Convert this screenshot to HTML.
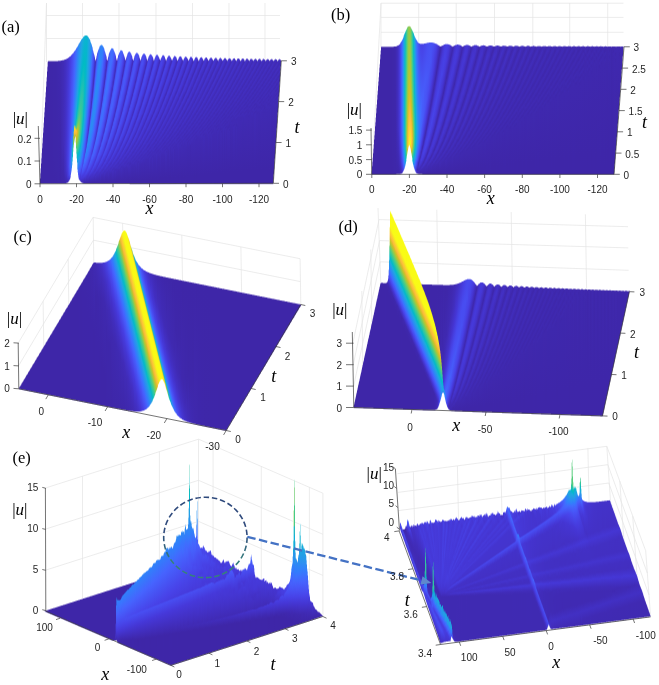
<!DOCTYPE html>
<html><head><meta charset="utf-8"><title>figure</title><style>html,body{margin:0;padding:0;background:#fff}
#f{position:relative;width:659px;height:685px;overflow:hidden;background:#fff}
#f svg{position:absolute;left:0;top:0}
.p{position:absolute;top:0;display:flex;align-items:flex-start}
.p i{flex:0 0 1px;width:1px;position:relative;display:block;background:linear-gradient(var(--g))}
text{font-family:"Liberation Sans",sans-serif;font-size:10px;fill:#262626}
.s{font-family:"Liberation Serif",serif;fill:#000}
.it{font-style:italic}
</style></head><body><div id="f">
<svg width="659" height="685" viewBox="0 0 659 685"><path d="M46.5 3.0L46.5 62.0M82.5 3.0L82.5 62.0M119.0 3.0L119.0 62.0M156.0 3.0L156.0 62.0M192.5 3.0L192.5 62.0M229.0 3.0L229.0 62.0M265.0 3.0L265.0 62.0M46.5 15.5L280.0 15.5M46.5 38.5L280.0 38.5M40.0 183.5L46.5 3.0M381.0 3.2L381.0 48.0M418.7 3.2L418.7 48.0M456.2 3.2L456.2 48.0M494.5 3.2L494.5 48.0M532.8 3.2L532.8 48.0M569.7 3.2L569.7 48.0M607.7 3.2L607.7 48.0M381.0 3.2L623.5 3.2M381.0 17.4L623.5 17.4M381.0 32.3L623.5 32.3M371.8 174.2L381.0 3.2M18.5 365.9L93.4 240.2M18.2 343.1L93.0 217.4M43.8 346.8L43.1 301.2M68.8 304.9L68.2 259.3M93.8 263.0L93.2 217.4M93.4 240.2L300.4 281.6M93.0 217.4L300.1 258.7M123.3 268.9L122.6 223.2M182.5 280.8L181.8 235.1M241.6 292.6L240.9 246.9M300.8 304.5L300.1 258.8M18.8 388.8L93.8 263.0M93.8 263.0L300.8 304.5M380.2 261.8L628.6 270.3M353.6 386.2L380.2 261.8M379.6 240.6L628.3 247.9M353.2 364.9L379.6 240.6M379.0 219.6L628.0 226.7M352.8 343.4L379.0 219.6M438.0 285.0L436.8 209.8M512.4 287.6L511.2 212.0M586.6 290.2L585.4 214.3M380.8 283.0L378.0 208.0M362.8 366.0L361.8 291.0M371.8 324.5L370.8 249.5M353.8 407.5L380.8 283.0M380.8 283.0L629.4 291.7M45.8 570.1L198.5 521.4M198.5 521.4L322.9 575.4M45.8 529.0L198.5 480.3M198.5 480.3L322.9 534.3M45.8 487.9L198.5 439.2M198.5 439.2L322.9 493.2M82.5 599.4L82.5 476.1M121.3 587.1L121.3 463.8M159.4 575.0L159.4 451.7M198.5 562.5L198.5 439.2M213.1 568.8L213.1 445.5M261.3 589.8L261.3 466.5M309.4 610.6L309.4 487.3M322.9 616.5L322.9 493.2M45.8 611.2L198.5 562.5M198.5 562.5L322.9 616.5M398.5 510.6L608.8 483.0M398.0 492.4L607.8 464.7M397.5 473.7L606.8 446.3M414.6 528.7L413.4 472.2M458.6 522.6L457.4 466.1M502.0 516.5L500.8 460.0M545.5 510.5L544.3 454.0M589.1 504.4L587.9 447.9M610.5 501.4L606.8 446.3M608.8 483.0L649.0 595.0M607.8 464.7L647.3 573.0M606.8 446.3L645.7 550.8M650.6 616.9L645.7 550.8M637.2 578.4L632.7 516.0M623.9 539.9L619.8 481.1M399.1 530.9L610.5 501.4M610.5 501.4L650.6 616.9" stroke="#e4e4e4" stroke-width="0.7" fill="none"/></svg>
<div class="p" style="left:40px"><i style="top:167px;height:17px;--g:#fff 0,#eae7f5 1px,#bfb7e2 2px,#bfb7e2 5px,#a99fd8 6px,#7e6ec5 7px,#7e6ec5 11px,#3e26a8 12px,#3e26a8 16px,#fff 17px"></i><i style="top:152px;height:32px;--g:#fff 0,#d4cfec 1px,#bfb7e2 2px,#bfb7e2 5px,#a99fd8 6px,#7e6ec5 7px,#7e6ec5 11px,#3e26a8 12px,#3e26a8 31px,#fff 32px"></i><i style="top:137px;height:47px;--g:#fff 0,#d4cfec 1px,#bfb7e2 2px,#bfb7e2 5px,#a99fd8 6px,#7e6ec5 7px,#7e6ec5 10px,#6956bb 11px,#3e26a8 12px,#3e26a8 17px,#3e26a8 46px,#fff 47px"></i><i style="top:122px;height:62px;--g:#fff 0,#d4cfec 1px,#bfb7e2 2px,#bfb7e2 5px,#9486cf 6px,#7e6ec5 7px,#7e6ec5 10px,#533eb2 11px,#3e26a8 12px,#3e26a8 13px,#3e26a8 61px,#fff 62px"></i><i style="top:107px;height:77px;--g:#fff 0,#bfb7e2 1px,#bfb7e2 4px,#a99fd8 5px,#7e6ec5 6px,#7e6ec5 9px,#6956bb 10px,#3e26a8 11px,#3e26a8 19px,#3e26a8 76px,#fff 77px"></i><i style="top:91px;height:93px;--g:#fff 0,#eae7f5 1px,#bfb7e2 2px,#bfb7e2 5px,#a99fd8 6px,#7e6ec5 7px,#7e6ec5 10px,#6956bb 11px,#3e26a8 12px,#3e26a8 28px,#3e26a8 92px,#fff 93px"></i><i style="top:76px;height:108px;--g:#fff 0,#eae7f5 1px,#bfb7e2 2px,#bfb7e2 5px,#7e6ec6 6px,#7e6ec5 10px,#533eb2 11px,#3e26a8 12px,#3e26a8 20px,#3e26a8 107px,#fff 108px"></i><i style="top:61px;height:123px;--g:#fff 0,#d4cfec 1px,#bfb7e2 2px,#bfb7e2 5px,#9486cf 6px,#7e6ec6 7px,#7e6ec6 10px,#3e26a9 11px,#3e26a9 14px,#3e26a8 122px,#fff 123px"></i><i style="top:60px;height:124px;--g:#fff 0,#bfb7e2 1px,#3e26a9 2px,#3e26a8 123px,#fff 124px"></i><i style="top:60px;height:124px;--g:#fff 0,#bfb7e2 1px,#3e26a9 2px,#3e26a8 123px,#fff 124px"></i><i style="top:60px;height:124px;--g:#fff 0,#bfb7e2 1px,#3e27a9 2px,#3e26a9 37px,#3e26a8 123px,#fff 124px"></i><i style="top:60px;height:124px;--g:#fff 0,#bfb7e2 1px,#3e27a9 2px,#3e26a9 55px,#3e26a8 123px,#fff 124px"></i><i style="top:60px;height:124px;--g:#fff 0,#bfb7e2 1px,#3e27a9 2px,#3e26a9 72px,#3e26a8 123px,#fff 124px"></i><i style="top:60px;height:124px;--g:#fff 0,#bfb7e3 1px,#3e27aa 2px,#3e27a9 86px,#3e26a8 123px,#fff 124px"></i><i style="top:60px;height:124px;--g:#fff 0,#bfb7e3 1px,#3e27aa 2px,#3e27a9 97px,#3e26a8 123px,#fff 124px"></i><i style="top:60px;height:124px;--g:#fff 0,#bfb7e3 1px,#3e27aa 2px,#3e27a9 105px,#3e26a8 123px,#fff 124px"></i><i style="top:60px;height:124px;--g:#fff 0,#bfb7e3 1px,#3e27ab 2px,#3e27a9 112px,#3e26a8 123px,#fff 124px"></i><i style="top:60px;height:124px;--g:#fff 0,#bfb7e3 1px,#3e28ac 2px,#3e27a9 118px,#3e26a8 123px,#fff 124px"></i><i style="top:60px;height:124px;--g:#fff 0,#7f70c8 1px,#3f28ad 2px,#3e27aa 121px,#3e26a8 123px,#fff 124px"></i><i style="top:60px;height:124px;--g:#fff 0,#7f70c9 1px,#3f28ae 2px,#3e26a9 123px,#fff 124px"></i><i style="top:60px;height:124px;--g:#fff 0,#6a59c1 1px,#3f29b0 2px,#3e26a9 123px,#fff 124px"></i><i style="top:60px;height:124px;--g:#fff 0,#3f2ab2 1px,#3f29b1 83px,#3e27a9 123px,#fff 124px"></i><i style="top:59px;height:125px;--g:#fff 0,#d5d0ef 1px,#402bb4 2px,#402bb4 90px,#3e27a9 124px,#fff 125px"></i><i style="top:59px;height:125px;--g:#fff 0,#bfb8e7 1px,#402bb7 2px,#412cba 80px,#3e27ab 123px,#3e27aa 124px,#fff 125px"></i><i style="top:59px;height:125px;--g:#fff 0,#6b5bca 1px,#412dbc 2px,#422ebf 91px,#402cb8 112px,#3e27aa 124px,#fff 125px"></i><i style="top:58px;height:126px;--g:#fff 0,#eae8f8 1px,#422ec0 2px,#4331c7 94px,#422ebe 116px,#3e28ac 125px,#fff 126px"></i><i style="top:58px;height:126px;--g:#fff 0,#968cdf 1px,#4331c5 2px,#4435d1 99px,#43c 113px,#3f2ab2 124px,#7f70ca 125px,#fff 126px"></i><i style="top:57px;height:127px;--g:#fff 0,#eae8f9 1px,#4433cb 2px,#463cde 106px,#4536d2 119px,#402bb5 125px,#d4d0ee 126px,#fff 127px"></i><i style="top:57px;height:126px;--g:#fff 0,#6e62dc 1px,#4435d2 2px,#4846eb 110px,#4740e3 118px,#4332c8 123px,#5746c8 124px,#c0b9e8 125px,#fff 126px"></i><i style="top:56px;height:126px;--g:#fff 0,#847ce7 1px,#4639da 2px,#4846ea 67px,#475af9 110px,#484ff2 118px,#4537d7 123px,#eae8f9 125px,#fff 126px"></i><i style="top:55px;height:125px;--g:#fff 0,#c2bff5 1px,#463ee1 2px,#4850f3 69px,#4562fc 93px,#3778fd 109px,#3e70ff 113px,#4755f6 119px,#7076f4 120px,#8585f2 121px,#8482f0 122px,#c1bff5 123px,#eaeafc 124px,#fff 125px"></i><i style="top:54px;height:120px;--g:#fff 0,#9998f3 1px,#4744e8 2px,#475ffc 73px,#357bfd 93px,#2796ec 103px,#2799ea 107px,#3081fa 113px,#488cfc 114px,#7ba3fe 115px,#7e9fff 116px,#aabdff 117px,#c1cafe 118px,#eaedff 119px,#fff 120px"></i><i style="top:53px;height:113px;--g:#fff 0,#8587f4 1px,#484bee 2px,#475cfb 47px,#3a74ff 75px,#2597ec 92px,#27a4da 94px,#31aec4 95px,#31aec4 96px,#1ab4c8 98px,#12bac2 101px,#06b6cc 102px,#08b5ce 103px,#26bcd6 104px,#5fcce2 105px,#6bc2ec 108px,#b5e0f6 109px,#b8dafa 111px,#d0e7fb 112px,#fff 113px"></i><i style="top:51px;height:102px;--g:#fff 0,#ebecfe 1px,#858cf8 2px,#4753f4 3px,#426aff 49px,#3080fb 68px,#2894ed 80px,#70a1b2 81px,#70a3b1 82px,#63a4aa 83px,#61a6a8 85px,#9eb169 86px,#9ab269 87px,#84b970 88px,#70bc7c 90px,#83c75e 91px,#82cb58 92px,#6fcb67 93px,#78d69c 94px,#8bdca9 95px,#83dcb1 96px,#ace8cb 97px,#bfedd9 98px,#b6ebe4 100px,#e7f8f6 101px,#fff 102px"></i><i style="top:50px;height:93px;--g:#fff 0,#c1c9fd 1px,#475bf9 2px,#4368fe 28px,#3678fd 46px,#3083f9 57px,#21a2e4 75px,#81be90 76px,#e0d43f 78px,#fad42e 79px,#fdc935 80px,#fbbc3a 83px,#cbc02e 86px,#b2c438 87px,#92c84e 88px,#b8db87 89px,#9edc9a 90px,#d3eec9 91px,#bdeddc 92px,#fff 93px"></i><i style="top:49px;height:95px;--g:#fff 0,#97aafe 1px,#4464fc 2px,#2e85f9 46px,#21a5e1 67px,#0cb4d0 74px,#0fb9c5 76px,#44c79a 77px,#65cc83 78px,#cfd543 80px,#fbd030 81px,#fdc337 83px,#e9c232 85px,#d5c034 86px,#bdc143 87px,#efd274 88px,#f7e8ba 89px,#f7e8ba 91px,#e0edbf 92px,#e0edbf 93px,#f5f9ea 94px,#fff 95px"></i><i style="top:47px;height:112px;--g:#fff 0,#a8c0ff 1px,#3e6efe 2px,#2c8bf4 38px,#1fa7e0 59px,#08b6cd 68px,#0bbbc0 71px,#1cc0b2 74px,#33c69d 77px,#55cc7b 80px,#96c84c 82px,#e5bf39 83px,#f9be3a 84px,#efba34 87px,#d2bf29 90px,#c1c32d 92px,#adc639 93px,#9dc944 95px,#8bca51 96px,#84cb56 98px,#61cb72 99px,#50cc80 100px,#50cc80 101px,#84dcb1 102px,#81dbb4 104px,#6ed7c7 105px,#6ad6ca 106px,#9ce3dc 107px,#b5eae5 108px,#afe5f1 111px,#fff 112px"></i><i style="top:45px;height:128px;--g:#fff 0,#e8f0ff 1px,#6198fd 2px,#347afc 3px,#22a3e4 48px,#04b9c9 63px,#25c3aa 71px,#41ca8e 76px,#63cc6f 79px,#9cc944 82px,#b5c533 83px,#c8c12b 84px,#dbbd2b 87px,#bcc32f 91px,#a5c83d 94px,#59cd77 100px,#24c2ac 107px,#14beb8 108px,#06b7ca 111px,#0eb2d4 113px,#22a1e5 117px,#6dbdf0 118px,#73b1f8 120px,#79a5fd 124px,#bcd2fe 125px,#c1cbfe 127px,#fff 128px"></i><i style="top:43px;height:137px;--g:#fff 0,#d0e5fd 1px,#74aefa 2px,#2e85f8 3px,#22a3e4 38px,#05b8cc 55px,#10bdbc 61px,#41ca90 73px,#5ccd75 77px,#95ca49 83px,#a8c73c 87px,#9cc944 92px,#79cc5e 95px,#41ca8d 102px,#24c2ae 107px,#07bbc1 110px,#07b6cd 112px,#13afd8 114px,#14aed9 116px,#2599e9 117px,#2a93ed 118px,#2a93ee 120px,#3081fb 123px,#4465fe 128px,#4758f7 131px,#5c66f5 132px,#858af7 133px,#8585f2 134px,#c2c1f7 135px,#d6d4f8 136px,#fff 137px"></i><i style="top:42px;height:139px;--g:#fff 0,#89c1f7 1px,#2b8ff0 2px,#1ea8e1 31px,#02b9c8 49px,#36c89a 67px,#71cc64 81px,#6dcc68 82px,#78cc60 85px,#71cc65 86px,#76cc61 89px,#60cc72 92px,#4dcb83 97px,#3fca8f 98px,#29c4a6 102px,#04b9ca 109px,#269de9 117px,#3775ff 124px,#485cfa 129px,#4746eb 133px,#4740e4 136px,#463bdb 137px,#9890e8 138px,#fff 139px"></i><i style="top:40px;height:143px;--g:#fff 0,#b7ddf7 1px,#3fa4ec 2px,#2699e9 3px,#1fa7e1 21px,#03b8ca 41px,#06bbc2 45px,#29c3aa 58px,#47cb86 75px,#51cb7f 83px,#4acb85 85px,#4dcb83 88px,#41c98e 90px,#3ac897 94px,#13beba 103px,#06b8c8 106px,#19acdc 110px,#2c8ef2 119px,#3a73fd 124px,#416afd 125px,#484ef2 131px,#463cdd 135px,#4434cf 140px,#6d60d5 141px,#eae8f8 142px,#fff 143px"></i><i style="top:38px;height:145px;--g:#fff 0,#ceebf9 1px,#3aabe7 2px,#22a1e5 3px,#18acdc 18px,#00b9c7 36px,#2cc4a6 58px,#39c895 77px,#30c5a1 87px,#23c2ad 93px,#12bdba 96px,#0abac3 100px,#06b7cc 102px,#15adda 105px,#23a1e4 111px,#3083f9 118px,#3e6eff 123px,#4855f7 129px,#4744e7 132px,#4745e9 136px,#4535d3 141px,#422fc0 143px,#5644c3 144px,#fff 145px"></i><i style="top:37px;height:147px;--g:#fff 0,#b4e2f5 1px,#1da8e0 2px,#00bac6 31px,#26c2ac 55px,#2cc4a6 65px,#25c2ac 79px,#10bdbc 87px,#0dbbbf 90px,#05bac9 92px,#259ee8 106px,#2e87f6 112px,#3b72fd 119px,#4269fe 120px,#4846eb 128px,#4657f6 132px,#484ff3 135px,#463adb 139px,#4538d7 141px,#402bb5 145px,#9488d4 146px,#fff 147px"></i><i style="top:36px;height:148px;--g:#fff 0,#63c9e6 1px,#16aeda 2px,#00bac5 27px,#18bfb6 47px,#1dc0b2 61px,#17bfb6 62px,#14beb8 70px,#08bbc2 77px,#08b9c5 81px,#04b8c9 82px,#1da7e0 94px,#2a92ef 103px,#347bfc 110px,#416bfd 115px,#465dfa 117px,#4749ec 124px,#4359f2 128px,#4366fd 129px,#484ef3 135px,#463bdd 139px,#463adb 141px,#3f2ab2 146px,#5440b6 147px,#fff 148px"></i><i style="top:35px;height:149px;--g:#fff 0,#79d4e8 1px,#0eb1d5 2px,#02bbc3 27px,#0bbdbd 53px,#04b8ca 68px,#12b0d8 78px,#1aabdd 81px,#2699ea 92px,#3776fe 105px,#475dfa 112px,#4745e8 120px,#4252ec 121px,#4153ec 122px,#3c71fd 125px,#406eff 127px,#4856f8 133px,#463ee1 138px,#463cdf 141px,#422dbc 145px,#3e27ab 148px,#fff 149px"></i><i style="top:35px;height:149px;--g:#fff 0,#0ab4d2 1px,#02b9c6 30px,#07b7cd 53px,#289bea 81px,#3479fd 95px,#416afe 100px,#465bf9 105px,#4843e7 113px,#463cdd 115px,#424be4 116px,#3f4fe2 117px,#3b63f0 118px,#317dfb 120px,#3e71ff 125px,#4953f6 132px,#463fe1 136px,#4740e5 139px,#3e27aa 148px,#fff 149px"></i><i style="top:35px;height:149px;--g:#fff 0,#09b4d1 1px,#06b6cd 20px,#10b1d6 43px,#259fe6 65px,#327efb 84px,#4367fe 92px,#4851f4 100px,#4539d7 109px,#4443df 110px,#3d4dda 111px,#3c53e0 112px,#3083fb 115px,#307ffa 119px,#3f6fff 123px,#4856f8 129px,#4640e3 134px,#4744e8 138px,#4535d1 141px,#3e27a9 148px,#fff 149px"></i><i style="top:35px;height:149px;--g:#fff 0,#93ddec 1px,#0eb1d5 2px,#0cb2d3 5px,#17aedb 29px,#249fe6 50px,#2d88f6 67px,#416aff 81px,#4947ec 95px,#4436d1 102px,#4436d0 103px,#4447e2 104px,#3d4ad7 105px,#356eec 108px,#3180f9 109px,#2f84f8 110px,#2e83f9 115px,#3f6eff 121px,#4953f6 127px,#463ee1 132px,#484aee 135px,#4747eb 136px,#4432cb 141px,#4331c7 143px,#3e27a9 148px,#fff 149px"></i><i style="top:36px;height:148px;--g:#fff 0,#cbedf7 1px,#31b6df 2px,#18addc 3px,#269be9 39px,#3084f8 56px,#317ffb 58px,#416aff 69px,#494bef 83px,#453bdb 90px,#4331c6 94px,#4538d3 95px,#4246dc 97px,#3578f9 101px,#2e87f6 103px,#2c87f7 109px,#416bff 118px,#4853f5 123px,#463ee1 128px,#484ff2 131px,#484df0 132px,#4741e5 135px,#4435d0 138px,#4433ca 141px,#3e26a9 147px,#fff 148px"></i><i style="top:38px;height:146px;--g:#fff 0,#82ceee 1px,#20a4e3 2px,#2b8ff2 33px,#4068ff 57px,#4562fc 59px,#484ef1 70px,#4744e7 73px,#473fe2 77px,#4435cf 80px,#4433cb 82px,#433acf 86px,#4440d9 87px,#3874fa 92px,#337efa 93px,#2d8bf3 97px,#2e84f9 105px,#426aff 112px,#4851f4 119px,#463bdd 123px,#4751f1 126px,#4851f5 128px,#4537d7 134px,#4537d4 137px,#4230c5 139px,#3e26a9 145px,#fff 146px"></i><i style="top:39px;height:145px;--g:#fff 0,#e7f4fc 1px,#86c7f3 3px,#2797ea 4px,#2f82fa 27px,#4565ff 45px,#483ee3 65px,#4230c5 73px,#4436ce 76px,#4548e3 79px,#4065fa 82px,#3180fb 86px,#2d8cf3 90px,#2d87f7 98px,#3f6cff 107px,#485bfa 111px,#4740e3 119px,#475af8 123px,#4846eb 128px,#4536d3 132px,#463bdd 134px,#4330c6 137px,#422fc1 139px,#3e26a9 144px,#fff 145px"></i><i style="top:43px;height:141px;--g:#fff 0,#a1ccf9 1px,#5ca4f6 2px,#2e87f6 3px,#3c72ff 20px,#4954f7 38px,#463ee1 50px,#4537d5 53px,#4435cf 57px,#422fc2 59px,#4332c8 62px,#4438d2 63px,#4437ce 64px,#464bea 67px,#3f6afc 71px,#317ffb 75px,#2d8bf3 80px,#2d8af5 87px,#347afd 94px,#4369fe 99px,#4759f9 104px,#473cdf 111px,#465cf9 115px,#465cfa 116px,#484bf0 121px,#4537d6 126px,#473fe2 128px,#4331c9 132px,#4230c3 134px,#3e26a8 140px,#fff 141px"></i><i style="top:46px;height:138px;--g:#fff 0,#7aa4fe 2px,#7da1fe 3px,#537ffe 4px,#3e6efe 5px,#4948ee 30px,#4333cc 43px,#422fc0 46px,#43c 51px,#455efb 58px,#2f85f9 66px,#2c8cf2 77px,#317ffc 84px,#4564fe 93px,#4846ec 102px,#4538d6 105px,#4562fc 109px,#485bfb 112px,#4637d9 121px,#4741e5 123px,#473fe2 124px,#4332ca 128px,#4331c6 130px,#3e26a8 137px,#fff 138px"></i><i style="top:50px;height:134px;--g:#fff 0,#8492fb 3px,#4758f7 4px,#463bdd 22px,#422fc1 30px,#422ec0 34px,#453fdb 40px,#4750f1 43px,#4266fc 47px,#327efc 53px,#2e88f5 57px,#2b8cf4 67px,#3b71ff 80px,#485cfa 86px,#4751f4 90px,#4638d8 97px,#4462fb 101px,#465ffc 105px,#4849ee 110px,#4537d6 115px,#4745e8 117px,#4743e6 118px,#4434cf 122px,#4433cd 124px,#3e26a8 133px,#fff 134px"></i><i style="top:54px;height:130px;--g:#fff 0,#c2c2f9 1px,#463cde 4px,#412dbc 17px,#4332c9 22px,#474ef0 29px,#4560fb 33px,#357afd 40px,#2d88f6 46px,#2d8bf3 55px,#3082fb 63px,#485dfc 77px,#4742e7 85px,#4537d4 89px,#4465fc 93px,#4561fc 98px,#4852f5 102px,#4638d8 108px,#4747eb 111px,#4745e9 112px,#4432cb 117px,#4536d2 119px,#422fc0 122px,#3e26a8 129px,#fff 130px"></i><i style="top:59px;height:125px;--g:#fff 0,#968bdc 1px,#5745c6 2px,#422ec0 3px,#4335cc 7px,#4743e5 11px,#4463fe 19px,#2f84fa 31px,#2c8cf3 40px,#3081fc 52px,#485dfc 66px,#4742e7 75px,#4434cf 79px,#4438d1 80px,#4367fd 84px,#4563fd 89px,#484cf1 96px,#453ada 100px,#4539d7 101px,#4749eb 103px,#4848ed 105px,#4432cc 111px,#4537d5 113px,#412ebe 116px,#4230c3 117px,#3e26a8 124px,#fff 125px"></i><i style="top:55px;height:129px;--g:#fff 0,#c2c1f8 1px,#9997f2 2px,#8483f0 3px,#4642e3 4px,#4268ff 15px,#2d85f9 28px,#2c8bf4 38px,#327efc 50px,#485dfc 64px,#4746ea 72px,#4435ce 78px,#4437d0 79px,#4353e8 82px,#4464fd 83px,#416bfe 85px,#4466fd 89px,#484ff3 96px,#4539d8 102px,#484df0 105px,#484cef 106px,#4536d3 112px,#4435cf 113px,#4639da 115px,#4230c4 118px,#4230c3 120px,#3e26a8 128px,#fff 129px"></i><i style="top:51px;height:133px;--g:#fff 0,#4756f6 3px,#4268fe 10px,#3180fa 20px,#2c8af5 36px,#347bfd 48px,#475efc 61px,#4745e9 70px,#4432cc 77px,#4351e6 81px,#4463fb 82px,#406efe 85px,#475dfc 93px,#4638db 103px,#484ff1 106px,#484ff2 107px,#4847eb 110px,#4433cf 115px,#463cde 117px,#4330c7 121px,#4230c5 123px,#3e26a8 132px,#fff 133px"></i><i style="top:48px;height:136px;--g:#fff 0,#d5deff 1px,#819bfe 2px,#4268fd 3px,#3579fd 11px,#2d89f6 23px,#2f82fa 39px,#3f6dff 50px,#4856f7 60px,#4743e7 67px,#4331c8 75px,#443fd6 77px,#4462fb 80px,#3f70ff 84px,#4856f8 95px,#4537d5 103px,#453cd9 104px,#4851f3 106px,#4852f4 107px,#4847ec 111px,#4434cf 116px,#473fe3 118px,#4333cb 122px,#4332ca 124px,#3e26a8 135px,#fff 136px"></i><i style="top:45px;height:139px;--g:#fff 0,#e8f0ff 1px,#8fb5fe 2px,#3778fd 4px,#357afc 5px,#2d88f6 21px,#337efd 36px,#4a57f9 56px,#4641e5 64px,#4330c7 72px,#443cd3 74px,#455df9 77px,#3f6fff 81px,#4367fe 88px,#4851f4 95px,#4745ea 99px,#4435d0 103px,#453ad6 104px,#4751f0 106px,#4854f6 108px,#4846eb 112px,#4434cf 117px,#4741e6 119px,#4432cb 124px,#4435cf 126px,#422ebf 129px,#3e26a8 138px,#fff 139px"></i><i style="top:44px;height:140px;--g:#fff 0,#e8f1fe 1px,#488efa 2px,#3080fa 3px,#2d86f9 21px,#4563ff 44px,#4841e6 58px,#422dc1 67px,#4657f4 72px,#4367fe 74px,#3f6efe 77px,#406dff 82px,#4856f8 91px,#4637d9 100px,#453cd6 102px,#4753f5 104px,#4756f6 105px,#4847ec 111px,#4436d2 115px,#4437d3 116px,#4742e6 118px,#4741e5 119px,#4332ca 124px,#4536d3 126px,#422ebf 129px,#4230c3 130px,#3e26a8 139px,#fff 140px"></i><i style="top:44px;height:140px;--g:#fff 0,#8bbbfb 1px,#2f84f9 2px,#337cfd 20px,#485efd 38px,#463cdf 53px,#4230c4 59px,#4336cd 62px,#464eec 65px,#4562fc 67px,#3d71ff 73px,#4466fd 81px,#494ff4 89px,#4433d0 97px,#4751f0 100px,#4758f9 103px,#4742e6 110px,#4434cf 113px,#4745e9 116px,#463de0 119px,#4332c9 122px,#4538d6 124px,#4230c4 127px,#4230c5 129px,#412cb9 131px,#3e26a8 139px,#fff 140px"></i><i style="top:44px;height:140px;--g:#fff 0,#e8f1fe 1px,#5e9dfb 2px,#3081fa 3px,#3876fe 15px,#426afe 22px,#4857f8 33px,#463bdd 46px,#422ec0 52px,#4438d1 56px,#465cfa 60px,#3d71ff 67px,#4269fe 75px,#4854f6 83px,#473ee1 90px,#4333c9 94px,#4654f1 97px,#475afa 99px,#4844e9 107px,#4436d1 111px,#4747ec 114px,#473ee2 117px,#4433cb 120px,#4332c9 121px,#4539d8 123px,#422fc2 126px,#4331c5 128px,#402bb6 132px,#3e26a8 139px,#fff 140px"></i><i style="top:46px;height:138px;--g:#fff 0,#4c87fd 2px,#3974fd 3px,#4950f5 26px,#4433d0 40px,#412dbb 43px,#4231c5 45px,#4438d2 47px,#4758f8 51px,#3e71ff 59px,#3f6efe 65px,#475dfa 73px,#4846ec 81px,#4432cc 87px,#4759f8 92px,#475bfa 94px,#4847ec 101px,#4437d4 106px,#4539d5 107px,#4748ec 109px,#4747eb 110px,#4431ca 117px,#463adb 119px,#422fc2 123px,#4332c9 125px,#412ebd 127px,#3e26a8 137px,#fff 138px"></i><i style="top:48px;height:136px;--g:#fff 0,#bfceff 1px,#abbcfe 2px,#6d87fd 3px,#4463fc 4px,#4849ed 19px,#463cdd 25px,#412dbe 34px,#4231c4 36px,#4645e3 40px,#4857f7 42px,#3e70ff 50px,#3f70ff 57px,#4950f5 71px,#4432cf 81px,#443bd2 83px,#475afa 86px,#475af9 90px,#4743e9 97px,#4434ce 102px,#4747e9 104px,#4749ed 106px,#463ddf 110px,#4330c5 113px,#463cde 115px,#4331c6 119px,#4333cc 121px,#412dbd 124px,#422fc1 125px,#3e26a8 135px,#fff 136px"></i><i style="top:51px;height:133px;--g:#fff 0,#ebecfe 1px,#adb4fb 2px,#858df8 3px,#4850f2 4px,#4744e8 10px,#463dde 12px,#4538d6 17px,#4331c5 19px,#422fc0 24px,#4230c2 26px,#4439d1 27px,#4439d0 28px,#4644e2 29px,#4759f9 33px,#3f6efe 40px,#3f70ff 48px,#4856f7 61px,#463ee2 69px,#4230c4 74px,#453ed8 76px,#4758f6 78px,#465efb 82px,#4848ed 90px,#4432cc 96px,#484bef 99px,#484aee 100px,#4743e8 103px,#4333cb 108px,#463ddf 111px,#4330c6 115px,#4435d0 117px,#422ebe 120px,#422fc2 121px,#402ab4 125px,#3e26a8 132px,#fff 133px"></i><i style="top:55px;height:129px;--g:#fff 0,#c2c0f7 1px,#9893ec 2px,#837be6 3px,#837ae4 4px,#4435cf 5px,#412dbb 11px,#4435cd 15px,#474aec 19px,#4754f5 21px,#4269fe 27px,#3c73ff 34px,#475bfa 50px,#4742e7 58px,#4330c6 66px,#464be6 69px,#4759f8 70px,#465ffc 74px,#4845ea 84px,#4331c9 89px,#484bee 92px,#484cf0 94px,#463de0 99px,#4331c7 102px,#4740e5 104px,#4332c9 109px,#4536d3 111px,#4230c4 114px,#4230c3 116px,#412cba 118px,#3e26a8 128px,#fff 129px"></i><i style="top:58px;height:126px;--g:#fff 0,#aca5ea 2px,#4333c8 3px,#4856f9 11px,#4269fd 17px,#3d71fe 26px,#4368fe 34px,#484df2 46px,#4535d4 55px,#4230c4 57px,#4230c3 58px,#4547e1 61px,#4756f6 62px,#4660fb 66px,#4852f5 73px,#4536d5 82px,#453bd6 84px,#484cee 86px,#484ef1 88px,#473ee2 93px,#4332ca 97px,#4741e6 99px,#4331c8 105px,#4537d6 107px,#4230c3 110px,#4331c6 112px,#412dbb 114px,#3e26a8 125px,#fff 126px"></i><i style="top:53px;height:131px;--g:#fff 0,#ebebfd 1px,#c2c2f9 2px,#adaef7 3px,#7072f0 4px,#4749eb 5px,#426aff 15px,#3d71fe 26px,#475efb 38px,#484bef 46px,#4538d7 54px,#422ec0 57px,#453dd7 60px,#4753f3 62px,#465dfa 64px,#465ffb 69px,#484aef 77px,#4431cb 85px,#484ff2 88px,#484ff2 90px,#463ee1 96px,#4434ce 99px,#4436d0 100px,#4843e9 102px,#4331c9 108px,#4538d8 110px,#422fc0 114px,#4332c9 115px,#412dbc 118px,#422ebf 119px,#3e26a8 130px,#fff 131px"></i><i style="top:51px;height:133px;--g:#fff 0,#c2c8fd 1px,#707bf8 2px,#4757f6 3px,#406bfe 11px,#3f71ff 22px,#494ff3 41px,#463ddf 48px,#422ec0 54px,#4547e3 58px,#4751f2 59px,#465ffb 62px,#465cfa 69px,#484aee 75px,#463ddf 80px,#4331c7 83px,#443bd4 85px,#484ff1 87px,#4850f4 89px,#463cde 96px,#4332ca 99px,#4744e9 102px,#4332c7 109px,#4538d7 110px,#4539d8 111px,#4230c3 114px,#4332c9 116px,#402cb8 122px,#3e26a8 132px,#fff 133px"></i><i style="top:49px;height:135px;--g:#fff 0,#5876fd 2px,#4366fd 3px,#3f70ff 18px,#4953f6 35px,#463fe3 43px,#4536d3 46px,#422fc2 51px,#453ed9 54px,#4752f4 56px,#465efa 59px,#465ffb 65px,#484bf0 73px,#4432cc 82px,#4541de 84px,#484df0 85px,#4853f4 87px,#4849ee 91px,#4432cc 99px,#4845eb 102px,#4330c8 109px,#463bdd 111px,#422ec1 115px,#43c 117px,#412dbc 120px,#422fc2 121px,#402bb4 125px,#3e26a8 134px,#fff 135px"></i><i style="top:47px;height:137px;--g:#fff 0,#eaefff 1px,#557dfe 2px,#406dfe 3px,#406eff 14px,#4950f3 32px,#463ee0 40px,#4537d5 41px,#4230c3 47px,#4333c9 49px,#4854f6 53px,#465efa 56px,#4661fd 61px,#4849ed 72px,#463fe2 75px,#4331c6 80px,#4334cb 81px,#4850f2 84px,#4852f4 87px,#4745ea 92px,#4331c8 98px,#4745e9 101px,#4744e8 102px,#4331c8 109px,#463bdd 111px,#422fc1 116px,#4434cd 118px,#412ebd 121px,#4330c4 122px,#402bb6 126px,#3e26a8 136px,#fff 137px"></i><i style="top:47px;height:137px;--g:#fff 0,#eaefff 1px,#3f6efe 2px,#4465fe 13px,#484df1 26px,#463ee1 33px,#4537d4 35px,#4230c2 42px,#4232c6 43px,#4850f3 47px,#465ffb 51px,#4661fc 57px,#484ef1 66px,#463bdd 72px,#4332c8 76px,#4438cf 78px,#474ff1 80px,#4854f5 83px,#4743e8 90px,#4330c8 95px,#4745e9 98px,#4746e9 99px,#473fe3 102px,#4331c7 107px,#463ddf 109px,#4331c6 114px,#4536d3 116px,#422fc0 119px,#4330c4 121px,#402cb8 123px,#422ebe 124px,#3e26a8 136px,#fff 137px"></i><i style="top:48px;height:136px;--g:#fff 0,#4468ff 3px,#484cf0 19px,#463cdd 26px,#422dbe 34px,#4332c7 36px,#484ef0 40px,#4660fc 45px,#4562fd 49px,#4854f5 58px,#4743e8 64px,#4331c6 71px,#4332c7 72px,#474ef0 75px,#4855f6 79px,#4742e7 86px,#4332c8 91px,#4333c9 92px,#4745e9 94px,#4747eb 95px,#473ee2 99px,#4331c6 104px,#463ee1 106px,#4331c6 111px,#4331c8 112px,#4536d4 113px,#412fc0 117px,#4331c8 118px,#412cb8 121px,#422ebe 122px,#3e26a9 134px,#3e26a8 135px,#fff 136px"></i><i style="top:50px;height:134px;--g:#fff 0,#eaedfe 1px,#98a4fc 2px,#5b6cf9 3px,#4758f7 4px,#463bde 18px,#4435d1 20px,#412dbc 26px,#4232c6 28px,#4640de 30px,#4751f3 33px,#465bf9 35px,#4564fe 42px,#484bef 55px,#4639da 61px,#4231c5 65px,#4338ce 67px,#474ef0 69px,#4756f6 73px,#484aef 78px,#4333cd 86px,#4334cc 87px,#4848ec 90px,#4748ec 91px,#473ee1 95px,#4332c8 99px,#4333ca 100px,#473fe3 102px,#4330c5 108px,#4538d7 110px,#422fc2 113px,#4332c8 115px,#412ebd 118px,#3e26a9 132px,#3e26a8 133px,#fff 134px"></i><i style="top:53px;height:131px;--g:#fff 0,#c2c4fa 1px,#999bf6 2px,#5c59eb 3px,#4741e4 4px,#463cdd 8px,#43c 11px,#422fc1 15px,#422fc1 18px,#4746e8 22px,#4852f4 24px,#4660fb 29px,#4562fc 35px,#4853f5 44px,#4742e6 50px,#463ada 54px,#4433cd 55px,#422ec0 58px,#474def 62px,#4757f8 66px,#4844e9 74px,#4432ca 80px,#4333ca 81px,#4745e7 83px,#484bef 85px,#4740e4 89px,#4330c7 94px,#4740e4 97px,#4330c6 103px,#4538d8 105px,#4230c3 109px,#4433cb 111px,#422ebe 113px,#422fc1 115px,#402bb7 117px,#412dbb 118px,#3e26a8 129px,#3e26a8 130px,#fff 131px"></i><i style="top:57px;height:127px;--g:#fff 0,#eae9fa 1px,#aca5e9 2px,#8276da 3px,#422ebf 4px,#412ebe 6px,#4331c6 8px,#4849ec 12px,#465cfa 17px,#4563fd 24px,#4855f6 34px,#4743e8 41px,#4330c6 49px,#4334c9 51px,#484ff2 54px,#4758f9 57px,#4741e6 68px,#4331c7 73px,#4333c9 74px,#484aee 77px,#484aee 78px,#4745ea 81px,#4330c7 88px,#4741e6 91px,#4330c6 97px,#4639da 100px,#412ebe 104px,#4433cb 105px,#4333cc 106px,#422ebf 108px,#4230c3 110px,#412cba 112px,#3e26a8 125px,#3e26a8 126px,#fff 127px"></i><i style="top:57px;height:127px;--g:#fff 0,#847ee9 2px,#6f68e4 3px,#4641e1 4px,#4853f5 8px,#4563fd 14px,#4759f8 27px,#4848ee 34px,#422dc1 45px,#453fda 48px,#474aec 49px,#4758f8 52px,#484df1 60px,#4331c7 70px,#4334ca 71px,#4747ea 73px,#484cef 75px,#4744e9 79px,#4331c7 85px,#4333c9 86px,#4741e5 88px,#4740e4 89px,#4330c6 95px,#463adb 98px,#422ec0 102px,#4230c2 103px,#4434cf 104px,#412ebe 107px,#4230c3 109px,#402bb6 114px,#3e26a8 125px,#3e26a8 126px,#fff 127px"></i><i style="top:53px;height:131px;--g:#fff 0,#d6d7fb 1px,#999af4 2px,#4749ec 3px,#475af9 8px,#4563fc 13px,#475cfb 24px,#473bdf 38px,#422ebf 44px,#4436cf 46px,#484ff1 49px,#4757f7 52px,#4856f7 56px,#4742e7 64px,#422ec2 71px,#4849ec 74px,#484df0 76px,#4742e7 81px,#4330c5 87px,#463fe1 89px,#4742e6 90px,#463cde 93px,#4331c6 97px,#4331c6 98px,#463bdd 100px,#422ebf 105px,#4435d0 107px,#412dbc 110px,#4230c4 112px,#412dbb 114px,#422ebf 115px,#402bb6 117px,#3e26a8 129px,#3e26a8 130px,#fff 131px"></i><i style="top:51px;height:133px;--g:#fff 0,#d6dafe 1px,#707cf8 2px,#4757f7 3px,#4564fd 13px,#4850f3 26px,#463cdf 34px,#422ec1 41px,#4335ca 43px,#484bef 46px,#4759f8 49px,#484ef2 58px,#4638d8 66px,#422dc0 69px,#4849ec 73px,#484ef1 75px,#4740e4 81px,#4230c4 86px,#4334ca 87px,#4743e6 89px,#4743e7 90px,#4331c7 97px,#4231c5 98px,#463cdf 100px,#422fc2 105px,#4230c4 106px,#4535d2 107px,#422ec0 110px,#4331c5 112px,#412dba 115px,#422fc0 116px,#402bb4 120px,#3e26a8 131px,#3e26a8 132px,#fff 133px"></i><i style="top:49px;height:135px;--g:#fff 0,#eaedff 1px,#6f83fc 2px,#4560fb 3px,#4562fd 10px,#4851f3 22px,#4742e6 28px,#4433ce 35px,#412ebd 38px,#4333c9 40px,#474df0 43px,#475af9 50px,#4846eb 59px,#4331c6 67px,#4332c7 68px,#4748eb 71px,#484ff3 74px,#473fe3 80px,#4332ca 85px,#4439d3 87px,#4743e6 88px,#4844ea 90px,#4330c5 97px,#463ddf 100px,#4230c4 105px,#4536d3 108px,#422fc1 111px,#4332c9 113px,#412dbb 116px,#422fc1 117px,#412cb9 119px,#3e26a8 133px,#3e26a8 134px,#fff 135px"></i><i style="top:49px;height:135px;--g:#fff 0,#eaeeff 1px,#4562fc 2px,#4853f5 15px,#4845ea 21px,#4434d0 29px,#412dbb 32px,#422fc2 34px,#474bee 38px,#475afa 44px,#4850f2 51px,#4742e8 56px,#422ec1 64px,#484bee 68px,#484ef1 71px,#4845eb 75px,#432fc5 83px,#4745e9 86px,#4745e8 87px,#463bdd 91px,#422fc3 95px,#473ee2 98px,#4330c4 103px,#4537d5 106px,#422fc1 110px,#4333cb 112px,#412ebd 114px,#422fc2 116px,#402bb6 118px,#412dbb 119px,#3e26a8 133px,#3e26a8 134px,#fff 135px"></i><i style="top:50px;height:134px;--g:#fff 0,#c1c9fe 1px,#5b6efa 2px,#4759f8 3px,#4846eb 14px,#4537d5 21px,#412ab9 26px,#484bee 32px,#475bfa 39px,#4845eb 50px,#422fc4 59px,#443ad2 61px,#484bef 63px,#484ff2 66px,#4743e8 72px,#422ec3 79px,#4745e8 82px,#4745e9 83px,#4740e5 86px,#422fc3 92px,#463cdc 94px,#463ee0 95px,#422fc1 101px,#4435d1 102px,#4538d7 103px,#422fc2 107px,#43c 109px,#422ebf 112px,#4230c2 114px,#412dba 116px,#3e26a8 132px,#3e26a8 133px,#fff 134px"></i><i style="top:52px;height:132px;--g:#fff 0,#ebecfe 1px,#999df8 2px,#5c60f1 3px,#484aee 4px,#4537d7 13px,#4332c7 15px,#412ebe 19px,#4438d2 22px,#4745e8 24px,#4753f4 26px,#4759f8 34px,#484ef1 40px,#463de0 47px,#422cbd 53px,#4849ec 57px,#4850f3 61px,#4740e4 68px,#4330c5 73px,#4334cc 75px,#4745e8 77px,#4746ea 79px,#463de0 83px,#4230c3 87px,#4331c7 88px,#473ee0 90px,#463ee1 91px,#422fc2 97px,#4539d9 99px,#422fc2 104px,#4434cf 106px,#412dbc 109px,#4330c5 110px,#402bb7 116px,#3e26a8 130px,#3e26a8 131px,#fff 132px"></i><i style="top:55px;height:129px;--g:#fff 0,#d6d5f9 1px,#5a51df 3px,#4538d6 4px,#4433cd 5px,#412cbc 11px,#484df2 17px,#4759f8 22px,#4759f8 26px,#4846ec 36px,#422cbf 46px,#4749ea 50px,#4851f3 54px,#4846ec 59px,#432fc5 68px,#4745e7 71px,#4747ec 73px,#4539d9 79px,#422ec0 82px,#4740e3 85px,#463adb 88px,#422fc2 92px,#463adb 94px,#4230c3 99px,#4434cf 101px,#412ebe 104px,#4330c4 106px,#412cba 109px,#422fc0 110px,#402ab4 114px,#3e26a8 127px,#3e26a8 128px,#fff 129px"></i><i style="top:58px;height:126px;--g:#fff 0,#eae8f8 1px,#8176da 2px,#4231c3 3px,#4745e9 7px,#4755f6 11px,#475af9 16px,#484cf0 26px,#4538d8 34px,#422ebe 38px,#4333c9 40px,#4749ed 43px,#4852f4 46px,#4743e8 54px,#422dc1 62px,#4746e8 65px,#4748ec 67px,#473ee3 71px,#422fc3 77px,#473fe2 79px,#4740e3 80px,#463de0 82px,#422fc1 87px,#4639d9 89px,#463ad9 90px,#412dbd 95px,#43c 96px,#4434cf 97px,#412dbd 100px,#4331c7 102px,#412cba 105px,#422fc1 106px,#402bb6 110px,#3e26a8 124px,#3e26a8 125px,#fff 126px"></i><i style="top:55px;height:129px;--g:#fff 0,#ebeafc 1px,#706ceb 3px,#4743e4 4px,#484df0 6px,#475af9 11px,#4851f3 22px,#473fe4 29px,#422ec1 37px,#4233c7 39px,#4745e8 41px,#484aed 42px,#4852f4 47px,#463de0 56px,#422dbf 61px,#4747ea 65px,#4749ec 67px,#473fe3 71px,#4230c4 77px,#4332c7 78px,#4741e4 80px,#4741e4 81px,#463adb 84px,#422ec0 88px,#463ada 90px,#463bdb 91px,#4536d4 93px,#412dbc 96px,#4535d2 98px,#412ebd 102px,#4331c8 104px,#412dbc 106px,#422ec0 108px,#402bb5 113px,#3e26a8 127px,#3e26a8 128px,#fff 129px"></i><i style="top:52px;height:132px;--g:#fff 0,#ebebfe 1px,#999df7 2px,#4850f2 4px,#475cfa 11px,#484bef 23px,#4535d3 32px,#412dbc 35px,#4230c4 37px,#4747ea 40px,#4853f5 45px,#4845ea 52px,#422fc0 61px,#4333c7 62px,#4744e7 64px,#474aed 67px,#4742e8 70px,#422ec2 78px,#463fe0 80px,#4741e5 81px,#463cdf 84px,#422ec0 89px,#463bdb 91px,#463bdb 92px,#4537d6 94px,#412ebd 97px,#422fc1 98px,#4435d0 99px,#4535d1 100px,#422ebf 103px,#4333cb 105px,#412dbd 108px,#422fc1 110px,#402bb6 112px,#422ebd 113px,#402ab3 117px,#3e26a8 129px,#3e26a8 131px,#fff 132px"></i><i style="top:51px;height:133px;--g:#fff 0,#c2c7fc 1px,#4756f6 2px,#4758f8 11px,#4849ee 19px,#4639da 26px,#412dbd 32px,#4333cb 34px,#484aed 37px,#4853f5 42px,#4741e6 51px,#422ec1 58px,#4335cc 60px,#4847eb 62px,#4749ed 65px,#4741e5 69px,#422ec1 76px,#4741e5 79px,#4742e5 80px,#4639d9 84px,#422ebf 88px,#463bdd 90px,#463cdc 91px,#4435d2 94px,#422fc0 96px,#422fc0 97px,#4537d5 99px,#422ebf 103px,#4434cd 105px,#422ebf 107px,#4230c2 110px,#402cb8 112px,#422dbe 113px,#3d26a7 130px,#3e26a8 132px,#fff 133px"></i><i style="top:51px;height:134px;--g:#fff 0,#707efa 1px,#4759f8 2px,#484ef1 12px,#473fe4 18px,#422ebe 28px,#4230c2 29px,#4747ea 32px,#4854f5 37px,#4849ed 44px,#4639db 50px,#422fbf 55px,#4231c4 56px,#4744e7 58px,#484bef 61px,#463fe2 67px,#422ec0 73px,#4740e3 76px,#4742e6 77px,#463cde 81px,#422fc1 85px,#4230c2 86px,#463ddf 88px,#4538d8 91px,#422fc1 94px,#422fc1 95px,#4537d6 97px,#422ec0 101px,#4434cd 103px,#422ebf 106px,#4230c4 108px,#402bb6 114px,#412dba 115px,#3e26a7 130px,#3e26a8 132px,#eae7f5 133px,#fff 134px"></i><i style="top:51px;height:134px;--g:#fff 0,#ebecfe 1px,#848ef9 2px,#4853f4 3px,#4742e6 12px,#4433ce 19px,#412cb9 22px,#4230c4 24px,#4743e5 27px,#484df0 29px,#4854f6 33px,#4742e7 43px,#422dc0 51px,#4335cc 53px,#463fe0 54px,#4745e9 55px,#484bef 58px,#463cdf 65px,#422ebf 70px,#4740e3 73px,#4743e7 75px,#4538d7 80px,#422fc0 83px,#463ee0 86px,#4638d8 89px,#412dbd 93px,#4538d9 95px,#422ebf 100px,#4434cf 102px,#412ebe 105px,#4330c5 107px,#402bb5 113px,#412cba 114px,#3e26a7 130px,#3e26a8 132px,#bfb7e2 133px,#fff 134px"></i><i style="top:53px;height:132px;--g:#fff 0,#d6d7fc 1px,#999bf6 2px,#4747eb 3px,#4539d9 9px,#4331c7 12px,#412dbc 15px,#4334cb 18px,#4743e5 20px,#484ff1 23px,#4854f6 27px,#4742e6 37px,#4537d6 41px,#422ebf 45px,#422fc0 46px,#4744e6 49px,#484cef 52px,#4743e8 57px,#422fc2 65px,#4332c6 66px,#4741e5 68px,#4744e8 70px,#463bdd 74px,#422ec1 79px,#453bdb 81px,#463edf 82px,#4539d9 85px,#412ebd 89px,#4639da 91px,#422ec0 96px,#4435d1 98px,#412dbc 102px,#4331c7 104px,#412dbc 106px,#422ec0 108px,#402bb5 113px,#3e26a7 128px,#3e26a8 130px,#bfb7e2 131px,#fff 132px"></i><i style="top:56px;height:129px;--g:#fff 0,#c1bff5 1px,#c1bdf2 2px,#4332c8 4px,#412cbb 8px,#4748ec 13px,#4855f6 20px,#4741e6 30px,#422cbd 39px,#4848ed 43px,#484cef 46px,#4740e5 52px,#422dbe 59px,#4640e1 62px,#4745ea 64px,#4537d6 70px,#4230c3 73px,#4230c3 74px,#453cdc 76px,#463ee0 77px,#4638d8 80px,#412dbc 84px,#4539da 86px,#422fc2 91px,#422fc1 92px,#4434ce 93px,#4435d0 94px,#412dbc 97px,#4331c7 99px,#412dbc 102px,#422fc1 104px,#412cb8 106px,#412ebd 107px,#402bb6 109px,#3e26a7 125px,#3e26a8 127px,#bfb7e2 128px,#fff 129px"></i><i style="top:58px;height:127px;--g:#fff 0,#aca6ed 2px,#4335cd 3px,#4849ed 6px,#4854f5 14px,#4849ed 20px,#463bde 26px,#412dbd 32px,#4333c9 34px,#4743e5 36px,#484df1 40px,#463de1 48px,#412dbe 54px,#463fe1 57px,#4746ea 59px,#4740e4 62px,#422ec0 69px,#473fe1 72px,#4538d8 76px,#412dbc 80px,#4639d9 82px,#4537d6 84px,#422ebf 88px,#4536d3 90px,#412dbb 94px,#4332ca 96px,#412cba 99px,#422fc2 101px,#402cb8 103px,#422ebf 104px,#402bb4 108px,#3e26a7 123px,#3e26a8 125px,#bfb7e2 126px,#fff 127px"></i><i style="top:55px;height:130px;--g:#fff 0,#adaaf3 1px,#5b58e9 3px,#4746e9 4px,#4854f5 9px,#484ff1 16px,#473fe3 23px,#422ec1 31px,#4231c4 33px,#4742e5 35px,#484df1 38px,#4743e8 45px,#422dc0 54px,#4741e4 57px,#4744e8 58px,#473fe3 63px,#422dbf 69px,#4740e3 73px,#4538d7 77px,#412ebd 81px,#463adb 83px,#4536d3 86px,#412dbd 89px,#4536d3 91px,#412ebf 95px,#4332c8 98px,#412dbc 101px,#4230c3 102px,#402cb8 105px,#422ebf 106px,#402cb8 108px,#3e26a7 126px,#3e26a8 128px,#bfb7e2 129px,#fff 130px"></i><i style="top:53px;height:132px;--g:#fff 0,#5c5ff0 2px,#484df0 3px,#4854f5 9px,#4847ec 17px,#4535d3 25px,#412bb8 29px,#4846eb 34px,#484df1 38px,#4740e4 45px,#422fc0 52px,#422fc2 53px,#4743e7 56px,#4746ea 58px,#463bdc 64px,#422fc1 68px,#422fc2 69px,#473fe2 72px,#463fe1 73px,#4435d1 78px,#412dbb 81px,#463bdc 83px,#4434cf 87px,#422ebf 89px,#4536d3 92px,#412dbd 96px,#4433cd 98px,#412dbd 101px,#4330c5 103px,#412cb9 106px,#422ebf 107px,#402bb7 109px,#412dbc 110px,#402ab2 114px,#3e26a7 128px,#3e26a8 130px,#bfb7e2 131px,#fff 132px"></i><i style="top:52px;height:133px;--g:#fff 0,#999ff9 1px,#4752f4 2px,#484ef2 10px,#463cdf 18px,#412dbc 26px,#4434cb 28px,#4848ec 31px,#484ef2 35px,#463cdf 44px,#422ebf 50px,#4231c4 51px,#4745ea 54px,#4747eb 56px,#4639d9 63px,#412cba 67px,#463bdb 69px,#4740e4 71px,#4539d8 75px,#422fc1 79px,#422fc1 80px,#463bdd 82px,#4537d4 85px,#422ebe 88px,#422fc0 89px,#4537d6 91px,#412ebd 95px,#4434ce 97px,#412dbc 101px,#4331c6 102px,#4230c5 103px,#412dba 105px,#422fc0 107px,#402bb6 109px,#412dbb 110px,#3e26a6 129px,#3e26a8 131px,#bfb7e2 132px,#fff 133px"></i><i style="top:52px;height:133px;--g:#fff 0,#c2c6fb 1px,#4852f3 2px,#4742e7 11px,#4433ce 18px,#412cb8 21px,#4435ce 24px,#4746ea 26px,#484ef1 31px,#4741e6 38px,#422dbe 47px,#4640e1 50px,#4748ec 52px,#473de0 58px,#412ebd 64px,#4230c1 65px,#473fe2 67px,#4741e4 68px,#4538d6 73px,#412ebe 77px,#463cdf 80px,#422ebf 87px,#4537d6 89px,#412ebf 94px,#4333cb 95px,#4434cd 96px,#412ebe 99px,#4331c7 101px,#412dba 104px,#422fc1 105px,#402bb6 111px,#3e26a7 129px,#3e26a8 131px,#bfb7e2 132px,#fff 133px"></i><i style="top:53px;height:132px;--g:#fff 0,#d6d7fc 1px,#7172f1 2px,#4747eb 3px,#463bdc 9px,#4332ca 12px,#422ebe 16px,#422fc1 17px,#463fe0 20px,#484aee 22px,#484df2 27px,#463bdd 36px,#412cbb 42px,#4744e7 46px,#4747eb 49px,#4740e4 53px,#422dbf 60px,#463ddc 63px,#4842e8 65px,#422fc1 73px,#422fc2 74px,#463bdb 76px,#463cdd 77px,#422fc1 83px,#422fc1 84px,#4638d8 86px,#412ebe 91px,#4435d0 93px,#412ebe 97px,#4332c8 99px,#412dbb 102px,#422fc1 103px,#412cb9 106px,#422ebe 107px,#402ab3 109px,#412db9 110px,#3e26a7 128px,#3e26a8 130px,#bfb7e2 131px,#fff 132px"></i><i style="top:55px;height:130px;--g:#fff 0,#d6d5f9 1px,#c1bef4 2px,#4436d3 4px,#402cb8 10px,#463cdb 13px,#4848ec 15px,#484ef2 21px,#4639da 31px,#412dbb 36px,#412fbf 37px,#4742e5 40px,#4748ec 43px,#463de1 49px,#412cbc 55px,#4742e6 59px,#463de0 63px,#412dbe 69px,#463cdc 72px,#463cdd 73px,#422fc0 79px,#422fc0 80px,#4639d9 82px,#422ebf 87px,#4435d1 90px,#412dbc 93px,#4332c9 96px,#412cba 98px,#412cba 99px,#4230c4 100px,#402cb8 103px,#422ebf 104px,#402bb4 109px,#3e26a8 125px,#3e26a8 128px,#bfb7e2 129px,#fff 130px"></i><i style="top:59px;height:126px;--g:#fff 0,#968cdf 1px,#5747c9 2px,#4435cc 3px,#463fe1 5px,#484aed 7px,#484ef1 13px,#463ee1 21px,#422dbe 28px,#4332c6 30px,#4744e8 33px,#4748ec 36px,#463ddf 42px,#4536d2 45px,#412dbc 48px,#422fbf 49px,#463dde 51px,#4742e7 53px,#463cde 57px,#422fc0 62px,#422fc1 63px,#463bdb 65px,#463dde 66px,#4538d8 69px,#422fc0 73px,#422fc1 74px,#4639da 76px,#412ebf 82px,#4434cd 83px,#4435d1 84px,#412cba 88px,#4332ca 90px,#412cb9 93px,#4330c4 95px,#412cb9 97px,#412ebd 99px,#3f2ab3 106px,#3e26a7 122px,#3e26a8 124px,#bfb7e2 125px,#fff 126px"></i><i style="top:56px;height:129px;--g:#fff 0,#ada8ef 1px,#5b54e3 3px,#4742e4 4px,#484ff2 8px,#4747eb 16px,#4534d1 24px,#412bb8 28px,#4743e8 32px,#4748ec 35px,#4743e8 39px,#412ebe 48px,#422fc0 49px,#4741e4 52px,#4741e5 53px,#463bdc 58px,#412cba 63px,#4539d7 65px,#463de0 67px,#4538d7 70px,#412ebd 74px,#4639da 77px,#422ebe 83px,#4536d4 85px,#412dba 90px,#4332c8 91px,#4332c9 92px,#412cba 95px,#4230c4 97px,#402cb8 99px,#422ebf 101px,#402bb7 103px,#412dbc 104px,#402ab3 108px,#3e26a7 125px,#3e26a8 127px,#bfb7e2 128px,#fff 129px"></i><i style="top:54px;height:131px;--g:#fff 0,#5c5aeb 2px,#4849ec 3px,#484ff2 9px,#473fe4 17px,#412cbc 26px,#4334ca 28px,#4742e6 30px,#4749ed 33px,#473ee1 40px,#412cbb 47px,#463dde 50px,#4744e9 52px,#4537d5 59px,#412dbc 62px,#422fc0 63px,#463cdd 65px,#463edf 66px,#4537d6 70px,#412dbd 74px,#463adb 77px,#422dbe 83px,#4536d5 85px,#412dba 90px,#43c 92px,#412dbc 95px,#4330c5 97px,#412dba 100px,#422ebf 102px,#402bb7 104px,#412dbd 105px,#402ab4 109px,#3e26a7 126px,#3e26a8 129px,#bfb7e2 130px,#fff 131px"></i><i style="top:53px;height:132px;--g:#fff 0,#8588f5 1px,#484df0 2px,#4747eb 11px,#4536d4 18px,#412dbb 22px,#422ec0 24px,#4742e5 27px,#474aee 31px,#463bdd 39px,#412cb9 45px,#463ee0 48px,#4744e9 50px,#463bdd 55px,#422ebf 61px,#463ee0 64px,#463ee0 65px,#422dbe 73px,#4538d7 75px,#463ada 76px,#422ebe 82px,#4536d3 84px,#4435cf 86px,#412cba 89px,#4434cd 91px,#412dbc 95px,#4331c8 97px,#412dbb 99px,#422fc1 101px,#402cb7 104px,#412ebd 105px,#402bb7 107px,#3e26a7 127px,#3e26a8 130px,#bfb7e2 131px,#fff 132px"></i><i style="top:53px;height:132px;--g:#fff 0,#8588f5 1px,#484cf0 2px,#463cdf 11px,#412dbc 19px,#412fc0 20px,#4742e6 23px,#474aed 27px,#4742e7 32px,#422ebf 41px,#422fc0 42px,#463fe1 45px,#4744e8 47px,#473ee1 51px,#412dbd 58px,#4230c4 59px,#463ee0 61px,#463fe1 62px,#463adc 65px,#422ebf 70px,#422ebf 71px,#463ad9 73px,#463ada 74px,#412dbd 80px,#4535d2 82px,#4536d4 83px,#412ebd 87px,#4434cf 90px,#412dbd 93px,#412dbd 94px,#4332c8 95px,#412dbc 98px,#4230c3 100px,#412cb9 102px,#412dbc 104px,#3f2ab2 111px,#3e26a8 127px,#3e26a8 130px,#bfb7e2 131px,#fff 132px"></i><i style="top:54px;height:131px;--g:#fff 0,#5b5aeb 2px,#4742e4 3px,#4434cf 10px,#412ebe 12px,#412cba 14px,#4741e4 18px,#484bef 22px,#463de0 30px,#422ebd 37px,#4230c2 38px,#4741e5 41px,#4744e8 43px,#463cdf 48px,#412cbc 54px,#4434cc 56px,#463bdc 57px,#473fe2 59px,#4539da 62px,#412dbd 67px,#463bdc 70px,#4537d5 73px,#412dbc 77px,#4435d1 79px,#4536d5 80px,#412dbd 85px,#4435d0 87px,#412ebd 91px,#4332c9 93px,#412dbc 96px,#4230c3 98px,#412cb9 100px,#412dbc 102px,#402ab3 109px,#3e26a8 126px,#3e26a8 129px,#bfb7e2 130px,#fff 131px"></i><i style="top:56px;height:129px;--g:#fff 0,#c1bef4 1px,#aca6ec 2px,#6d61d9 3px,#4332c9 4px,#412dbc 8px,#4334cb 10px,#463cdc 11px,#4747ea 13px,#484aef 17px,#4537d7 27px,#402bb7 32px,#463fe1 35px,#4745ea 38px,#4538d7 45px,#412dbc 49px,#422ebe 50px,#463cdc 52px,#4740e3 54px,#4539d8 58px,#412cba 63px,#4639d9 65px,#463bdc 66px,#422ebe 73px,#4538d8 76px,#412dbd 81px,#4435d1 83px,#412ebf 87px,#4332c8 90px,#412cba 93px,#4230c4 95px,#412cba 97px,#412ebd 99px,#402bb5 104px,#3e26a7 124px,#3e26a8 127px,#bfb7e2 128px,#fff 129px"></i><i style="top:58px;height:127px;--g:#fff 0,#eae9fa 1px,#aca5e8 2px,#5848cd 3px,#4437d1 4px,#463fe0 5px,#4847eb 7px,#4749ec 12px,#4741e6 17px,#412cbb 26px,#4641e2 30px,#4744e9 34px,#4537d6 40px,#412dbc 44px,#412fbf 45px,#473fe1 48px,#473fe2 49px,#4538d8 54px,#412cba 58px,#463bdb 61px,#463cdc 62px,#422dbe 69px,#4537d4 71px,#4538d7 72px,#412dbb 77px,#4435d0 79px,#4435d0 80px,#412dbc 84px,#4333cc 86px,#412cb8 89px,#412cb9 90px,#4331c5 91px,#402bb7 94px,#422ebf 95px,#402bb7 98px,#412dbc 99px,#402bb6 101px,#3e26a7 122px,#3e26a8 125px,#bfb7e2 126px,#fff 127px"></i><i style="top:56px;height:129px;--g:#fff 0,#ada8f0 1px,#847de9 2px,#463edf 3px,#484aed 6px,#4747eb 12px,#4538d8 19px,#412bb9 24px,#4742e6 29px,#4745e9 32px,#473de0 36px,#422ebf 43px,#422ebf 44px,#453ada 46px,#4741e5 48px,#4538d8 53px,#412dbd 58px,#463ddf 61px,#463adb 63px,#412dbc 69px,#4537d6 71px,#4538d7 72px,#412ebe 77px,#4536d3 80px,#412dbb 84px,#4332ca 87px,#402bb7 90px,#4331c5 92px,#402cb7 95px,#422ebf 96px,#402bb6 99px,#412ebd 100px,#402bb7 102px,#3e26a7 124px,#3e26a8 127px,#bfb7e2 128px,#fff 129px"></i><i style="top:54px;height:131px;--g:#fff 0,#c2c1f8 1px,#5c5aeb 2px,#4747ea 3px,#4742e8 13px,#412ab9 23px,#4741e4 27px,#4746ea 30px,#463cde 36px,#412cbc 42px,#4333ca 44px,#4740e3 46px,#4740e4 48px,#4536d4 53px,#412ebd 57px,#412ebd 58px,#463cdd 60px,#463cdd 61px,#4538d7 64px,#422ebe 68px,#412ebe 69px,#4538d7 71px,#4538d8 72px,#412ebd 78px,#4434ce 79px,#4536d2 80px,#402cb9 85px,#4333cc 87px,#402bb7 91px,#4230c4 92px,#4330c4 93px,#412cb9 95px,#422fc1 97px,#402bb7 99px,#412dbc 101px,#402bb5 103px,#412dba 104px,#3e26a7 125px,#3e26a8 129px,#bfb7e2 130px,#fff 131px"></i><i style="top:53px;height:132px;--g:#fff 0,#d6d7fb 1px,#484aed 2px,#463ee1 12px,#412dbc 20px,#412ebe 21px,#4740e3 24px,#4747eb 27px,#4639da 35px,#402bb8 40px,#473fe2 44px,#4741e5 45px,#463bde 49px,#412dbd 56px,#463ee1 59px,#4537d6 63px,#412cbb 67px,#4639da 70px,#412ebd 77px,#4536d4 79px,#4434ce 81px,#402bb7 84px,#43c 86px,#412dbc 90px,#4331c7 92px,#412cb9 95px,#422fc3 97px,#402bb7 99px,#412dbc 101px,#402bb6 103px,#412dbb 104px,#402ab3 108px,#3e26a8 126px,#3e26a8 130px,#bfb7e2 131px,#fff 132px"></i><i style="top:54px;height:131px;--g:#fff 0,#9999f5 1px,#4746ea 2px,#4537d5 10px,#412dbc 14px,#402bb8 15px,#422ebf 16px,#463fe2 19px,#4747eb 23px,#463cdf 29px,#412cba 36px,#463fe1 40px,#4741e5 42px,#463adb 46px,#412cbb 52px,#463cdd 55px,#463ddf 56px,#4539d9 59px,#412cba 64px,#463add 67px,#412ebe 73px,#422ebe 74px,#4537d7 76px,#412cb9 82px,#4332ca 83px,#43c 84px,#412ebd 87px,#412ebd 88px,#4332c8 89px,#412dbd 92px,#422fc2 95px,#402bb7 97px,#422ebe 98px,#402bb6 101px,#412dbb 102px,#402bb5 104px,#3e26a7 126px,#3e26a8 129px,#bfb7e2 130px,#fff 131px"></i><i style="top:55px;height:130px;--g:#fff 0,#d6d5f9 1px,#6f69e6 2px,#463bdb 3px,#4435d0 5px,#412dbb 10px,#4231c4 12px,#4742e7 15px,#4746ea 19px,#463de1 24px,#412cba 32px,#463dde 35px,#4742e6 38px,#4539d8 43px,#412cb9 48px,#463adb 51px,#463de0 53px,#4536d3 57px,#412cba 61px,#4539d8 63px,#463ada 64px,#412ebd 70px,#422ebf 71px,#4537d6 73px,#4434d0 75px,#402cb7 79px,#4434cf 81px,#412dbc 85px,#4332ca 87px,#412dbb 90px,#422fc2 92px,#412cb8 98px,#412cba 100px,#402ab4 102px,#412cb9 103px,#3e26a7 124px,#3e26a8 128px,#bfb7e2 129px,#fff 130px"></i><i style="top:57px;height:128px;--g:#fff 0,#eae8fa 1px,#c0bbee 2px,#968bdc 3px,#5643c0 4px,#412fbf 5px,#4435cd 7px,#463edf 8px,#4747eb 13px,#463bdc 20px,#412cbb 26px,#4231c5 28px,#463ee0 30px,#4743e7 32px,#4537d5 39px,#412cba 43px,#412ebd 44px,#463ada 46px,#463ee0 48px,#4535d1 53px,#412cb9 56px,#463ada 59px,#463ada 60px,#4537d5 62px,#412dbc 66px,#412ebe 67px,#4537d6 69px,#4435d1 71px,#402bb8 75px,#4435d0 77px,#412dbc 81px,#4332c9 84px,#412cba 87px,#4230c5 89px,#412cb9 92px,#422fc1 93px,#402cb8 95px,#412dbb 97px,#402bb6 99px,#3e26a8 122px,#3e26a8 126px,#bfb7e2 127px,#fff 128px"></i><i style="top:57px;height:128px;--g:#fff 0,#eae9fb 1px,#6e65e0 3px,#463bdb 4px,#4746eb 7px,#4744e8 12px,#4537d5 18px,#412cbb 23px,#412ebd 24px,#473fe2 27px,#4742e6 29px,#473ee3 32px,#412cbb 41px,#453ad8 43px,#463ee1 45px,#4538d7 49px,#402cb9 54px,#463adb 57px,#4537d6 60px,#412cba 64px,#4537d5 67px,#4436d3 69px,#402cb7 73px,#4435d1 75px,#412dbb 80px,#4333cb 82px,#412cba 86px,#4331c6 88px,#402bb6 90px,#422fc1 92px,#402cb8 94px,#412dba 96px,#3f2ab2 105px,#3e26a8 122px,#3e26a8 126px,#bfb7e2 127px,#fff 128px"></i><i style="top:55px;height:130px;--g:#fff 0,#4742e5 3px,#4747eb 8px,#473ee2 13px,#412dbd 21px,#4231c4 23px,#4740e5 26px,#4743e7 28px,#463bdc 33px,#412ebc 39px,#412ebe 40px,#463ddf 43px,#463ee1 44px,#4536d4 49px,#412ebe 53px,#422fc0 54px,#4639d8 56px,#463bdb 57px,#4537d4 60px,#412cba 64px,#4538d7 67px,#4434ce 70px,#412cb8 73px,#4434cd 75px,#4435cf 76px,#412dbc 80px,#4333cb 82px,#4332ca 83px,#402bb7 86px,#4330c5 88px,#402cb7 91px,#422fc1 93px,#402ab5 95px,#412dbb 97px,#402ab3 104px,#3e26a8 124px,#3e26a8 128px,#bfb7e2 129px,#fff 130px"></i><i style="top:54px;height:131px;--g:#fff 0,#9998f3 1px,#4745e9 2px,#4743e8 8px,#4534d1 15px,#402bb6 19px,#4332c7 21px,#473fe2 23px,#4743e7 26px,#4639da 32px,#412dbc 37px,#422ebe 38px,#463ddf 41px,#463fe1 42px,#4639da 46px,#412cbb 52px,#463adb 55px,#463bdc 56px,#4536d4 59px,#412bb7 63px,#4436d2 65px,#4538d7 66px,#4536d3 68px,#412cb9 72px,#4434ce 74px,#4435d1 75px,#412ebc 80px,#4332c9 81px,#43c 82px,#402cb7 86px,#4331c6 88px,#402bb7 91px,#422fc0 92px,#402bb5 95px,#422dbd 96px,#402bb5 99px,#412dbb 100px,#3e26a7 125px,#3e26a8 129px,#bfb7e2 130px,#fff 131px"></i><i style="top:54px;height:131px;--g:#fff 0,#9999f3 1px,#4745e9 2px,#463de0 7px,#4330c6 13px,#412cba 16px,#463cdc 19px,#4744e9 22px,#4537d5 30px,#412cba 34px,#412dbd 35px,#463ddf 38px,#463fe2 40px,#4538d8 44px,#412cba 49px,#463cde 53px,#4536d3 57px,#412cba 61px,#4539da 64px,#4536d2 66px,#412cb8 70px,#4434cf 72px,#4435d1 73px,#412dbb 78px,#4434cd 80px,#412cba 84px,#4331c7 86px,#402cb9 89px,#422fc2 91px,#402cb7 94px,#422ebe 95px,#402bb6 97px,#412cb9 99px,#3f29b1 108px,#3e26a8 125px,#3e26a8 129px,#bfb7e2 130px,#fff 131px"></i><i style="top:55px;height:130px;--g:#fff 0,#d6d5f9 1px,#6f68e7 2px,#463cdd 3px,#4331c6 8px,#412dbb 11px,#422ebf 12px,#463fe1 15px,#4744e8 18px,#463adb 24px,#412dbd 30px,#4231c6 32px,#463de0 34px,#473fe2 36px,#4537d6 41px,#412dbb 45px,#412ebc 46px,#463bdc 49px,#463bdc 50px,#4433cd 55px,#402bb5 58px,#4538d7 60px,#4538d8 61px,#4434cf 64px,#412cb8 67px,#4435cf 69px,#4536d2 70px,#412dba 75px,#412ebd 76px,#43c 77px,#412dbc 81px,#4331c7 84px,#412cb9 87px,#4230c5 89px,#402cb8 91px,#422ec0 93px,#402bb6 95px,#412cb9 97px,#402ab2 104px,#3e26a8 124px,#3e26a8 128px,#bfb7e2 129px,#fff 130px"></i><i style="top:57px;height:128px;--g:#fff 0,#d5d2f5 1px,#978ee3 2px,#4230c4 3px,#412cb9 5px,#412dbb 6px,#4741e6 10px,#4743e8 13px,#463ada 19px,#412dba 25px,#422dbd 26px,#473ee1 29px,#473fe3 31px,#4538d7 36px,#402bb6 41px,#463bdb 44px,#463cdd 45px,#4536d3 49px,#412dbd 53px,#412ebd 54px,#4539d9 56px,#4434cf 60px,#412cb9 63px,#4537d6 66px,#412dbb 71px,#412dbc 72px,#4332c9 73px,#4433cd 74px,#412dbb 78px,#4332cb 80px,#412cba 83px,#4330c5 85px,#402cb8 88px,#422fc0 90px,#402cb7 92px,#412dbc 94px,#402bb5 96px,#412cba 97px,#402ab3 101px,#3e26a7 122px,#3e26a8 126px,#bfb7e2 127px,#fff 128px"></i><i style="top:58px;height:127px;--g:#fff 0,#d5d1f3 1px,#978ee3 2px,#4335cd 3px,#4741e4 5px,#4743e7 10px,#4537d5 16px,#412dbb 21px,#422ebf 22px,#473ee1 25px,#4740e4 27px,#4536d3 33px,#402cb8 37px,#412ebd 38px,#463ada 40px,#463ce0 42px,#412dbc 50px,#4539d9 53px,#4434ce 57px,#402cb8 60px,#412dbb 61px,#4433cd 62px,#4536d4 63px,#412cba 69px,#4435d0 71px,#412cba 75px,#4332ca 77px,#412dbb 81px,#4331c5 83px,#402cb8 86px,#422fc1 88px,#402bb6 90px,#412ebd 91px,#402bb5 94px,#412cb9 95px,#3e26a7 121px,#3e26a8 125px,#bfb7e2 126px,#fff 127px"></i><i style="top:56px;height:129px;--g:#fff 0,#d6d5f9 1px,#6f68e6 2px,#463ee0 3px,#4744e8 6px,#4740e6 10px,#412bb9 20px,#463ada 23px,#4741e5 26px,#4539da 30px,#412dbc 36px,#412ebd 37px,#4539d8 39px,#473de1 41px,#412cbb 50px,#4537d5 52px,#4539d8 53px,#4535d3 56px,#412cb8 60px,#4537d7 63px,#402cb8 69px,#4434cf 71px,#412dbc 76px,#4333cb 78px,#412cb8 82px,#4230c4 83px,#4330c5 84px,#402cb8 87px,#422fc0 88px,#402bb6 91px,#422ebe 92px,#402ab3 100px,#3e26a7 123px,#3e26a8 127px,#bfb7e2 128px,#fff 129px"></i><i style="top:54px;height:131px;--g:#fff 0,#ebeafc 1px,#706ceb 2px,#4743e7 3px,#463cde 11px,#402bb7 19px,#463dde 22px,#4740e4 25px,#4538d7 30px,#412dbb 35px,#412dbd 36px,#463cdc 39px,#463dde 40px,#4639d9 43px,#412cba 49px,#4639d8 52px,#4639d9 53px,#4535d2 56px,#412cb7 60px,#4435d0 62px,#4537d4 63px,#412cb8 69px,#4435d0 71px,#412dbb 76px,#4433cd 78px,#402cb8 82px,#4331c7 84px,#402bb7 87px,#422fc1 89px,#402bb6 92px,#422ebf 93px,#402bb7 95px,#412cba 97px,#402ab4 101px,#3e26a7 125px,#3e26a8 129px,#bfb7e2 130px,#fff 131px"></i><i style="top:54px;height:131px;--g:#fff 0,#d6d5fa 1px,#4743e7 2px,#4537d5 10px,#412dbb 14px,#412dbc 16px,#473ee1 19px,#4741e5 21px,#4539d9 27px,#412dbb 32px,#412dbc 33px,#463bdb 36px,#463cde 37px,#4538d8 41px,#412dbb 46px,#412dbc 47px,#4538d5 49px,#463ada 50px,#4536d5 53px,#412cb8 58px,#4536d3 60px,#4537d5 61px,#412dba 67px,#4434cf 69px,#4434cf 70px,#412dbb 74px,#43c 77px,#402bb7 81px,#4330c5 82px,#4331c6 83px,#402bb6 86px,#422fc3 88px,#402bb5 90px,#422ebe 92px,#402bb6 94px,#412cba 96px,#402ab4 101px,#3e26a8 124px,#3e26a8 129px,#bfb7e2 130px,#fff 131px"></i><i style="top:55px;height:130px;--g:#fff 0,#d6d5f9 1px,#6f68e7 2px,#463adb 3px,#412dbd 10px,#412ebc 12px,#463bdb 14px,#4742e6 17px,#4538d7 23px,#412cb8 29px,#4537d3 31px,#463ee0 33px,#4537d6 38px,#412bb8 43px,#4639d9 46px,#463ada 47px,#412dbb 55px,#4536d4 57px,#4537d5 58px,#412cba 64px,#4434cf 66px,#4434cf 67px,#412cbb 72px,#4434cf 74px,#402bb6 78px,#4331c7 80px,#402cb9 83px,#422fc2 85px,#402bb7 88px,#422ebf 90px,#402bb4 92px,#412dbc 94px,#402ab4 96px,#412cb9 97px,#402ab3 101px,#3e26a8 123px,#3e26a8 128px,#bfb7e2 129px,#fff 130px"></i><i style="top:58px;height:127px;--g:#fff 0,#aca4e7 1px,#6c5dd0 2px,#412ebe 3px,#412dbc 5px,#463ddd 8px,#4741e5 11px,#463bdd 15px,#412cb9 23px,#463cdd 26px,#463ee0 28px,#4434d0 34px,#402bb7 37px,#4539d8 40px,#463bdb 41px,#4535d2 45px,#412cb9 49px,#4537d6 52px,#4535d0 55px,#402bb7 59px,#4434cf 61px,#4435d0 62px,#412cba 67px,#4434cf 69px,#402cb9 73px,#4331c7 76px,#412cb8 79px,#4230c4 81px,#402cb8 84px,#422ec0 86px,#402bb5 88px,#412dbb 90px,#402bb5 92px,#412dba 93px,#3e26a7 120px,#3e26a8 125px,#bfb7e2 126px,#fff 127px"></i><i style="top:58px;height:127px;--g:#fff 0,#eae8f9 1px,#978ee3 2px,#594bd4 3px,#463bda 4px,#4741e6 7px,#463ee1 10px,#463ada 13px,#412dbb 19px,#412dbb 20px,#463cdd 23px,#463ee1 25px,#4434cf 31px,#412bb7 35px,#463adb 38px,#463bdb 39px,#412cbb 47px,#4638d9 50px,#412dbc 57px,#4434cf 59px,#4435d1 60px,#412dba 65px,#4434ce 67px,#402cb9 72px,#4332c8 74px,#412cba 78px,#4330c5 79px,#402cb9 82px,#422fc0 84px,#402cb8 86px,#412dbb 88px,#402ab4 91px,#412dbb 92px,#402ab3 94px,#402cb8 95px,#3e26a7 120px,#3e26a8 125px,#bfb7e2 126px,#fff 127px"></i><i style="top:56px;height:129px;--g:#fff 0,#d6d3f7 1px,#6f66e2 2px,#463cdd 3px,#4741e5 5px,#4740e3 8px,#4535d2 14px,#402cb8 18px,#412dba 19px,#463bdc 22px,#463ee0 24px,#463adc 27px,#412cb9 34px,#463ada 37px,#463bdb 38px,#4538d7 41px,#412dbb 46px,#412dbb 47px,#4537d5 49px,#4538d7 50px,#412cba 57px,#4535d1 59px,#4536d1 60px,#412cba 65px,#43c 67px,#4434cd 68px,#402bb7 72px,#4332c9 74px,#412cba 78px,#4331c6 80px,#402cb8 83px,#422fc2 85px,#402cb7 87px,#412dbd 89px,#402cb7 91px,#402bb6 96px,#3f2ab2 100px,#3e26a8 122px,#3e26a8 127px,#bfb7e2 128px,#fff 129px"></i><i style="top:55px;height:130px;--g:#fff 0,#9995f0 1px,#4740e3 2px,#463de0 8px,#412cb9 16px,#453ada 20px,#463fe1 22px,#4639d9 26px,#412dbc 32px,#412ebe 33px,#4538d6 35px,#463bdd 37px,#4536d4 40px,#412cb8 45px,#4538d7 48px,#4538d7 49px,#412dbc 55px,#412dbc 56px,#4535d1 58px,#4435d2 59px,#412dbb 64px,#4434cf 67px,#412cbb 71px,#4332ca 74px,#412cba 78px,#4331c7 80px,#402bb7 83px,#4230c3 85px,#402bb7 87px,#422ebe 89px,#402bb7 91px,#412dbb 93px,#402bb5 95px,#3e26a8 122px,#3e26a8 128px,#bfb7e2 129px,#fff 130px"></i><i style="top:55px;height:130px;--g:#fff 0,#8480ed 1px,#4740e3 2px,#463adb 6px,#422fc2 11px,#402bb8 13px,#463cdd 17px,#463fe2 19px,#4536d2 25px,#412cb9 29px,#412dbb 30px,#4537d5 32px,#463cdd 34px,#4538d7 37px,#412dbb 42px,#412dbb 43px,#4537d4 45px,#4539d8 46px,#412dbb 54px,#4537d6 56px,#412dbc 62px,#4434cf 65px,#412cba 70px,#4333cc 72px,#412cb9 76px,#4331c7 78px,#402cb8 81px,#402cb8 82px,#422fc2 83px,#402bb6 86px,#422ebf 88px,#402ab4 90px,#412dbb 91px,#3e26a7 123px,#3e26a8 128px,#bfb7e2 129px,#fff 130px"></i><i style="top:56px;height:129px;--g:#fff 0,#c1bef3 1px,#5a4fdd 2px,#4538d6 3px,#422ebe 7px,#402bb7 9px,#463ddf 13px,#463fe2 15px,#4535d2 21px,#402bb6 26px,#463ada 29px,#463bdc 30px,#4535d2 35px,#402bb7 39px,#4538d7 42px,#4539d8 43px,#412dba 50px,#4537d5 53px,#412dbb 59px,#412dbb 60px,#4332ca 61px,#4434cf 62px,#412cba 67px,#43c 69px,#412cba 74px,#4331c8 76px,#402bb5 79px,#4230c3 81px,#402bb6 84px,#422ebf 86px,#402bb5 88px,#412dbb 90px,#402bb5 91px,#3e26a7 122px,#3e26a8 127px,#bfb7e2 128px,#fff 129px"></i><i style="top:58px;height:127px;--g:#fff 0,#c0bbed 1px,#6c5ecf 2px,#402cb8 3px,#422fc0 5px,#463adb 7px,#4740e2 9px,#463bdd 13px,#412bb9 21px,#463ada 24px,#463cdd 25px,#4537d7 29px,#412cb8 35px,#453adb 38px,#4436d3 41px,#412cb9 46px,#4537d6 49px,#412cba 56px,#4436d2 58px,#412cba 63px,#4433cb 65px,#4433cb 66px,#402cb7 70px,#4331c7 72px,#402bb7 76px,#422fc1 77px,#422fc1 78px,#402bb6 80px,#422ebe 82px,#402bb5 85px,#412dbc 86px,#402bb5 88px,#412cb8 90px,#3f29b1 99px,#3e26a8 120px,#3e26a8 125px,#bfb7e2 126px,#fff 127px"></i><i style="top:58px;height:127px;--g:#fff 0,#d5d1f3 1px,#8379e1 2px,#4437d3 3px,#463ee1 5px,#473ee3 8px,#412bb9 18px,#463bdc 21px,#463cdd 22px,#4538d7 26px,#412cba 32px,#412ebd 33px,#4639d8 35px,#4639d9 36px,#412cba 44px,#4536d2 46px,#4537d5 47px,#412dbb 53px,#412dbc 54px,#4536d3 56px,#412dba 61px,#4434ce 64px,#402cb8 68px,#4331c7 71px,#402bb5 74px,#4230c3 76px,#402cb7 79px,#422fc1 81px,#402bb5 83px,#412dbc 85px,#402bb5 87px,#412cb9 89px,#3f2ab2 96px,#3e26a8 119px,#3e26a8 125px,#bfb7e2 126px,#fff 127px"></i><i style="top:56px;height:129px;--g:#fff 0,#d6d4f7 1px,#6f67e4 2px,#463de0 3px,#463adb 10px,#402ab6 17px,#4539d8 20px,#463ddf 22px,#4536d4 26px,#412dbb 31px,#412dbc 32px,#4538d5 34px,#463ada 35px,#4435d1 39px,#412bb8 43px,#4536d4 46px,#4537d5 47px,#412dba 53px,#4435d1 56px,#412cba 62px,#4434cf 64px,#402bb6 69px,#4332c9 71px,#412cb9 74px,#4230c3 77px,#412cb9 80px,#422fc1 82px,#402bb6 84px,#412ebe 86px,#402bb5 88px,#412cb9 90px,#402ab3 92px,#412cb8 93px,#3e26a7 122px,#3e26a8 127px,#bfb7e2 128px,#fff 129px"></i><i style="top:55px;height:130px;--g:#fff 0,#adaaf2 1px,#473fe2 2px,#4536d3 10px,#402ab3 15px,#4539d9 18px,#463ddf 20px,#4537d6 24px,#412bb7 30px,#4435d1 32px,#463adb 34px,#4536d4 37px,#412cb8 42px,#4537d5 45px,#4537d5 46px,#412cba 52px,#4535d3 55px,#412cb9 61px,#4434cd 63px,#4433cb 64px,#402bb6 68px,#4332c9 70px,#412cb8 74px,#4331c6 76px,#402cb8 79px,#422fc2 81px,#402bb5 84px,#422ebe 85px,#402bb5 88px,#412dbb 89px,#402ab3 92px,#412cb9 93px,#402ab3 94px,#3e26a8 122px,#3e26a8 128px,#bfb7e2 129px,#fff 130px"></i><i style="top:55px;height:130px;--g:#fff 0,#ebeafc 1px,#5b53e3 2px,#463cde 3px,#4332cb 8px,#402bb7 12px,#463adb 15px,#463ddf 17px,#4536d4 22px,#402bb7 27px,#463bdc 31px,#4436d3 35px,#402cb9 39px,#412dbb 40px,#4536d3 42px,#4538d6 43px,#412cba 50px,#4536d3 53px,#412cb9 59px,#4434cd 61px,#4434cd 62px,#402cb8 66px,#4332ca 69px,#412cb9 72px,#4331c6 75px,#402cb8 78px,#4230c2 80px,#402cb7 83px,#422ebf 84px,#402bb6 90px,#3e26a8 122px,#3e26a8 128px,#bfb7e2 129px,#fff 130px"></i><i style="top:56px;height:129px;--g:#fff 0,#eae9fb 1px,#9890e8 2px,#4332c9 4px,#402cb8 7px,#422fc2 9px,#453ad9 11px,#463de0 13px,#4435d1 19px,#402bb6 23px,#4537d5 26px,#463adc 28px,#43c 33px,#402cb8 36px,#412dbb 37px,#4537d6 39px,#4538d6 40px,#412cb9 47px,#4435cf 49px,#4536d2 50px,#402cb8 56px,#4434cd 58px,#4434cd 59px,#402bb7 64px,#4231c6 65px,#4332ca 66px,#412cb9 70px,#4331c7 72px,#402cb8 76px,#4230c4 78px,#402bb5 80px,#422ebf 82px,#402bb5 85px,#412ebd 86px,#402bb7 88px,#3e26a8 121px,#3e26a8 127px,#bfb7e2 128px,#fff 129px"></i><i style="top:59px;height:126px;--g:#fff 0,#d5d0ef 1px,#5645c5 2px,#4230c2 3px,#463bdb 5px,#463ee1 7px,#4435d1 13px,#412cb9 17px,#402cb8 18px,#4537d3 20px,#463bdc 22px,#4435d2 26px,#402bb7 31px,#4538d8 34px,#4535d2 37px,#412dba 41px,#412dbb 42px,#4535d1 44px,#4536d3 45px,#402cb9 51px,#4434ce 53px,#4434ce 54px,#402bb6 59px,#4333cb 61px,#412cba 65px,#4331c7 68px,#402bb6 71px,#4230c4 73px,#402ab5 76px,#422fc0 78px,#402bb4 80px,#412dbd 82px,#402bb6 84px,#412cb9 86px,#402ab4 90px,#3e26a8 118px,#3e26a8 124px,#bfb7e2 125px,#fff 126px"></i><i style="top:57px;height:128px;--g:#fff 0,#d5d2f5 1px,#9890e8 2px,#4538d6 3px,#463de0 5px,#463adb 9px,#402bb8 17px,#463ada 20px,#463bdb 21px,#4537d7 24px,#412cba 30px,#412dbb 31px,#4537d4 33px,#4538d7 34px,#412cb8 42px,#4535d2 44px,#4536d4 45px,#412cb9 51px,#4434ce 53px,#4434cf 54px,#402bb7 59px,#43c 61px,#402cb8 66px,#4331c8 68px,#402bb6 72px,#4230c4 74px,#402bb5 77px,#422fc0 79px,#402ab4 81px,#412ebe 83px,#402ab3 85px,#412cba 86px,#3e26a7 120px,#3e26a8 126px,#bfb7e2 127px,#fff 128px"></i><i style="top:56px;height:129px;--g:#fff 0,#847ce8 1px,#463cdd 2px,#4639d9 8px,#402bb6 15px,#4539d8 18px,#463bdc 20px,#4435d0 24px,#412dba 28px,#412dba 29px,#4538d7 32px,#4538d8 33px,#4435d0 36px,#402bb6 40px,#4433cd 42px,#4536d5 44px,#402bb7 50px,#4434ce 52px,#4434cf 53px,#402bb7 58px,#4434ce 60px,#412cb9 65px,#4332c9 67px,#402bb5 71px,#4330c4 73px,#402bb6 76px,#422ebf 78px,#402bb6 81px,#412dbd 83px,#3f2ab2 85px,#412cbb 86px,#402bb4 88px,#402cb7 90px,#402ab3 94px,#3e26a8 121px,#3e26a8 127px,#bfb7e2 128px,#fff 129px"></i><i style="top:55px;height:130px;--g:#fff 0,#eaeafc 1px,#463ddf 2px,#4537d5 7px,#402ab5 13px,#4539d8 16px,#463bdc 18px,#4537d6 21px,#412bb7 27px,#4539da 31px,#4535d2 34px,#402bb7 39px,#4537d7 42px,#412cb8 49px,#4434cf 51px,#4435d0 52px,#412cb8 57px,#4434ce 60px,#412cb9 64px,#4332c8 67px,#402ab4 71px,#422fc1 72px,#4230c3 73px,#402bb7 76px,#422fc2 78px,#402bb6 80px,#422ebe 82px,#402ab4 85px,#412dbb 86px,#402ab4 88px,#402cb8 90px,#402ab3 94px,#3e26a8 122px,#3e26a8 128px,#bfb7e2 129px,#fff 130px"></i><i style="top:56px;height:129px;--g:#fff 0,#c1bef3 1px,#6f64e0 2px,#4436d3 3px,#412cba 8px,#402bb5 9px,#4538d8 12px,#463bdd 14px,#4435d1 19px,#402bb6 23px,#4539d8 27px,#4536d5 30px,#402bb5 36px,#4536d3 38px,#4537d5 39px,#412cba 45px,#4435d2 49px,#412cb9 54px,#4434ce 57px,#402bb6 62px,#4332ca 64px,#402bb7 68px,#4331c5 70px,#402bb8 73px,#422fc2 75px,#402bb7 78px,#412ebd 80px,#402bb5 86px,#412cb9 88px,#3f2ab3 89px,#402bb4 91px,#3e26a7 121px,#3e26a8 127px,#bfb7e2 128px,#fff 129px"></i><i style="top:58px;height:127px;--g:#fff 0,#d5d1f3 1px,#6c5dce 2px,#412dbb 3px,#4332c6 6px,#4639d9 7px,#463cde 9px,#4433cd 15px,#402ab4 19px,#4435d0 21px,#4539d9 23px,#4536d3 26px,#402bb7 31px,#412cba 32px,#4536d5 34px,#4537d5 35px,#412cb9 41px,#402cb9 42px,#4435d0 44px,#4435d0 45px,#402cb8 50px,#412cba 51px,#4434cd 53px,#4333cb 54px,#402bb5 58px,#4332ca 60px,#402cb8 64px,#4331c6 66px,#412cb8 70px,#4230c2 72px,#402bb7 75px,#422fc0 77px,#402bb5 79px,#412dbc 81px,#402bb6 83px,#402bb4 88px,#3e26a7 119px,#3e26a8 125px,#bfb7e2 126px,#fff 127px"></i><i style="top:58px;height:127px;--g:#fff 0,#eae8f8 1px,#968de0 2px,#584bd3 3px,#4538d6 4px,#463cdd 6px,#4639da 9px,#402bb7 16px,#4537d5 19px,#453adb 21px,#412bb9 29px,#4537d5 32px,#4537d5 33px,#402bb7 39px,#402cba 40px,#4435d3 42px,#4434cf 44px,#402bb7 48px,#4434cf 51px,#402cb8 56px,#4332c9 59px,#402cb8 63px,#4331c8 65px,#402cb8 68px,#422fc2 71px,#402bb7 74px,#422fc0 76px,#402bb6 78px,#412dbd 80px,#402ab4 82px,#412cba 83px,#402ab4 88px,#3e26a8 119px,#3e26a8 125px,#bfb7e2 126px,#fff 127px"></i><i style="top:56px;height:129px;--g:#fff 0,#eae9fb 1px,#453ad9 3px,#463bdd 7px,#402ab6 16px,#4537d3 18px,#463add 20px,#412cb9 28px,#4537d6 32px,#4434d0 35px,#402bb6 39px,#412cb8 40px,#4433cd 41px,#4435d2 42px,#4434cf 44px,#412cb9 48px,#412dba 49px,#4434ce 51px,#4432ca 53px,#402bb6 56px,#402cb7 57px,#4333cb 59px,#402bb8 63px,#4331c8 65px,#402bb7 69px,#4230c5 71px,#402bb6 74px,#422fc1 76px,#402ab2 79px,#412dbc 80px,#402bb5 83px,#412dbb 84px,#402bb5 86px,#402bb5 88px,#3e26a7 121px,#3e26a8 127px,#bfb7e2 128px,#fff 129px"></i><i style="top:56px;height:129px;--g:#fff 0,#6f67e4 1px,#463cdd 2px,#4538d7 6px,#402cb8 12px,#412dba 13px,#4539d9 16px,#463ada 17px,#4536d4 20px,#402bb7 26px,#4538d7 29px,#4432ca 34px,#402bb5 37px,#4537d6 40px,#412cb8 46px,#412cb9 47px,#4435d1 49px,#402bb7 55px,#43c 57px,#412cb9 61px,#4331c7 64px,#402bb6 68px,#4230c4 70px,#402bb5 73px,#422fc0 75px,#402bb5 78px,#422ebe 79px,#402bb4 81px,#412cb9 83px,#402ab3 91px,#3e26a8 120px,#3e26a8 127px,#bfb7e2 128px,#fff 129px"></i><i style="top:56px;height:129px;--g:#fff 0,#c1bef3 1px,#4639d9 2px,#4434d0 5px,#402cb7 9px,#402cb9 10px,#4538d7 13px,#463ada 15px,#4436d2 18px,#402ab6 23px,#4536d3 26px,#4537d6 27px,#4535d1 30px,#402bb6 35px,#4536d4 38px,#4332ca 41px,#402bb7 44px,#412cb9 45px,#4535d2 47px,#402bb6 53px,#4333cb 55px,#402cb8 60px,#4332c9 62px,#402bb5 66px,#4230c3 68px,#402bb6 72px,#422ebf 73px,#402bb5 76px,#422ebe 78px,#402ab3 80px,#412dbb 82px,#402ab4 84px,#412cb8 86px,#3f2ab2 93px,#3e26a8 121px,#3e26a8 127px,#bfb7e2 128px,#fff 129px"></i><i style="top:57px;height:128px;--g:#fff 0,#eae9fa 1px,#6d60d6 2px,#4331c6 3px,#412cb9 5px,#402bb7 6px,#4538d7 9px,#463adb 11px,#4435d0 15px,#402ab4 20px,#4435d1 22px,#4638d9 24px,#402bb7 32px,#4536d2 34px,#4536d3 35px,#4333cb 38px,#402bb5 41px,#4435d1 44px,#402bb7 50px,#4332ca 52px,#4333ca 53px,#402bb7 57px,#4331c7 59px,#4331c7 60px,#402bb7 63px,#4230c3 66px,#402bb6 69px,#422fc1 71px,#402bb6 74px,#422ebf 76px,#402ab4 78px,#412dbb 80px,#402ab3 82px,#412cb9 84px,#402ab3 85px,#3e26a7 120px,#3e26a8 126px,#bfb7e2 127px,#fff 128px"></i><i style="top:59px;height:126px;--g:#fff 0,#d5d0ef 1px,#5746c7 2px,#4333ca 3px,#4538d7 4px,#463ada 7px,#4332c9 12px,#402ab3 15px,#4537d5 18px,#4538d7 19px,#412cb9 27px,#4536d2 30px,#4536d3 31px,#4332ca 34px,#402bb6 37px,#412cb8 38px,#4435d1 40px,#4332c8 43px,#402ab4 46px,#4332c9 48px,#4333cb 49px,#402cb9 53px,#4332c9 56px,#402ab4 60px,#4331c5 62px,#402bb7 65px,#422fc1 67px,#402cb8 70px,#422ebf 72px,#402bb7 75px,#412dbc 77px,#402ab2 79px,#412cb9 80px,#402ab3 82px,#402bb7 84px,#3f2ab2 88px,#3e26a8 117px,#3e26a8 124px,#bfb7e2 125px,#fff 126px"></i><i style="top:57px;height:128px;--g:#fff 0,#eae9fb 1px,#4538d6 3px,#463adc 6px,#402bb7 15px,#4436d1 17px,#4539da 19px,#402cb8 27px,#4537d5 30px,#4332c9 34px,#402ab4 37px,#4435d0 40px,#4332c8 43px,#402bb4 46px,#4433cd 49px,#402cb7 54px,#4333ca 56px,#402bb6 60px,#4330c4 63px,#402bb6 66px,#4230c3 68px,#402bb7 71px,#422fc0 73px,#402bb6 76px,#412ebd 77px,#402ab4 80px,#412dbb 81px,#402ab3 83px,#412cb8 85px,#402ab3 86px,#3e26a8 119px,#3e26a8 126px,#bfb7e2 127px,#fff 128px"></i><i style="top:56px;height:129px;--g:#fff 0,#ada8ef 1px,#463ada 2px,#4639db 5px,#402bb6 13px,#4538d6 16px,#4538d7 17px,#4535d2 20px,#402bb7 25px,#4537d7 29px,#402cb8 36px,#4436d3 39px,#402cb7 45px,#4434cd 48px,#402bb8 53px,#4332ca 55px,#402cb8 60px,#4331c6 62px,#402cb7 66px,#4230c3 68px,#402bb6 71px,#422fc1 73px,#402bb6 75px,#412ebe 77px,#402bb5 79px,#412dbb 81px,#402bb5 83px,#402bb7 88px,#3f29b1 89px,#3e26a8 120px,#3e26a8 127px,#bfb7e2 128px,#fff 129px"></i><i style="top:56px;height:129px;--g:#fff 0,#ada7ef 1px,#4639d9 2px,#4330c6 7px,#402bb6 10px,#4436d2 13px,#4639da 15px,#412bb8 23px,#4536d3 26px,#4536d4 27px,#402bb7 34px,#4333cd 36px,#4435d0 37px,#4330c3 41px,#402ab3 43px,#4434cf 46px,#402cb8 51px,#4331c8 53px,#4332c8 54px,#402bb6 58px,#4331c8 60px,#402cb7 64px,#4230c5 66px,#402bb6 69px,#422fc0 71px,#402bb6 74px,#412ebe 76px,#402bb5 78px,#412dbc 80px,#402ab3 82px,#412cb9 83px,#402ab3 88px,#3e26a8 120px,#3e26a8 127px,#bfb7e2 128px,#fff 129px"></i><i style="top:57px;height:128px;--g:#fff 0,#c1bcf0 1px,#594ad2 2px,#4331c7 3px,#412dbb 5px,#402bb7 6px,#4435d1 9px,#4539d9 11px,#4434ce 15px,#402ab5 19px,#4638d8 23px,#412cb8 31px,#4434ce 33px,#4435d1 34px,#402bb7 40px,#4434cf 43px,#402cb8 48px,#4333cb 51px,#402bb6 55px,#4331c7 57px,#412cb9 61px,#4230c3 64px,#402bb4 67px,#422fc1 69px,#402ab4 72px,#422ebe 74px,#402ab3 76px,#412dbc 78px,#402ab2 80px,#412cb9 81px,#402ab4 86px,#3e26a8 119px,#3e26a8 126px,#bfb7e2 127px,#fff 128px"></i><i style="top:59px;height:126px;--g:#fff 0,#eae7f7 1px,#6b5ac7 2px,#4230c2 3px,#4538d8 5px,#4539d8 7px,#43c 11px,#402ab4 15px,#4434ce 17px,#4538d8 19px,#402bb8 26px,#4435d0 29px,#4433cd 32px,#402bb5 36px,#4434d0 39px,#412cb9 44px,#4333cb 47px,#412cb8 51px,#4331c8 54px,#402bb6 58px,#4330c4 60px,#402bb5 64px,#422fc2 66px,#402ab3 68px,#422ebe 70px,#3f2ab2 73px,#412dbb 74px,#402ab3 77px,#412dba 78px,#402bb5 80px,#3e26a8 117px,#3e26a8 124px,#bfb7e2 125px,#fff 126px"></i><i style="top:58px;height:127px;--g:#fff 0,#c1bcf0 1px,#6e63de 2px,#4538d7 3px,#4536d3 8px,#402bb5 13px,#402cb7 14px,#4536d3 16px,#4537d6 17px,#402cb8 25px,#4536d4 28px,#402cb8 35px,#4434cf 38px,#402bb7 44px,#4333cc 46px,#402cb8 51px,#4332ca 53px,#402cb7 57px,#4330c4 60px,#402bb4 63px,#422fc2 65px,#402bb4 68px,#412ebe 70px,#402ab4 73px,#412dbb 74px,#402ab4 77px,#412dbb 78px,#402ab4 80px,#402bb5 82px,#3e26a7 118px,#3e26a8 125px,#bfb7e2 126px,#fff 127px"></i><i style="top:56px;height:129px;--g:#fff 0,#eae9fb 1px,#5a4edb 2px,#4539d9 3px,#4536d2 7px,#402bb7 13px,#4536d4 16px,#4537d6 17px,#402cb9 24px,#412cb9 25px,#4536d5 28px,#402cb8 35px,#4433cd 37px,#4434ce 38px,#412cb9 43px,#402cb8 44px,#43c 46px,#402cb8 51px,#4331c7 53px,#4331c8 54px,#402bb5 58px,#4331c5 60px,#402bb4 64px,#4230c2 66px,#402cb7 68px,#422ebf 71px,#402ab4 73px,#412dbd 75px,#402ab4 77px,#412cb9 79px,#402ab3 81px,#412cb8 82px,#402ab4 84px,#3e26a8 120px,#3e26a8 127px,#bfb7e2 128px,#fff 129px"></i><i style="top:56px;height:129px;--g:#fff 0,#c1bdf2 1px,#4539d8 2px,#412bb8 10px,#412cba 11px,#4436d3 13px,#4638d8 15px,#402bb8 22px,#4535d1 25px,#4535d2 26px,#402bb7 33px,#4434cd 35px,#4434ce 36px,#402cb8 42px,#4434cd 44px,#402cb8 49px,#4333ca 52px,#402ab4 56px,#4331c5 58px,#402bb6 62px,#4230c3 64px,#402bb6 67px,#422fc0 69px,#402bb5 72px,#412ebe 74px,#402ab4 76px,#412dbb 78px,#402ab2 80px,#402bb7 82px,#3f2ab2 83px,#402ab4 85px,#3e26a7 120px,#3e26a8 127px,#bfb7e2 128px,#fff 129px"></i><i style="top:57px;height:128px;--g:#fff 0,#aca5eb 1px,#6d60d7 2px,#4331c6 3px,#402bb5 6px,#4537d5 10px,#4537d6 11px,#402bb6 19px,#4537d6 22px,#412cb8 29px,#412cba 30px,#4434ce 32px,#4434ce 33px,#402cb8 39px,#4433cd 41px,#412cb9 46px,#4332c9 49px,#402bb5 54px,#4331c7 56px,#402bb6 59px,#4230c3 62px,#402bb6 65px,#422fc0 67px,#402bb6 70px,#412ebd 72px,#402ab4 74px,#412dbb 75px,#402ab4 81px,#402ab4 83px,#3e26a8 118px,#3e26a8 126px,#bfb7e2 127px,#fff 128px"></i><i style="top:59px;height:126px;--g:#fff 0,#d5d0ef 1px,#6b5ac7 2px,#412ebf 3px,#4537d4 5px,#4538d8 7px,#402bb6 14px,#402cb8 15px,#4535d1 17px,#4536d4 18px,#412cb8 25px,#4434ce 28px,#4434cf 29px,#402cb7 35px,#4434ce 37px,#412cb9 42px,#4332ca 46px,#402ab4 50px,#4331c6 52px,#402bb6 56px,#4231c5 58px,#402bb6 61px,#422fc1 63px,#402bb6 66px,#422ebe 68px,#402bb5 71px,#412dbc 72px,#402bb5 78px,#3e26a8 117px,#3e26a8 124px,#bfb7e2 125px,#fff 126px"></i><i style="top:58px;height:127px;--g:#fff 0,#c1bbef 1px,#6e62da 2px,#4536d3 3px,#4435d1 8px,#402ab3 13px,#43c 15px,#4537d6 17px,#402cb8 24px,#4435d2 27px,#412cb9 33px,#43c 37px,#402bb7 42px,#4332c9 44px,#4332c9 45px,#402bb4 49px,#4330c5 51px,#4331c5 52px,#402cb7 55px,#4230c4 58px,#402bb5 61px,#422fc1 63px,#402ab4 66px,#422ebf 68px,#402ab4 70px,#412dbc 72px,#402ab5 74px,#412cb8 76px,#402ab4 81px,#3e26a8 118px,#3e26a8 125px,#bfb7e2 126px,#fff 127px"></i><i style="top:57px;height:128px;--g:#fff 0,#6e63de 1px,#4537d6 2px,#4535d1 6px,#402ab4 12px,#4535d2 14px,#4536d4 15px,#412cb9 22px,#412cb9 23px,#4536d3 26px,#402cb8 32px,#412cba 33px,#4434ce 35px,#402cb8 41px,#4332c9 43px,#4332c9 44px,#402bb6 48px,#402bb7 49px,#4330c5 50px,#4331c6 51px,#402bb7 55px,#4331c6 57px,#402bb5 60px,#422fc0 63px,#402bb5 66px,#422ebf 68px,#3f2ab3 70px,#412ebd 72px,#402ab3 74px,#412dbb 76px,#3f2ab2 78px,#412cb8 79px,#402ab4 81px,#3e26a8 118px,#3e26a8 126px,#bfb7e2 127px,#fff 128px"></i><i style="top:56px;height:129px;--g:#fff 0,#d6d3f6 1px,#4538d7 2px,#402bb6 10px,#4536d3 13px,#4536d4 14px,#402bb7 21px,#4536d3 25px,#402bb7 31px,#4434ce 34px,#412cb9 40px,#4333cc 43px,#402bb6 47px,#402bb6 48px,#4332c8 50px,#412bb7 54px,#4330c5 57px,#402ab3 60px,#422fc3 62px,#402ab4 65px,#422ebe 67px,#402ab4 70px,#412dbd 72px,#402ab2 74px,#412dba 76px,#402ab2 78px,#412cb9 79px,#402ab3 84px,#3e26a8 119px,#3e26a8 127px,#bfb7e2 128px,#fff 129px"></i><i style="top:57px;height:128px;--g:#fff 0,#d6d2f5 1px,#6d60d5 2px,#4331c5 3px,#402bb7 7px,#4435cf 9px,#4537d7 11px,#402bb6 18px,#4332c9 20px,#4536d3 22px,#402bb7 28px,#4434cf 31px,#402cb7 37px,#4333cc 40px,#402bb5 45px,#4332c9 47px,#402bb6 52px,#4330c5 54px,#402bb5 58px,#422fc2 60px,#402ab4 63px,#422fc0 65px,#402bb5 67px,#412dbc 69px,#3f2ab3 72px,#412cb9 73px,#402ab4 76px,#412cba 77px,#402bb5 79px,#3e26a8 118px,#3e26a8 126px,#bfb7e2 127px,#fff 128px"></i><i style="top:59px;height:126px;--g:#fff 0,#d5d0ef 1px,#5643bf 2px,#412ebe 3px,#43c 4px,#4537d6 6px,#4333ca 10px,#402cb8 13px,#412cb8 14px,#4536d4 17px,#402bb7 24px,#4434d0 27px,#412cb8 33px,#4433cd 36px,#402ab5 41px,#4332c9 43px,#402bb6 48px,#4331c6 50px,#402ab4 54px,#4230c3 56px,#402bb6 59px,#422ebf 62px,#402ab4 64px,#422ebf 66px,#402bb5 68px,#412cba 70px,#402ab3 73px,#412cb9 74px,#3f29b1 76px,#402bb7 77px,#3e26a8 116px,#3e26a8 124px,#bfb7e2 125px,#fff 126px"></i><i style="top:58px;height:127px;--g:#fff 0,#aba4e7 1px,#6d61d8 2px,#4435d1 3px,#4435d1 7px,#402bb6 12px,#402cb7 13px,#4535d0 15px,#4535d1 16px,#402cb7 23px,#4435d1 26px,#402bb7 32px,#4433cd 35px,#402bb6 40px,#4332ca 43px,#402bb6 47px,#4331c6 50px,#402bb6 53px,#4230c3 56px,#402bb5 59px,#422fc1 61px,#402bb5 64px,#422ebf 66px,#402bb4 68px,#412dbd 70px,#402ab4 72px,#412cba 74px,#3f2ab2 76px,#402bb7 77px,#3e26a8 116px,#3e26a8 125px,#bfb7e2 126px,#fff 127px"></i><i style="top:57px;height:128px;--g:#fff 0,#8379e2 1px,#4536d4 2px,#4535d2 5px,#402bb6 11px,#4435d2 14px,#4535d2 15px,#412cb9 21px,#412cb8 22px,#43c 24px,#4434cf 25px,#402bb6 31px,#4332c9 33px,#43c 34px,#402bb7 39px,#4332ca 42px,#402bb5 47px,#4331c7 49px,#402bb5 53px,#4230c4 55px,#402bb6 58px,#422fc0 60px,#402bb6 64px,#422ebf 65px,#402bb5 68px,#412dbc 70px,#402ab4 72px,#412cb8 74px,#402ab2 79px,#402ab3 81px,#3e26a8 118px,#3e26a8 126px,#bfb7e2 127px,#fff 128px"></i><i style="top:57px;height:128px;--g:#fff 0,#4536d5 1px,#402bb6 9px,#4537d5 12px,#43c 15px,#402cb7 19px,#412cb8 20px,#4434ce 22px,#4434cf 23px,#402bb7 29px,#4434cf 32px,#402bb6 37px,#4433cb 40px,#402ab4 45px,#4331c7 47px,#402bb6 51px,#4230c5 53px,#402bb7 57px,#422fc2 59px,#402ab4 62px,#422ebf 64px,#402bb4 67px,#412ebd 69px,#402ab3 71px,#412dba 72px,#402ab4 78px,#3e26a8 118px,#3e26a8 126px,#bfb7e2 127px,#fff 128px"></i><i style="top:58px;height:127px;--g:#fff 0,#978de1 1px,#4330c4 2px,#402bb6 5px,#4536d5 9px,#4433cb 12px,#402ab4 16px,#4332c8 18px,#4435d1 20px,#402bb7 26px,#4434cf 29px,#402bb6 34px,#402bb7 35px,#43c 37px,#402ab5 42px,#4330c4 44px,#4330c5 45px,#402bb6 49px,#4331c6 51px,#402bb5 54px,#422fc1 57px,#402ab4 60px,#422fc0 62px,#402bb5 64px,#402ab4 65px,#412ebd 66px,#3f29b2 69px,#412cba 70px,#402ab4 73px,#412cb9 74px,#402ab3 79px,#3e26a8 117px,#3e26a8 125px,#bfb7e2 126px,#fff 127px"></i><i style="top:59px;height:126px;--g:#fff 0,#eae7f7 1px,#5644c2 2px,#4230c2 3px,#4434cd 4px,#4537d6 6px,#402bb5 13px,#4536d3 16px,#402bb7 23px,#4333ca 25px,#4434cd 26px,#402bb7 32px,#4433cd 34px,#402bb6 39px,#4331c7 42px,#402bb5 46px,#4331c6 48px,#402bb5 52px,#4230c3 54px,#402ab4 57px,#422ebf 59px,#402ab3 62px,#412ebd 64px,#402ab3 66px,#412dbb 68px,#3f2ab2 70px,#412cb9 72px,#3f29b1 74px,#402bb7 75px,#3e26a8 115px,#3e26a8 124px,#bfb7e2 125px,#fff 126px"></i><i style="top:58px;height:127px;--g:#fff 0,#5849d1 2px,#4435d1 3px,#4535d1 6px,#402ab4 12px,#43c 14px,#4435d0 15px,#4332ca 18px,#402bb5 21px,#4434cf 25px,#402bb7 30px,#402bb7 31px,#4333cc 33px,#402bb5 39px,#4332c8 41px,#402bb7 45px,#4331c6 48px,#402ab5 51px,#422fc1 54px,#402ab2 57px,#422fbf 59px,#402ab3 62px,#412ebd 64px,#3f2ab2 66px,#412dbb 68px,#402ab3 70px,#412cba 72px,#3f29b1 74px,#402cb8 75px,#402ab4 77px,#3e26a8 117px,#3e26a8 125px,#bfb7e2 126px,#fff 127px"></i><i style="top:57px;height:128px;--g:#fff 0,#978fe6 1px,#4536d3 2px,#4333cc 6px,#402ab4 10px,#402bb7 11px,#4435d0 13px,#4435d0 14px,#402bb7 20px,#402cb7 21px,#43c 23px,#4434cd 24px,#402bb7 29px,#402bb7 30px,#4434cd 32px,#402ab4 38px,#4332c8 40px,#402bb6 45px,#4331c7 47px,#402ab4 51px,#4230c3 53px,#402bb4 56px,#422ebf 58px,#402bb5 61px,#412dbc 63px,#402ab4 66px,#412dbc 68px,#3f2ab2 70px,#412cb9 72px,#3f29b2 74px,#412cb7 75px,#3f2ab2 83px,#3e26a8 118px,#3e26a8 126px,#bfb7e2 127px,#fff 128px"></i><i style="top:57px;height:128px;--g:#fff 0,#8379e1 1px,#4434cf 2px,#402bb6 8px,#4435d0 11px,#4435d0 12px,#402bb5 18px,#402cb7 19px,#4433cd 21px,#4434cd 22px,#402bb7 27px,#43c 31px,#402ab3 36px,#4332c9 38px,#402bb7 43px,#4331c7 45px,#402ab5 49px,#422fc2 52px,#402bb5 55px,#422fc1 57px,#402bb5 60px,#422ebe 62px,#402bb5 65px,#412dbc 66px,#402ab3 69px,#412cb9 70px,#4029b2 73px,#412cb8 74px,#3f29b1 76px,#402bb6 77px,#3e26a8 117px,#3e26a8 126px,#bfb7e2 127px,#fff 128px"></i><i style="top:58px;height:127px;--g:#fff 0,#c0baec 1px,#5746c8 2px,#412dbd 3px,#402cb8 5px,#4436d3 8px,#4331c6 12px,#402ab3 15px,#4434ce 18px,#43c 20px,#402bb7 24px,#402bb7 25px,#4333ca 27px,#4332ca 28px,#402ab4 33px,#4331c6 35px,#4331c7 36px,#402bb6 40px,#4331c6 43px,#402ab2 47px,#4230c4 49px,#402bb5 52px,#422fc1 54px,#402bb6 58px,#422ebf 60px,#402ab4 62px,#412dbd 64px,#402bb7 66px,#402bb7 72px,#3f29b0 74px,#402cb7 75px,#402ab3 77px,#3e26a8 116px,#3e26a8 125px,#bfb7e2 126px,#fff 127px"></i><i style="top:59px;height:126px;--g:#fff 0,#eae8f7 1px,#5645c4 2px,#4331c6 3px,#4434cf 4px,#4435d1 6px,#402bb4 12px,#4535d1 15px,#402ab4 22px,#43c 24px,#4231c6 27px,#402ab3 30px,#4332ca 33px,#402bb7 37px,#4331c6 40px,#402bb5 44px,#4230c4 46px,#402bb6 50px,#422fc2 52px,#402bb5 55px,#422ec0 57px,#402ab4 60px,#412ebd 62px,#402ab4 64px,#412cb9 66px,#402ab1 72px,#402bb7 73px,#402ab3 75px,#3e26a8 115px,#3e26a8 124px,#bfb7e2 125px,#fff 126px"></i><i style="top:58px;height:127px;--g:#fff 0,#978de1 1px,#4433cd 2px,#4435d0 5px,#402bb5 11px,#4435d1 14px,#402bb5 21px,#4230c4 22px,#4434ce 24px,#402ab4 29px,#4332c9 32px,#402bb6 37px,#4332c8 39px,#402bb5 43px,#4230c4 46px,#402bb7 49px,#422fc2 52px,#402ab3 55px,#422fc0 57px,#402ab3 60px,#412ebd 62px,#3f2ab2 64px,#412dbb 66px,#402ab3 68px,#412cb8 70px,#402ab4 75px,#3e26a8 116px,#3e26a8 125px,#bfb7e2 126px,#fff 127px"></i><i style="top:57px;height:128px;--g:#fff 0,#978fe6 1px,#4435d1 2px,#402bb5 10px,#4433cd 12px,#4434cf 13px,#402ab4 19px,#402bb5 20px,#4433cb 22px,#4433cb 23px,#402ab4 28px,#4333cb 31px,#402bb5 36px,#4331c7 38px,#402bb5 43px,#4330c6 45px,#402bb5 49px,#4230c3 51px,#402bb5 54px,#422ebf 56px,#402bb5 59px,#412dbc 62px,#402ab3 64px,#412dbc 66px,#402bb5 68px,#402bb6 73px,#402ab3 78px,#3e26a8 116px,#3e26a8 126px,#bfb7e2 127px,#fff 128px"></i><i style="top:57px;height:128px;--g:#fff 0,#c1bbef 1px,#594ad2 2px,#4332c8 3px,#402bb5 7px,#4434ce 10px,#4434cf 11px,#402bb5 17px,#43c 20px,#43c 21px,#402ab4 26px,#4333cb 29px,#402bb6 34px,#4331c7 37px,#402bb4 41px,#4331c5 43px,#402bb6 47px,#422fc2 50px,#402ab2 53px,#422ebf 55px,#402ab3 58px,#412ebe 60px,#3f2ab2 63px,#412dbb 64px,#3f2ab1 67px,#412cb9 68px,#3f2ab2 70px,#402cb7 72px,#402ab4 74px,#3e26a8 117px,#3e26a8 126px,#bfb7e2 127px,#fff 128px"></i><i style="top:58px;height:127px;--g:#fff 0,#eae8f8 1px,#402cb8 3px,#402bb7 4px,#4332c8 6px,#4435d2 8px,#402ab4 14px,#4433cd 17px,#4331c7 20px,#3f2ab2 23px,#4333cc 26px,#402bb6 31px,#4331c8 34px,#402bb6 38px,#4330c5 41px,#402ab4 45px,#4230c3 47px,#3f2ab3 51px,#422ebe 52px,#422ebf 53px,#402ab3 56px,#422ebe 58px,#3f2ab3 60px,#412dbb 62px,#402ab3 65px,#412cba 66px,#4029b2 68px,#412cb8 70px,#3f29b0 72px,#402bb6 73px,#3e26a8 116px,#3e26a8 125px,#bfb7e2 126px,#fff 127px"></i><i style="top:59px;height:126px;--g:#fff 0,#aba2e3 1px,#6d5fd4 2px,#43c 3px,#4433cd 6px,#402ab4 11px,#4435d0 14px,#402bb5 20px,#4333cc 23px,#402bb6 28px,#4331c7 31px,#402bb6 36px,#4331c8 38px,#402ab4 42px,#422fc2 44px,#402bb5 48px,#422fc1 50px,#402bb5 53px,#422ebe 55px,#402bb4 58px,#412dbd 60px,#402ab2 62px,#412cba 64px,#402ab3 66px,#402bb7 68px,#3f29b1 70px,#402cb7 71px,#3f2ab2 76px,#3e26a8 115px,#3e26a8 124px,#bfb7e2 125px,#fff 126px"></i><i style="top:57px;height:128px;--g:#fff 0,#eae8f9 1px,#6d60d7 2px,#4434ce 3px,#43c 6px,#402bb5 11px,#4434cf 14px,#4331c6 17px,#402ab2 20px,#4333cc 23px,#402bb6 28px,#402bb6 29px,#4332c9 31px,#402bb6 36px,#4331c7 38px,#402ab4 43px,#4230c4 45px,#402ab4 48px,#422fc0 51px,#402bb5 54px,#422ec0 56px,#402bb4 58px,#412dbb 60px,#402bb5 63px,#412dba 65px,#402bb5 67px,#402bb6 72px,#402ab3 74px,#3e26a8 115px,#3e26a8 126px,#bfb7e2 127px,#fff 128px"></i><i style="top:57px;height:128px;--g:#fff 0,#978fe5 1px,#4435cf 2px,#402cb7 8px,#402bb7 9px,#4435d1 12px,#402ab4 18px,#43c 21px,#402bb5 27px,#4332c9 29px,#402bb6 34px,#4331c7 37px,#402ab3 41px,#4230c4 43px,#402ab5 47px,#4230c3 49px,#402bb4 52px,#422ebf 54px,#402bb5 57px,#412dbb 59px,#402ab3 66px,#412cb8 67px,#3f29b1 73px,#402bb6 74px,#3e26a8 117px,#3e26a8 126px,#bfb7e2 127px,#fff 128px"></i><i style="top:58px;height:127px;--g:#fff 0,#978de1 1px,#4230c4 2px,#402bb6 5px,#4435d0 9px,#402ab5 15px,#43c 18px,#402bb5 24px,#4331c7 26px,#4331c7 27px,#402bb6 31px,#4332c8 34px,#402ab4 38px,#4230c4 41px,#402ab4 44px,#422fc2 46px,#402bb5 50px,#422fc0 52px,#402ab3 55px,#412ebe 57px,#402ab4 60px,#412dbb 61px,#402ab3 64px,#412dba 65px,#402ab4 67px,#402cb8 69px,#3f29b1 71px,#402bb6 72px,#3f29b0 74px,#402bb5 75px,#3e26a8 116px,#3e26a8 125px,#bfb7e2 126px,#fff 127px"></i><i style="top:59px;height:126px;--g:#fff 0,#d5d0ef 1px,#5643bf 2px,#412dbc 3px,#4332c8 4px,#4434cf 6px,#402bb5 12px,#4434cd 15px,#402ab5 21px,#4331c7 23px,#4332c8 24px,#402bb6 28px,#4331c7 31px,#402ab4 36px,#4230c5 38px,#402bb5 42px,#4230c3 44px,#402bb4 47px,#422ebf 50px,#402ab4 53px,#422ebf 55px,#3f2ab2 57px,#412dbc 59px,#3f2ab2 61px,#412dba 63px,#402ab3 65px,#402bb6 67px,#3f2ab2 75px,#3e26a8 113px,#3e26a8 124px,#bfb7e2 125px,#fff 126px"></i><i style="top:58px;height:127px;--g:#fff 0,#eae8f8 1px,#6c5ed2 2px,#4333cb 3px,#4434ce 5px,#402bb6 11px,#4434cd 14px,#402bb5 20px,#4331c8 22px,#4332c8 23px,#402bb5 28px,#4332c9 30px,#402ab4 35px,#4330c6 37px,#402bb5 41px,#4230c3 43px,#402ab4 47px,#422fc0 49px,#3f2ab3 52px,#412ebe 54px,#3f2ab3 57px,#412dbc 59px,#3f2ab2 61px,#412dba 63px,#3f2ab2 65px,#412cb8 67px,#3f2ab2 69px,#402cb7 70px,#3e26a8 115px,#3e26a8 125px,#bfb7e2 126px,#fff 127px"></i><i style="top:57px;height:128px;--g:#fff 0,#d5d2f4 1px,#4433cd 2px,#4433cd 4px,#402bb5 10px,#4332c9 12px,#4433cb 13px,#402bb5 19px,#4331c8 21px,#4332c8 22px,#402bb6 27px,#4331c6 29px,#4331c6 30px,#402ab3 34px,#4331c6 36px,#402bb6 40px,#4230c3 43px,#402ab4 46px,#422ebf 49px,#402ab2 52px,#422ebe 54px,#3f2ab2 57px,#412dbb 59px,#402ab2 61px,#412dba 63px,#3f29b0 65px,#412bb8 66px,#3f2ab2 69px,#402cb8 70px,#3f2ab2 75px,#3e26a8 116px,#3e26a8 126px,#bfb7e2 127px,#fff 128px"></i><i style="top:57px;height:128px;--g:#fff 0,#d5d2f4 1px,#43c 2px,#402bb6 7px,#4434cd 11px,#402bb5 17px,#4331c8 19px,#4332c9 20px,#402bb5 25px,#4331c6 27px,#4331c6 28px,#402bb4 32px,#4331c6 35px,#402ab5 39px,#4230c3 41px,#422fc1 42px,#402ab2 45px,#422fc1 47px,#402ab4 50px,#412ebd 52px,#402bb4 55px,#412dbb 57px,#402ab4 60px,#412cba 62px,#3f29b0 64px,#412cb8 65px,#3f29b1 67px,#402bb7 69px,#3f29b1 71px,#402bb6 72px,#3e26a8 116px,#3e26a8 126px,#bfb7e2 127px,#fff 128px"></i><i style="top:58px;height:127px;--g:#fff 0,#eae8f8 1px,#6b5ccd 2px,#412cb9 3px,#402bb6 4px,#4434ce 8px,#402bb5 14px,#4332c8 16px,#4332c9 17px,#402bb6 22px,#4332c9 25px,#402bb4 29px,#4331c5 32px,#402bb5 36px,#4230c3 39px,#402ab3 42px,#422fc0 45px,#402ab4 48px,#422ebf 50px,#402ab4 53px,#412ebd 55px,#402ab4 57px,#412cb9 59px,#402ab3 65px,#402bb7 67px,#3f29b1 69px,#402bb7 70px,#402ab3 72px,#3e26a8 114px,#3e26a8 125px,#bfb7e2 126px,#fff 127px"></i><i style="top:59px;height:126px;--g:#fff 0,#d5d0f1 1px,#6c5dcd 2px,#4332c8 3px,#4433cd 5px,#402bb6 10px,#4333cb 14px,#402bb6 19px,#4332c9 22px,#402ab4 27px,#4331c7 29px,#402bb5 34px,#4230c4 36px,#402ab3 40px,#422fc2 42px,#402bb4 45px,#422ebf 47px,#402bb5 50px,#412dbd 52px,#402bb5 55px,#412dbb 57px,#402ab3 59px,#412cba 61px,#4029b2 63px,#402bb6 65px,#3f29b0 70px,#402bb5 71px,#3e26a8 114px,#3e26a8 124px,#bfb7e2 125px,#fff 126px"></i><i style="top:58px;height:127px;--g:#fff 0,#978de1 1px,#4332ca 2px,#4433cd 4px,#402bb6 9px,#4333cb 13px,#402bb6 18px,#4332c9 21px,#402ab5 26px,#4330c5 28px,#4331c5 29px,#402ab3 33px,#4230c4 35px,#402ab4 39px,#422fc1 41px,#402bb5 45px,#422fc0 47px,#402ab4 50px,#412ebd 52px,#402ab3 55px,#412dbc 57px,#402ab3 59px,#412cba 61px,#402ab2 63px,#412cb8 64px,#3f29b0 70px,#402bb6 71px,#3e26a8 115px,#3e26a8 125px,#bfb7e2 126px,#fff 127px"></i><i style="top:57px;height:128px;--g:#fff 0,#d5d2f4 1px,#4433cd 2px,#402bb6 8px,#4333cc 12px,#402bb5 17px,#4332ca 20px,#402ab4 25px,#4330c5 27px,#4331c6 28px,#402ab4 32px,#4230c3 35px,#402ab4 39px,#422fc3 41px,#402bb5 44px,#422ec0 47px,#402ab4 50px,#412ebf 52px,#402ab3 54px,#412dbb 56px,#402ab4 59px,#412cb8 61px,#3f29b0 70px,#402bb6 71px,#3f29af 73px,#402bb5 74px,#3e26a8 115px,#3e26a8 126px,#bfb7e2 127px,#fff 128px"></i><i style="top:58px;height:127px;--g:#fff 0,#978de0 1px,#4230c3 2px,#412ebe 3px,#402bb5 5px,#4332ca 8px,#4333ca 9px,#402bb5 14px,#4332ca 17px,#402bb5 22px,#4230c3 24px,#4330c5 26px,#3f2ab2 30px,#4230c5 32px,#402bb4 36px,#422fc3 38px,#402ab4 42px,#422fc1 44px,#402ab3 47px,#412ebe 49px,#402ab2 52px,#412dbd 54px,#3f2ab2 56px,#412dba 58px,#402ab3 60px,#402bb7 62px,#3f2ab2 71px,#3f29b1 75px,#3e26a8 115px,#3e26a8 125px,#bfb7e2 126px,#fff 127px"></i><i style="top:59px;height:126px;--g:#fff 0,#d5d0ef 1px,#6a5ac6 2px,#412dbb 3px,#4434cd 5px,#402bb5 11px,#4333cb 14px,#402bb5 19px,#422fc2 21px,#4331c6 23px,#3f2ab1 27px,#4230c5 29px,#402bb6 33px,#4230c4 36px,#402ab4 39px,#422fc0 42px,#3f2ab2 45px,#422ebe 47px,#3f2ab2 50px,#412dbd 52px,#3f29b1 54px,#412dbb 56px,#3f2ab2 58px,#412cb8 60px,#3f2ab2 62px,#402bb7 64px,#402ab3 66px,#3e26a8 113px,#3e26a8 124px,#bfb7e2 125px,#fff 126px"></i><i style="top:58px;height:127px;--g:#fff 0,#eae8f8 1px,#4332c8 3px,#4433cb 5px,#402bb5 10px,#4333cb 13px,#402bb6 18px,#4331c7 21px,#4331c5 22px,#3f2ab2 26px,#4230c3 28px,#4230c3 29px,#402bb5 33px,#4230c4 35px,#402ab3 39px,#422fc1 41px,#402ab3 44px,#412ebe 47px,#402ab4 49px,#412dbc 52px,#402ab2 54px,#412dbb 56px,#3f2ab2 58px,#412cb8 60px,#402ab3 62px,#402ab5 67px,#3f2ab2 72px,#3e26a8 115px,#3e26a8 125px,#bfb7e2 126px,#fff 127px"></i><i style="top:58px;height:127px;--g:#fff 0,#5849d0 1px,#43c 2px,#402bb6 8px,#4333cb 11px,#402bb6 16px,#402bb6 17px,#4332ca 19px,#402bb4 24px,#4331c6 27px,#402ab4 31px,#4230c4 33px,#402ab4 37px,#422fc0 40px,#402ab2 43px,#422ebf 45px,#3f2ab3 48px,#412dbd 50px,#402ab3 53px,#412dbb 54px,#402ab3 61px,#402bb5 66px,#3f29b1 68px,#402bb6 69px,#3e26a8 114px,#3e26a8 125px,#bfb7e2 126px,#fff 127px"></i><i style="top:57px;height:128px;--g:#fff 0,#eae8f9 1px,#4333ca 2px,#422fc1 4px,#402bb5 7px,#4333cb 10px,#402bb6 15px,#402bb6 16px,#4332c9 18px,#402ab3 24px,#4331c6 26px,#402bb5 30px,#4230c4 33px,#3f2ab2 37px,#422fc2 39px,#402ab4 42px,#422ebf 44px,#402ab4 48px,#412ebd 49px,#402ab4 52px,#412dbc 54px,#402ab4 57px,#412dba 58px,#402ab4 61px,#402bb5 66px,#3f29b1 68px,#402bb6 69px,#3e26a8 115px,#3e26a8 126px,#bfb7e2 127px,#fff 128px"></i><i style="top:59px;height:126px;--g:#fff 0,#968ada 1px,#402cb7 2px,#402bb5 3px,#43c 6px,#402bb6 11px,#4332c8 15px,#3f2ab3 20px,#4331c7 22px,#402bb4 27px,#4230c5 29px,#402ab2 33px,#422fc1 35px,#402bb5 39px,#422fc0 41px,#402ab4 44px,#422ebe 46px,#402ab4 49px,#412dbc 51px,#3f2ab3 53px,#412dba 55px,#402ab3 57px,#412cb9 59px,#402ab4 61px,#402bb4 66px,#3f2ab2 68px,#3e26a8 113px,#3e26a8 124px,#bfb7e2 125px,#fff 126px"></i><i style="top:59px;height:126px;--g:#fff 0,#eae8f8 1px,#6c5ed0 2px,#4332c8 3px,#4332ca 5px,#402ab4 9px,#4332c9 13px,#3f29b1 18px,#4331c7 20px,#402ab4 25px,#4230c4 27px,#402ab4 32px,#422fc2 34px,#402bb4 37px,#422ec0 40px,#402ab3 43px,#422ebe 45px,#3f2ab3 48px,#412dbd 50px,#3f2ab2 52px,#412dbb 54px,#402ab3 56px,#412cb9 58px,#3f2ab3 60px,#402bb6 62px,#3f29b0 67px,#402bb5 68px,#3e26a8 112px,#3e26a8 124px,#bfb7e2 125px,#fff 126px"></i><i style="top:58px;height:127px;--g:#fff 0,#8276da 1px,#4332c9 2px,#4332ca 4px,#402bb5 8px,#4332c9 12px,#402ab4 17px,#4331c7 20px,#402ab4 24px,#4230c4 27px,#402ab3 31px,#422fc3 33px,#402ab4 37px,#422fc2 39px,#3f2ab3 42px,#422ebf 44px,#402ab3 47px,#412dbc 49px,#402ab3 52px,#412cba 54px,#402ab2 56px,#412cb9 58px,#402ab3 60px,#402bb5 65px,#3f2ab2 67px,#3f2ab2 71px,#3e26a8 114px,#3e26a8 125px,#bfb7e2 126px,#fff 127px"></i><i style="top:58px;height:127px;--g:#fff 0,#4333cb 1px,#402ab3 7px,#4333cb 9px,#402bb5 15px,#4332c8 18px,#402ab5 22px,#4230c4 25px,#402ab4 29px,#4230c3 31px,#402bb5 35px,#422fc0 38px,#402ab3 41px,#422ebf 43px,#3f2ab2 46px,#412dbc 48px,#3f2ab2 51px,#412cba 52px,#402ab2 55px,#412cb9 57px,#402ab4 59px,#402ab4 64px,#3e26a8 114px,#3e26a8 125px,#bfb7e2 126px,#fff 127px"></i><i style="top:58px;height:127px;--g:#fff 0,#c0baec 1px,#5646c6 2px,#412dba 3px,#402ab3 5px,#4331c7 7px,#4332c8 8px,#402ab3 13px,#4331c7 16px,#402ab3 21px,#4330c5 23px,#402ab5 27px,#4230c3 30px,#402ab4 34px,#422fc2 36px,#3f2ab3 39px,#422dbd 42px,#3f2ab2 45px,#412dbc 46px,#402ab3 49px,#412cba 51px,#3f2ab2 54px,#412cb9 55px,#402ab3 61px,#402ab4 63px,#3e26a8 114px,#3e26a8 125px,#bfb7e2 126px,#fff 127px"></i><i style="top:60px;height:125px;--g:#fff 0,#7f71cd 1px,#422ebf 2px,#4333cb 4px,#402ab3 9px,#4332c8 12px,#402ab4 17px,#4230c4 19px,#402bb5 24px,#4230c2 26px,#422fc1 27px,#3f2ab2 30px,#422fc2 32px,#3f2ab2 36px,#422ebf 38px,#402ab2 41px,#412ebc 43px,#402ab3 46px,#412dbb 48px,#3f2ab2 50px,#412cb9 52px,#3f29b2 54px,#412bb7 56px,#3f2ab2 58px,#402ab4 60px,#3e26a8 112px,#3e26a8 123px,#bfb7e2 124px,#fff 125px"></i><i style="top:58px;height:127px;--g:#fff 0,#d5d1f2 1px,#8276da 2px,#4331c8 3px,#4331c7 5px,#3f2ab3 9px,#4332c8 12px,#402ab4 17px,#4331c5 20px,#402ab4 24px,#4230c4 26px,#402ab4 31px,#422fc2 33px,#402ab3 36px,#412ebe 39px,#402ab3 42px,#412ebf 44px,#402ab3 46px,#412dbb 48px,#402ab4 51px,#412cba 53px,#3f2ab2 55px,#402bb8 57px,#402ab2 59px,#402ab3 64px,#3e26a8 114px,#3e26a8 125px,#bfb7e2 126px,#fff 127px"></i><i style="top:58px;height:127px;--g:#fff 0,#5849cf 1px,#4332c9 2px,#402ab3 7px,#4332c9 10px,#402ab5 15px,#4331c5 18px,#402ab5 22px,#4230c5 25px,#3f29b1 29px,#422fc1 31px,#3f2ab3 35px,#422ec0 37px,#402ab4 40px,#412ebe 42px,#402ab3 45px,#412dbc 47px,#402ab4 50px,#412cbb 52px,#402ab2 54px,#412cb9 56px,#402ab3 58px,#402ab4 63px,#3f2ab2 65px,#3e26a8 114px,#3e26a8 125px,#bfb7e2 126px,#fff 127px"></i><i style="top:58px;height:127px;--g:#fff 0,#8276d9 1px,#4230c3 2px,#402bb7 4px,#402bb5 6px,#4432ca 8px,#402ab5 13px,#4331c5 16px,#402ab5 21px,#4331c6 23px,#402ab3 27px,#422fc1 30px,#402ab3 33px,#422fc0 35px,#402bb4 39px,#422ebe 41px,#402ab3 44px,#412ebd 46px,#402ab3 48px,#412cb9 50px,#402bb5 53px,#402bb7 58px,#3f2ab3 60px,#3f2ab2 65px,#3e26a8 113px,#3e26a8 125px,#bfb7e2 126px,#fff 127px"></i><i style="top:59px;height:126px;--g:#fff 0,#402bb5 3px,#4332ca 5px,#402ab4 10px,#4331c5 13px,#402bb5 18px,#4230c4 20px,#402ab3 25px,#422fc1 27px,#402bb5 31px,#422fc1 33px,#402ab3 36px,#412ebe 38px,#402bb4 42px,#412dbd 44px,#3f29b1 46px,#412dbb 48px,#3f2ab1 50px,#412cb9 52px,#402ab2 54px,#402bb7 56px,#402ab3 62px,#3e26a8 112px,#3e26a8 124px,#bfb7e2 125px,#fff 126px"></i><i style="top:59px;height:126px;--g:#fff 0,#c0baea 1px,#5747ca 2px,#4332c8 3px,#402ab4 9px,#4331c7 11px,#402bb5 16px,#4230c5 19px,#3f2ab1 23px,#422fc2 25px,#402bb5 29px,#422fc1 31px,#402ab3 35px,#422ebf 37px,#3f29b1 40px,#412dbc 42px,#3f2ab2 45px,#412dbc 47px,#3f29b1 49px,#412dba 51px,#4029b1 53px,#402cb7 55px,#402ab4 57px,#402ab4 62px,#3f2ab2 64px,#3e26a8 112px,#3e26a8 124px,#bfb7e2 125px,#fff 126px"></i><i style="top:58px;height:127px;--g:#fff 0,#8276da 1px,#4332c8 2px,#402ab3 8px,#4331c7 10px,#402bb5 15px,#4230c5 18px,#402ab3 22px,#422fc2 25px,#402ab4 29px,#422fc2 31px,#402ab3 34px,#412ebe 37px,#3f29b2 40px,#412ebd 42px,#3f2ab2 45px,#412cb9 46px,#3f2ab2 49px,#412cb9 51px,#3f29b1 53px,#412cb8 55px,#402ab3 57px,#402ab3 62px,#3e26a8 112px,#3e26a8 125px,#bfb7e2 126px,#fff 127px"></i><i style="top:58px;height:127px;--g:#fff 0,#8276d9 1px,#4330c4 2px,#402ab2 6px,#4330c5 8px,#4331c5 9px,#402ab5 13px,#4230c4 16px,#402ab4 21px,#4230c3 23px,#402bb5 27px,#422fc1 30px,#3f2ab1 33px,#422ec0 35px,#3f2ab2 38px,#412ebd 40px,#402ab2 43px,#412dbb 45px,#3f29b1 48px,#412cb9 50px,#402ab4 52px,#402ab3 61px,#3e26a8 113px,#3e26a8 125px,#bfb7e2 126px,#fff 127px"></i><i style="top:59px;height:126px;--g:#fff 0,#968ada 1px,#402bb6 2px,#3f2ab2 3px,#4330c5 5px,#4331c6 6px,#402ab4 11px,#4230c5 13px,#4230c3 14px,#402ab2 18px,#4230c4 20px,#402ab4 24px,#422fc2 27px,#402ab3 30px,#422ebe 33px,#402ab3 36px,#412dbd 38px,#3f2ab3 41px,#412dbc 43px,#402ab3 45px,#412cb9 47px,#3f29b1 54px,#412bb7 55px,#3f29b1 57px,#402ab3 59px,#3e26a8 112px,#3e26a8 124px,#bfb7e2 125px,#fff 126px"></i><i style="top:59px;height:126px;--g:#fff 0,#eae8f7 1px,#6c5ccd 2px,#4330c5 3px,#402bb7 9px,#4331c6 12px,#3f29b2 16px,#4230c3 18px,#402ab4 23px,#422fc2 25px,#3f2ab2 29px,#422ec0 31px,#3f2ab2 34px,#412ebd 36px,#402ab4 39px,#412dbc 41px,#402ab3 44px,#412dbb 46px,#3f2ab2 48px,#412cba 50px,#402ab2 52px,#402cb7 54px,#3f2ab2 56px,#402ab3 61px,#3e26a8 112px,#3e26a8 124px,#bfb7e2 125px,#fff 126px"></i><i style="top:58px;height:127px;--g:#fff 0,#c0baec 1px,#4330c4 2px,#4330c4 4px,#402ab4 8px,#4331c6 11px,#402ab3 15px,#4230c5 18px,#402ab2 22px,#422fc2 24px,#402ab2 28px,#422ebf 30px,#402ab4 34px,#422ebf 36px,#402ab3 39px,#412dbd 41px,#402ab4 44px,#412dbb 46px,#3f2ab3 48px,#412bb7 50px,#402ab4 56px,#402ab3 61px,#3e26a8 113px,#3e26a8 125px,#bfb7e2 126px,#fff 127px"></i><i style="top:58px;height:127px;--g:#fff 0,#968cdf 1px,#4330c4 2px,#402ab3 6px,#4331c6 8px,#402bb5 13px,#4230c4 16px,#402ab4 21px,#422fc2 23px,#402ab3 27px,#422fc1 29px,#402ab3 32px,#422ebe 34px,#402ab4 38px,#412ebe 40px,#3f29b2 42px,#412dbb 44px,#3f2ab2 47px,#412cb9 49px,#402ab3 51px,#402bb6 56px,#402ab3 58px,#3e26a8 113px,#3e26a8 125px,#bfb7e2 126px,#fff 127px"></i><i style="top:58px;height:127px;--g:#fff 0,#eae8f8 1px,#8173d2 2px,#412cb8 3px,#402ab4 4px,#4331c7 7px,#402ab3 12px,#4231c5 14px,#402ab3 19px,#422fc2 21px,#402ab3 25px,#422fc1 27px,#3f2bb4 31px,#422ec0 33px,#3f29b2 36px,#412ebe 38px,#3f29b1 41px,#412dbc 43px,#3f29b2 45px,#412cb9 47px,#402ab2 50px,#412cb8 52px,#3f29b1 54px,#402bb7 55px,#3f2ab2 61px,#3e26a8 112px,#3e26a8 125px,#bfb7e2 126px,#fff 127px"></i><i style="top:59px;height:126px;--g:#fff 0,#eae7f7 1px,#6b5bc8 2px,#422fc2 3px,#4330c4 5px,#402ab4 9px,#4230c6 12px,#402ab2 16px,#4230c2 18px,#402bb5 22px,#422fc1 25px,#402ab4 28px,#412ebe 31px,#3f2ab2 34px,#412ebd 36px,#3f29b1 39px,#412dbc 41px,#3f29b1 43px,#412cba 45px,#3f2ab1 48px,#412cb8 49px,#402ab3 55px,#402ab2 60px,#3e26a8 111px,#3e26a8 124px,#bfb7e2 125px,#fff 126px"></i><i style="top:58px;height:127px;--g:#fff 0,#eae8f8 1px,#5747ca 2px,#4331c5 3px,#402ab4 8px,#422fc2 10px,#4230c3 12px,#402ab2 15px,#422fc2 18px,#402ab4 22px,#422fc2 24px,#3f2ab3 28px,#422ec0 30px,#3f2ab1 33px,#412dbd 35px,#402ab3 38px,#412dbb 41px,#3f29b0 43px,#412cba 45px,#3f29b0 47px,#412cb9 49px,#3f29b1 51px,#402cb8 53px,#3f29b0 55px,#402bb6 56px,#3e26a8 113px,#3e26a8 125px,#bfb7e2 126px,#fff 127px"></i><i style="top:58px;height:127px;--g:#fff 0,#8276d9 1px,#4330c5 2px,#402bb4 6px,#4331c6 9px,#3f2ab2 14px,#4230c4 16px,#402ab3 20px,#422fc2 22px,#402ab4 26px,#422ebf 29px,#3f29b2 32px,#412ebd 34px,#3f2ab2 37px,#412dbb 39px,#402ab3 42px,#412cbb 44px,#3f29b1 46px,#412cb9 48px,#3f29b1 50px,#402cb8 52px,#3f29af 54px,#402bb6 55px,#3e26a8 112px,#3e26a8 125px,#bfb7e2 126px,#fff 127px"></i><i style="top:58px;height:127px;--g:#fff 0,#eae8f8 1px,#6b5ccb 2px,#412cb9 3px,#3f2ab3 4px,#4331c6 7px,#3f29b2 12px,#4230c4 14px,#402ab4 18px,#422fc1 21px,#3f2ab2 25px,#422fc0 27px,#3f29b1 30px,#412dbd 32px,#402ab4 35px,#412dbb 38px,#402ab3 40px,#412cb9 42px,#3f29b1 49px,#402bb7 50px,#3f2ab3 53px,#402ab3 58px,#3e26a8 111px,#3e26a8 125px,#bfb7e2 126px,#fff 127px"></i><i style="top:60px;height:125px;--g:#fff 0,#8072cf 1px,#422fc0 2px,#4230c5 4px,#3f2ab1 8px,#422fc2 10px,#422fc2 11px,#402ab4 15px,#422fc1 17px,#422ebf 18px,#3f29b1 21px,#422ebf 23px,#3f2ab3 27px,#422ebe 29px,#402ab3 32px,#412dbd 34px,#402ab3 37px,#412dbc 39px,#3f2ab3 41px,#412cb9 43px,#402ab4 45px,#402bb5 51px,#3f29b1 53px,#402ab3 55px,#3e26a8 110px,#3e26a8 123px,#bfb7e2 124px,#fff 125px"></i><i style="top:58px;height:127px;--g:#fff 0,#eae8f8 1px,#5746c8 2px,#4330c4 3px,#402ab3 8px,#4230c3 11px,#402ab4 15px,#422fc2 18px,#3f2ab2 21px,#422fc0 24px,#402ab3 27px,#422ebf 29px,#402bb4 32px,#412dbc 35px,#402ab3 38px,#412dbc 40px,#3f2ab1 42px,#412cb9 44px,#402ab3 50px,#402bb7 52px,#402ab3 54px,#3f2ab2 59px,#3e26a8 112px,#3e26a8 125px,#bfb7e2 126px,#fff 127px"></i><i style="top:58px;height:127px;--g:#fff 0,#8275d9 1px,#4330c4 2px,#3f29b2 6px,#4230c4 9px,#402bb4 13px,#422fc2 16px,#3f2ab2 20px,#422ec0 22px,#402bb4 26px,#422ec0 28px,#3f2ab2 31px,#412ebe 33px,#3f29b2 36px,#412dbb 38px,#3f2ab2 41px,#412dbb 43px,#3f29b1 45px,#412cb9 47px,#3f29b2 49px,#402bb6 51px,#3f29b2 56px,#3f2ab2 58px,#3e26a8 111px,#3e26a8 125px,#bfb7e2 126px,#fff 127px"></i><i style="top:58px;height:127px;--g:#fff 0,#d5d1f1 1px,#6c5ccd 2px,#412cb9 3px,#3f2ab2 5px,#4230c5 7px,#402ab4 12px,#4230c3 14px,#402ab3 18px,#422fc1 21px,#3f2ab2 24px,#422ebe 26px,#402ab3 30px,#412ebd 32px,#3f2ab2 35px,#412dbb 37px,#3f29b1 40px,#412cba 42px,#3f29b1 44px,#412cb8 46px,#3f2ab3 48px,#402bb4 53px,#3f29b0 67px,#3e26a8 112px,#3e26a8 125px,#bfb7e2 126px,#fff 127px"></i><i style="top:60px;height:125px;--g:#fff 0,#7f71cc 1px,#412dbc 2px,#4230c3 3px,#402ab3 8px,#422fc2 10px,#402ab4 14px,#422fc0 17px,#402ab4 21px,#422fc0 23px,#3f2ab2 26px,#412ebe 28px,#402ab3 31px,#412dbb 34px,#3f29b0 36px,#412cba 38px,#3f29b1 41px,#412bb8 42px,#3f29b0 45px,#402bb7 46px,#3f29b1 49px,#402cb7 50px,#402ab3 52px,#3e26a8 110px,#3e26a8 123px,#bfb7e2 124px,#fff 125px"></i><i style="top:58px;height:127px;--g:#fff 0,#eae8f8 1px,#4230c5 3px,#402ab5 8px,#422fc2 11px,#3f2ab2 15px,#422fc2 17px,#402bb4 21px,#422ebf 24px,#3f29b0 27px,#412ebe 29px,#3f29b1 32px,#412dbc 34px,#3f2ab2 37px,#412dbb 39px,#3f29b1 41px,#402bb7 43px,#402ab2 49px,#402bb6 51px,#402ab3 53px,#3e26a8 112px,#3e26a8 125px,#bfb7e2 126px,#fff 127px"></i><i style="top:58px;height:127px;--g:#fff 0,#968cde 1px,#4230c4 2px,#402ab3 6px,#422fc3 9px,#402ab3 13px,#422fc2 16px,#402ab3 19px,#422ebf 22px,#3f29b1 25px,#412dbd 27px,#402ab3 30px,#412dbb 33px,#3f2ab2 35px,#412cba 37px,#402ab3 40px,#412cb9 42px,#3f29b1 44px,#402bb7 46px,#3f29b1 48px,#402bb6 50px,#3f2ab2 52px,#3f2ab2 57px,#3e26a8 111px,#3e26a8 125px,#bfb7e2 126px,#fff 127px"></i><i style="top:58px;height:127px;--g:#fff 0,#eae8f8 1px,#5745c6 2px,#412cb9 3px,#402ab3 5px,#4230c4 7px,#402ab4 11px,#422fc1 14px,#402ab3 18px,#422fc0 20px,#3f2ab2 24px,#412ebf 26px,#3f2ab2 29px,#412ebd 31px,#402ab3 34px,#412dbb 36px,#3f2ab2 39px,#412cb9 40px,#402ab3 43px,#402bb7 45px,#3f29af 51px,#402bb6 52px,#3f29b1 54px,#402ab2 56px,#3e26a8 112px,#3e26a8 125px,#bfb7e2 126px,#fff 127px"></i><i style="top:59px;height:126px;--g:#fff 0,#eae7f7 1px,#7f71cc 2px,#412dba 3px,#422fc2 5px,#402ab4 9px,#4230c3 11px,#402ab3 15px,#422ebf 18px,#3f29b1 21px,#412ebe 23px,#402ab3 27px,#412ebe 29px,#402ab3 31px,#412dbb 34px,#402ab2 36px,#412cb9 38px,#402ab3 41px,#402bb6 43px,#3f2ab2 52px,#3f2ab2 57px,#3e26a8 110px,#3e26a8 124px,#bfb7e2 125px,#fff 126px"></i><i style="top:59px;height:126px;--g:#fff 0,#968bdb 1px,#422fc0 2px,#402bb5 7px,#422fc2 10px,#3f29b1 14px,#422fc0 16px,#402ab3 20px,#422ebf 22px,#3f2ab2 25px,#412ebe 27px,#402ab4 30px,#412dbb 33px,#3f29b1 35px,#412dba 37px,#4029b2 40px,#412cb9 41px,#3f2ab2 44px,#402cb8 45px,#402ab3 51px,#3e26a8 110px,#3e26a8 124px,#bfb7e2 125px,#fff 126px"></i><i style="top:58px;height:127px;--g:#fff 0,#c0baeb 1px,#4230c3 2px,#402ab4 6px,#422fc3 9px,#3f29b1 13px,#422ec0 15px,#402ab3 19px,#422ebf 21px,#402ab3 25px,#412ebe 27px,#3f2ab2 30px,#412dbc 32px,#402ab1 35px,#412dbb 37px,#3f2ab2 39px,#402cb7 41px,#402ab3 47px,#402bb5 49px,#3f2ab2 54px,#3e26a8 112px,#3e26a8 125px,#bfb7e2 126px,#fff 127px"></i><i style="top:58px;height:127px;--g:#fff 0,#eae8f8 1px,#5645c4 2px,#412cba 3px,#402ab4 5px,#4230c4 7px,#3f2ab2 11px,#422fc1 14px,#402ab3 17px,#422ebf 20px,#3f2ab2 23px,#412ebd 25px,#402ab2 29px,#412dbd 31px,#3f29b1 33px,#412cba 35px,#3f29b1 38px,#412cb9 40px,#3f29b0 42px,#412cb8 44px,#3f29b1 46px,#402bb5 48px,#3f2ab2 56px,#3e26a8 111px,#3e26a8 125px,#bfb7e2 126px,#fff 127px"></i><i style="top:60px;height:125px;--g:#fff 0,#6a59c4 1px,#412cbb 2px,#422fc2 4px,#3f29b1 8px,#422fc1 10px,#402ab3 14px,#422ec0 16px,#402ab3 20px,#422ebf 22px,#3f29b0 25px,#412dbc 27px,#3f2ab1 30px,#412cb8 32px,#402ab3 39px,#402cb7 41px,#3f2ab2 43px,#402bb5 48px,#3f2ab2 50px,#3e26a8 109px,#3e26a8 123px,#bfb7e2 124px,#fff 125px"></i><i style="top:59px;height:126px;--g:#fff 0,#8173d3 1px,#422fc1 2px,#402ab2 7px,#422fc1 9px,#402ab4 13px,#422fc0 16px,#3f29b1 19px,#412ebd 21px,#3f2ab2 25px,#412dbc 27px,#3f2ab2 30px,#412dbc 32px,#3f29b1 34px,#412cb9 36px,#3f29b0 39px,#402bb7 40px,#3f29b0 43px,#402bb6 44px,#3f29b1 47px,#402bb7 48px,#3f29b0 50px,#402bb5 51px,#3e26a8 110px,#3e26a8 124px,#bfb7e2 125px,#fff 126px"></i><i style="top:58px;height:127px;--g:#fff 0,#c0baeb 1px,#422fc2 2px,#402ab2 6px,#422fc1 9px,#402ab3 13px,#422ec0 15px,#3f29b1 19px,#412ebe 21px,#3f29b1 24px,#412dbd 26px,#3f2ab2 29px,#412dbb 31px,#3f2ab3 34px,#412dbb 36px,#4029b1 38px,#412cb9 40px,#402ab2 42px,#402ab5 44px,#3f2ab2 53px,#3e26a8 111px,#3e26a8 125px,#bfb7e2 126px,#fff 127px"></i><i style="top:58px;height:127px;--g:#fff 0,#eae8f8 1px,#8173d3 2px,#412cb9 3px,#3f2ab3 4px,#422fc2 7px,#3f2ab3 11px,#422fc0 13px,#3f29b1 17px,#422dbd 19px,#3f2ab3 23px,#412ebd 25px,#402ab3 28px,#412dbc 30px,#402ab3 33px,#412cba 34px,#402ab3 45px,#402ab5 47px,#402ab2 49px,#3e26a8 111px,#3e26a8 125px,#bfb7e2 126px,#fff 127px"></i><i style="top:60px;height:125px;--g:#fff 0,#7f71cc 1px,#412cba 2px,#422fc1 3px,#402ab3 7px,#422ec0 10px,#3f2ab2 13px,#412ebe 16px,#3f2ab2 19px,#412ebd 21px,#402ab4 24px,#412dbb 27px,#3f29b2 29px,#412cb8 31px,#402ab3 38px,#402cb8 40px,#3f29b1 42px,#402bb6 43px,#402ab3 46px,#3e26a8 109px,#3e26a8 113px,#533eb2 114px,#7e6ec5 115px,#7e6ec5 118px,#9486cf 119px,#bfb7e2 120px,#bfb7e2 123px,#eae7f5 124px,#fff 125px"></i><i style="top:59px;height:111px;--g:#fff 0,#968bdc 1px,#422fc1 2px,#402ab2 7px,#422fc0 9px,#3f29b2 13px,#412ebe 15px,#402ab3 19px,#412ebe 21px,#3f2ab2 24px,#412dbc 26px,#3f29b2 29px,#412cb9 31px,#402ab3 38px,#402cb7 40px,#402ab3 42px,#402ab5 47px,#402ab2 49px,#3e27ab 88px,#3e27a9 99px,#6957bd 100px,#7e6fc6 101px,#7e6fc6 104px,#a99fd9 105px,#bfb7e2 106px,#bfb7e2 109px,#d4cfec 110px,#fff 111px"></i><i style="top:58px;height:97px;--g:#fff 0,#c0baeb 1px,#422fc1 2px,#402ab3 6px,#422fc0 9px,#402ab3 12px,#422ebf 15px,#402ab3 18px,#412ebe 20px,#402ab2 24px,#412dbc 26px,#3f29b1 29px,#412dbb 31px,#3f29b0 33px,#412cb9 35px,#3f29b1 38px,#412cb8 39px,#4029b1 41px,#402bb7 43px,#3f29b1 45px,#402bb6 47px,#402ab3 49px,#3e28ac 84px,#533fb5 85px,#7e6fc7 86px,#7e6fc7 90px,#bfb7e3 91px,#bfb7e3 95px,#eae7f6 96px,#fff 97px"></i><i style="top:59px;height:80px;--g:#fff 0,#5644c4 1px,#402cb8 2px,#402ab4 4px,#422fc1 6px,#402ab3 10px,#422ec0 12px,#3f2ab2 16px,#412ebf 18px,#3f29b1 21px,#412dbc 23px,#3f29b0 26px,#412dba 28px,#3f29b1 31px,#412cb9 33px,#3f29b0 35px,#412cb8 37px,#3f29b0 39px,#402bb7 41px,#3f29b1 43px,#402ab4 45px,#3f29af 66px,#3f29af 68px,#5440b7 69px,#7f70ca 70px,#7f70c8 73px,#aaa0db 74px,#bfb7e4 75px,#bfb7e4 78px,#eae7f6 79px,#fff 80px"></i><i style="top:60px;height:64px;--g:#fff 0,#9588d4 1px,#412cba 2px,#422ebf 4px,#402ab3 7px,#422ec0 10px,#3f29b1 13px,#412ebd 15px,#3f2ab2 19px,#412dbc 21px,#3f29b1 24px,#412dba 26px,#3f29b1 29px,#412cba 31px,#3f29b0 33px,#402cb8 35px,#3f29b0 37px,#402cb7 39px,#3f2ab1 41px,#402ab4 43px,#3f2ab1 52px,#7f71cd 53px,#7f70ca 57px,#bfb8e5 58px,#bfb8e4 62px,#d4cfed 63px,#fff 64px"></i><i style="top:59px;height:50px;--g:#fff 0,#968bdb 1px,#422ebf 2px,#402ab4 6px,#422ebf 9px,#3f2ab2 13px,#422ebf 15px,#3f29b0 18px,#412dbc 20px,#3f2ab2 23px,#412dba 25px,#402ab2 28px,#412cb9 30px,#3f2ab2 33px,#412cb9 35px,#3f29b0 37px,#6a59c4 38px,#8072cf 39px,#7f71cd 42px,#bfb8e7 43px,#bfb8e5 48px,#eae7f6 49px,#fff 50px"></i><i style="top:58px;height:35px;--g:#fff 0,#c0baea 1px,#422fc0 2px,#3f2ab3 6px,#422fc1 8px,#3f2ab2 12px,#422ebe 14px,#3f2ab1 18px,#412ebd 20px,#3f29b1 23px,#6a5ac5 24px,#8073d2 25px,#7f70ca 28px,#9589d5 29px,#c0b9e8 30px,#bfb8e5 33px,#d4cfed 34px,#fff 35px"></i><i style="top:59px;height:18px;--g:#fff 0,#8072d1 1px,#412bb8 2px,#402ab3 3px,#422ebf 5px,#412dbc 7px,#8072d0 8px,#7f70ca 10px,#8073d1 11px,#c0b9e9 12px,#bfb8e5 16px,#d5d0ef 17px,#fff 18px"></i><i style="top:60px;height:2px;--g:#fff 0,#bfb8e4 1px,#fff 2px"></i></div>
<div class="p" style="left:371px"><i style="top:170px;height:5px;--g:#fff 0,#d4cfec 1px,#bfb7e2 2px,#bfb7e2 4px,#fff 5px"></i><i style="top:157px;height:18px;--g:#fff 0,#bfb7e2 1px,#bfb7e2 4px,#9486cf 5px,#7e6ec5 6px,#7e6ec5 8px,#6956bb 9px,#3e26a8 10px,#3e26a8 17px,#fff 18px"></i><i style="top:143px;height:32px;--g:#fff 0,#eae7f5 1px,#bfb7e2 2px,#bfb7e2 5px,#9486cf 6px,#7e6ec5 7px,#7e6ec5 9px,#6956bb 10px,#3e26a8 11px,#3e26a8 31px,#fff 32px"></i><i style="top:130px;height:45px;--g:#fff 0,#d4cfec 1px,#bfb7e2 2px,#bfb7e2 4px,#a99fd8 5px,#7e6ec5 6px,#7e6ec5 9px,#3e26a8 10px,#3e26a8 12px,#3e26a8 44px,#fff 45px"></i><i style="top:117px;height:58px;--g:#fff 0,#bfb7e2 1px,#bfb7e2 4px,#a99fd8 5px,#7e6ec5 6px,#7e6ec5 8px,#6956bb 9px,#3e26a8 10px,#3e26a8 18px,#3e26a8 57px,#fff 58px"></i><i style="top:104px;height:71px;--g:#fff 0,#bfb7e2 1px,#bfb7e2 3px,#a99fd8 4px,#7e6ec5 5px,#7e6ec5 8px,#6956bb 9px,#3e26a8 10px,#3e26a8 70px,#fff 71px"></i><i style="top:90px;height:85px;--g:#fff 0,#d4cfec 1px,#bfb7e2 2px,#bfb7e2 4px,#9486cf 5px,#7e6ec5 6px,#7e6ec5 9px,#533eb2 10px,#3e26a8 11px,#3e26a8 12px,#3e26a8 84px,#fff 85px"></i><i style="top:76px;height:99px;--g:#fff 0,#eae7f5 1px,#bfb7e2 2px,#bfb7e2 5px,#7e6ec5 6px,#7e6ec5 9px,#533eb2 10px,#3e26a8 11px,#3e26a8 13px,#3e26a8 98px,#fff 99px"></i><i style="top:63px;height:112px;--g:#fff 0,#eae7f5 1px,#bfb7e2 2px,#bfb7e2 4px,#9486cf 5px,#7e6ec5 6px,#7e6ec5 9px,#3e26a8 10px,#3e26a8 15px,#3e26a8 111px,#fff 112px"></i><i style="top:50px;height:125px;--g:#fff 0,#bfb7e2 1px,#bfb7e2 4px,#7e6ec5 5px,#7e6ec5 8px,#6956bb 9px,#3e26a8 10px,#3e26a8 124px,#fff 125px"></i><i style="top:46px;height:129px;--g:#fff 0,#7e6ec5 1px,#3e26a8 2px,#3e26a8 12px,#3e26a8 128px,#fff 129px"></i><i style="top:46px;height:129px;--g:#fff 0,#7e6ec5 1px,#3e26a8 2px,#3e26a8 12px,#3e26a8 128px,#fff 129px"></i><i style="top:46px;height:129px;--g:#fff 0,#7e6ec5 1px,#3e26a8 2px,#3e26a8 12px,#3e26a8 128px,#fff 129px"></i><i style="top:46px;height:129px;--g:#fff 0,#7e6ec5 1px,#3e26a8 2px,#3e26a8 12px,#3e26a8 128px,#fff 129px"></i><i style="top:46px;height:129px;--g:#fff 0,#7e6ec5 1px,#3e26a8 2px,#3e26a8 12px,#3e26a8 128px,#fff 129px"></i><i style="top:46px;height:129px;--g:#fff 0,#7e6ec5 1px,#3e26a8 2px,#3e26a8 12px,#3e26a8 128px,#fff 129px"></i><i style="top:46px;height:129px;--g:#fff 0,#7e6ec5 1px,#3e26a8 2px,#3e26a8 12px,#3e26a8 128px,#fff 129px"></i><i style="top:46px;height:129px;--g:#fff 0,#7e6ec5 1px,#3e26a8 2px,#3e26a8 12px,#3e26a8 128px,#fff 129px"></i><i style="top:46px;height:129px;--g:#fff 0,#7e6ec5 1px,#3e26a8 2px,#3e26a8 12px,#3e26a8 128px,#fff 129px"></i><i style="top:46px;height:129px;--g:#fff 0,#7e6ec6 1px,#3e26a9 2px,#3e26a9 12px,#3e26a8 128px,#fff 129px"></i><i style="top:46px;height:129px;--g:#fff 0,#7e6fc6 1px,#3e26a9 2px,#3e26a9 84px,#3e26a8 128px,#fff 129px"></i><i style="top:46px;height:129px;--g:#fff 0,#7e6fc6 1px,#3e27a9 2px,#3e27a9 107px,#3e26a8 128px,#fff 129px"></i><i style="top:46px;height:129px;--g:#fff 0,#6957bd 1px,#3e27aa 2px,#3e27a9 117px,#3e26a9 128px,#fff 129px"></i><i style="top:46px;height:129px;--g:#fff 0,#3e27ac 1px,#3e27aa 124px,#3e26a9 128px,#fff 129px"></i><i style="top:46px;height:129px;--g:#fff 0,#3f28ae 1px,#3e27a9 128px,#fff 129px"></i><i style="top:45px;height:130px;--g:#fff 0,#d5d0ee 1px,#402ab4 2px,#402ab4 68px,#3e28ac 118px,#3e27a9 128px,#6957bc 129px,#fff 130px"></i><i style="top:45px;height:130px;--g:#fff 0,#6b5ccc 1px,#412dbc 2px,#412dbc 82px,#3e27ab 124px,#3e27aa 128px,#7e6fc6 129px,#fff 130px"></i><i style="top:44px;height:131px;--g:#fff 0,#d5d2f4 1px,#4332c9 2px,#4332c9 82px,#3e27ab 129px,#7e6fc7 130px,#fff 131px"></i><i style="top:43px;height:132px;--g:#fff 0,#eae9fb 1px,#5a51df 2px,#463ada 3px,#4539d9 89px,#4433cd 106px,#3f28ad 130px,#7f70c8 131px,#fff 132px"></i><i style="top:42px;height:133px;--g:#fff 0,#999cf7 1px,#5c5ced 2px,#4749ec 3px,#4746ea 96px,#4538d8 113px,#3f2ab2 131px,#aaa0dc 132px,#fff 133px"></i><i style="top:40px;height:135px;--g:#fff 0,#d6dcff 1px,#5a6ffa 2px,#465bf9 3px,#465df9 78px,#4855f6 102px,#473fe3 121px,#412dbb 133px,#eae7f7 134px,#fff 135px"></i><i style="top:38px;height:136px;--g:#fff 0,#d1e3fe 1px,#6495fd 2px,#3975fd 3px,#3679fc 81px,#3876fc 95px,#4267fd 108px,#3e6cfc 109px,#465cf9 118px,#4848ed 126px,#4537d4 133px,#594ad3 134px,#c0baec 135px,#fff 136px"></i><i style="top:35px;height:137px;--g:#fff 0,#b5e0f6 1px,#9fd1f6 2px,#40a1ee 3px,#2a92ee 4px,#2798ea 78px,#2698ea 94px,#2b8ef2 112px,#3a72fe 125px,#4364fc 129px,#474ff1 134px,#5c5dee 135px,#fff 137px"></i><i style="top:32px;height:138px;--g:#fff 0,#e4f7fa 1px,#77d5e7 2px,#2fb6de 3px,#14aed8 4px,#17acdb 20px,#11afd6 21px,#10b1d3 55px,#13b1d4 57px,#0db2d2 58px,#0fb3d1 68px,#0db5cd 79px,#10b4ce 81px,#0db5cd 83px,#0fb5cc 100px,#12b1d5 111px,#2897ec 127px,#337cfb 134px,#5182fe 135px,#8299fe 136px,#fff 138px"></i><i style="top:30px;height:137px;--g:#fff 0,#cef1ed 1px,#67d5cc 2px,#15beb8 3px,#1cc0b2 35px,#26c3aa 61px,#25c3aa 63px,#36c69b 87px,#30c59e 88px,#37c699 95px,#32c69d 96px,#39c797 98px,#33c69c 100px,#38c798 105px,#31c59f 106px,#2dc5a1 112px,#22c1ad 117px,#25c2aa 119px,#1abfb4 121px,#1ebfb5 122px,#14bdb9 124px,#0cb5ce 129px,#1ca7df 132px,#3babe8 133px,#70b8f3 134px,#fff 137px"></i><i style="top:28px;height:134px;--g:#fff 0,#d5f3e5 1px,#6bd5a8 2px,#3ec991 3px,#3cc893 5px,#49ca87 44px,#50cb80 51px,#4cca84 52px,#55cc7c 55px,#4fcb80 56px,#53cb7e 62px,#5acc77 63px,#55cc7c 64px,#5bcc77 68px,#62cc71 70px,#5ecc74 72px,#65cc6e 75px,#65cc6f 78px,#6ecc68 79px,#63cc71 80px,#72cc64 84px,#6bcb6a 85px,#75cb62 87px,#71cb66 89px,#7fcb5a 94px,#7ccb5d 96px,#82cb58 98px,#85ca56 104px,#8cc951 107px,#86c956 108px,#82ca59 116px,#75ca63 119px,#7ecb5c 120px,#65cb6f 124px,#65cb6f 125px,#4eca83 127px,#59cf99 128px,#78d9be 129px,#6fd7c5 130px,#aee9e9 131px,#afe5f1 133px,#fff 134px"></i><i style="top:26px;height:129px;--g:#fff 0,#d1eeca 1px,#7cd27a 2px,#68cc6c 3px,#6fcc66 19px,#6bcc6a 21px,#73cc63 22px,#75cc62 32px,#8eca4e 60px,#abc63a 81px,#c6c12d 98px,#d2bf2e 104px,#e2bd31 112px,#debe32 114px,#eabc32 116px,#e0c031 117px,#e7be33 118px,#debf35 119px,#e6bf32 122px,#d9be2e 124px,#ddd573 125px,#d8de8c 126px,#dcedc3 127px,#e4f3d9 128px,#fff 129px"></i><i style="top:25px;height:125px;--g:#fff 0,#f3f9eb 1px,#89cb52 2px,#a3c83e 43px,#cebf27 76px,#fabb3a 102px,#fcc935 113px,#f8dc2a 120px,#f9df42 121px,#fde58c 122px,#fff8e9 124px,#fff 125px"></i><i style="top:25px;height:122px;--g:#fff 0,#e7f3d7 1px,#91ca4d 2px,#b4c533 46px,#d6be26 70px,#fcb93d 91px,#fad82c 109px,#f7f41b 119px,#f9f84c 120px,#fdfbce 121px,#fff 122px"></i><i style="top:26px;height:125px;--g:#fff 0,#bde29f 1px,#8cd16d 2px,#7fcc5a 3px,#82cb57 4px,#7fcc5a 6px,#83cb57 8px,#8dcb4f 22px,#9ac945 32px,#96c949 33px,#9ec842 36px,#a2c840 41px,#afc637 48px,#abc63a 49px,#c3c22c 63px,#dabd28 75px,#f9ba3c 90px,#fec438 98px,#f7ef1f 117px,#f6ef1f 118px,#f7de29 120px,#fadb44 121px,#fddc77 122px,#feebbd 123px,#fbf0d1 124px,#fff 125px"></i><i style="top:27px;height:130px;--g:#fff 0,#eef9ef 1px,#59cc78 3px,#5ccc76 4px,#53cb7e 5px,#5fcc73 8px,#57cc7a 9px,#61cc72 12px,#58cc79 13px,#62cc71 15px,#5dcc75 17px,#68cc6c 20px,#60cc73 21px,#6bcc6a 24px,#64cc70 25px,#6ecc67 27px,#68cc6c 29px,#74cc63 31px,#6dcc68 33px,#77cc60 35px,#72cc64 37px,#7dcc5c 39px,#74cc63 40px,#83cb57 43px,#7acc5e 44px,#89cb52 47px,#7fcb5a 48px,#8ccb50 50px,#88cb54 52px,#92ca4b 54px,#8eca4f 56px,#9ac946 58px,#98c947 60px,#abc63a 66px,#a7c73d 67px,#b3c535 70px,#adc638 71px,#bac431 73px,#b8c432 75px,#c4c22d 77px,#c0c32f 78px,#d6be2a 85px,#d3bf2b 86px,#e0bc2d 88px,#ddbd2c 89px,#e9bb31 92px,#e4bc30 93px,#efbb35 95px,#f7bc39 99px,#fdc935 111px,#fbce32 114px,#fdc338 119px,#d5bf2d 124px,#c3ca46 125px,#c4da7e 126px,#cde8b1 127px,#d3eec9 128px,#ecf9f0 129px,#fff 130px"></i><i style="top:29px;height:135px;--g:#fff 0,#e9f9f3 1px,#33c69d 3px,#2dc5a3 4px,#34c69c 10px,#31c59f 12px,#38c897 15px,#31c69f 16px,#39c896 18px,#34c69c 20px,#3cc993 22px,#37c799 24px,#3fc990 26px,#39c896 28px,#43ca8c 30px,#3cc993 31px,#47ca88 38px,#41c98e 39px,#51cb7f 46px,#4acb85 47px,#56cb7b 49px,#4fcb81 51px,#5dcc75 53px,#56cc7a 54px,#60cc72 57px,#5ccc76 59px,#6ccc69 61px,#64cc6f 62px,#73cc64 65px,#69cc6b 66px,#7acb5e 68px,#74cc63 70px,#83cb57 72px,#7ecb5b 74px,#91ca4c 76px,#86cb55 77px,#96c949 79px,#93ca4b 81px,#a1c841 83px,#9dc844 85px,#aec639 87px,#abc63b 89px,#bbc432 91px,#b1c537 92px,#c4c22f 94px,#bec331 96px,#cec02d 98px,#c5c22e 99px,#d4bf2b 102px,#cdc02f 103px,#debd2f 105px,#d5bf2e 107px,#e3bd31 109px,#d8be2f 111px,#debe30 113px,#c8c130 116px,#c8c131 118px,#aac939 120px,#3bc796 128px,#5bd1b8 129px,#67d5cc 130px,#5ecedf 132px,#aee6f0 133px,#ceebf9 134px,#fff 135px"></i><i style="top:31px;height:137px;--g:#fff 0,#e6f8f7 1px,#78dada 2px,#24c0cd 3px,#0cb9c6 4px,#0abac4 6px,#0fbcbd 14px,#0abac3 15px,#10bdbc 18px,#0cbbc2 19px,#13bdba 25px,#10bdbd 27px,#18bfb5 29px,#13bdbb 31px,#19bfb5 33px,#1bc0b3 39px,#21c1ae 41px,#1dc1b1 43px,#26c2aa 45px,#1fc1af 46px,#2ac4a6 49px,#23c2ad 50px,#2dc4a3 52px,#28c3a8 54px,#30c5a0 56px,#33c69d 62px,#3cc894 64px,#36c799 65px,#3ec991 67px,#3bc895 69px,#46ca8a 71px,#41c98f 73px,#4eca82 75px,#49ca87 77px,#51cb80 78px,#50cb80 80px,#5dcb75 82px,#58cb79 84px,#68cc6c 86px,#62cc71 88px,#72cc64 90px,#70cb66 92px,#7bcb5e 93px,#75cb62 95px,#88ca53 97px,#7ecb5b 99px,#90c94d 101px,#85ca56 103px,#92c94c 105px,#83ca57 107px,#8eca4f 109px,#7ccb5c 111px,#7dcb5c 114px,#62cc71 116px,#4dca84 120px,#26c4a7 123px,#08b8cc 128px,#2896ec 133px,#72b3f7 134px,#fff 137px"></i><i style="top:34px;height:137px;--g:#fff 0,#e6f6fb 1px,#81cfee 2px,#36b0e4 3px,#1ca7df 4px,#13aed8 33px,#0fb1d4 35px,#10b0d5 37px,#09b8c8 55px,#0dbac3 58px,#0ab9c5 60px,#13bdbc 62px,#09bbc1 63px,#15beb8 66px,#0fbdbc 67px,#1cc0b2 70px,#14beb9 71px,#20c1af 74px,#23c2ac 79px,#2dc5a3 81px,#26c3aa 82px,#31c69f 85px,#2bc4a5 86px,#37c799 88px,#33c69d 90px,#3ec892 92px,#37c798 93px,#41c98e 96px,#39c896 97px,#43c98c 100px,#3cc894 102px,#42c98e 104px,#36c799 106px,#3ec893 108px,#2cc4a4 111px,#2ec5a2 113px,#16beb8 116px,#0eb8c6 120px,#0bb4d0 121px,#21a3e3 124px,#2d8af4 129px,#3875fd 131px,#4068fc 133px,#5874fc 134px,#d6d9fd 136px,#fff 137px"></i><i style="top:37px;height:136px;--g:#fff 0,#429cf2 2px,#2c8df2 3px,#20a4e2 54px,#0ab5cf 76px,#0ab6ca 81px,#0cbac2 83px,#09b7c9 84px,#0ebcbf 87px,#0bb9c6 88px,#10bcbd 90px,#0bbbc1 92px,#13bdbb 94px,#0cbbc0 96px,#13beba 98px,#0cbbc2 100px,#0fbbbf 102px,#09b9cb 108px,#2a96ee 120px,#3677fd 124px,#4661fc 128px,#4846ea 131px,#4747ea 133px,#7070ef 134px,#c1bef4 135px,#fff 136px"></i><i style="top:39px;height:135px;--g:#fff 0,#8eb6fd 1px,#3a73fd 2px,#2e88f6 41px,#20a5e2 78px,#16addb 94px,#23a0e5 107px,#2c8ef1 113px,#3082f9 115px,#3e6efe 120px,#475bf9 122px,#4848ed 126px,#422fc2 131px,#4437d4 132px,#4535d1 133px,#8276db 134px,#fff 135px"></i><i style="top:40px;height:135px;--g:#fff 0,#d5deff 1px,#8395fd 2px,#4660fb 3px,#347bfd 49px,#269be8 89px,#2a8ff2 103px,#3f6aff 114px,#4a4ef2 120px,#473ee2 122px,#3f28ad 130px,#412ebf 131px,#412dbb 133px,#d5d0ef 134px,#fff 135px"></i><i style="top:42px;height:133px;--g:#fff 0,#858cf8 1px,#4753f4 2px,#406cff 48px,#2e83fa 72px,#2d88f6 88px,#3778fe 101px,#4a52f7 112px,#4435d3 119px,#412cb8 121px,#402cb9 123px,#4230c3 125px,#3f2ab2 128px,#412ebd 129px,#3f2ab1 131px,#9488d4 132px,#fff 133px"></i><i style="top:42px;height:133px;--g:#fff 0,#ebebfd 1px,#4849ed 2px,#4661fd 46px,#3976fe 71px,#3579fd 84px,#416bfe 97px,#4950f4 107px,#463bdc 113px,#412cba 117px,#4434cf 123px,#402ab4 127px,#412dbb 128px,#3f28ad 131px,#7f6fc8 132px,#fff 133px"></i><i style="top:43px;height:132px;--g:#fff 0,#8482ef 1px,#4744e8 2px,#416eff 70px,#4366fc 90px,#494df1 101px,#463cdd 107px,#43c 109px,#402bb5 114px,#4537d4 117px,#4537d6 120px,#412cb9 124px,#402bb5 125px,#412dbd 126px,#3e27ab 129px,#3e27ab 130px,#7e6fc7 131px,#fff 132px"></i><i style="top:43px;height:132px;--g:#fff 0,#8481ee 1px,#4742e6 2px,#4565fe 61px,#4463fc 82px,#484aef 96px,#463cde 101px,#402ab3 109px,#4539d8 114px,#463cdf 117px,#402bb7 123px,#422fc0 125px,#3f28ae 128px,#3e27aa 130px,#7e6fc6 131px,#fff 132px"></i><i style="top:43px;height:132px;--g:#fff 0,#8481ee 1px,#4742e6 2px,#465ffc 53px,#465dfa 77px,#4847ec 91px,#463bdc 96px,#422fc2 102px,#402bb6 103px,#4029b2 105px,#463ada 110px,#463ee0 114px,#4537d7 117px,#402ab4 121px,#4230c3 124px,#402ab4 126px,#3e27a9 130px,#533fb3 131px,#fff 132px"></i><i style="top:43px;height:132px;--g:#fff 0,#8481ef 1px,#4744e8 2px,#475efb 51px,#4759f8 72px,#484cf0 81px,#463cdf 90px,#402ab4 99px,#412cba 102px,#4639d9 106px,#4740e4 110px,#4435d1 116px,#402bb5 119px,#402ab3 120px,#4332c8 122px,#402bb5 125px,#3e27a9 130px,#3e27a9 131px,#fff 132px"></i><i style="top:43px;height:132px;--g:#fff 0,#4746e9 1px,#475af9 41px,#4756f7 67px,#4742e6 81px,#4538d8 86px,#3f29b1 95px,#412ebe 98px,#463cdf 103px,#4741e5 107px,#4537d5 113px,#402ab2 117px,#4332c9 121px,#402bb5 124px,#3e26a9 131px,#fff 132px"></i><i style="top:42px;height:133px;--g:#fff 0,#ebebfd 1px,#4748ec 2px,#4759f9 38px,#4853f5 63px,#4740e5 77px,#4029b2 91px,#412cb9 94px,#463bdc 99px,#4742e6 105px,#4639da 110px,#402ab4 116px,#43c 120px,#402ab4 124px,#402bb4 126px,#3e26a9 132px,#fff 133px"></i><i style="top:42px;height:133px;--g:#fff 0,#c2c3f9 1px,#484bef 2px,#4758f8 35px,#4851f3 58px,#473fe4 71px,#4330c6 81px,#402bb5 84px,#3f28b1 87px,#473fe4 97px,#4741e5 103px,#4535d2 109px,#402bb5 113px,#402ab4 114px,#4434cf 118px,#402ab3 123px,#402bb7 125px,#3e26a9 131px,#3e26a8 132px,#fff 133px"></i><i style="top:42px;height:133px;--g:#fff 0,#8589f5 1px,#484ef1 2px,#4757f7 36px,#484aef 57px,#4536d6 71px,#412dbc 77px,#3f28ae 82px,#4538d7 89px,#4744e8 98px,#463cde 103px,#3f29b1 111px,#402ab3 112px,#4333cb 114px,#4435d1 116px,#402ab4 121px,#412dba 123px,#3e26a8 131px,#3e26a8 132px,#fff 133px"></i><i style="top:42px;height:133px;--g:#fff 0,#7177f5 1px,#4850f2 2px,#4755f6 31px,#484cf0 48px,#463cde 61px,#4435d1 66px,#402cb7 73px,#3f28af 77px,#463de0 87px,#4743e8 95px,#4537d5 102px,#402ab3 108px,#412dbb 110px,#4434cf 112px,#4536d4 114px,#402bb5 119px,#422ebe 122px,#402ab4 124px,#3e26a8 131px,#3e26a8 132px,#fff 133px"></i><i style="top:42px;height:133px;--g:#fff 0,#4851f3 1px,#4754f5 26px,#4846ea 47px,#463adc 56px,#412cba 67px,#3f28af 72px,#463cdf 82px,#4743e7 91px,#463add 97px,#3f29b1 105px,#4537d4 111px,#4435d0 113px,#3f29b0 118px,#422fc1 120px,#402bb5 123px,#3e26a8 131px,#3e26a8 132px,#fff 133px"></i><i style="top:42px;height:133px;--g:#fff 0,#4852f4 1px,#4853f5 20px,#4744e8 42px,#4638d9 51px,#3f29b1 64px,#402ab4 68px,#463cde 77px,#4744e8 87px,#4535d2 96px,#3f29b1 102px,#402cb8 104px,#4434cd 106px,#4537d6 109px,#4331c6 113px,#3f29af 116px,#4230c4 119px,#3f2ab2 122px,#3f2ab3 124px,#3e26a8 131px,#3e26a8 132px,#fff 133px"></i><i style="top:42px;height:133px;--g:#fff 0,#4852f4 1px,#484ff2 20px,#4742e6 37px,#4537d6 46px,#3f29af 59px,#402bb7 63px,#463bdd 72px,#4744e8 81px,#463adb 90px,#3f28af 99px,#4435d1 104px,#4537d7 106px,#43c 110px,#3f28ae 114px,#4230c5 117px,#402ab2 121px,#402bb5 123px,#3e26a8 131px,#3e26a8 132px,#fff 133px"></i><i style="top:42px;height:133px;--g:#fff 0,#5c64f4 1px,#4851f3 2px,#4741e5 32px,#4535d2 41px,#3f29af 53px,#402ab5 57px,#463bdd 67px,#4744e8 76px,#463cde 85px,#3f28af 96px,#4434cd 100px,#4638d9 104px,#402ab3 112px,#4331c6 116px,#3f29b1 120px,#412cb9 122px,#3f29b0 124px,#3e26a8 131px,#3e26a8 132px,#fff 133px"></i><i style="top:42px;height:133px;--g:#fff 0,#858af6 1px,#484ef1 2px,#473fe3 26px,#4434cf 36px,#3f28ad 48px,#402bb6 52px,#4639da 61px,#4744e9 72px,#4537d6 84px,#3f28ad 92px,#4536d3 98px,#4538d8 101px,#4434ce 105px,#3f29b1 109px,#4331c8 114px,#3f29b2 118px,#412dbb 120px,#3f29b1 123px,#3e26a8 131px,#3e26a8 132px,#fff 133px"></i><i style="top:42px;height:133px;--g:#fff 0,#c2c3f9 1px,#484bee 2px,#4638d9 26px,#3f28ad 42px,#412cb9 47px,#4639da 56px,#4744e9 67px,#4639d9 79px,#3f29b0 88px,#412dba 91px,#43c 93px,#4539d9 97px,#4435d0 102px,#3f29b1 107px,#3f29b0 108px,#4230c5 110px,#4332c8 112px,#3f29b1 117px,#412dbd 119px,#3f2ab1 122px,#3e26a8 131px,#3e26a8 132px,#fff 133px"></i><i style="top:43px;height:132px;--g:#fff 0,#5b5bed 1px,#4746ea 2px,#4536d5 20px,#3f28ae 35px,#3f28ae 37px,#4639db 50px,#4743e8 61px,#463bdd 72px,#3f28ae 84px,#4536d2 90px,#4539d9 94px,#4536d5 97px,#3f29af 104px,#4230c5 107px,#4333cb 109px,#3f29b0 114px,#412ebf 117px,#3f29b1 119px,#3f2ab2 121px,#3e26a8 130px,#3e26a8 131px,#fff 132px"></i><i style="top:43px;height:132px;--g:#fff 0,#9996f1 1px,#4740e4 2px,#4536d3 14px,#3e27ab 30px,#4639d9 44px,#4744e9 58px,#4536d4 71px,#3f29af 79px,#3f2ab2 81px,#4435d0 86px,#453ada 90px,#4434ce 96px,#3f29b0 101px,#4333cb 106px,#4330c5 109px,#3f28ae 112px,#422ec0 115px,#3f29b0 118px,#402bb6 120px,#3f29af 122px,#3e26a8 129px,#3e26a8 131px,#fff 132px"></i><i style="top:43px;height:132px;--g:#fff 0,#eaeafc 1px,#6f66e3 2px,#4539d9 3px,#3e27ac 24px,#463adc 40px,#4743e8 52px,#4538d8 65px,#3f29b0 75px,#402bb6 78px,#4538d7 84px,#4539da 88px,#4332c9 94px,#3f28ae 99px,#4434ce 104px,#4330c5 107px,#3f28ae 110px,#422fc1 113px,#3f2ab1 117px,#402bb7 119px,#3f29b0 121px,#3e26a8 129px,#3e26a8 131px,#fff 132px"></i><i style="top:44px;height:131px;--g:#fff 0,#d6d2f5 1px,#4434cd 2px,#3e28ad 16px,#4029b3 20px,#463adb 33px,#4743e7 48px,#4538d8 59px,#3f28ad 71px,#4535d2 78px,#453ada 83px,#4535d2 88px,#3f28af 95px,#422fc3 98px,#4434ce 101px,#422fc0 105px,#3f28ae 107px,#422fc2 111px,#3f2ab2 114px,#402bb7 117px,#3f29b0 119px,#3e26a8 128px,#3e26a8 130px,#fff 131px"></i><i style="top:45px;height:130px;--g:#fff 0,#968bdc 1px,#412ebd 2px,#412cb8 3px,#3e27ac 10px,#463adb 27px,#4743e7 40px,#4639da 53px,#3f28af 65px,#402ab2 67px,#4538d9 75px,#4539d9 78px,#4538d8 82px,#3f29b0 91px,#4333cb 96px,#4434d0 98px,#3f29b2 104px,#422fc2 108px,#3f29b1 112px,#412cba 114px,#3f29af 117px,#402ab3 118px,#3e26a8 127px,#3e26a8 129px,#fff 130px"></i><i style="top:45px;height:130px;--g:#fff 0,#eae7f7 1px,#3f29af 2px,#3f29b1 6px,#463adb 21px,#4742e7 35px,#4639da 48px,#3f28ad 61px,#4536d3 70px,#463adb 74px,#4535d1 81px,#3f28ad 88px,#4331c6 92px,#4434cf 95px,#43c 97px,#3f29b0 102px,#4230c4 106px,#3f2ab2 110px,#412dba 113px,#3f29af 116px,#402bb4 117px,#3e26a7 127px,#3e26a8 129px,#fff 130px"></i><i style="top:45px;height:130px;--g:#fff 0,#aaa1df 1px,#402bb6 2px,#463adb 16px,#4743e7 30px,#4435d1 47px,#3f28ae 56px,#402ab4 59px,#4535d2 65px,#463adb 71px,#4537d6 76px,#3f29b0 85px,#4435d1 92px,#4331c6 96px,#3f28ae 100px,#4331c6 104px,#3f29b1 109px,#412dbc 112px,#3f29b1 114px,#402ab2 116px,#3e26a7 127px,#3e26a8 129px,#fff 130px"></i><i style="top:45px;height:130px;--g:#fff 0,#5747cb 1px,#4331c7 2px,#463de0 14px,#4741e5 29px,#4434d0 42px,#3e27ac 53px,#4434ce 60px,#463bdc 67px,#4435d2 74px,#3f28ae 82px,#4434cf 88px,#4435d0 90px,#422fc1 95px,#3e28ad 98px,#422fc2 101px,#4330c6 103px,#3f29af 107px,#412dbd 110px,#3f29b0 113px,#402bb5 115px,#3f29b0 117px,#3e26a8 127px,#3e26a8 129px,#fff 130px"></i><i style="top:44px;height:131px;--g:#fff 0,#aca5eb 1px,#4536d4 2px,#4741e5 18px,#463ee1 28px,#4434d0 38px,#3e27ac 49px,#4537d5 59px,#463bdc 66px,#4332c9 74px,#3f29b0 79px,#402ab2 81px,#4331c6 84px,#4536d3 88px,#3f29b0 97px,#4332c8 101px,#3f28ae 107px,#412ebe 109px,#3f29b0 113px,#402bb7 115px,#3f29b0 117px,#3e26a8 128px,#3e26a8 130px,#fff 131px"></i><i style="top:44px;height:131px;--g:#fff 0,#463bdb 1px,#4741e5 13px,#463ddf 24px,#4535d3 32px,#3e27ac 44px,#4535d2 54px,#463bdc 60px,#4434ce 69px,#3f28ae 76px,#402ab4 78px,#4434d0 83px,#4435d0 85px,#4332c9 89px,#3f28ae 94px,#4332c9 99px,#3f28af 105px,#422ec0 108px,#3f29b1 111px,#402bb7 114px,#3f29b0 116px,#3e26a8 128px,#3e26a8 130px,#fff 131px"></i><i style="top:43px;height:132px;--g:#fff 0,#c1bff5 1px,#463ee0 2px,#4740e3 14px,#4639db 24px,#3f28ad 40px,#4434d0 50px,#463bdc 57px,#4536d5 64px,#3f28ae 74px,#4331c7 79px,#4436d2 83px,#4332ca 87px,#3f28ad 93px,#422fc2 96px,#4332c9 98px,#3f29b0 104px,#422ebf 107px,#3f29b0 111px,#412cb9 113px,#3f28ae 116px,#402ab3 117px,#3e26a7 129px,#3e26a8 131px,#fff 132px"></i><i style="top:43px;height:132px;--g:#fff 0,#c2bff6 1px,#4740e3 2px,#463add 18px,#3f28ad 35px,#4537d6 48px,#463ada 54px,#4537d7 59px,#3f28ae 71px,#4434cd 77px,#4435d2 80px,#4433cb 84px,#3f29af 90px,#4432ca 96px,#3f29b0 102px,#422fc1 106px,#3f29b0 109px,#412cb9 112px,#3f28af 115px,#402ab4 116px,#3e26a8 128px,#3e26a8 131px,#fff 132px"></i><i style="top:43px;height:132px;--g:#fff 0,#c2bff5 1px,#473fe2 2px,#4536d4 17px,#3f28ae 30px,#402bb5 34px,#4537d6 43px,#463bdb 49px,#4435d0 58px,#3e28ac 67px,#4332cb 73px,#4436d3 77px,#4330c5 83px,#3f28ae 87px,#4433cb 93px,#3f29b1 100px,#422fc1 104px,#3f29af 108px,#412dbb 111px,#3f28ae 113px,#3f2ab2 115px,#3e26a8 128px,#3e26a8 131px,#fff 132px"></i><i style="top:43px;height:132px;--g:#fff 0,#eaeafc 1px,#463ddf 2px,#4535d2 12px,#3f28ae 25px,#402ab4 29px,#4537d5 38px,#463bdb 45px,#4536d5 52px,#3f27ad 64px,#4433cd 70px,#4435d2 74px,#4434cf 77px,#3f28ad 85px,#422fc1 88px,#4332ca 91px,#422fc2 94px,#3f28ae 98px,#4330c4 102px,#3f29af 106px,#412dbc 109px,#3f28ae 112px,#402bb5 114px,#3f29b0 116px,#3e26a8 128px,#3e26a8 131px,#fff 132px"></i><i style="top:44px;height:131px;--g:#fff 0,#6f65e2 1px,#4538d7 2px,#3f28af 19px,#402ab3 23px,#4536d4 32px,#463bdc 40px,#4433cd 50px,#3f28ae 58px,#3f29b1 60px,#4332cb 65px,#4536d3 69px,#4332c9 75px,#3f28ad 81px,#4230c3 85px,#43c 88px,#3f28ae 95px,#4330c4 99px,#3f28ad 104px,#412dbc 106px,#3f29af 110px,#402bb6 112px,#3f29b0 114px,#3e26a8 127px,#3e26a8 130px,#fff 131px"></i><i style="top:44px;height:131px;--g:#fff 0,#c1bcf0 1px,#43c 2px,#3e27ab 15px,#4536d3 27px,#463bdc 36px,#4434d0 45px,#3f29af 54px,#402bb5 57px,#4435d0 63px,#4435d2 67px,#4434cf 70px,#3f28ae 78px,#4433cd 85px,#3f29af 93px,#4330c5 97px,#3f28ad 102px,#412dbd 105px,#3f29b0 108px,#402bb6 111px,#3f28ae 113px,#3f29b0 115px,#3e26a8 127px,#3e26a8 130px,#fff 131px"></i><i style="top:45px;height:130px;--g:#fff 0,#968bdc 1px,#412ebe 2px,#3e28ad 10px,#4535d2 21px,#463bdc 30px,#4435d1 39px,#3f28ac 50px,#4332cb 57px,#4536d4 61px,#4332c8 68px,#3f28ad 74px,#43c 81px,#4331c6 84px,#3f29af 89px,#4331c5 94px,#3f28ae 99px,#412dbd 102px,#3f29b0 106px,#402bb7 108px,#3f29ae 111px,#3f29b0 113px,#3e26a8 126px,#3e26a8 129px,#fff 130px"></i><i style="top:45px;height:130px;--g:#fff 0,#eae7f7 1px,#5441b9 2px,#3f28af 3px,#3f29b1 6px,#4435d2 16px,#463adb 25px,#4537d6 33px,#3f28ad 46px,#4332ca 53px,#4536d3 58px,#4435d0 62px,#3f28ad 71px,#4331c6 76px,#4333cb 79px,#422fc1 83px,#3f28ad 87px,#4331c7 92px,#3f29af 97px,#412ebd 101px,#3f29b0 104px,#402cb8 107px,#3f28ae 110px,#402ab3 111px,#3e26a8 126px,#3e26a8 129px,#fff 130px"></i><i style="top:45px;height:130px;--g:#fff 0,#bfb8e7 1px,#402bb4 2px,#4537d5 13px,#463ada 22px,#4537d7 28px,#3f28ad 42px,#43c 50px,#4536d4 55px,#4332ca 61px,#3f28ad 68px,#422fc1 72px,#4334cd 76px,#422ec0 81px,#3f28ad 84px,#4331c6 90px,#3f29af 96px,#412ebf 99px,#3f29af 103px,#412cba 106px,#3f28ae 108px,#402ab4 110px,#3f29af 112px,#3e26a9 125px,#3e26a8 129px,#fff 130px"></i><i style="top:45px;height:130px;--g:#fff 0,#5747ca 1px,#4330c5 2px,#4537d6 9px,#463adb 18px,#4434ce 27px,#3e27ac 39px,#4434ce 46px,#4536d3 52px,#4434ce 56px,#3f28ad 65px,#4331c6 70px,#4333cb 73px,#4332c8 76px,#3f28ae 82px,#422fc2 86px,#4231c6 88px,#3f29af 93px,#422ebf 97px,#3f29b0 101px,#412cba 104px,#3f28ae 107px,#402bb5 109px,#3f29af 111px,#3e26a8 126px,#3e26a8 129px,#fff 130px"></i><i style="top:44px;height:131px;--g:#fff 0,#aca5ea 1px,#4434cf 2px,#463adb 12px,#4538d8 19px,#3f28ad 35px,#4435d1 45px,#4536d4 49px,#4331c7 56px,#3e28ac 63px,#4332cb 69px,#43c 71px,#4230c3 76px,#3e28ac 80px,#4331c8 86px,#3f29b0 92px,#422ebf 97px,#3e28ad 101px,#412cbb 104px,#3e28ad 107px,#402bb6 109px,#3f28ad 111px,#3f29b0 113px,#3e26a8 126px,#3e26a8 130px,#fff 131px"></i><i style="top:44px;height:131px;--g:#fff 0,#837ae3 1px,#4538d7 2px,#463ada 9px,#4535d2 18px,#3e28ac 30px,#4434ce 40px,#4536d4 45px,#4434cf 50px,#3f28ae 59px,#4434ce 68px,#4332ca 71px,#3f28ad 78px,#412ebd 81px,#4332c8 84px,#3f28ae 90px,#422ec0 94px,#3f28af 99px,#412dbb 102px,#3f29af 105px,#402bb6 108px,#3f28ad 110px,#3f29b0 112px,#3e26a8 126px,#3e26a8 130px,#fff 131px"></i><i style="top:44px;height:131px;--g:#fff 0,#4639d9 1px,#4537d5 12px,#3f28ad 26px,#4333cb 35px,#4537d5 41px,#4331c8 49px,#3e27ac 56px,#4331c7 62px,#43c 65px,#4331c8 69px,#3f28ad 75px,#4332c9 81px,#3f29b0 88px,#422fc1 93px,#3e28ad 97px,#412dbb 100px,#3f29af 104px,#402bb6 106px,#3f29ae 109px,#3f29b0 111px,#3e26a8 126px,#3e26a8 130px,#fff 131px"></i><i style="top:44px;height:131px;--g:#fff 0,#6e65e1 1px,#4539d8 2px,#43c 11px,#3e27ab 22px,#4332c9 30px,#4537d5 38px,#4433cb 44px,#3f28ae 52px,#4434cf 62px,#4230c4 67px,#3f28ad 73px,#4432ca 79px,#3f28af 86px,#422fc2 91px,#3f28ad 96px,#412dbd 99px,#3f28af 102px,#402bb7 105px,#3f28ae 107px,#3f29b1 109px,#3e26a8 126px,#3e26a8 130px,#fff 131px"></i><i style="top:44px;height:131px;--g:#fff 0,#9890e8 1px,#4536d3 2px,#3e27ac 18px,#4433cd 27px,#4536d4 34px,#4434cf 39px,#3f28ad 49px,#4332c9 56px,#4433cd 59px,#4332c8 63px,#3e28ac 70px,#422fc1 74px,#4332c8 77px,#3f28af 84px,#4230c3 89px,#3e28ad 94px,#412dbd 97px,#3f29af 101px,#402cb8 104px,#3e28ad 106px,#402ab4 108px,#3f29af 110px,#3e26a8 126px,#3e26a8 130px,#fff 131px"></i><i style="top:44px;height:131px;--g:#fff 0,#d5d2f4 1px,#4332c9 2px,#3e27ab 13px,#43c 23px,#4537d5 29px,#4332ca 37px,#3e27ab 46px,#4230c4 51px,#4434cf 56px,#422fc2 62px,#3f28ad 67px,#4432ca 74px,#3f28ad 82px,#422ebf 85px,#422fc1 87px,#3f29af 92px,#412ebd 96px,#3f28ae 99px,#402cb9 102px,#3f28ad 105px,#402bb5 107px,#3e28ad 109px,#3f29af 111px,#3e26a8 126px,#3e26a8 130px,#fff 131px"></i><i style="top:45px;height:130px;--g:#fff 0,#968bda 1px,#412dbb 2px,#3f28af 6px,#3f28ae 9px,#4433cb 17px,#4537d5 25px,#4433cd 31px,#3f28ad 41px,#4433cb 49px,#4433cd 52px,#4332c8 56px,#3e28ac 63px,#4432cb 70px,#3f29af 78px,#4230c3 83px,#3f29af 89px,#412ebe 93px,#3f28ae 97px,#412cb9 100px,#3e28ad 103px,#402bb5 105px,#3f28ad 107px,#3f29b0 109px,#3e26a8 125px,#3e26a8 129px,#fff 130px"></i><i style="top:46px;height:129px;--g:#fff 0,#5440b8 1px,#3f28ae 2px,#4435d0 14px,#4537d5 20px,#4331c6 29px,#3e27ab 36px,#4331c6 43px,#4434ce 47px,#4330c5 53px,#3e28ac 59px,#4230c3 64px,#4332c9 67px,#3f28ae 75px,#4330c5 80px,#3f28ae 86px,#412ebf 90px,#3e28ad 94px,#412cba 97px,#3f29af 100px,#402bb5 103px,#3e28ad 105px,#3f29b0 107px,#3e26a8 124px,#3e26a8 128px,#fff 129px"></i><i style="top:45px;height:130px;--g:#fff 0,#bfb8e7 1px,#402bb5 2px,#4434cf 10px,#4537d4 17px,#4332cb 24px,#3e27ab 34px,#422fc2 39px,#4434cf 45px,#4332ca 49px,#3f28ad 57px,#4432cb 65px,#422ec0 69px,#3e28ad 73px,#4330c5 79px,#3f28ad 85px,#412fbf 89px,#3f28ad 93px,#412cb9 96px,#3f29af 100px,#402bb6 102px,#3f28ae 105px,#3f29b0 107px,#3e26a8 124px,#3e26a8 129px,#fff 130px"></i><i style="top:45px;height:130px;--g:#fff 0,#5747ca 1px,#4330c4 2px,#4536d3 9px,#4537d5 15px,#3f28ad 30px,#4331c7 37px,#4434cf 42px,#4230c4 48px,#3e28ad 54px,#43c 62px,#3f28ae 71px,#412dbc 74px,#4230c5 77px,#3f28ad 83px,#422ec0 87px,#3f28ad 92px,#412dbb 95px,#3f29ae 98px,#402bb6 101px,#3f28ae 103px,#3f29b0 105px,#3e26a8 124px,#3e26a8 129px,#fff 130px"></i><i style="top:44px;height:131px;--g:#fff 0,#d5d2f4 1px,#4433cd 2px,#4536d4 8px,#4434d0 15px,#3e27ac 27px,#4331c6 34px,#4434cf 39px,#4332c8 44px,#3e28ad 52px,#4433cb 60px,#422fc2 64px,#3f28ad 69px,#4331c5 75px,#3f28ae 82px,#422fc0 86px,#3f28ae 91px,#412cba 94px,#3f29af 98px,#402bb7 101px,#3e28ad 103px,#402ab3 105px,#3f29af 107px,#3e26a9 125px,#3e26a8 130px,#fff 131px"></i><i style="top:44px;height:131px;--g:#fff 0,#988fe6 1px,#4536d3 2px,#4535d1 10px,#3f28ad 23px,#4331c8 31px,#4435cf 36px,#422fc2 43px,#3f28ad 49px,#4433cb 57px,#4230c3 61px,#3f28ad 67px,#4331c6 73px,#3f28ad 80px,#422fc1 84px,#3f28af 89px,#412dbb 93px,#3f28ae 96px,#402bb7 99px,#3e28ac 102px,#402ab4 104px,#3e28ad 106px,#3f29af 108px,#3e26a8 125px,#3e26a8 130px,#fff 131px"></i><i style="top:44px;height:131px;--g:#fff 0,#988fe7 1px,#4536d3 2px,#4433cd 8px,#3e27ac 19px,#4331c7 27px,#4434cf 32px,#4332c9 37px,#3e28ac 46px,#4330c4 51px,#4332c9 54px,#4330c4 58px,#3e28ad 64px,#4331c6 70px,#3f28ae 78px,#422fc2 82px,#3f29af 87px,#412dbb 91px,#3f28ae 95px,#402cb8 98px,#3f28ad 101px,#402bb5 103px,#3e28ac 105px,#3f29af 107px,#3e26a8 125px,#3e26a8 130px,#fff 131px"></i><i style="top:44px;height:131px;--g:#fff 0,#c1bbef 1px,#4434ce 2px,#3e28ac 15px,#43c 25px,#4434cf 29px,#4230c3 36px,#3e28ad 42px,#4433cb 51px,#422fc2 56px,#3f28ad 61px,#4331c7 68px,#3f28ae 75px,#422fc1 80px,#3f28ae 85px,#412dbc 89px,#3f28ae 93px,#402cb9 96px,#3f28ae 99px,#402bb4 102px,#3e28ac 104px,#3f29b0 106px,#3e26a8 125px,#3e26a8 130px,#fff 131px"></i><i style="top:45px;height:130px;--g:#fff 0,#5848cd 1px,#4330c4 2px,#3e27ac 11px,#4332ca 19px,#4434cf 24px,#4331c7 30px,#3e27ab 38px,#4230c4 44px,#4332c9 47px,#4330c5 51px,#3e28ac 58px,#4331c8 64px,#3f28ae 72px,#422fc1 77px,#3f28ae 83px,#412dbd 87px,#3e28ad 91px,#412cb9 94px,#3e28ad 97px,#402bb5 99px,#3e28ad 102px,#3f29b0 104px,#3e26a8 124px,#3e26a8 129px,#fff 130px"></i><i style="top:45px;height:130px;--g:#fff 0,#c0b9e9 1px,#402bb7 2px,#3e28ac 7px,#4331c7 14px,#4434cf 20px,#4332c9 25px,#3f28ad 35px,#43c 44px,#422fc2 49px,#3e28ac 55px,#422ebf 59px,#4331c6 62px,#3f28ae 70px,#422fc3 75px,#3e28ac 81px,#422ebe 84px,#3e28ad 89px,#412cba 92px,#3f28ae 95px,#402bb6 98px,#3f28ad 100px,#3f29b0 102px,#3e26a8 124px,#3e26a8 129px,#fff 130px"></i><i style="top:46px;height:129px;--g:#fff 0,#5440b6 1px,#3e28ad 2px,#4230c4 8px,#4435d0 15px,#4331c7 22px,#3e27ab 30px,#422fc2 36px,#4333ca 40px,#422ec0 46px,#3e28ac 51px,#4331c8 58px,#3f28ae 66px,#422fc3 72px,#3f28ae 77px,#412ebe 82px,#3e28ad 86px,#412cb9 89px,#3f28af 93px,#402bb6 96px,#3e27ac 98px,#402ab3 100px,#3f29af 102px,#3e26a8 123px,#3e26a8 128px,#fff 129px"></i><i style="top:45px;height:130px;--g:#fff 0,#aaa1df 1px,#402bb7 2px,#4332c9 7px,#4434cf 13px,#4332c9 18px,#3f28ae 28px,#4433cd 38px,#4330c5 42px,#3e28ac 49px,#412ebd 53px,#4331c7 57px,#3f28ae 65px,#422fc2 70px,#3f28ae 77px,#422ebf 81px,#3f28ae 85px,#412cba 89px,#3f28ae 92px,#402bb6 95px,#3e28ac 98px,#402ab4 100px,#3e28ad 102px,#3f29af 104px,#3e26a8 123px,#3e26a8 129px,#fff 130px"></i><i style="top:45px;height:130px;--g:#fff 0,#6c5ed0 1px,#4331c5 2px,#4434cf 12px,#3f28ac 24px,#4230c4 31px,#4433cd 35px,#3f28ae 46px,#422fc0 51px,#4330c6 54px,#412ebe 58px,#3e28ad 62px,#4330c4 68px,#3f28ae 74px,#412ebe 79px,#3f28ae 84px,#412dba 87px,#3f28ae 91px,#402bb8 94px,#3e28ac 96px,#402ab3 99px,#3e27ac 101px,#3f29b1 103px,#3f28ae 105px,#3e26a9 123px,#3e26a8 129px,#fff 130px"></i><i style="top:44px;height:131px;--g:#fff 0,#c1bbee 1px,#43c 2px,#4332ca 12px,#3f28ad 21px,#43c 32px,#4330c5 37px,#3e28ac 44px,#4332c9 52px,#3f28ae 61px,#4330c4 67px,#3e28ad 73px,#422ebf 78px,#3f28ad 83px,#412dbb 86px,#3f28ae 90px,#402bb7 93px,#3e28ad 96px,#402ab4 98px,#3e28ad 101px,#3f29af 103px,#3e26a8 124px,#3e26a8 130px,#fff 131px"></i><i style="top:44px;height:131px;--g:#fff 0,#c1bbef 1px,#4434ce 2px,#4433cb 7px,#3e27ac 18px,#4330c4 25px,#4333cb 29px,#422ebf 36px,#3e28ad 41px,#4331c8 49px,#4230c3 52px,#3f28ad 58px,#4330c4 64px,#3f28ae 71px,#412fbf 76px,#3f28ad 81px,#412dbb 85px,#3e28ab 89px,#402cb8 91px,#3f28ad 95px,#402bb4 97px,#3f28ad 100px,#3f29af 102px,#3e26a8 124px,#3e26a8 130px,#fff 131px"></i><i style="top:44px;height:131px;--g:#fff 0,#c1bbee 1px,#4433cb 2px,#3f28ad 14px,#43c 25px,#4331c6 30px,#3e28ac 38px,#4332c8 46px,#412ebe 51px,#3e28ad 55px,#4330c4 62px,#3f28ad 69px,#412fc0 73px,#3f28ae 79px,#412dbc 83px,#3e28ac 87px,#402cb9 90px,#3f28ae 93px,#402bb5 96px,#3e28ad 98px,#3f29b0 100px,#3e26a8 124px,#3e26a8 130px,#fff 131px"></i><i style="top:45px;height:130px;--g:#fff 0,#6c5ed1 1px,#422fc1 2px,#3e27ab 10px,#4330c5 17px,#4433cd 22px,#3f28ae 34px,#4331c8 42px,#4230c4 45px,#3e28ad 52px,#4330c5 58px,#3f28ae 66px,#422fc1 71px,#3e28ac 76px,#412ebd 80px,#3e28ac 84px,#402cb8 87px,#3f28ae 91px,#402bb6 93px,#3e28ac 96px,#402ab2 98px,#3f29af 100px,#3e26a9 123px,#3e26a8 129px,#fff 130px"></i><i style="top:45px;height:130px;--g:#fff 0,#aaa1e0 1px,#402bb7 2px,#3e27ab 6px,#4230c4 13px,#4433cd 19px,#3f28ad 31px,#4230c3 37px,#4332c8 40px,#3f28ae 49px,#4330c5 56px,#3e28ad 63px,#422fc0 68px,#3f28ad 74px,#412ebd 78px,#3f28ae 82px,#402cb8 86px,#3f28ae 89px,#402bb6 92px,#3e28ac 95px,#402ab4 97px,#3e28ac 99px,#3f29b1 101px,#3f28ae 103px,#3e26a8 123px,#3e26a8 129px,#fff 130px"></i><i style="top:46px;height:129px;--g:#fff 0,#5440b6 1px,#3f28ad 2px,#4331c8 10px,#4433cd 14px,#3f28ad 27px,#412ebe 31px,#4432c9 36px,#3f28ae 45px,#4330c5 52px,#3f28ae 60px,#422fc1 65px,#3f28ae 71px,#412dbd 75px,#3f28ad 80px,#402cb9 83px,#3f28ae 87px,#402bb7 90px,#3e28ac 92px,#402ab3 95px,#3e27ac 97px,#3f29b1 99px,#3f28ae 101px,#3e26a9 122px,#3e26a8 128px,#fff 129px"></i><i style="top:45px;height:130px;--g:#fff 0,#c0b9e7 1px,#402cb7 2px,#4330c5 6px,#4332cb 12px,#4230c3 17px,#3e27ac 24px,#422fc1 30px,#4332c9 34px,#3f28ad 44px,#412ebe 48px,#4230c4 51px,#3f28ae 59px,#422fc1 64px,#3f28ad 70px,#412dbd 74px,#3f28ae 79px,#412cb9 83px,#3e28ad 86px,#402bb7 89px,#3f28ac 92px,#402ab4 94px,#3e28ad 97px,#3f29af 99px,#3e26a8 122px,#3e26a8 129px,#fff 130px"></i><i style="top:45px;height:130px;--g:#fff 0,#6c5dd0 1px,#4230c3 2px,#4332cb 10px,#3f28ae 21px,#4432ca 31px,#3f28ad 41px,#4331c6 48px,#3f28ae 56px,#422fc1 62px,#3e28ac 68px,#412ebe 72px,#3f28ae 77px,#412cb9 81px,#3e28ad 85px,#402bb7 88px,#3e28ac 91px,#402ab4 93px,#3e28ac 96px,#3f29af 98px,#3e26a8 123px,#3e26a8 129px,#fff 130px"></i><i style="top:45px;height:130px;--g:#fff 0,#4332c8 1px,#4331c6 9px,#3e27ab 18px,#4230c3 24px,#4332c9 28px,#3e28ad 38px,#422ec0 43px,#4230c5 46px,#3e28ac 54px,#422fc2 59px,#3f28ae 66px,#412ebe 71px,#3e28ac 75px,#412cba 79px,#3e28ac 83px,#402cb8 86px,#3f28ad 89px,#402bb4 92px,#3e27ac 94px,#3f29af 96px,#3e26a8 123px,#3e26a8 129px,#fff 130px"></i><i style="top:44px;height:131px;--g:#fff 0,#d5d2f3 1px,#4332ca 2px,#3f28ae 15px,#4332c9 25px,#422fc0 30px,#3f28ad 36px,#4331c6 44px,#3f28ae 52px,#422fc2 58px,#3f28ad 65px,#422ebf 69px,#3e28ad 74px,#412cbb 78px,#3e28ad 82px,#402bb7 85px,#3f28ad 89px,#402bb5 91px,#3e28ac 94px,#3f2ab2 96px,#3f28af 98px,#3e26a9 123px,#3e26a8 130px,#fff 131px"></i><i style="top:45px;height:130px;--g:#fff 0,#4331c6 1px,#3e28ac 10px,#4432ca 21px,#3f28ae 32px,#4331c6 40px,#3f28ae 49px,#422fc3 55px,#3f28ad 61px,#412ebe 66px,#3e28ad 72px,#412dbb 75px,#3e28ad 80px,#402cb8 83px,#3f28ae 86px,#402bb5 89px,#3e28ac 92px,#402ab3 94px,#3e28ac 96px,#3f29af 98px,#3e26a8 122px,#3e26a8 129px,#fff 130px"></i><i style="top:45px;height:130px;--g:#fff 0,#968bdb 1px,#412dbc 2px,#3e28ad 7px,#4332ca 18px,#422fc2 22px,#3e28ac 29px,#4331c7 37px,#3f28ad 46px,#422fc3 52px,#3f28ad 59px,#412ebe 64px,#3e28ad 70px,#412dbc 74px,#3e28ac 78px,#402cb8 81px,#3f28ad 85px,#402bb6 87px,#3f28ad 90px,#402ab3 93px,#3e28ac 95px,#3f29af 97px,#3e26a8 122px,#3e26a8 129px,#fff 130px"></i><i style="top:45px;height:130px;--g:#fff 0,#eae7f7 1px,#3f2ab1 2px,#3f28ae 5px,#4230c4 11px,#4432ca 15px,#3f28ae 26px,#4331c6 34px,#3f28ae 43px,#422fc2 50px,#3e28ad 57px,#412ebf 62px,#3f28ad 68px,#412dbc 72px,#3f28ad 76px,#402cb8 80px,#3f28ad 83px,#402bb6 86px,#3e28ac 89px,#402ab3 91px,#3e28ad 94px,#3f29b1 96px,#3f28ae 98px,#3e26a9 122px,#3e26a8 129px,#fff 130px"></i><i style="top:45px;height:130px;--g:#fff 0,#eae7f7 1px,#3f29b1 2px,#422fc2 7px,#4332c9 12px,#3f28ae 23px,#4331c7 32px,#3e28ac 41px,#422fc0 46px,#422fc1 48px,#3f28ae 55px,#412fbf 60px,#3e28ad 66px,#412dbc 70px,#3f28ad 75px,#402cb9 78px,#3f28ad 82px,#402bb6 85px,#3e27ac 88px,#402ab4 90px,#3e28ac 93px,#3f29b1 95px,#3f28ae 97px,#3e26a9 122px,#3e26a8 129px,#fff 130px"></i><i style="top:45px;height:130px;--g:#fff 0,#968ada 1px,#412ebd 2px,#4332c8 10px,#3f28ad 20px,#4331c7 29px,#3e28ad 38px,#4330c3 45px,#3f28ae 52px,#412ebf 58px,#3e27ac 64px,#412ebd 68px,#3e28ad 73px,#412cb9 76px,#3e28ad 80px,#402bb7 83px,#3e28ad 86px,#402ab4 89px,#3e28ac 91px,#3f29af 93px,#3e26a8 122px,#3e26a8 129px,#fff 130px"></i><i style="top:45px;height:130px;--g:#fff 0,#5747ca 1px,#4330c5 2px,#422fc2 10px,#3e27ab 17px,#422fc2 23px,#4331c6 26px,#3f28ad 35px,#4230c3 42px,#3f28ad 50px,#422fc0 55px,#3f28ad 61px,#412dbc 66px,#3e28ac 71px,#412dba 74px,#3e28ad 78px,#402bb6 81px,#3f28ad 85px,#402ab4 87px,#3e28ac 90px,#3f2ab2 92px,#3f28ae 94px,#3e26a9 122px,#3e26a8 129px,#fff 130px"></i><i style="top:45px;height:130px;--g:#fff 0,#4331c7 1px,#3e28ad 14px,#422ebe 19px,#4331c6 23px,#3f28ad 33px,#4230c4 40px,#3e28ac 48px,#422fc1 53px,#3f28ad 59px,#412dbc 64px,#3e28ad 69px,#412dba 73px,#3e27ac 77px,#402bb8 80px,#3f28ad 83px,#402bb4 86px,#3e27ac 89px,#402ab2 91px,#3f28af 93px,#3e27a9 121px,#3e26a8 129px,#fff 130px"></i><i style="top:45px;height:130px;--g:#fff 0,#5747cb 1px,#4230c3 2px,#3e27ac 10px,#4331c6 19px,#422fc1 23px,#3f28ad 30px,#4330c4 37px,#3f28ad 45px,#422fc0 51px,#3e28ad 57px,#412ebd 62px,#3e28ac 67px,#412dba 71px,#3e28ac 75px,#402bb7 78px,#3f28ae 82px,#402bb5 85px,#3e28ac 87px,#3f2ab2 90px,#3e28ac 92px,#3f28af 94px,#3e26a8 121px,#3e26a8 129px,#fff 130px"></i><i style="top:45px;height:130px;--g:#fff 0,#968bdb 1px,#412dbc 2px,#3f28ac 7px,#4331c8 17px,#3f28ad 27px,#4330c4 34px,#3f28ad 43px,#422fc1 48px,#3f28ad 55px,#412ebe 60px,#3e28ad 65px,#412dba 69px,#3e28ad 73px,#402bb7 77px,#3f28ad 80px,#402bb5 83px,#3e27ac 86px,#402ab3 88px,#3e28ac 91px,#3f28af 93px,#3e26a8 121px,#3e26a8 129px,#fff 130px"></i><i style="top:45px;height:130px;--g:#fff 0,#eae7f7 1px,#3f29b1 2px,#3f28ad 5px,#4230c3 11px,#4331c7 14px,#3f28ad 24px,#4330c4 31px,#3f28ae 40px,#422fc0 46px,#3e28ad 53px,#412ebe 58px,#3f28ad 63px,#412cba 67px,#3f28ad 72px,#402cb8 75px,#3f28ad 79px,#402bb6 82px,#3e27ac 84px,#402ab3 87px,#3e28ad 90px,#3f29af 92px,#3e26a8 121px,#3e26a8 129px,#fff 130px"></i><i style="top:45px;height:130px;--g:#fff 0,#eae7f7 1px,#3f29af 2px,#412ebe 6px,#4331c7 11px,#3f28ad 21px,#4330c4 29px,#3f28ad 37px,#422fc0 43px,#3f28ae 51px,#412ebe 56px,#3e28ac 61px,#412dbb 65px,#3f28ad 70px,#402cb8 73px,#3e28ad 77px,#402bb6 80px,#3e28ac 83px,#402ab3 86px,#3e27ac 88px,#3f29af 90px,#3e26a8 121px,#3e26a8 129px,#fff 130px"></i><i style="top:45px;height:130px;--g:#fff 0,#aaa1e1 1px,#412dbb 2px,#4230c5 10px,#3e27ab 18px,#422ec0 24px,#422fc3 27px,#3e28ad 35px,#422fc1 41px,#3e28ad 48px,#412ebe 53px,#3e28ad 59px,#412cbb 63px,#3e28ad 68px,#402cb8 72px,#3e27ac 76px,#402bb7 78px,#3e28ac 82px,#402ab4 84px,#3e28ac 87px,#3f29af 89px,#3e26a8 121px,#3e26a8 129px,#fff 130px"></i><i style="top:45px;height:130px;--g:#fff 0,#6c5dcf 1px,#4230c3 2px,#422fc2 8px,#3e28ac 15px,#4330c5 23px,#3f28ad 32px,#422fc1 39px,#3e28ac 46px,#422ebe 51px,#3e28ad 57px,#412dbc 62px,#3e27ac 66px,#402cb9 70px,#3e28ac 74px,#402bb7 77px,#3f28ad 80px,#402ab4 83px,#3e27ac 86px,#3f2ab2 88px,#3f28ae 90px,#3e26a9 121px,#3e26a8 129px,#fff 130px"></i><i style="top:45px;height:130px;--g:#fff 0,#4230c4 1px,#3e28ad 12px,#4330c5 20px,#3f28ad 30px,#422fc2 36px,#3f28ad 43px,#412ebe 49px,#3e28ad 55px,#412dbb 59px,#3e28ac 65px,#402dba 68px,#3e27ac 72px,#402bb6 75px,#3e28ad 79px,#402bb5 81px,#3e28ad 84px,#3f2ab2 87px,#3e27ac 89px,#3f28ae 91px,#3e26a8 121px,#3e26a8 129px,#fff 130px"></i><i style="top:45px;height:130px;--g:#fff 0,#6c5dcf 1px,#422fc0 2px,#3e28ac 9px,#4330c5 18px,#3e28ad 27px,#422fc2 34px,#3e28ad 41px,#422ebf 47px,#3e28ac 53px,#412dbc 57px,#3e28ad 62px,#402cb8 66px,#3e28ad 71px,#402bb7 74px,#3f28ad 77px,#402bb5 80px,#3e27ac 83px,#3f2ab3 85px,#3e28ac 88px,#3f29af 90px,#3e26a8 121px,#3e26a8 129px,#fff 130px"></i><i style="top:45px;height:130px;--g:#fff 0,#aaa1e1 1px,#412cb9 2px,#3e27ac 6px,#4330c6 15px,#3e28ad 24px,#422fc2 31px,#3e28ad 39px,#422ebf 44px,#3f28ae 51px,#412dbc 56px,#3e28ac 61px,#412cba 65px,#3e27ac 69px,#402bb7 72px,#3e28ad 76px,#402bb6 79px,#3e27ac 81px,#3f2ab2 84px,#3f28ae 87px,#3e26a9 121px,#3e26a8 129px,#fff 130px"></i><i style="top:45px;height:130px;--g:#fff 0,#eae7f7 1px,#3f28ae 2px,#4330c5 12px,#3f28ad 21px,#422fc2 29px,#3e28ac 36px,#422ebf 42px,#3e28ad 48px,#412dbb 53px,#3f28ae 59px,#412cba 63px,#3e28ad 67px,#402bb7 70px,#3e28ad 74px,#402bb6 77px,#3e27ac 80px,#402ab3 82px,#3e28ac 85px,#3f29af 87px,#3e26a8 120px,#3e26a8 129px,#fff 130px"></i><i style="top:45px;height:130px;--g:#fff 0,#eae7f7 1px,#3f2ab2 2px,#4330c6 9px,#3f28ad 18px,#422fc2 26px,#3e28ad 34px,#422ec0 40px,#3e28ac 46px,#412dbc 51px,#3e28ad 57px,#412cba 61px,#3f28ad 65px,#402bb7 69px,#3e28ac 73px,#402bb6 76px,#3e28ac 79px,#402ab4 81px,#3e28ac 84px,#3f29af 86px,#3e26a8 120px,#3e26a8 129px,#fff 130px"></i><i style="top:45px;height:130px;--g:#fff 0,#958ada 1px,#412dbd 2px,#4230c3 7px,#3e28ad 16px,#422fc3 23px,#3e28ad 31px,#412ebf 37px,#3f28ad 44px,#412dbc 49px,#3e28ad 55px,#412dbb 59px,#3e28ad 63px,#402bb8 67px,#3e28ac 71px,#402bb6 74px,#3e28ac 77px,#402ab3 80px,#3e27ac 83px,#3f2ab2 85px,#3e28ac 87px,#3f28ae 89px,#3e26a8 120px,#3e26a8 129px,#fff 130px"></i><i style="top:45px;height:130px;--g:#fff 0,#6c5dcf 1px,#422fc2 2px,#422fc2 5px,#3e28ad 13px,#4230c3 21px,#3e28ac 29px,#422fc0 35px,#3e28ad 42px,#412ebd 47px,#3e28ac 53px,#412dbb 57px,#3e28ab 62px,#402cb9 65px,#3e27ac 69px,#402bb5 72px,#3f28ae 76px,#402ab4 79px,#3e28ac 81px,#3f2ab2 84px,#3e27ab 86px,#3f29b1 88px,#3f28ae 90px,#3e26a9 120px,#3e26a8 129px,#fff 130px"></i><i style="top:45px;height:130px;--g:#fff 0,#8174d6 1px,#422fc1 2px,#3e28ac 10px,#4330c3 18px,#3e28ad 26px,#422fc0 33px,#3e28ac 39px,#412dbc 44px,#3f28ae 51px,#412dbb 55px,#3e27ac 60px,#402cb8 63px,#3e28ac 68px,#402bb7 71px,#3e28ad 74px,#402ab4 77px,#3e27ac 80px,#3f2ab2 82px,#3f28ae 85px,#3e26a9 120px,#3e26a8 129px,#fff 130px"></i><i style="top:45px;height:130px;--g:#fff 0,#968ada 1px,#412dbb 2px,#3e27ac 7px,#4330c3 15px,#3e28ad 23px,#422ec0 30px,#3f28ad 37px,#412ebd 43px,#3e27ac 49px,#412dbb 53px,#3e28ac 58px,#402cb9 62px,#3e27ac 66px,#402bb6 69px,#3f28ad 73px,#402bb5 76px,#3e27ac 78px,#3f2ab2 81px,#3f28af 83px,#3e26a9 120px,#3e26a8 129px,#fff 130px"></i><i style="top:45px;height:130px;--g:#fff 0,#d5d0ee 1px,#402ab2 2px,#3e28ad 5px,#4330c3 12px,#3e27ac 21px,#422fc0 27px,#3f28ad 35px,#412ebe 40px,#3e28ad 46px,#412dba 51px,#3e28ad 56px,#402cb9 60px,#3e28ad 64px,#402bb6 68px,#3e28ac 71px,#402bb5 74px,#3e27ac 77px,#3f2ab3 80px,#3e27ac 82px,#3f29af 84px,#3e26a8 120px,#3e26a8 129px,#fff 130px"></i><i style="top:46px;height:129px;--g:#fff 0,#3f28ae 1px,#4330c4 8px,#3f28ad 17px,#422ec0 24px,#3f28ad 32px,#422ebe 37px,#3e28ac 43px,#412dbb 48px,#3f28ad 53px,#402cb9 57px,#3f28ad 61px,#402bb6 65px,#3e28ac 69px,#402bb6 71px,#3e27ac 75px,#402ab3 77px,#3e27ac 80px,#3f29af 82px,#3e26a8 119px,#3e26a8 128px,#fff 129px"></i><i style="top:45px;height:130px;--g:#fff 0,#bfb8e7 1px,#402bb8 2px,#4230c3 7px,#3e28ad 15px,#422fc0 23px,#3e28ad 30px,#422ebe 36px,#3e28ac 42px,#412dbc 47px,#3e28ac 52px,#402cb9 56px,#3e28ad 61px,#402bb7 64px,#3e27ac 68px,#402bb6 71px,#3e28ac 74px,#3f2ab2 77px,#3f29af 80px,#3e26a9 119px,#3e26a8 129px,#fff 130px"></i><i style="top:45px;height:130px;--g:#fff 0,#8173d4 1px,#422ebf 2px,#422fc0 6px,#3e28ac 13px,#422fc0 20px,#3f28ad 28px,#422ebe 34px,#3e28ad 40px,#412dbc 45px,#3e28ad 50px,#402cb9 55px,#3e27ac 59px,#402cb8 62px,#3e28ac 66px,#402bb5 69px,#3e28ad 73px,#402ab4 75px,#3e28ac 78px,#3f2ab1 81px,#3e27ac 83px,#3f28ae 85px,#3e26a8 119px,#3e26a8 129px,#fff 130px"></i><i style="top:45px;height:130px;--g:#fff 0,#8174d5 1px,#422ec0 2px,#3e28ac 10px,#422fc1 17px,#3f28ad 25px,#412ebe 31px,#3f28ad 38px,#412dbc 43px,#3e27ab 48px,#412cb9 52px,#3e28ad 57px,#402bb7 61px,#3e28ab 65px,#402bb6 68px,#3e28ac 71px,#402ab4 74px,#3e27ab 77px,#3f2ab2 79px,#3e27ac 82px,#3f28ae 84px,#3e26a8 119px,#3e26a8 129px,#fff 130px"></i><i style="top:45px;height:130px;--g:#fff 0,#968ada 1px,#412dbb 2px,#3e27ac 7px,#422fc1 15px,#3e27ac 23px,#422ebf 29px,#3e27ac 35px,#412dbc 40px,#3e28ad 46px,#412cba 50px,#3e28ac 55px,#402bb8 59px,#3e27ac 63px,#402bb5 66px,#3e28ac 70px,#402ab5 72px,#3e28ac 75px,#3f2ab2 78px,#3f28ae 80px,#3e26a9 119px,#3e26a8 129px,#fff 130px"></i><i style="top:45px;height:130px;--g:#fff 0,#d5d0ef 1px,#402ab4 2px,#3e28ad 5px,#422fc2 12px,#3f28ad 20px,#412ebf 27px,#3e27ac 33px,#412dbc 38px,#3e28ad 44px,#412cba 48px,#3e28ad 53px,#402bb8 57px,#3e28ad 61px,#402bb6 65px,#3e28ac 68px,#402ab4 71px,#3e27ab 74px,#3f2ab2 76px,#3e27ac 79px,#3f29af 81px,#3e26a8 119px,#3e26a8 129px,#fff 130px"></i><i style="top:46px;height:129px;--g:#fff 0,#5440b6 1px,#3f28af 2px,#422fc2 8px,#3f28ad 16px,#412ebe 23px,#3e28ad 30px,#412dbd 35px,#3f28ad 41px,#412dba 46px,#3e28ac 50px,#402cb7 54px,#3f28ad 59px,#402bb7 62px,#3e28ac 65px,#402ab4 68px,#3e28ac 72px,#3f2ab3 74px,#3e27ac 77px,#3f2ab1 79px,#3f28ae 81px,#3e26a9 118px,#3e26a8 128px,#fff 129px"></i><i style="top:45px;height:130px;--g:#fff 0,#bfb8e6 1px,#402bb6 2px,#422fc1 6px,#3e28ad 15px,#422ebf 22px,#3e28ac 28px,#412dbc 34px,#3e28ac 40px,#412cba 45px,#3e28ad 50px,#402cb8 54px,#3e28ac 58px,#402bb6 61px,#3e27ac 65px,#402bb5 68px,#3e28ac 71px,#402ab3 74px,#3e28ac 76px,#3f29b1 79px,#3e27ac 81px,#3f28ae 83px,#3e26a8 119px,#3e26a8 129px,#fff 130px"></i><i style="top:45px;height:130px;--g:#fff 0,#8073d3 1px,#412ebd 2px,#422ebe 6px,#3e28ac 12px,#422ebf 19px,#3e28ac 26px,#412dbd 32px,#3e28ab 38px,#412dba 42px,#3e28ac 48px,#402cb8 51px,#3e28ad 56px,#402bb7 60px,#3e27ac 63px,#402bb5 66px,#3e28ac 70px,#402ab3 72px,#3e27ac 75px,#3f2ab1 77px,#3e28ac 80px,#3f28ae 82px,#3e26a8 119px,#3e26a8 129px,#fff 130px"></i><i style="top:45px;height:130px;--g:#fff 0,#8174d4 1px,#422ebe 2px,#3e28ac 10px,#422ec0 16px,#3f28ad 24px,#412ebd 29px,#3e28ad 36px,#412dba 40px,#3e28ad 46px,#402cb9 50px,#3e27ac 54px,#402bb6 58px,#3e28ac 62px,#402bb6 65px,#3e28ac 68px,#402ab3 71px,#3e27ab 74px,#3f2ab2 76px,#3e27ac 79px,#3f28ae 81px,#3e26a8 118px,#3e26a8 129px,#fff 130px"></i><i style="top:45px;height:130px;--g:#fff 0,#958ada 1px,#412cba 2px,#3e28ac 7px,#422ec0 14px,#3f28ad 21px,#412ebd 27px,#3e28ad 33px,#412cba 38px,#3e28ac 44px,#402cba 48px,#3e28ac 52px,#402bb7 56px,#3e27ac 60px,#402ab3 63px,#3f28ae 72px,#3f29b0 75px,#3f28ae 82px,#3e26a9 118px,#3e26a8 129px,#fff 130px"></i><i style="top:45px;height:130px;--g:#fff 0,#d5d0ee 1px,#402ab2 2px,#3e28ac 5px,#422ec0 11px,#3f27ad 19px,#412ebd 25px,#3e28ac 31px,#412dbb 36px,#3e27ac 42px,#402cb9 46px,#3e27ab 51px,#402cb8 54px,#3e28ad 58px,#402bb5 62px,#3e28ac 65px,#402ab4 68px,#3e27ac 71px,#3f29af 73px,#3e26a8 118px,#3e26a8 129px,#fff 130px"></i><i style="top:46px;height:129px;--g:#fff 0,#5440b6 1px,#3f29ae 2px,#422fc0 8px,#3f28ad 15px,#412ebd 22px,#3e28ac 28px,#412dbb 33px,#3e28ac 39px,#412cb9 43px,#3e28ac 48px,#402cb8 52px,#3e28ac 56px,#402bb6 59px,#3e28ac 62px,#402ab4 65px,#3e28ac 68px,#3f29b2 71px,#3e28ac 74px,#3f29af 76px,#3e26a8 117px,#3e26a8 128px,#fff 129px"></i><i style="top:45px;height:130px;--g:#fff 0,#d5d0ef 1px,#402bb6 2px,#412ec0 6px,#3e28ad 14px,#412ebd 20px,#3e28ad 27px,#412dbb 32px,#3e28ac 38px,#402cba 42px,#3f28ac 47px,#402bb8 51px,#3e28ac 55px,#402bb5 58px,#3e28ac 62px,#402ab5 65px,#3e28ac 68px,#402ab3 71px,#3e28ac 73px,#3f29af 76px,#3e26a8 118px,#3e26a8 129px,#fff 130px"></i><i style="top:45px;height:130px;--g:#fff 0,#958bda 1px,#412ebd 2px,#3f28ad 12px,#422ebe 18px,#3e28ac 24px,#412dbc 30px,#3e27ac 35px,#402cb9 40px,#3f28ad 45px,#402bb7 49px,#3f28ad 53px,#402bb6 57px,#3e27ac 60px,#402ab4 63px,#3e28ac 67px,#402ab3 69px,#3e27ab 72px,#3f29b1 74px,#3e28ac 77px,#3f28ae 79px,#3e26a8 118px,#3e26a8 129px,#fff 130px"></i><i style="top:45px;height:130px;--g:#fff 0,#8074d3 1px,#412ebd 2px,#3e28ac 9px,#412ebe 16px,#3e28ac 22px,#412dbc 28px,#3e28ac 33px,#412cba 38px,#3e28ac 43px,#402cb8 47px,#3e28ad 51px,#402bb6 55px,#3e27ac 59px,#402bb5 62px,#3e28ac 65px,#402ab3 68px,#3e27ab 71px,#3f29b1 73px,#3f28ae 76px,#3e26a9 118px,#3e26a8 129px,#fff 130px"></i><i style="top:45px;height:130px;--g:#fff 0,#aaa2e1 1px,#402cb8 2px,#3e28ac 6px,#422ebe 13px,#3e28ac 20px,#412dbc 25px,#3e27ac 31px,#412cba 36px,#3e28ac 41px,#402cb8 45px,#3e27ac 50px,#402bb7 53px,#3e27ab 57px,#402ab4 60px,#3e28ac 64px,#402ab3 66px,#3e28ac 69px,#3f29af 72px,#3e26a8 117px,#3e26a8 129px,#fff 130px"></i><i style="top:45px;height:130px;--g:#fff 0,#eae7f7 1px,#3f29b0 2px,#3e28ac 4px,#412ebe 10px,#3f28ad 18px,#412dbc 23px,#3e28ad 29px,#412dba 34px,#3e28ac 39px,#402bb8 43px,#3e28ac 48px,#402bb7 52px,#3e28ac 55px,#402ab3 59px,#3f28ad 68px,#3f2ab2 70px,#3e28ac 73px,#3f28ae 75px,#3e26a8 118px,#3e26a8 129px,#fff 130px"></i><i style="top:46px;height:129px;--g:#fff 0,#5440b6 1px,#3f2ab1 2px,#422ebe 7px,#3e27ac 14px,#412dbc 20px,#3e28ac 26px,#412dba 31px,#3e28ac 36px,#402cb8 41px,#3e27ac 45px,#402bb7 49px,#3e27ac 53px,#402bb5 56px,#3e28ac 59px,#402ab3 62px,#3e28ac 65px,#3f29b1 68px,#3f28ae 71px,#3e26a9 116px,#3e26a8 128px,#fff 129px"></i><i style="top:45px;height:130px;--g:#fff 0,#d5d0ef 1px,#402bb6 2px,#412ebd 6px,#3e27ac 13px,#412dbd 18px,#3e27ac 25px,#412dbb 30px,#3e28ac 35px,#402cb8 40px,#3e27ac 44px,#402bb7 48px,#3e28ac 52px,#402bb5 55px,#3e28ad 59px,#402ab4 62px,#3e27ab 65px,#3f2ab2 67px,#3f28af 70px,#3e26a9 117px,#3e26a8 129px,#fff 130px"></i><i style="top:45px;height:130px;--g:#fff 0,#8073d2 1px,#412dbc 2px,#3e28ad 10px,#412dbc 16px,#3e28ad 23px,#412dbb 28px,#3e28ac 33px,#402cb9 38px,#3e28ac 42px,#402bb7 46px,#3e28ad 50px,#402bb5 54px,#3e27ac 57px,#402ab4 60px,#3e28ac 64px,#3f2ab3 66px,#3e27ac 69px,#3f29af 71px,#3e26a8 117px,#3e26a8 129px,#fff 130px"></i><i style="top:45px;height:130px;--g:#fff 0,#8073d2 1px,#412dbb 2px,#3e28ac 8px,#412ebd 14px,#3e28ad 20px,#412dba 26px,#3e27ac 31px,#402cb9 36px,#3e28ac 40px,#402bb6 44px,#3e28ad 49px,#402bb5 52px,#3e28ac 56px,#402bb5 59px,#3e28ac 62px,#3f2ab2 65px,#3e27ab 68px,#3f29af 70px,#3e26a8 117px,#3e26a8 129px,#fff 130px"></i><i style="top:45px;height:130px;--g:#fff 0,#bfb8e7 1px,#402bb6 2px,#3e27ab 5px,#412dbd 11px,#3e27ac 18px,#412dbb 23px,#3e28ac 29px,#402cb8 33px,#3f28ad 39px,#402bb7 43px,#3e27ac 47px,#402bb6 50px,#3e27ac 54px,#402ab4 57px,#3e28ac 61px,#402ab3 63px,#3e27ac 66px,#3f29af 68px,#3e26a8 117px,#3e26a8 129px,#fff 130px"></i><i style="top:46px;height:129px;--g:#fff 0,#5440b7 1px,#3e27ac 2px,#412ebd 8px,#3e28ac 15px,#412dbb 20px,#3e28ac 26px,#402cb9 31px,#3e27ac 36px,#402cb8 40px,#3e28ac 44px,#402bb7 48px,#3e27ab 51px,#402ab4 54px,#3e28ad 58px,#402ab3 61px,#3e27ab 64px,#3f2ab2 66px,#3e28ac 69px,#3f28ae 71px,#3e26a8 116px,#3e26a8 128px,#fff 129px"></i><i style="top:45px;height:130px;--g:#fff 0,#eae7f7 1px,#3f29b1 2px,#412dbc 7px,#3e27ac 14px,#412dbb 19px,#3e28ac 25px,#402cb9 30px,#3e27ab 35px,#402cb9 39px,#3e27ab 43px,#402bb6 47px,#3e27ab 51px,#402ab4 54px,#3e28ac 58px,#402ab4 60px,#3e27ac 63px,#3f29b1 66px,#3e27ac 69px,#3f28ae 71px,#3e26a8 117px,#3e26a8 129px,#fff 130px"></i><i style="top:45px;height:130px;--g:#fff 0,#bfb9e7 1px,#402cb8 2px,#412dba 6px,#3e27ac 11px,#412dbb 17px,#3e27ac 23px,#412cb9 28px,#3e28ac 33px,#402cb9 37px,#3e27ac 41px,#402bb6 45px,#3e27ac 49px,#402ab4 52px,#3e28ad 56px,#402ab3 59px,#3e27ab 62px,#3f29af 64px,#3e26a8 117px,#3e26a8 129px,#fff 130px"></i><i style="top:45px;height:130px;--g:#fff 0,#8073d1 1px,#412dbb 2px,#3e28ac 9px,#412dbb 14px,#3e28ac 21px,#412cba 25px,#3e28ac 31px,#402cb8 35px,#3e28ac 40px,#402bb6 43px,#3e28ac 48px,#402bb5 51px,#3e28ac 54px,#402ab3 57px,#3e27ac 61px,#3f2ab2 63px,#3e28ac 66px,#3f29af 68px,#3e26a8 116px,#3e26a8 129px,#fff 130px"></i><i style="top:45px;height:130px;--g:#fff 0,#c0b9e7 1px,#402bb7 2px,#3e27ab 6px,#412dbc 12px,#3e27ac 18px,#412cb9 23px,#3e28ad 29px,#402cb8 33px,#3e28ad 38px,#402bb6 42px,#3e28ac 46px,#402bb5 49px,#3e28ac 53px,#402ab4 56px,#3e27ac 59px,#3f2ab2 62px,#3e27ac 65px,#3f29af 67px,#3e26a8 117px,#3e26a8 129px,#fff 130px"></i><i style="top:45px;height:130px;--g:#fff 0,#eae7f7 1px,#3f29b1 2px,#3e28ac 4px,#412dbc 10px,#3e28ac 16px,#412cba 21px,#3e28ac 27px,#402cb8 31px,#3e28ac 36px,#402bb7 40px,#3e28ac 44px,#402bb5 47px,#3e27ac 51px,#402ab4 54px,#3e27ac 58px,#3f2ab3 60px,#3e27ac 63px,#3f29b1 66px,#3f28ae 68px,#3e26a9 116px,#3e26a8 129px,#fff 130px"></i><i style="top:46px;height:129px;--g:#fff 0,#543fb5 1px,#3f29af 2px,#412dbb 7px,#3e27ac 13px,#412dba 18px,#3e27ac 24px,#402cb9 28px,#3e28ac 33px,#402bb7 37px,#3e27ac 41px,#402bb5 45px,#3e27ac 49px,#402ab5 52px,#3e28ac 55px,#402ab3 58px,#3e27ab 61px,#3f2ab2 63px,#3e28ac 66px,#3f28ae 68px,#3e26a8 115px,#3e26a8 128px,#fff 129px"></i><i style="top:45px;height:130px;--g:#fff 0,#d5d0ef 1px,#402bb5 2px,#412cbb 6px,#3e28ac 12px,#412dba 17px,#3e28ac 23px,#402cb9 27px,#3e27ab 32px,#402bb7 36px,#3e27ac 41px,#402bb6 44px,#3e27ac 48px,#402ab2 51px,#3f28ad 60px,#3f29b0 63px,#3f28ae 66px,#3e26a9 116px,#3e26a8 129px,#fff 130px"></i><i style="top:45px;height:130px;--g:#fff 0,#c0b9e8 1px,#412cba 2px,#3e28ad 9px,#412cba 15px,#3e27ac 20px,#402cb8 25px,#3e27ac 30px,#402bb7 34px,#3e27ab 39px,#402bb6 42px,#3e27ab 46px,#402ab4 49px,#3e28ac 53px,#402ab3 56px,#3e27ab 59px,#3f2ab1 61px,#3f28ae 64px,#3e26a9 116px,#3e26a8 129px,#fff 130px"></i><i style="top:45px;height:130px;--g:#fff 0,#c0b9e8 1px,#412cb9 2px,#3e27ac 7px,#412dbb 13px,#3e28ab 18px,#402cb9 23px,#3e28ac 28px,#402bb7 32px,#3e28ac 37px,#402bb6 41px,#3e27ac 44px,#402ab4 48px,#3e28ac 51px,#402ab3 54px,#3e27ac 58px,#3f2ab2 60px,#3e27ac 63px,#3f28af 65px,#3e26a8 115px,#3e26a8 129px,#fff 130px"></i><i style="top:45px;height:130px;--g:#fff 0,#d5d0ef 1px,#402ab3 2px,#3e28ad 5px,#412dbb 11px,#3e27ab 16px,#402cb9 21px,#3e27ac 26px,#402bb7 30px,#3e28ad 35px,#402bb6 39px,#3e28ac 43px,#402ab4 46px,#3e28ac 50px,#402ab3 53px,#3e27ac 56px,#3f2ab2 59px,#3e28ac 62px,#3f28af 64px,#3e26a8 116px,#3e26a8 129px,#fff 130px"></i><i style="top:46px;height:129px;--g:#fff 0,#543fb5 1px,#3e27ac 2px,#412dbb 7px,#3e28ac 13px,#402cb9 18px,#3e28ac 23px,#402bb7 28px,#3e28ac 32px,#402bb6 36px,#3e28ad 40px,#402ab4 44px,#3e27ab 47px,#402ab4 50px,#3e27ac 53px,#3f2ab1 56px,#3f28ad 59px,#3f28ae 66px,#3e26a8 115px,#3e26a8 128px,#fff 129px"></i><i style="top:45px;height:130px;--g:#fff 0,#eae7f7 1px,#3f29b1 2px,#412dba 6px,#3e27ac 12px,#402cb9 17px,#3e28ac 22px,#402cb8 27px,#3e27ac 31px,#402bb6 35px,#3e28ac 39px,#402ab5 43px,#3e27ac 46px,#402ab3 50px,#3e27ac 53px,#3f2ab2 56px,#3e27ab 59px,#3f29b2 61px,#3e27ac 64px,#3f28ae 66px,#3e26a8 115px,#3e26a8 129px,#fff 130px"></i><i style="top:45px;height:130px;--g:#fff 0,#bfb8e7 1px,#402cb7 2px,#3e28ad 10px,#402cb9 15px,#3e27ac 20px,#402cb8 25px,#3e27ab 30px,#402bb7 33px,#3e27ac 38px,#402bb5 41px,#3e27ab 45px,#402ab4 48px,#3e28ac 51px,#3f2ab2 54px,#3e28ac 57px,#3f29af 60px,#3e26a8 115px,#3e26a8 129px,#fff 130px"></i><i style="top:45px;height:130px;--g:#fff 0,#c0b9e8 1px,#412cb8 2px,#3e27ac 7px,#402cb9 13px,#3e28ac 18px,#402cb8 23px,#3e27ac 27px,#402bb7 32px,#3e27ab 36px,#402bb6 39px,#3e27ac 43px,#402ab3 46px,#3e28ad 50px,#3f2ab3 53px,#3e27ab 56px,#3f2ab2 58px,#3e27ac 61px,#3f28ae 63px,#3e26a8 115px,#3e26a8 129px,#fff 130px"></i><i style="top:45px;height:130px;--g:#fff 0,#bfb8e6 1px,#402bb5 2px,#3e28ac 5px,#402cba 11px,#3e28ac 16px,#402cb8 21px,#3e27ab 26px,#402cb7 30px,#3e27ab 34px,#402bb5 38px,#3e27ab 42px,#402ab4 45px,#3e27ac 48px,#402ab3 51px,#3e27ac 54px,#3f29b1 57px,#3e28ac 60px,#3f28af 62px,#3e26a8 115px,#3e26a8 129px,#fff 130px"></i><i style="top:46px;height:129px;--g:#fff 0,#3f28ae 1px,#402cb9 7px,#3e27ac 13px,#402bb8 17px,#3e28ac 23px,#402bb7 27px,#3e27ac 31px,#402bb5 35px,#3e28ac 39px,#402ab4 42px,#3e28ac 46px,#402ab3 49px,#3e27ab 52px,#3f29af 54px,#3e26a8 114px,#3e26a8 128px,#fff 129px"></i><i style="top:46px;height:129px;--g:#fff 0,#3f29af 1px,#412cb9 5px,#3e28ac 11px,#402cb8 16px,#3e28ac 21px,#402bb7 25px,#3e27ac 30px,#402bb6 33px,#3e28ac 37px,#402ab4 41px,#3e27ab 44px,#402ab4 47px,#3e28ac 50px,#3f29b1 53px,#3e27ac 56px,#3f29af 58px,#3e26a8 114px,#3e26a8 128px,#fff 129px"></i><i style="top:45px;height:130px;--g:#fff 0,#bfb8e7 1px,#402bb6 2px,#402cb8 5px,#3e27ac 10px,#402cb8 15px,#3e27ac 20px,#402bb7 24px,#3e27ac 29px,#402bb5 32px,#3e28ac 37px,#402ab5 40px,#3e27ab 44px,#402ab4 46px,#3e28ac 50px,#3f2ab2 53px,#3e27ab 56px,#3f29af 58px,#3e26a8 115px,#3e26a8 129px,#fff 130px"></i><i style="top:45px;height:130px;--g:#fff 0,#c0b9e7 1px,#412cb8 2px,#3e28ac 8px,#402cb8 13px,#3e27ab 18px,#402bb7 22px,#3e28ac 27px,#402bb5 31px,#3e27ab 35px,#402bb5 38px,#3e28ac 42px,#3f2ab2 45px,#3e28ad 54px,#3f28af 57px,#3e26a8 114px,#3e26a8 129px,#fff 130px"></i><i style="top:45px;height:130px;--g:#fff 0,#bfb8e7 1px,#402bb5 2px,#3e27ab 5px,#402cb8 10px,#3e28ac 16px,#402cb7 20px,#3e27ab 25px,#402bb6 29px,#3e27ab 33px,#402bb5 36px,#3e27ac 40px,#402ab3 43px,#3e28ac 47px,#3f2ab2 50px,#3e27ab 53px,#3f29b1 55px,#3e28ac 58px,#3f28ae 60px,#3e26a8 115px,#3e26a8 129px,#fff 130px"></i><i style="top:46px;height:129px;--g:#fff 0,#3f28ad 1px,#402cb8 7px,#3e27ac 13px,#402cb7 17px,#3e27ab 22px,#402bb6 26px,#3e27ab 30px,#402ab5 34px,#3e27ab 38px,#402ab4 41px,#3e28ac 44px,#3f2ab2 47px,#3e27ac 50px,#3f29b1 53px,#3f28ae 56px,#3e26a9 113px,#3e26a8 128px,#fff 129px"></i><i style="top:46px;height:129px;--g:#fff 0,#5440b6 1px,#3f29b1 2px,#402cb8 5px,#3e28ac 11px,#402cb8 15px,#3e27ab 20px,#402bb7 24px,#3e27ab 28px,#402ab5 32px,#3e27ac 36px,#402ab3 39px,#3e28ac 43px,#3f2ab2 46px,#3f28ae 49px,#3f28ae 57px,#3e26a8 113px,#3e26a8 128px,#fff 129px"></i><i style="top:45px;height:130px;--g:#fff 0,#d5d0ee 1px,#402ab5 2px,#402cb7 5px,#3e28ab 10px,#412cb8 14px,#3e28ac 19px,#402bb6 23px,#3e27ac 28px,#402bb5 31px,#3e28ad 35px,#402ab3 39px,#3e27ac 42px,#402ab3 45px,#3e27ab 48px,#3f29b1 51px,#3e27ac 54px,#3f28af 56px,#3e26a8 114px,#3e26a8 129px,#fff 130px"></i><i style="top:45px;height:130px;--g:#fff 0,#bfb9e7 1px,#402cb7 2px,#3e27ab 7px,#402bb7 12px,#3e28ad 17px,#402bb6 22px,#3e28ac 26px,#402bb5 30px,#3e28ac 34px,#402ab4 37px,#3e27ac 41px,#402ab3 44px,#3e27ab 47px,#3f29b1 50px,#3f28ae 53px,#3e26a9 114px,#3e26a8 129px,#fff 130px"></i><i style="top:45px;height:130px;--g:#fff 0,#bfb8e6 1px,#402bb5 2px,#3e27ab 5px,#402cb8 10px,#3e27ac 15px,#402bb6 19px,#3e28ac 24px,#402bb5 28px,#3e27ab 32px,#402ab4 35px,#3e27ab 39px,#402ab3 42px,#3e27ac 45px,#3f2ab2 48px,#3e27ac 51px,#3f28af 54px,#3e26a8 114px,#3e26a8 129px,#fff 130px"></i><i style="top:46px;height:129px;--g:#fff 0,#3f29af 1px,#402bb7 7px,#3e27ac 12px,#402bb7 17px,#3e27ac 21px,#402bb6 25px,#3e27ac 29px,#402ab5 33px,#3e27ab 36px,#402ab3 40px,#3e27ac 43px,#3f2ab2 46px,#3e27ab 49px,#3f28af 51px,#3e26a8 113px,#3e26a8 128px,#fff 129px"></i><i style="top:46px;height:129px;--g:#fff 0,#5440b7 1px,#3f29b1 2px,#402cb8 5px,#3e28ac 10px,#402bb7 15px,#3e27ab 19px,#402bb6 23px,#3e27ab 27px,#402ab4 31px,#3e27ab 35px,#402ab4 38px,#3e27ac 41px,#3f2ab2 44px,#3e28ac 47px,#3f29af 50px,#3e26a8 113px,#3e26a8 128px,#fff 129px"></i><i style="top:45px;height:130px;--g:#fff 0,#d5d0ee 1px,#402bb4 2px,#402bb5 6px,#3e27ab 9px,#402cb7 14px,#3e27ac 18px,#402bb5 23px,#3e27ab 27px,#402bb5 30px,#3e28ac 34px,#3f2ab2 37px,#3e28ad 47px,#3f29af 49px,#3e26a8 113px,#3e26a8 129px,#fff 130px"></i><i style="top:45px;height:130px;--g:#fff 0,#bfb8e7 1px,#402bb7 2px,#3e28ac 7px,#402bb7 12px,#3e27ac 16px,#402bb5 21px,#3e27ab 25px,#402bb5 29px,#3e27ab 32px,#402ab3 35px,#3e28ac 39px,#3f2ab2 42px,#3e27ac 45px,#3f29b1 48px,#3e28ac 51px,#3f28ae 53px,#3e26a8 114px,#3e26a8 129px,#fff 130px"></i><i style="top:45px;height:130px;--g:#fff 0,#d5d0ef 1px,#402ab4 2px,#3e27ac 5px,#402bb7 10px,#3e28ac 15px,#402bb6 19px,#3e27ac 23px,#402ab4 27px,#3e28ac 31px,#402ab3 34px,#3e28ac 38px,#3f2ab2 41px,#3f28ad 44px,#3f28ae 52px,#3e26a8 114px,#3e26a8 129px,#fff 130px"></i><i style="top:46px;height:129px;--g:#fff 0,#3f28ad 1px,#402bb6 7px,#3e28ac 12px,#402bb6 16px,#3e28ac 20px,#402ab5 24px,#3e28ac 28px,#402ab4 31px,#3e27ac 35px,#3f2ab3 38px,#3e27ac 41px,#3f29b1 44px,#3e28ac 47px,#3f28ae 50px,#3e26a8 112px,#3e26a8 128px,#fff 129px"></i><i style="top:46px;height:129px;--g:#fff 0,#5440b6 1px,#3f29b1 2px,#402bb7 5px,#3e28ac 10px,#402bb6 14px,#3e27ac 19px,#402bb5 22px,#3e28ac 26px,#402ab3 30px,#3e27ab 34px,#3f2ab3 36px,#3e28ac 40px,#3f2ab1 43px,#3e27ab 46px,#3f28af 48px,#3e26a8 111px,#3e26a8 128px,#fff 129px"></i><i style="top:45px;height:130px;--g:#fff 0,#d5d0ee 1px,#402ab4 2px,#402bb5 5px,#3e27ab 9px,#402bb6 13px,#3e28ac 18px,#402ab5 22px,#3e27ab 26px,#402ab4 29px,#3e27ac 33px,#3f29b1 36px,#3e28ad 45px,#3f28ae 48px,#3e26a8 113px,#3e26a8 129px,#fff 130px"></i><i style="top:45px;height:130px;--g:#fff 0,#bfb8e7 1px,#402bb6 2px,#3e27ab 7px,#402bb6 11px,#3e27ac 16px,#402bb5 20px,#3e27ab 24px,#402ab5 27px,#3e27ac 31px,#3f2ab1 34px,#3e28ad 44px,#3f29b1 46px,#3f28ae 49px,#3e26a9 113px,#3e26a8 129px,#fff 130px"></i><i style="top:45px;height:130px;--g:#fff 0,#d5d0ee 1px,#402ab3 2px,#3e28ac 5px,#402bb6 10px,#3e27ab 14px,#402bb6 18px,#3e27ab 22px,#402bb5 26px,#3e27ab 29px,#402ab3 33px,#3e27ac 36px,#3f2ab2 39px,#3e27ac 42px,#3f28af 45px,#3e26a8 112px,#3e26a8 129px,#fff 130px"></i><i style="top:46px;height:129px;--g:#fff 0,#3e28ad 1px,#402bb6 6px,#3e27ac 11px,#402bb6 15px,#3e27ac 19px,#402ab4 23px,#3e28ab 27px,#402ab3 30px,#3e27ac 34px,#3f2ab2 37px,#3e28ad 40px,#3f28ae 48px,#3e26a8 112px,#3e26a8 128px,#fff 129px"></i><i style="top:46px;height:129px;--g:#fff 0,#3f29af 1px,#402bb7 4px,#3e27ac 9px,#402bb5 13px,#3e27ac 18px,#402ab4 21px,#3e28ac 25px,#402ab3 29px,#3e27ab 32px,#3f2ab3 35px,#3e27ab 38px,#3f29b1 41px,#3e27ab 44px,#3f28ae 46px,#3e26a8 111px,#3e26a8 128px,#fff 129px"></i><i style="top:45px;height:130px;--g:#fff 0,#bfb8e6 1px,#402bb5 2px,#3f28ad 8px,#402bb5 12px,#3e28ac 17px,#402ab4 20px,#3e28ac 24px,#402ab3 28px,#3e27ab 32px,#3f2ab3 34px,#3e27ac 38px,#3f2ab1 41px,#3e27ab 44px,#3f29b1 46px,#3f28ae 49px,#3e26a9 112px,#3e26a8 129px,#fff 130px"></i><i style="top:45px;height:130px;--g:#fff 0,#bfb8e7 1px,#402bb5 2px,#3e27ab 6px,#402bb5 10px,#3e28ac 15px,#402ab4 19px,#3e27ac 23px,#402ab4 26px,#3e27ab 30px,#3f2ab3 33px,#3e27ab 36px,#3f29b1 39px,#3e27ac 42px,#3f28ae 45px,#3e26a8 112px,#3e26a8 129px,#fff 130px"></i><i style="top:45px;height:130px;--g:#fff 0,#d5d0ee 1px,#3f29b1 2px,#3e27aa 4px,#402bb6 8px,#3e27ac 13px,#402ab5 17px,#3e27ab 21px,#402ab4 24px,#3e27ab 28px,#3f2ab2 31px,#3e28ac 35px,#3f2ab2 38px,#3e27ab 41px,#3f28ae 43px,#3e26a8 112px,#3e26a8 129px,#fff 130px"></i><i style="top:46px;height:129px;--g:#fff 0,#6957be 1px,#3e27ac 2px,#402bb6 5px,#3e27ab 10px,#402ab5 14px,#3e27ab 18px,#402ab4 22px,#3e27ac 26px,#3f29b1 29px,#3e28ad 38px,#3f28ae 41px,#3e26a8 111px,#3e26a8 128px,#fff 129px"></i><i style="top:46px;height:129px;--g:#fff 0,#3f29af 1px,#402bb6 4px,#3e27ab 8px,#402bb5 12px,#3e27ab 16px,#402ab3 20px,#3e28ac 24px,#3f29b1 27px,#3f28ae 37px,#3f28ae 45px,#3e26a9 110px,#3e26a8 128px,#fff 129px"></i><i style="top:45px;height:130px;--g:#fff 0,#bfb8e6 1px,#402bb4 2px,#3e27ac 8px,#402bb5 11px,#3e27ab 16px,#402ab4 19px,#3e28ac 23px,#402ab3 27px,#3e27ab 30px,#3f2ab3 33px,#3e27ab 36px,#3f29b0 39px,#3f28ae 42px,#3e26a9 112px,#3e26a8 129px,#fff 130px"></i><i style="top:45px;height:130px;--g:#fff 0,#bfb8e6 1px,#402ab4 2px,#3e28ac 6px,#402bb5 10px,#3e27ac 14px,#402ab4 18px,#3e28ac 22px,#402ab4 25px,#3e27ab 28px,#3f2ab2 31px,#3f28ae 35px,#3f28ae 43px,#3e26a9 111px,#3e26a8 129px,#fff 130px"></i><i style="top:46px;height:129px;--g:#fff 0,#3f29af 1px,#402ab4 7px,#3e28ac 11px,#402ab4 15px,#3e27ac 19px,#402ab3 22px,#3e27ab 26px,#3f2ab3 29px,#3e27ab 32px,#3f29b1 35px,#3e27ab 38px,#3f28ae 40px,#3e26a8 111px,#3e26a8 128px,#fff 129px"></i><i style="top:46px;height:129px;--g:#fff 0,#543fb5 1px,#3f28ae 2px,#402bb5 5px,#3e27ac 9px,#402ab4 13px,#3e27ac 17px,#402ab4 21px,#3e27aa 24px,#3f2ab2 27px,#3e28ac 31px,#3f29b1 34px,#3e27ab 37px,#3f28ae 39px,#3e26a8 110px,#3e26a8 128px,#fff 129px"></i><i style="top:45px;height:130px;--g:#fff 0,#eae7f7 1px,#3f2ab2 2px,#3e28ac 8px,#402ab4 12px,#3e27ac 16px,#402ab3 20px,#3e27ac 24px,#3f29b1 27px,#3f28ad 36px,#3f28ae 39px,#3e26a8 112px,#3e26a8 129px,#fff 130px"></i><i style="top:45px;height:130px;--g:#fff 0,#bfb8e6 1px,#402bb5 2px,#3e27ab 6px,#402ab4 10px,#3e27ab 15px,#402ab4 18px,#3e27ab 22px,#3f29b1 25px,#3e28ad 35px,#3f28ae 37px,#3e26a8 111px,#3e26a8 129px,#fff 130px"></i><i style="top:45px;height:130px;--g:#fff 0,#d5d0ee 1px,#402ab3 2px,#3e27ab 4px,#402ab5 9px,#3e27ab 13px,#402ab4 17px,#3e28ac 20px,#3f2ab3 24px,#3e27ac 27px,#3f2ab2 30px,#3e27ab 33px,#3f29b1 36px,#3e27ab 39px,#3f28ae 41px,#3e26a8 111px,#3e26a8 129px,#fff 130px"></i><i style="top:46px;height:129px;--g:#fff 0,#5440b6 1px,#3e27ac 2px,#402bb5 6px,#3e27ab 10px,#402ab3 14px,#3e28ac 18px,#3f2ab3 21px,#3e27ab 25px,#3f2ab2 27px,#3e27ab 31px,#3f29b1 34px,#3e27ac 36px,#3f28ae 39px,#3e26a9 109px,#3e26a8 128px,#fff 129px"></i><i style="top:46px;height:129px;--g:#fff 0,#3f28ad 1px,#402bb5 4px,#3e27ac 8px,#402ab3 12px,#3e28ac 16px,#3f2ab3 19px,#3e27ab 23px,#3f2ab3 26px,#3e27ab 29px,#3f29b1 32px,#3f28ad 35px,#3f28ae 43px,#3e26a9 108px,#3e26a8 128px,#fff 129px"></i><i style="top:45px;height:130px;--g:#fff 0,#d5d0ee 1px,#402ab3 2px,#3f28ad 7px,#402ab3 12px,#3e27ab 15px,#402ab3 19px,#3e27ab 22px,#3f2ab2 25px,#3f28ad 29px,#3f28ae 37px,#3e26a9 110px,#3e26a8 129px,#fff 130px"></i><i style="top:45px;height:130px;--g:#fff 0,#bfb8e6 1px,#402ab4 2px,#3e27ab 6px,#402bb5 9px,#3e27ac 13px,#3f2ab3 17px,#3e27ab 21px,#3f2ab3 24px,#3e27ab 27px,#3f29b1 30px,#3e27ac 33px,#3f28ae 36px,#3e26a9 110px,#3e26a8 129px,#fff 130px"></i><i style="top:46px;height:129px;--g:#fff 0,#3f29af 1px,#3e26a9 109px,#3e26a8 128px,#fff 129px"></i><i style="top:46px;height:129px;--g:#fff 0,#6957bd 1px,#3e28ad 2px,#402bb5 5px,#3e27ab 9px,#402ab3 12px,#3f28ad 16px,#3f29b0 26px,#3e28ac 29px,#3f29b0 32px,#3f28ae 35px,#3e26a9 109px,#3e26a8 128px,#fff 129px"></i><i style="top:46px;height:129px;--g:#fff 0,#3f29b0 1px,#3e26a9 108px,#3e26a8 128px,#fff 129px"></i><i style="top:45px;height:130px;--g:#fff 0,#bfb8e6 1px,#402ab3 2px,#3e27ab 7px,#402ab4 10px,#3e27ac 14px,#3f2ab2 17px,#3e27ac 21px,#3f2ab2 24px,#3e28ad 27px,#3f28ae 35px,#3e26a8 110px,#3e26a8 129px,#fff 130px"></i><i style="top:45px;height:130px;--g:#fff 0,#d4d0ee 1px,#3f2ab2 2px,#3e27ab 5px,#402ab3 8px,#3f28ae 12px,#3f29b0 22px,#3e28ac 26px,#3f28ae 28px,#3e26a9 109px,#3e26a8 129px,#fff 130px"></i><i style="top:46px;height:129px;--g:#fff 0,#3f28ad 1px,#402ab3 6px,#3e27ac 10px,#3f2ab3 13px,#3e27ab 17px,#3f2ab2 20px,#3e27ac 23px,#3f29b1 26px,#3f28ae 29px,#3e26a9 109px,#3e26a8 128px,#fff 129px"></i><i style="top:46px;height:129px;--g:#fff 0,#5440b6 1px,#3f29b0 2px,#3e26a9 108px,#3e26a8 128px,#fff 129px"></i><i style="top:45px;height:130px;--g:#fff 0,#eae7f7 1px,#402ab2 2px,#3e27ac 7px,#402ab3 11px,#3e27ab 14px,#3f2ab2 18px,#3e27ac 21px,#3f29b1 24px,#3e27ac 27px,#3f28ae 30px,#3e26a8 109px,#3e26a8 129px,#fff 130px"></i><i style="top:45px;height:130px;--g:#fff 0,#bfb8e6 1px,#402ab3 2px,#3e27ab 5px,#402ab3 9px,#3e27ac 13px,#3f29b1 16px,#3e28ad 26px,#3f28ae 28px,#3e26a9 109px,#3e26a8 129px,#fff 130px"></i><i style="top:46px;height:129px;--g:#fff 0,#3f29af 1px,#3e26a9 108px,#3e26a8 128px,#fff 129px"></i><i style="top:46px;height:129px;--g:#fff 0,#533fb5 1px,#3f28ad 2px,#402ab3 5px,#3e27ab 8px,#3f2ab2 12px,#3e27ab 15px,#3f29b1 18px,#3f28ae 22px,#3e26a9 108px,#3e26a8 128px,#fff 129px"></i><i style="top:46px;height:129px;--g:#fff 0,#3f29b0 1px,#3e26a8 108px,#3e26a8 128px,#fff 129px"></i><i style="top:45px;height:130px;--g:#fff 0,#d5d0ee 1px,#402ab3 2px,#3e27ac 6px,#3f2ab3 10px,#3e27ab 13px,#3f29b0 16px,#3e28ac 26px,#3f28ae 28px,#3e26a8 109px,#3e26a8 129px,#fff 130px"></i><i style="top:45px;height:130px;--g:#fff 0,#eae7f7 1px,#3f29b0 2px,#3e26a9 108px,#3e26a8 129px,#fff 130px"></i><i style="top:46px;height:129px;--g:#fff 0,#533fb5 1px,#3e27ab 2px,#3f2ab3 5px,#3e27ab 9px,#3f2ab2 12px,#3f28ae 15px,#3e26a9 108px,#3e26a8 128px,#fff 129px"></i><i style="top:46px;height:129px;--g:#fff 0,#3f28ad 1px,#3f2ab3 3px,#3e28ac 7px,#3f2ab2 11px,#3e27ab 14px,#3f29b2 17px,#3e27ab 20px,#3f28ae 23px,#3e26a9 107px,#3e26a8 128px,#fff 129px"></i><i style="top:45px;height:130px;--g:#fff 0,#d4d0ee 1px,#3f2ab2 2px,#3e27ac 6px,#3f2ab2 10px,#3e27ab 13px,#3f29b0 16px,#3f28ae 20px,#3e27a9 108px,#3e26a8 129px,#fff 130px"></i><i style="top:45px;height:130px;--g:#fff 0,#eae7f6 1px,#3f2ab2 2px,#3e27ab 5px,#3f2ab2 8px,#3e27ab 12px,#3f29b2 15px,#3e27ac 18px,#3f28ae 21px,#3e26a9 108px,#3e26a8 129px,#fff 130px"></i><i style="top:46px;height:129px;--g:#fff 0,#3f28ad 1px,#3f2ab2 6px,#3e27ab 9px,#3f29b1 12px,#3f28ae 15px,#3e26a9 107px,#3e26a8 128px,#fff 129px"></i><i style="top:46px;height:129px;--g:#fff 0,#6957be 1px,#3f29af 2px,#3e26a9 106px,#3e26a8 128px,#fff 129px"></i><i style="top:46px;height:129px;--g:#fff 0,#3f29b1 1px,#3e27ab 6px,#3f2ab2 9px,#3e27ac 12px,#3f29b0 15px,#3f28ae 19px,#3e27a9 105px,#3e26a8 128px,#fff 129px"></i><i style="top:45px;height:130px;--g:#fff 0,#d4d0ee 1px,#3f2ab2 2px,#3e27ab 5px,#3f2ab2 8px,#3e27ac 12px,#3f29b1 15px,#3f28ad 18px,#3f28ae 26px,#3e26a8 108px,#3e26a8 129px,#fff 130px"></i><i style="top:46px;height:129px;--g:#fff 0,#3f29ae 1px,#3e26a9 106px,#3e26a8 128px,#fff 129px"></i><i style="top:46px;height:129px;--g:#fff 0,#533fb5 1px,#3f28ae 2px,#3e26a8 107px,#3e26a8 128px,#fff 129px"></i><i style="top:46px;height:129px;--g:#fff 0,#3f29b0 1px,#3e26a8 106px,#3e26a8 128px,#fff 129px"></i><i style="top:46px;height:129px;--g:#fff 0,#3f2ab2 1px,#3e27ab 4px,#3f29b1 8px,#3e27ab 11px,#3f29b0 14px,#3f28ac 17px,#3f28af 25px,#3e28ad 28px,#3e26a9 105px,#3e26a8 128px,#fff 129px"></i><i style="top:46px;height:129px;--g:#fff 0,#3f29af 1px,#3e26a9 106px,#3e26a8 128px,#fff 129px"></i><i style="top:46px;height:129px;--g:#fff 0,#6957bd 1px,#3e28ac 2px,#3e26a9 105px,#3e26a8 128px,#fff 129px"></i><i style="top:46px;height:129px;--g:#fff 0,#3f28ae 1px,#3e26a9 106px,#3e26a8 128px,#fff 129px"></i><i style="top:46px;height:129px;--g:#fff 0,#3f29b1 1px,#3e27ab 5px,#3f29b1 8px,#3f28ae 11px,#3e26a9 106px,#3e26a8 128px,#fff 129px"></i><i style="top:46px;height:128px;--g:#fff 0,#3f29b0 1px,#3e27a9 105px,#3e26a8 117px,#6956bb 118px,#7e6ec5 119px,#7e6ec5 122px,#bfb7e2 123px,#bfb7e2 126px,#eae7f5 127px,#fff 128px"></i><i style="top:46px;height:114px;--g:#fff 0,#533fb4 1px,#3e27ab 2px,#3f29b2 5px,#3e27ab 8px,#3f29b1 11px,#3e27ac 14px,#3f28ae 17px,#3e27a9 102px,#3e26a9 104px,#7e6ec6 105px,#7e6ec6 108px,#a99fd9 109px,#bfb7e2 110px,#bfb7e2 112px,#d4cfec 113px,#fff 114px"></i><i style="top:46px;height:100px;--g:#fff 0,#5440b6 1px,#3f29b0 2px,#3f28ad 28px,#3e27a9 90px,#533fb3 91px,#7e6fc6 92px,#7e6fc6 95px,#bfb7e2 96px,#bfb7e2 99px,#fff 100px"></i><i style="top:46px;height:87px;--g:#fff 0,#3f29b1 1px,#3f28ad 27px,#3e27aa 77px,#6957bd 78px,#7e6fc6 79px,#7e6fc6 81px,#9487d0 82px,#bfb7e3 83px,#bfb7e3 86px,#fff 87px"></i><i style="top:46px;height:74px;--g:#fff 0,#3f29b0 1px,#3e27ac 50px,#3e27ab 63px,#6957bd 64px,#7e6fc7 65px,#7e6fc7 67px,#9487d0 68px,#bfb7e3 69px,#bfb7e3 72px,#d4cfec 73px,#fff 74px"></i><i style="top:46px;height:60px;--g:#fff 0,#3e27ab 1px,#3f29b1 5px,#3e27ab 8px,#3f28ae 11px,#3f28ac 50px,#543fb5 51px,#7e6fc7 52px,#7e70c8 54px,#a99fd9 55px,#bfb7e3 56px,#bfb7e3 59px,#fff 60px"></i><i style="top:46px;height:47px;--g:#fff 0,#5440b6 1px,#3f29b0 2px,#3e28ac 28px,#3e27ab 36px,#6957bd 37px,#7f70c8 38px,#7e6fc7 41px,#aa9fdb 42px,#bfb7e4 43px,#bfb7e3 45px,#d4cfed 46px,#fff 47px"></i><i style="top:46px;height:33px;--g:#fff 0,#3f29b1 1px,#3f28ad 11px,#3f28ad 23px,#7f70c9 24px,#7e6fc7 27px,#a99fdb 28px,#bfb7e4 29px,#bfb7e3 32px,#fff 33px"></i><i style="top:46px;height:21px;--g:#fff 0,#3f29b0 1px,#3e28ad 3px,#3e27ab 9px,#533fb4 10px,#7f70c9 11px,#7f70c9 14px,#9487d1 15px,#bfb7e3 16px,#bfb8e4 19px,#eae7f6 20px,#fff 21px"></i><i style="top:46px;height:7px;--g:#fff 0,#9488d2 1px,#bfb7e3 2px,#bfb8e5 5px,#d4cfed 6px,#fff 7px"></i></div>
<div class="p" style="left:18px"><i style="top:388px;height:2px;--g:#fff 0,#eae7f5 1px,#fff 2px"></i><i style="top:386px;height:4px;--g:#fff 0,#a99fd8 1px,#3e26a8 2px,#9486cf 3px,#fff 4px"></i><i style="top:384px;height:6px;--g:#fff 0,#eae7f5 1px,#7e6ec5 2px,#3e26a8 3px,#3e26a8 4px,#6956bb 5px,#fff 6px"></i><i style="top:382px;height:8px;--g:#fff 0,#eae7f5 1px,#9486cf 2px,#533eb2 3px,#3e26a8 4px,#3e26a8 7px,#fff 8px"></i><i style="top:381px;height:10px;--g:#fff 0,#bfb7e2 1px,#533eb2 2px,#3e26a8 3px,#3e26a8 8px,#d4cfec 9px,#fff 10px"></i><i style="top:379px;height:12px;--g:#fff 0,#d4cfec 1px,#7e6ec5 2px,#3e26a8 3px,#3e26a8 4px,#3e26a8 10px,#bfb7e2 11px,#fff 12px"></i><i style="top:378px;height:13px;--g:#fff 0,#9486cf 1px,#3e26a8 2px,#3e26a8 11px,#9486cf 12px,#fff 13px"></i><i style="top:376px;height:15px;--g:#fff 0,#bfb7e2 1px,#533eb2 2px,#3e26a8 3px,#3e26a8 4px,#3e26a8 13px,#6956bb 14px,#fff 15px"></i><i style="top:374px;height:17px;--g:#fff 0,#d4cfec 1px,#533eb2 2px,#3e26a8 3px,#3e26a8 16px,#fff 17px"></i><i style="top:373px;height:19px;--g:#fff 0,#a99fd8 1px,#3e26a8 2px,#3e26a8 5px,#3e26a8 17px,#d4cfec 18px,#fff 19px"></i><i style="top:371px;height:21px;--g:#fff 0,#a99fd8 1px,#3e26a8 2px,#3e26a8 7px,#3e26a8 19px,#bfb7e2 20px,#fff 21px"></i><i style="top:369px;height:23px;--g:#fff 0,#eae7f5 1px,#6956bb 2px,#3e26a8 3px,#3e26a8 21px,#7e6ec5 22px,#fff 23px"></i><i style="top:367px;height:25px;--g:#fff 0,#eae7f5 1px,#7e6ec5 2px,#3e26a8 3px,#3e26a8 23px,#6956bb 24px,#fff 25px"></i><i style="top:366px;height:26px;--g:#fff 0,#bfb7e2 1px,#533eb2 2px,#3e26a8 3px,#3e26a8 25px,#fff 26px"></i><i style="top:364px;height:29px;--g:#fff 0,#bfb7e2 1px,#6956bb 2px,#3e26a8 3px,#3e26a8 9px,#3e26a8 27px,#eae7f5 28px,#fff 29px"></i><i style="top:363px;height:30px;--g:#fff 0,#7e6ec5 1px,#3e26a8 2px,#3e26a8 8px,#3e26a8 28px,#bfb7e2 29px,#fff 30px"></i><i style="top:361px;height:32px;--g:#fff 0,#bfb7e2 1px,#533eb2 2px,#3e26a8 3px,#3e26a8 30px,#7e6ec5 31px,#fff 32px"></i><i style="top:359px;height:34px;--g:#fff 0,#d4cfec 1px,#533eb2 2px,#3e26a8 3px,#3e26a8 7px,#3e26a8 32px,#6956bb 33px,#fff 34px"></i><i style="top:357px;height:36px;--g:#fff 0,#d4cfec 1px,#9486cf 2px,#3e26a8 3px,#3e26a8 7px,#3e26a8 35px,#fff 36px"></i><i style="top:356px;height:38px;--g:#fff 0,#a99fd8 1px,#3e26a8 2px,#3e26a8 36px,#d4cfec 37px,#fff 38px"></i><i style="top:354px;height:40px;--g:#fff 0,#eae7f5 1px,#6956bb 2px,#3e26a8 3px,#3e26a8 38px,#bfb7e2 39px,#fff 40px"></i><i style="top:352px;height:42px;--g:#fff 0,#eae7f5 1px,#6956bb 2px,#3e26a8 3px,#3e26a8 40px,#7e6ec5 41px,#fff 42px"></i><i style="top:351px;height:43px;--g:#fff 0,#bfb7e2 1px,#3e26a8 2px,#3e26a8 4px,#3e26a8 41px,#6956bb 42px,#fff 43px"></i><i style="top:349px;height:45px;--g:#fff 0,#bfb7e2 1px,#6956bb 2px,#3e26a8 3px,#3e26a8 12px,#3e26a8 44px,#fff 45px"></i><i style="top:347px;height:48px;--g:#fff 0,#eae7f5 1px,#7e6ec5 2px,#3e26a8 3px,#3e26a8 13px,#3e26a8 46px,#d4cfec 47px,#fff 48px"></i><i style="top:346px;height:49px;--g:#fff 0,#9486cf 1px,#533eb2 2px,#3e26a8 3px,#3e26a8 16px,#3e26a8 47px,#bfb7e2 48px,#fff 49px"></i><i style="top:344px;height:51px;--g:#fff 0,#d4cfec 1px,#533eb2 2px,#3e26a8 3px,#3e26a8 4px,#3e26a8 49px,#7e6ec5 50px,#fff 51px"></i><i style="top:342px;height:53px;--g:#fff 0,#d4cfec 1px,#9486cf 2px,#3e26a8 3px,#3e26a8 6px,#3e26a8 51px,#6956bb 52px,#fff 53px"></i><i style="top:341px;height:54px;--g:#fff 0,#9486cf 1px,#3e26a8 2px,#3e26a8 53px,#fff 54px"></i><i style="top:339px;height:57px;--g:#fff 0,#bfb7e2 1px,#6956bb 2px,#3e26a8 3px,#3e26a8 55px,#d4cfec 56px,#fff 57px"></i><i style="top:337px;height:59px;--g:#fff 0,#eae7f5 1px,#6956bb 2px,#3e26a8 3px,#3e26a8 57px,#bfb7e2 58px,#fff 59px"></i><i style="top:336px;height:60px;--g:#fff 0,#a99fd8 1px,#3e26a8 2px,#3e26a8 16px,#3e26a8 58px,#7e6ec5 59px,#fff 60px"></i><i style="top:334px;height:62px;--g:#fff 0,#bfb7e2 1px,#3e26a8 2px,#3e26a8 3px,#3e26a8 60px,#6956bb 61px,#fff 62px"></i><i style="top:332px;height:64px;--g:#fff 0,#eae7f5 1px,#7e6ec5 2px,#3e26a8 3px,#3e26a8 63px,#fff 64px"></i><i style="top:330px;height:67px;--g:#fff 0,#eae7f5 1px,#9486cf 2px,#533eb2 3px,#3e26a8 4px,#3e26a8 9px,#3e26a8 65px,#d4cfec 66px,#fff 67px"></i><i style="top:329px;height:68px;--g:#fff 0,#bfb7e2 1px,#533eb2 2px,#3e26a8 3px,#3e26a8 14px,#3e26a8 66px,#bfb7e2 67px,#fff 68px"></i><i style="top:327px;height:70px;--g:#fff 0,#d4cfec 1px,#7e6ec5 2px,#3e26a8 3px,#3e26a8 5px,#3e26a8 68px,#7e6ec5 69px,#fff 70px"></i><i style="top:326px;height:71px;--g:#fff 0,#9486cf 1px,#3e26a8 2px,#3e26a8 69px,#6956bb 70px,#fff 71px"></i><i style="top:324px;height:73px;--g:#fff 0,#bfb7e2 1px,#533eb2 2px,#3e26a8 3px,#3e26a8 72px,#fff 73px"></i><i style="top:322px;height:76px;--g:#fff 0,#eae7f5 1px,#6956bb 2px,#3e26a8 3px,#3e26a8 4px,#3e26a8 74px,#d4cfec 75px,#fff 76px"></i><i style="top:321px;height:77px;--g:#fff 0,#a99fd8 1px,#3e26a8 2px,#3e26a8 19px,#3e26a8 75px,#bfb7e2 76px,#fff 77px"></i><i style="top:319px;height:79px;--g:#fff 0,#a99fd8 1px,#3e26a8 2px,#3e26a8 39px,#3e26a8 77px,#7e6ec5 78px,#fff 79px"></i><i style="top:317px;height:81px;--g:#fff 0,#eae7f5 1px,#7e6ec5 2px,#3e26a8 3px,#3e26a8 79px,#533eb2 80px,#fff 81px"></i><i style="top:315px;height:83px;--g:#fff 0,#eae7f5 1px,#7e6ec5 2px,#3e26a8 3px,#3e26a8 7px,#3e26a8 82px,#fff 83px"></i><i style="top:314px;height:85px;--g:#fff 0,#bfb7e2 1px,#533eb2 2px,#3e26a8 3px,#3e26a8 12px,#3e26a8 83px,#d4cfec 84px,#fff 85px"></i><i style="top:312px;height:87px;--g:#fff 0,#bfb7e2 1px,#6956bb 2px,#3e26a8 3px,#3e26a8 85px,#bfb7e2 86px,#fff 87px"></i><i style="top:311px;height:88px;--g:#fff 0,#9486cf 1px,#3e26a8 2px,#3e26a8 5px,#3e26a8 86px,#7e6ec5 87px,#fff 88px"></i><i style="top:309px;height:90px;--g:#fff 0,#9486cf 1px,#533eb2 2px,#3e26a8 3px,#3e26a8 4px,#3e26a8 88px,#533eb2 89px,#fff 90px"></i><i style="top:307px;height:92px;--g:#fff 0,#d4cfec 1px,#533eb2 2px,#3e26a8 3px,#3e26a8 17px,#3e26a8 91px,#fff 92px"></i><i style="top:305px;height:95px;--g:#fff 0,#eae7f5 1px,#a99fd8 2px,#3e26a8 3px,#3e26a8 5px,#3e26a8 93px,#d4cfec 94px,#fff 95px"></i><i style="top:304px;height:96px;--g:#fff 0,#a99fd8 1px,#3e26a8 2px,#3e26a8 26px,#3e26a8 94px,#a99fd8 95px,#fff 96px"></i><i style="top:302px;height:98px;--g:#fff 0,#eae7f5 1px,#6956bb 2px,#3e26a8 3px,#3e26a8 7px,#3e26a8 96px,#7e6ec5 97px,#fff 98px"></i><i style="top:300px;height:100px;--g:#fff 0,#eae7f5 1px,#7e6ec5 2px,#3e26a8 3px,#3e26a8 8px,#3e26a8 98px,#6956bb 99px,#fff 100px"></i><i style="top:299px;height:101px;--g:#fff 0,#bfb7e2 1px,#533eb2 2px,#3e26a8 3px,#3e26a8 9px,#3e26a8 100px,#fff 101px"></i><i style="top:297px;height:104px;--g:#fff 0,#bfb7e2 1px,#533eb2 2px,#3e26a8 3px,#3e26a8 4px,#3e26a8 102px,#bfb7e2 103px,#fff 104px"></i><i style="top:295px;height:106px;--g:#fff 0,#eae7f5 1px,#7e6ec5 2px,#3e26a8 3px,#3e26a8 12px,#3e26a8 104px,#a99fd8 105px,#fff 106px"></i><i style="top:294px;height:107px;--g:#fff 0,#9486cf 1px,#533eb2 2px,#3e26a8 3px,#3e26a8 29px,#3e26a8 105px,#7e6ec5 106px,#fff 107px"></i><i style="top:292px;height:109px;--g:#fff 0,#d4cfec 1px,#533eb2 2px,#3e26a8 3px,#3e26a8 17px,#3e26a8 107px,#6956bb 108px,#fff 109px"></i><i style="top:290px;height:111px;--g:#fff 0,#d4cfec 1px,#7e6ec5 2px,#3e26a8 3px,#3e26a8 110px,#fff 111px"></i><i style="top:289px;height:113px;--g:#fff 0,#a99fd9 1px,#3e26a9 2px,#3e26a8 5px,#3e26a8 111px,#bfb7e2 112px,#fff 113px"></i><i style="top:287px;height:115px;--g:#fff 0,#bfb7e2 1px,#6956bc 2px,#3e26a9 3px,#3e26a8 32px,#3e26a8 113px,#bfb7e2 114px,#fff 115px"></i><i style="top:285px;height:117px;--g:#fff 0,#eae7f5 1px,#6956bc 2px,#3e26a9 3px,#3e26a9 4px,#3e26a8 115px,#7e6ec5 116px,#fff 117px"></i><i style="top:284px;height:118px;--g:#fff 0,#a99fd9 1px,#3e26a9 2px,#3e26a8 6px,#3e26a8 116px,#533eb2 117px,#fff 118px"></i><i style="top:282px;height:120px;--g:#fff 0,#bfb7e2 1px,#533eb3 2px,#3e26a9 3px,#3e26a8 17px,#3e26a8 119px,#fff 120px"></i><i style="top:280px;height:123px;--g:#fff 0,#eae7f5 1px,#7e6fc6 2px,#3e27a9 3px,#3e26a9 14px,#3e26a8 121px,#bfb7e2 122px,#fff 123px"></i><i style="top:278px;height:125px;--g:#fff 0,#eae7f5 1px,#7e6fc6 2px,#3e27a9 3px,#3e26a9 13px,#3e26a8 123px,#bfb7e2 124px,#fff 125px"></i><i style="top:277px;height:126px;--g:#fff 0,#bfb7e2 1px,#533fb3 2px,#3e27a9 3px,#3e26a9 25px,#3e26a8 124px,#7e6ec5 125px,#fff 126px"></i><i style="top:275px;height:128px;--g:#fff 0,#d4cfec 1px,#7e6fc6 2px,#3e27a9 3px,#3e26a9 25px,#3e26a8 126px,#533eb2 127px,#fff 128px"></i><i style="top:274px;height:129px;--g:#fff 0,#9487d0 1px,#3e27aa 2px,#3e26a9 29px,#3e26a8 128px,#fff 129px"></i><i style="top:272px;height:132px;--g:#fff 0,#bfb7e3 1px,#533fb3 2px,#3e27aa 3px,#3e26a9 40px,#3e26a8 130px,#bfb7e2 131px,#fff 132px"></i><i style="top:270px;height:134px;--g:#fff 0,#d4cfec 1px,#533fb4 2px,#3e27ab 3px,#3e26a9 43px,#3e26a8 132px,#a99fd8 133px,#fff 134px"></i><i style="top:268px;height:136px;--g:#fff 0,#d4cfed 1px,#9487d1 2px,#3e27ab 3px,#3e26a9 54px,#3e26a8 134px,#7e6ec5 135px,#fff 136px"></i><i style="top:267px;height:137px;--g:#fff 0,#9488d1 1px,#3e28ac 2px,#3e26a9 52px,#3e26a8 135px,#533eb2 136px,#fff 137px"></i><i style="top:265px;height:139px;--g:#fff 0,#d4cfed 1px,#5440b6 2px,#3f28ad 3px,#3e26a9 58px,#3e26a8 138px,#fff 139px"></i><i style="top:263px;height:142px;--g:#fff 0,#d4cfed 1px,#5440b8 2px,#3f28ae 3px,#3e26a9 64px,#3e26a8 140px,#bfb7e2 141px,#fff 142px"></i><i style="top:262px;height:143px;--g:#fff 0,#9488d3 1px,#3f29b0 2px,#3e26a8 69px,#3e26a8 141px,#a99fd8 142px,#fff 143px"></i><i style="top:262px;height:143px;--g:#fff 0,#3f2ab2 1px,#3e26a8 73px,#3e26a8 141px,#7e6ec5 142px,#fff 143px"></i><i style="top:262px;height:143px;--g:#fff 0,#402ab4 1px,#3e27aa 33px,#3e26a9 77px,#3e26a8 141px,#533eb2 142px,#fff 143px"></i><i style="top:262px;height:143px;--g:#fff 0,#8072ce 1px,#402bb5 2px,#3e27aa 36px,#3e26a9 81px,#3e26a8 142px,#fff 143px"></i><i style="top:262px;height:144px;--g:#fff 0,#8072d0 1px,#402cb8 2px,#3e27ab 33px,#3e26a9 85px,#3e26a8 142px,#bfb7e2 143px,#fff 144px"></i><i style="top:262px;height:144px;--g:#fff 0,#8073d2 1px,#412dba 2px,#3e27ab 38px,#3e26a9 89px,#3e26a8 142px,#a99fd8 143px,#fff 144px"></i><i style="top:262px;height:144px;--g:#fff 0,#8174d4 1px,#412ebe 2px,#3e28ad 31px,#3e26a8 93px,#3e26a8 142px,#7e6ec5 143px,#fff 144px"></i><i style="top:262px;height:144px;--g:#fff 0,#8175d7 1px,#422fc2 2px,#3e28ac 36px,#3e26a9 97px,#3e26a8 142px,#533eb2 143px,#fff 144px"></i><i style="top:262px;height:144px;--g:#fff 0,#8276da 1px,#4331c6 2px,#402bb6 20px,#3f28ad 37px,#3e26a8 101px,#3e26a8 143px,#fff 144px"></i><i style="top:262px;height:145px;--g:#fff 0,#6d61d8 1px,#4333cb 2px,#412dbb 17px,#3f28ae 39px,#3e26a8 105px,#3e26a8 143px,#bfb7e2 144px,#fff 145px"></i><i style="top:262px;height:145px;--g:#fff 0,#4536d3 1px,#422ebe 17px,#3f29af 37px,#3e26a8 108px,#3e26a8 143px,#a99fd8 144px,#fff 145px"></i><i style="top:261px;height:146px;--g:#fff 0,#eae9fb 1px,#4539d8 2px,#422ebf 21px,#3f29b0 41px,#3e26a8 114px,#3e26a8 144px,#7e6ec5 145px,#fff 146px"></i><i style="top:261px;height:146px;--g:#fff 0,#adaaf2 1px,#463ddf 2px,#4230c4 20px,#3f29af 46px,#3e26a8 118px,#3e26a8 144px,#533eb2 145px,#fff 146px"></i><i style="top:261px;height:146px;--g:#fff 0,#706dec 1px,#4742e5 2px,#422fc4 24px,#402bb4 43px,#3e27ab 70px,#3e26a9 122px,#3e26a9 145px,#fff 146px"></i><i style="top:260px;height:148px;--g:#fff 0,#c2c3fa 1px,#4749ec 2px,#4433ce 21px,#402ab2 50px,#3e27ab 82px,#3e27a9 126px,#3e26a9 146px,#bfb7e2 147px,#fff 148px"></i><i style="top:260px;height:148px;--g:#fff 0,#5c66f5 1px,#4851f3 2px,#4537d7 20px,#422fc1 36px,#402bb5 50px,#3e27aa 85px,#3e27a9 130px,#3e26a9 146px,#a99fd9 147px,#fff 148px"></i><i style="top:259px;height:149px;--g:#fff 0,#99a4fc 1px,#4759f8 2px,#4638d9 23px,#402bb7 50px,#3e27ab 85px,#3e27a9 136px,#3e26a9 147px,#7e6ec6 148px,#fff 149px"></i><i style="top:258px;height:150px;--g:#fff 0,#abbcfe 1px,#4464fc 2px,#484cf1 14px,#4537d7 29px,#402bb5 58px,#3e27ab 89px,#3e27a8 141px,#3e26a9 148px,#533eb3 149px,#fff 150px"></i><i style="top:257px;height:151px;--g:#fff 0,#7ba3fe 1px,#3c72fe 2px,#494cf3 17px,#4330c9 44px,#402bb5 65px,#3f28ae 82px,#3e26a8 145px,#3e26a9 150px,#fff 151px"></i><i style="top:255px;height:154px;--g:#fff 0,#e8f1fe 1px,#74acfb 2px,#3080fa 3px,#426afe 11px,#475af9 18px,#4845eb 28px,#4432cc 48px,#412dbb 64px,#3f29af 82px,#3e26a9 151px,#3e26a9 152px,#bfb7e2 153px,#fff 154px"></i><i style="top:254px;height:155px;--g:#fff 0,#87c5f4 1px,#419fef 2px,#2b8ff0 3px,#3579fd 10px,#4663fe 18px,#4840e6 37px,#4536d3 48px,#412ebe 65px,#3f29af 87px,#3e27a9 153px,#a99fd9 154px,#fff 155px"></i><i style="top:252px;height:157px;--g:#fff 0,#39aee6 2px,#22a1e5 3px,#3081fb 14px,#4368ff 22px,#494ff3 34px,#4536d6 52px,#412dbd 72px,#3f29b0 90px,#3e27a9 155px,#7e6fc6 156px,#fff 157px"></i><i style="top:250px;height:159px;--g:#fff 0,#abe8ed 1px,#28bbd8 2px,#10b1d5 3px,#22a3e3 8px,#2f84f9 19px,#416bff 27px,#494ef3 40px,#4536d4 59px,#412dbb 80px,#3f29b1 94px,#3e27a9 157px,#533fb3 158px,#fff 159px"></i><i style="top:247px;height:162px;--g:#fff 0,#baece0 1px,#53cfbf 2px,#1ec1b1 3px,#15bfb7 4px,#08b9c5 7px,#0bb5d1 9px,#259fe6 16px,#2e86f7 25px,#3d6fff 33px,#4662fc 38px,#484aef 49px,#4537d6 65px,#4230c3 79px,#3f2ab2 98px,#3e27a9 161px,#fff 162px"></i><i style="top:244px;height:166px;--g:#fff 0,#ebf9f1 1px,#9ce2bb 2px,#56cf9a 3px,#3cc893 4px,#05bac6 14px,#08b6ce 16px,#21a3e4 22px,#3876ff 37px,#485cfa 48px,#4747ec 58px,#4639da 70px,#4230c4 85px,#3f2ab2 106px,#3e27a9 164px,#bfb7e2 165px,#fff 166px"></i><i style="top:241px;height:169px;--g:#fff 0,#e2ecbe 1px,#cfe7af 2px,#99d780 3px,#74cc63 4px,#46cb8b 9px,#04bac8 21px,#1ea8e1 28px,#3679fe 43px,#4760fe 52px,#473ade 74px,#422fc0 95px,#3f2ab2 112px,#3e27a9 167px,#bfb7e2 168px,#fff 169px"></i><i style="top:238px;height:172px;--g:#fff 0,#f9f0d0 1px,#ebdb8a 2px,#c8c12d 3px,#8fca4c 9px,#7bcb5d 11px,#5fcc73 13px,#45ca8c 16px,#0cbcbf 26px,#07b6ce 29px,#22a4e4 36px,#347afd 50px,#3e70fe 53px,#485bfc 61px,#463add 82px,#422fc0 102px,#402ab3 117px,#3e27aa 170px,#7e6fc6 171px,#fff 172px"></i><i style="top:235px;height:175px;--g:#fff 0,#fff8e9 1px,#fde3a7 2px,#f7c54e 3px,#f3bd37 4px,#e0bc2e 7px,#c3c22e 10px,#aac83a 13px,#5ccd75 21px,#3dc993 25px,#12bebb 32px,#04b8c9 35px,#19acdd 40px,#24a0e5 44px,#2e86f7 53px,#3c72ff 60px,#4858fb 69px,#4537d7 92px,#402ab4 121px,#3e27aa 173px,#6957bd 174px,#fff 175px"></i><i style="top:233px;height:177px;--g:#fff 0,#fbf39f 1px,#faea70 2px,#f9d82d 3px,#fcc239 7px,#f2bb37 10px,#d6be29 14px,#b3c634 18px,#6bcd69 25px,#41ca8d 30px,#29c3a8 35px,#0ebcbd 39px,#05b9c8 41px,#1ea8e1 47px,#3777ff 64px,#485bfb 74px,#463bdf 94px,#4330c5 111px,#402bb5 128px,#3e27aa 176px,#fff 177px"></i><i style="top:231px;height:180px;--g:#fff 0,#fdfdb1 1px,#f9f733 2px,#f7f31c 3px,#fcc637 13px,#f9bd39 15px,#d6bd2b 20px,#b9c531 23px,#71cc64 30px,#46cb8a 35px,#0abbc3 46px,#06b8cc 48px,#25a0e6 56px,#3081fa 66px,#3b74fe 71px,#485cfb 80px,#473de1 98px,#4330c5 117px,#402bb6 132px,#3e27aa 178px,#d4cfec 179px,#fff 180px"></i><i style="top:230px;height:181px;--g:#fff 0,#fcfd7d 1px,#f9fb15 2px,#f6f31d 8px,#fcbc3c 20px,#e3bc2f 24px,#d2bf2b 26px,#b2c537 29px,#aec639 30px,#65cd6d 36px,#45ca8c 40px,#0ebdbf 50px,#05b9c9 52px,#21a4e3 60px,#347bfd 73px,#4761fe 83px,#473ee3 101px,#412bb9 132px,#3f29b0 153px,#3e27ab 179px,#bfb7e3 180px,#fff 181px"></i><i style="top:230px;height:181px;--g:#fff 0,#fafb2f 1px,#f9fb15 2px,#f6f71a 11px,#fbc736 21px,#f9bd39 24px,#d7bd2c 29px,#bec42e 32px,#83cc56 38px,#5fcc73 41px,#4ecb81 43px,#2ec5a4 48px,#0cbcbf 54px,#05b8c9 56px,#18acdd 61px,#24a0e5 65px,#2e86f7 74px,#3d6fff 81px,#485afa 90px,#473ce0 107px,#412cb9 136px,#3e27ab 179px,#9487d0 180px,#fff 181px"></i><i style="top:230px;height:181px;--g:#fff 0,#fdfeb1 1px,#fafb2f 2px,#f9fb15 3px,#f9fa16 14px,#f5e824 18px,#fdc636 25px,#f8bc3a 28px,#dfbc2d 32px,#c6c22a 35px,#81cc57 42px,#48cb86 48px,#25c3ab 54px,#0ebdbc 57px,#05b8ca 60px,#1ea8e0 66px,#2b8ef3 75px,#3e6cff 87px,#475dfb 92px,#4848ed 104px,#4536d3 119px,#412cb8 142px,#3e28ac 179px,#7e70c8 180px,#fff 181px"></i><i style="top:231px;height:180px;--g:#fff 0,#feffe5 1px,#fafb14 3px,#f7f917 18px,#fcbc3c 30px,#debc2c 35px,#bac430 39px,#7ccc5b 45px,#46cb89 51px,#1dc0b2 59px,#12beb9 60px,#06b9ca 63px,#21a4e2 70px,#2d88f7 80px,#4368ff 91px,#4944ea 109px,#4434d0 124px,#402bb5 149px,#3e28ac 179px,#fff 180px"></i><i style="top:234px;height:177px;--g:#fff 0,#f8f21c 3px,#fafb14 5px,#f7fb16 18px,#fbc538 30px,#f7bd38 32px,#ecbb33 34px,#d3bf2b 37px,#adc737 41px,#67cd6c 48px,#45ca8b 52px,#08bbc2 63px,#07b8c7 64px,#22a3e4 72px,#2c89f6 80px,#416bff 91px,#494aef 106px,#4537d5 122px,#412cb9 144px,#3f28ad 176px,#fff 177px"></i><i style="top:237px;height:175px;--g:#fff 0,#fceda2 1px,#fae35a 2px,#f8e524 3px,#f7f31c 4px,#f9fb15 6px,#f9fb15 17px,#f6f61b 20px,#fcc438 31px,#f8be39 33px,#e8bb30 36px,#c4c22c 40px,#a6c83e 43px,#6ecc66 48px,#43cb8d 53px,#03b9c9 65px,#19acdc 70px,#2d8df2 80px,#317efc 85px,#436aff 92px,#494af0 107px,#4537d7 122px,#412dbb 143px,#3f28ae 173px,#bfb7e4 174px,#fff 175px"></i><i style="top:239px;height:173px;--g:#fff 0,#fef7e9 1px,#f6db5c 3px,#f7d92b 4px,#f8ea21 5px,#f8f31c 6px,#fafc14 8px,#f7fa17 21px,#fbc737 32px,#f9bb3a 35px,#d9bd2b 40px,#bdc430 43px,#8dcb4e 48px,#4bcc85 54px,#0fbdbe 64px,#04b8c9 67px,#1da8e0 73px,#2c8ef1 82px,#3479fd 89px,#4468ff 94px,#4846ec 112px,#4536d5 125px,#412dbc 145px,#3f29af 171px,#bfb8e4 172px,#fff 173px"></i><i style="top:243px;height:169px;--g:#fff 0,#fdf0d3 1px,#f2eba5 2px,#eddf60 3px,#eee029 4px,#f9f619 6px,#fafb15 8px,#f7fc16 20px,#fcbe3c 34px,#e6bb31 38px,#d4bf2b 40px,#bbc430 43px,#86cc53 48px,#48cb88 55px,#0bbbc2 65px,#05b8cc 67px,#21a5e2 74px,#2b8bf5 83px,#416aff 94px,#494cf1 108px,#4536d5 125px,#412cb9 148px,#3f29b1 167px,#9488d3 168px,#fff 169px"></i><i style="top:246px;height:166px;--g:#fff 0,#eff9ee 1px,#d0e7af 2px,#c5db6e 3px,#c8d438 4px,#ebde24 5px,#f9e921 6px,#f8f718 7px,#f9fb15 8px,#f7fb16 22px,#fbbd3b 35px,#dabd2b 40px,#c1c32c 43px,#7dcc5a 50px,#4ccb83 55px,#21c2b0 63px,#11beba 65px,#06b8c8 68px,#12b0d8 71px,#24a1e4 76px,#2e84f8 86px,#416bff 95px,#494bf0 109px,#4538d7 125px,#422ebf 142px,#3f2ab2 164px,#7f71cc 165px,#fff 166px"></i><i style="top:249px;height:163px;--g:#fff 0,#e9f9f3 1px,#b7e8c2 2px,#b3d98e 3px,#bbcc5e 4px,#d6ce36 5px,#f3d828 6px,#f9f41b 8px,#fafc14 10px,#f7f818 24px,#fbc836 34px,#f4bc37 38px,#d4be2a 42px,#b5c534 45px,#8ecb4d 49px,#49cc86 56px,#04b9c9 69px,#09b4d0 71px,#1aabdd 74px,#2b92ef 82px,#317efb 89px,#436aff 96px,#4948ee 112px,#463adc 123px,#4330c5 138px,#402ab3 161px,#8071cd 162px,#fff 163px"></i><i style="top:253px;height:159px;--g:#fff 0,#d1f2ea 1px,#84d6b3 2px,#69bf7a 3px,#a1c45b 4px,#e0cc33 5px,#f5d82b 6px,#f8f31c 8px,#fafc14 10px,#f7fa17 23px,#fbc836 34px,#f9bc3b 37px,#e2bc2d 41px,#b9c431 45px,#76cc60 51px,#49cb86 56px,#24c2ad 63px,#0fbdbb 66px,#04b8c9 69px,#1da9df 75px,#2d89f5 85px,#3f6cff 95px,#485afa 103px,#473ce0 120px,#422fc2 141px,#402bb6 157px,#5543be 158px,#fff 159px"></i><i style="top:255px;height:157px;--g:#fff 0,#e6f6fb 1px,#7ad4e7 2px,#31bdd0 3px,#2abcae 4px,#62bf85 5px,#abc656 6px,#f7dd29 8px,#f8f619 10px,#f9fb15 12px,#f9fa16 24px,#f5e724 29px,#fdc636 36px,#f7bc3a 39px,#edbb34 41px,#d5be2b 44px,#bcc42f 47px,#6fcd65 54px,#48cb88 58px,#05bac8 70px,#08b6cf 72px,#21a5e2 78px,#2b8bf5 87px,#4368ff 98px,#4948ed 115px,#4539da 125px,#402cb8 156px,#fff 157px"></i><i style="top:258px;height:154px;--g:#fff 0,#69c1ec 2px,#1aa6dc 3px,#1bb2ca 4px,#29bfae 5px,#9ccc5e 7px,#cdd73c 8px,#f0e127 9px,#f7ef1e 10px,#fafc14 12px,#f7f918 26px,#fcbc3c 39px,#d4be29 45px,#bac430 48px,#88cb53 53px,#4dcc82 59px,#3ac897 62px,#04b9c9 71px,#23a1e5 80px,#2e85f8 90px,#3e6dff 98px,#475cfb 104px,#4741e7 120px,#4536d3 131px,#412cbb 153px,#fff 154px"></i><i style="top:260px;height:152px;--g:#fff 0,#d0e5fd 1px,#4595f6 2px,#2b8ff1 3px,#1ea4dc 5px,#20b2c7 6px,#36bda9 7px,#61c578 8px,#9fcf53 9px,#cfd435 10px,#efde24 11px,#f9ec20 12px,#f8f718 13px,#f9fb15 14px,#f7f818 29px,#fbc339 39px,#f9bd3a 41px,#e4bb2d 45px,#bfc32e 49px,#9aca45 53px,#4bcc85 61px,#13bebb 71px,#06b8cb 74px,#22a3e4 81px,#2d87f7 91px,#416bff 101px,#4852f5 111px,#473fe3 124px,#4433cd 137px,#412ebe 151px,#fff 152px"></i><i style="top:262px;height:150px;--g:#fff 0,#8eb5fe 1px,#347cfc 2px,#2698ea 6px,#20a5dd 7px,#25b1c8 8px,#3cbda3 9px,#69c178 10px,#adc64e 11px,#dcd032 12px,#f5da27 13px,#f9f51a 15px,#f9fc14 17px,#f9fa16 30px,#f5e526 35px,#fdcc33 40px,#f5bc38 44px,#e2bd30 47px,#d7be2d 48px,#bec330 51px,#9dc943 54px,#49cc85 63px,#24c2ad 70px,#10bdbb 73px,#05b8c8 76px,#0eb1d5 79px,#1fa7e0 82px,#3180fb 95px,#3d6fff 101px,#475ffc 108px,#4848ed 119px,#4538d9 132px,#422fc2 149px,#fff 150px"></i><i style="top:263px;height:149px;--g:#fff 0,#eaeeff 1px,#809cfe 2px,#3e6dfd 3px,#2e8af5 7px,#1ba6df 10px,#1db1cb 11px,#3cbca1 12px,#71c076 13px,#aec64f 14px,#e5cf30 15px,#f5da2a 16px,#f8eb21 17px,#f8f31b 18px,#f9fb15 20px,#f9fa15 32px,#f5ec21 36px,#fdc736 44px,#f8bc3a 47px,#eebb35 49px,#debd2c 51px,#bac530 55px,#6ccd68 62px,#50cb80 65px,#32c69f 70px,#05bac6 78px,#08b6cf 80px,#21a6e2 86px,#3180fa 98px,#3e6ffe 104px,#475cfb 112px,#4740e5 127px,#4331c6 148px,#fff 149px"></i><i style="top:265px;height:147px;--g:#fff 0,#8494fc 1px,#465ffb 2px,#3c71fe 6px,#3181f9 8px,#249ce7 11px,#18a9db 12px,#18b4cb 13px,#3cbca0 14px,#68c182 15px,#aec854 16px,#dfd135 17px,#f9de28 18px,#f8f619 20px,#fafc14 22px,#f7f918 35px,#fcbd3c 48px,#d6bd29 54px,#bac430 57px,#95ca49 61px,#6fcc65 64px,#3cc994 70px,#0ebcbe 78px,#06b7cc 81px,#23a2e5 89px,#2f84f8 99px,#3e6eff 106px,#475dfb 113px,#473fe4 130px,#43c 146px,#fff 147px"></i><i style="top:266px;height:146px;--g:#fff 0,#99a0fa 1px,#4755f6 2px,#4268fe 7px,#327ffb 11px,#229de7 14px,#1aa9d9 15px,#1ab5c6 16px,#29c1a7 17px,#74c47c 18px,#d0d938 20px,#f8e326 21px,#f8f818 23px,#f9fa15 24px,#f7fb17 37px,#fbbd3c 51px,#e4bb2e 55px,#c1c32d 59px,#9bc944 63px,#4ccc84 71px,#0ebdbf 81px,#05b7cc 84px,#1da9de 89px,#2b8df3 99px,#406cff 110px,#494bf0 125px,#4435d2 144px,#594cd7 145px,#fff 146px"></i><i style="top:267px;height:145px;--g:#fff 0,#c2c3fa 1px,#484cef 2px,#4660fc 8px,#3974fe 12px,#2a8ff1 16px,#1ea7d9 18px,#20b5c1 19px,#39bfa1 20px,#6ec772 21px,#a6cf4d 22px,#d4d830 23px,#f0e023 24px,#f8f01d 25px,#fafb14 27px,#f7fb16 41px,#fbc836 51px,#f5bb38 55px,#d9bd2b 59px,#b3c734 63px,#4acd84 74px,#25c2ad 81px,#0fbdbb 84px,#07b8cb 87px,#20a6e2 93px,#3080fa 106px,#3e70ff 112px,#4951f5 124px,#4539d9 143px,#837be5 144px,#fff 145px"></i><i style="top:268px;height:144px;--g:#fff 0,#8483f0 1px,#4746ea 2px,#4857f7 9px,#4169fe 13px,#3776fe 15px,#2a92ef 19px,#269ae9 20px,#21a8d8 21px,#25b3c5 22px,#46bf99 23px,#76c270 24px,#b3c749 25px,#e2d42f 26px,#f5dd26 27px,#f9ee1d 28px,#f9fc15 31px,#f9fa15 43px,#f5ed21 47px,#fccb33 54px,#fabd3a 57px,#d9bd2c 62px,#bbc42f 65px,#8ccb50 70px,#6bcc69 73px,#4acb85 77px,#33c69e 81px,#06bac5 89px,#06b6cc 91px,#1caadf 95px,#367afe 111px,#485dfc 122px,#463dde 142px,#c1bff5 143px,#fff 144px"></i><i style="top:269px;height:143px;--g:#fff 0,#847fec 1px,#4740e4 2px,#475dfb 14px,#3d6efe 17px,#3083f8 20px,#249de7 23px,#19a8dc 24px,#23b5c2 25px,#3ebd9c 26px,#7fc16d 27px,#e7cf2e 29px,#f8dd2a 30px,#f7f719 32px,#fafc14 34px,#f7f918 47px,#fbc637 58px,#f7bc39 61px,#eebb34 63px,#dbbd2b 65px,#bdc330 68px,#abc63a 70px,#87cb53 73px,#4dcc83 79px,#0fbdbe 90px,#05b7cb 93px,#20a5e2 100px,#3679fe 114px,#485dfc 125px,#4741e5 141px,#ebeafc 142px,#fff 143px"></i><i style="top:269px;height:142px;--g:#fff 0,#eae9fb 1px,#463adb 2px,#4949ee 11px,#426bff 21px,#3082f8 24px,#2894ee 26px,#17abd9 28px,#1ab5c8 29px,#4cbd93 30px,#7bc177 31px,#e2d534 33px,#f8e127 34px,#f7ef1e 35px,#fafb14 37px,#f7fb16 50px,#fcc538 62px,#f3ba37 66px,#d3bf2a 70px,#b1c636 74px,#6fcd65 80px,#3ec992 85px,#0ebdbe 94px,#04b9c9 96px,#21a4e3 104px,#347afd 118px,#4663fd 126px,#4849ed 140px,#8585f3 141px,#fff 142px"></i><i style="top:270px;height:141px;--g:#fff 0,#9890e8 1px,#4537d6 2px,#4848ed 14px,#475dfa 20px,#3e6eff 24px,#2d88f6 28px,#18aad7 31px,#1ab9c0 32px,#3ec09d 33px,#b0ce53 35px,#d5d835 36px,#f8e624 37px,#f7f21c 38px,#fafb14 40px,#f7fb17 53px,#fcc438 65px,#f0ba36 69px,#d9be2c 72px,#bdc330 75px,#97ca47 79px,#54cc7c 86px,#2bc4a6 92px,#0dbcbe 97px,#04b9c9 99px,#20a6e1 106px,#3081fa 119px,#4269ff 127px,#4850f2 139px,#ebebfd 140px,#fff 141px"></i><i style="top:271px;height:139px;--g:#fff 0,#594bd4 1px,#4434cf 2px,#494cf2 19px,#3f6fff 27px,#2891f1 32px,#1baad5 34px,#23b6bf 35px,#41c09a 36px,#7cca6d 37px,#aad148 38px,#dcd82e 39px,#f3e124 40px,#f8f31b 41px,#fafc14 43px,#f7f818 58px,#fbc737 67px,#f8bc39 70px,#d8bd2a 75px,#bdc42f 78px,#97ca48 82px,#5acc77 88px,#3dc992 92px,#25c2ac 97px,#0ebcbd 100px,#08b9c6 102px,#0ab4d0 104px,#1ea8e0 108px,#3083f9 121px,#3f6dff 129px,#4759f8 137px,#99a2fb 138px,#fff 139px"></i><i style="top:271px;height:138px;--g:#fff 0,#aba4e7 1px,#4332c9 2px,#463add 13px,#4856f8 26px,#416bfe 30px,#327dfb 33px,#2993ee 36px,#239de7 37px,#21a9d7 38px,#27b4c1 39px,#4bc093 40px,#7ec26c 41px,#bbc945 42px,#e4d42d 43px,#f9e026 44px,#f9f01c 45px,#fafc14 47px,#f7fa17 61px,#fbcb34 71px,#f8bc3a 75px,#dfbc2c 78px,#bac430 82px,#a7c83c 84px,#4dcd82 93px,#0bbcc2 105px,#05b8cb 107px,#22a3e3 114px,#2c8af4 122px,#3974ff 130px,#4365fd 136px,#97a9fe 137px,#fff 138px"></i><i style="top:271px;height:137px;--g:#fff 0,#eae8f9 1px,#4230c4 2px,#463bde 18px,#4857f9 30px,#4463fd 33px,#347dfc 37px,#229ee6 41px,#18a9db 42px,#25b7bd 43px,#46bd97 44px,#89c169 45px,#c3c945 46px,#ebd12d 47px,#f9df28 48px,#f7ee1f 49px,#f9fc14 52px,#f9fa16 64px,#f5eb22 68px,#fdc537 76px,#f8bb3a 79px,#dcbd2b 83px,#b6c534 87px,#7ccc5b 92px,#4ccc84 97px,#0ebdbe 108px,#05b7cb 111px,#1caade 116px,#2f85f8 128px,#3c71fe 135px,#7e9ffe 136px,#fff 137px"></i><i style="top:272px;height:135px;--g:#fff 0,#968bdc 1px,#422fc0 2px,#473ce0 22px,#4858f9 33px,#3f6dff 38px,#2794ef 43px,#17add5 45px,#19b7c3 46px,#4dbe8f 47px,#81c373 48px,#f1d62c 50px,#f8e425 51px,#f8f818 53px,#f9fb15 54px,#f9fb15 66px,#f6e525 72px,#fdc437 79px,#f5bc38 82px,#e8bc31 84px,#d2bf2c 87px,#bdc330 89px,#a2c940 92px,#54cc7c 99px,#33c79d 104px,#04b9c9 113px,#1fa7e1 120px,#2f83f8 132px,#488efa 133px,#8db7fd 134px,#fff 135px"></i><i style="top:272px;height:134px;--g:#fff 0,#d5d0f0 1px,#412dbc 2px,#4331c8 13px,#4740e5 28px,#4853f5 35px,#426afe 41px,#347afc 44px,#2794ee 47px,#1aadd4 49px,#1cbabd 50px,#42c199 51px,#bfcf4c 53px,#e0da31 54px,#f8e922 55px,#f7f41b 56px,#f9fb15 58px,#f9fb15 70px,#f5ea22 75px,#fec637 82px,#efba36 87px,#d8be2a 90px,#bec32f 93px,#acc739 95px,#65cd6e 102px,#41ca8d 106px,#2cc4a5 110px,#0abbc0 115px,#04b8c9 117px,#1aabdd 122px,#2a91ef 131px,#5aa8f3 132px,#e8f2fe 133px,#fff 134px"></i><i style="top:273px;height:131px;--g:#fff 0,#5644c1 1px,#412cba 2px,#4536d4 23px,#484bf0 36px,#4661fc 42px,#347cfc 47px,#2993ee 50px,#1da0e1 51px,#1fabd2 52px,#27b8ba 53px,#45c293 54px,#82ca67 55px,#b3d144 56px,#dedc2a 57px,#f8e324 58px,#f8f51a 59px,#f9fa16 60px,#f9fb15 73px,#f6f51b 76px,#fdc239 86px,#f4ba38 89px,#d6be2a 93px,#bcc52e 96px,#4ecd80 107px,#06b9c9 120px,#22a2e4 128px,#3baae8 129px,#fff 131px"></i><i style="top:273px;height:130px;--g:#fff 0,#9589d7 1px,#402bb7 2px,#4434d0 25px,#484bf1 40px,#4660fb 46px,#3678fe 50px,#249de7 55px,#23acd1 56px,#2cb8b8 57px,#4fc18c 58px,#c6cc3f 60px,#e9d52b 61px,#fae126 62px,#f8f11c 63px,#f9fb15 65px,#f9fc14 76px,#f5ed20 82px,#fdc835 89px,#f3bb37 93px,#dcbd2c 96px,#c1c22e 99px,#9aca45 103px,#4dcc83 111px,#0abcc3 123px,#06b7ca 125px,#09b5cf 126px,#7ed1eb 128px,#e6f6fb 129px,#fff 130px"></i><i style="top:273px;height:127px;--g:#fff 0,#d5d0ee 1px,#402bb5 2px,#422fc2 19px,#4536d5 31px,#4846eb 41px,#465ffc 50px,#3c70ff 53px,#2796ed 58px,#17abd8 60px,#2eb8b5 61px,#50bf8b 62px,#ccc942 64px,#efd42d 65px,#f8e226 66px,#f8f817 68px,#f9fc14 70px,#f8fa16 82px,#f6e525 87px,#fdc437 94px,#f5bc38 97px,#e3bc2f 100px,#cfbf2c 102px,#b5c533 105px,#7bcc5c 110px,#54cc7c 114px,#38c897 118px,#1ac0b4 124px,#4acdc7 125px,#c9f0f0 126px,#fff 127px"></i><i style="top:274px;height:124px;--g:#fff 0,#5542bb 1px,#402ab3 2px,#422ec2 23px,#4742e7 43px,#485af9 51px,#3e6eff 56px,#2b8ef3 60px,#16aed4 63px,#25b9b8 64px,#54be8c 65px,#94c367 66px,#bcce4e 67px,#f6d52d 68px,#f8f41b 70px,#f9fb15 72px,#f9fb15 84px,#f5ea23 89px,#fdc736 96px,#f5bb39 100px,#d9bd2b 104px,#c1c32d 107px,#80cb5a 113px,#7bcb5e 114px,#58cc79 117px,#3bc894 121px,#8ee0c8 122px,#d0f2eb 123px,#fff 124px"></i><i style="top:274px;height:121px;--g:#fff 0,#7f70cb 1px,#3f29b1 2px,#422ec2 27px,#4843e9 48px,#475efb 56px,#3a74ff 61px,#2596ed 65px,#17aed1 67px,#1ebcb9 68px,#84ca6c 70px,#c2d248 71px,#ecdc2d 72px,#f8eb20 73px,#fafd13 76px,#f7f719 90px,#fdbd3c 102px,#d9bd2b 108px,#b2c634 112px,#81cb59 117px,#89d170 118px,#c2e8b9 119px,#c8eed2 120px,#fff 121px"></i><i style="top:274px;height:118px;--g:#fff 0,#bfb8e5 1px,#3f29b0 2px,#422fc1 30px,#4537d6 42px,#4847ec 53px,#475dfb 60px,#3877fe 65px,#2c8cf3 68px,#1ea2e0 70px,#1caecf 71px,#2abab6 72px,#4bc588 73px,#8fcd61 74px,#bfd33f 75px,#e4de28 76px,#f7e723 77px,#f8f51a 78px,#f9fc15 80px,#f9fa16 93px,#f6ef1f 96px,#fdc537 104px,#f3bb37 108px,#d4bf2a 112px,#c0c32e 114px,#bcc331 115px,#cad97a 116px,#eef2d2 117px,#fff 118px"></i><i style="top:274px;height:115px;--g:#fff 0,#eae7f6 1px,#3f28ae 2px,#412cb8 26px,#463adc 50px,#4952f5 61px,#406cfe 67px,#2e86f8 71px,#22a1e1 74px,#25adcf 75px,#2ebab3 76px,#54c188 77px,#95c45f 78px,#cacf3b 79px,#f0d629 80px,#f9e623 81px,#f8f11c 82px,#f9fc14 84px,#f9fa16 97px,#f5e725 102px,#fccc33 107px,#f8bf39 111px,#f2bc36 112px,#f2ca62 113px,#f5e9b9 114px,#fff 115px"></i><i style="top:275px;height:111px;--g:#fff 0,#5440b7 1px,#3f28ae 2px,#412dbb 31px,#4535d1 47px,#4740e4 56px,#4858f9 66px,#3c70fe 71px,#2a90f2 75px,#18add5 78px,#2fbaae 79px,#56bf88 80px,#d9cc37 82px,#f4d42c 83px,#f8f41c 85px,#f9fb14 88px,#f8fb16 99px,#f7d82d 108px,#fffae8 110px,#fff 111px"></i><i style="top:275px;height:108px;--g:#fff 0,#7f70c8 1px,#3f28ad 2px,#412cbb 36px,#473ce1 59px,#485afa 70px,#3e6fff 75px,#2a8ff2 79px,#19afd2 82px,#28bbb3 83px,#5abf8a 84px,#96c565 85px,#cdce44 86px,#f7d82c 87px,#f8eb20 88px,#f9fb15 91px,#f9fb15 101px,#f7f51a 105px,#f8f236 106px,#fff 108px"></i><i style="top:275px;height:107px;--g:#fff 0,#bfb7e3 1px,#3e28ac 2px,#412cba 38px,#4332c9 50px,#473fe4 64px,#475dfb 75px,#3876ff 80px,#249ae9 84px,#1aa5df 85px,#19b2cd 86px,#22beb3 87px,#95c965 89px,#c6d443 90px,#eede2a 91px,#f7ee1f 92px,#f8f51a 93px,#f9fb15 95px,#f9fb15 104px,#feffe5 106px,#fff 107px"></i><i style="top:275px;height:105px;--g:#fff 0,#d4cfec 1px,#3e27ac 2px,#402bb6 37px,#4332ca 55px,#4740e5 68px,#4856f7 77px,#3c72ff 83px,#2b8cf3 87px,#1da3de 89px,#1cb2c9 90px,#30bbb0 91px,#53c682 92px,#95ce5c 93px,#c3d53b 94px,#ebdd25 95px,#f9e922 96px,#f8f619 97px,#f9fb15 99px,#f9fb15 103px,#fafc49 104px,#fff 105px"></i><i style="top:276px;height:105px;--g:#fff 0,#3e27ab 1px,#402bb6 41px,#4537d6 65px,#494af0 76px,#4366fe 84px,#3081fa 88px,#2797eb 91px,#21a2e0 92px,#23b0cb 93px,#36bbac 94px,#5cc181 95px,#9fc657 96px,#d4ce38 97px,#f3d828 98px,#f9f41b 100px,#f9fb15 102px,#fafb2f 103px,#feffe5 104px,#fff 105px"></i><i style="top:276px;height:107px;--g:#fff 0,#7e6fc7 1px,#3e27ab 2px,#402bb7 46px,#422fc3 56px,#463bdd 72px,#4953f6 83px,#406bfe 89px,#3181f9 92px,#2699e9 95px,#1da4e1 96px,#1bb0cf 97px,#34bba9 98px,#65c07e 99px,#9ec45e 100px,#dcce35 101px,#f6d62c 102px,#f8f41b 104px,#fefde6 106px,#fff 107px"></i><i style="top:276px;height:109px;--g:#fff 0,#9487d0 1px,#3e27aa 2px,#402bb6 49px,#422fc2 60px,#463add 76px,#4859fa 89px,#3d70ff 94px,#2991f0 98px,#16b1cf 101px,#35bba7 102px,#63bf85 103px,#a8c659 104px,#f8d92c 106px,#fbec88 107px,#fef5d1 108px,#fff 109px"></i><i style="top:276px;height:113px;--g:#fff 0,#bfb7e3 1px,#3e27aa 2px,#402bb4 50px,#4330c5 66px,#463de0 81px,#484bef 88px,#475ffc 94px,#3777fe 99px,#259ae9 103px,#19a8db 104px,#18b4ca 105px,#25beb0 106px,#6cc181 107px,#9bcb60 108px,#cdd05c 109px,#fbd47b 110px,#fbe8bd 111px,#fdf7e8 112px,#fff 113px"></i><i style="top:277px;height:115px;--g:#fff 0,#3e27aa 1px,#3e28ad 30px,#402bb7 55px,#4332c9 72px,#463cdf 83px,#484df1 92px,#4660fb 97px,#3a73ff 101px,#2a8ef2 105px,#1ea5db 107px,#1cb3c6 108px,#32bea9 109px,#5dc57b 110px,#93c458 111px,#c4d168 112px,#e1e4a3 113px,#f7f9e8 114px,#fff 115px"></i><i style="top:277px;height:118px;--g:#fff 0,#533fb3 1px,#3e27aa 2px,#402ab3 55px,#4230c4 72px,#4538d8 84px,#494df2 96px,#406dff 104px,#2c89f6 108px,#2699e9 110px,#21a6db 111px,#25b1c8 112px,#3ebea2 113px,#5ac37f 114px,#98d582 115px,#bfe29e 116px,#e0f4dc 117px,#fff 118px"></i><i style="top:277px;height:122px;--g:#fff 0,#7e6fc6 1px,#3e27a9 2px,#402ab3 59px,#422fc2 74px,#4638da 89px,#4953f6 102px,#406cfe 108px,#3083f9 111px,#259be8 114px,#1ba6df 115px,#21b3c6 116px,#3fc592 118px,#7bdab9 119px,#a9e7ce 120px,#e8f9f4 121px,#fff 122px"></i><i style="top:277px;height:124px;--g:#fff 0,#a99fd9 1px,#3e27a9 2px,#3f2ab2 61px,#422fc1 78px,#463adc 94px,#494ef2 104px,#416bff 112px,#3380fa 115px,#1aa8de 119px,#1dbdb9 121px,#4ecec4 122px,#9ae3dd 123px,#fff 124px"></i><i style="top:277px;height:127px;--g:#fff 0,#bfb7e2 1px,#3e27a9 2px,#3f29b1 63px,#4230c3 84px,#4538d9 96px,#484bef 107px,#4660fc 113px,#3b72ff 117px,#2991f1 121px,#10b3ce 124px,#75d7e3 125px,#caeef6 126px,#fff 127px"></i><i style="top:278px;height:129px;--g:#fff 0,#3e27a9 1px,#3f29b0 65px,#422fc2 86px,#4537d5 97px,#4741e5 105px,#4853f5 113px,#4465fd 117px,#3875fe 120px,#2e87f6 123px,#219ce6 125px,#22a0e4 126px,#e7f4fc 128px,#fff 129px"></i><i style="top:278px;height:131px;--g:#fff 0,#533fb3 1px,#3e27a9 2px,#3e26a8 5px,#3f29b0 66px,#412dba 82px,#4434d0 99px,#4743e8 110px,#4956f8 118px,#3975ff 124px,#2991f0 128px,#e8f2fd 130px,#fff 131px"></i><i style="top:278px;height:133px;--g:#fff 0,#7e6ec6 1px,#3e26a9 2px,#3f29af 69px,#412dbb 87px,#4435d0 103px,#473fe3 112px,#4854f6 121px,#4562fd 125px,#3083f9 130px,#e8f1fe 132px,#fff 133px"></i><i style="top:278px;height:135px;--g:#fff 0,#bfb7e2 1px,#3e26a9 2px,#3e26a8 5px,#3f28ae 70px,#412dba 89px,#4330c7 101px,#4742e7 118px,#475cfb 127px,#3b73fd 132px,#7ca1fe 133px,#eaefff 134px,#fff 135px"></i><i style="top:278px;height:136px;--g:#fff 0,#bfb7e2 1px,#3e26a9 2px,#3e27aa 53px,#402bb5 87px,#422fc3 102px,#463cde 118px,#4849ee 125px,#4465fd 133px,#5778fe 134px,#c1ccfe 135px,#fff 136px"></i><i style="top:279px;height:137px;--g:#fff 0,#3e26a9 1px,#3e27aa 56px,#402ab4 89px,#4330c5 107px,#4537d5 116px,#4845ea 126px,#465cf9 134px,#adb6fc 135px,#ebecfe 136px,#fff 137px"></i><i style="top:279px;height:138px;--g:#fff 0,#533eb3 1px,#3e26a9 2px,#3e27ab 66px,#402bb5 95px,#4331c6 111px,#4537d7 121px,#4852f4 135px,#5c66f5 136px,#ebebfe 137px,#fff 138px"></i><i style="top:279px;height:138px;--g:#fff 0,#7e6ec6 1px,#3e26a9 2px,#3e27a9 55px,#3f2ab2 93px,#412ebe 109px,#4535d3 123px,#484bee 136px,#5c60f1 137px,#fff 138px"></i><i style="top:279px;height:140px;--g:#fff 0,#bfb7e2 1px,#3e26a9 2px,#3e26a9 10px,#3e27aa 59px,#3f29b0 94px,#422fc2 117px,#473de1 134px,#4743e7 137px,#706ded 138px,#ebeafc 139px,#fff 140px"></i><i style="top:279px;height:140px;--g:#fff 0,#bfb7e2 1px,#3e26a9 2px,#3e26a9 10px,#3e27aa 62px,#3f29b1 98px,#422fc1 120px,#473fe1 138px,#847eeb 139px,#fff 140px"></i><i style="top:280px;height:140px;--g:#fff 0,#3e26a8 1px,#3f28ae 98px,#422fc1 123px,#463bdb 138px,#d6d3f7 139px,#fff 140px"></i><i style="top:280px;height:141px;--g:#fff 0,#6956bb 1px,#3e26a8 2px,#3e26a7 7px,#3f28ad 99px,#412cba 119px,#4537d4 139px,#eae9fa 140px,#fff 141px"></i><i style="top:280px;height:141px;--g:#fff 0,#7e6ec5 1px,#3e26a8 2px,#3e26a7 7px,#3f28ad 104px,#412dbb 124px,#4434ce 139px,#978ee4 140px,#fff 141px"></i><i style="top:280px;height:142px;--g:#fff 0,#bfb7e2 1px,#3e26a8 2px,#3e26a8 3px,#3e28ac 98px,#402bb7 123px,#4332c9 140px,#eae8f9 141px,#fff 142px"></i><i style="top:280px;height:142px;--g:#fff 0,#d4cfec 1px,#3e26a8 2px,#3e26a8 3px,#3e27ab 97px,#402ab4 122px,#4230c4 140px,#968cde 141px,#fff 142px"></i><i style="top:281px;height:141px;--g:#fff 0,#3e26a8 1px,#3e26a8 7px,#3e28ab 105px,#422ec0 139px,#5746c7 140px,#fff 141px"></i><i style="top:281px;height:142px;--g:#fff 0,#6956bb 1px,#3e26a8 2px,#3e26a8 3px,#3e27aa 97px,#3f29af 118px,#412dbc 140px,#aba2e1 141px,#fff 142px"></i><i style="top:281px;height:142px;--g:#fff 0,#7e6ec5 1px,#3e26a8 2px,#3e26a8 3px,#3e27a9 93px,#412cb9 140px,#8072d0 141px,#fff 142px"></i><i style="top:281px;height:142px;--g:#fff 0,#bfb7e2 1px,#3e26a8 2px,#3e26a8 3px,#3e27aa 106px,#402bb7 141px,#fff 142px"></i><i style="top:281px;height:143px;--g:#fff 0,#d4cfec 1px,#3e26a8 2px,#3e27aa 100px,#402ab4 141px,#bfb8e6 142px,#fff 143px"></i><i style="top:282px;height:142px;--g:#fff 0,#3e26a8 1px,#3e26a8 3px,#3e27aa 103px,#3f2ab2 140px,#7f71cc 141px,#fff 142px"></i><i style="top:282px;height:142px;--g:#fff 0,#6956bb 1px,#3e26a8 2px,#3e26a8 3px,#3e27a9 93px,#3f29b1 140px,#5441ba 141px,#fff 142px"></i><i style="top:282px;height:143px;--g:#fff 0,#7e6ec5 1px,#3e26a8 2px,#3e27a9 98px,#3f29b0 141px,#d4cfed 142px,#fff 143px"></i><i style="top:282px;height:143px;--g:#fff 0,#bfb7e2 1px,#3e26a8 2px,#3f28ae 141px,#aaa0db 142px,#fff 143px"></i><i style="top:282px;height:143px;--g:#fff 0,#d4cfec 1px,#3e26a8 2px,#3f28ad 141px,#7f70c9 142px,#fff 143px"></i><i style="top:283px;height:142px;--g:#fff 0,#3e26a8 1px,#3e26a7 3px,#3f28ad 141px,#fff 142px"></i><i style="top:283px;height:143px;--g:#fff 0,#6956bb 1px,#3e26a8 2px,#3e28ac 141px,#d4cfed 142px,#fff 143px"></i><i style="top:283px;height:143px;--g:#fff 0,#7e6ec5 1px,#3e26a8 2px,#3e27ab 141px,#a99fda 142px,#fff 143px"></i><i style="top:283px;height:143px;--g:#fff 0,#bfb7e2 1px,#3e26a8 2px,#3e27ab 141px,#7e6fc7 142px,#fff 143px"></i><i style="top:283px;height:143px;--g:#fff 0,#eae7f5 1px,#3e26a8 2px,#3e27ab 141px,#533fb4 142px,#fff 143px"></i><i style="top:284px;height:143px;--g:#fff 0,#3e26a8 1px,#3e26a8 2px,#3e27aa 141px,#eae7f6 142px,#fff 143px"></i><i style="top:284px;height:143px;--g:#fff 0,#6956bb 1px,#3e26a8 2px,#3e27aa 141px,#bfb7e3 142px,#fff 143px"></i><i style="top:284px;height:143px;--g:#fff 0,#7e6ec5 1px,#3e26a8 2px,#3e27aa 141px,#a99fd9 142px,#fff 143px"></i><i style="top:284px;height:143px;--g:#fff 0,#bfb7e2 1px,#3e26a8 2px,#3e27a9 141px,#7e6fc6 142px,#fff 143px"></i><i style="top:284px;height:143px;--g:#fff 0,#d4cfec 1px,#3e26a8 2px,#3e27a9 142px,#fff 143px"></i><i style="top:285px;height:143px;--g:#fff 0,#3e26a8 1px,#3e26a8 2px,#3e27a9 141px,#d4cfec 142px,#fff 143px"></i><i style="top:285px;height:143px;--g:#fff 0,#6956bb 1px,#3e26a8 2px,#3e27a9 141px,#bfb7e2 142px,#fff 143px"></i><i style="top:285px;height:143px;--g:#fff 0,#9486cf 1px,#3e26a8 2px,#3e27a9 141px,#9487cf 142px,#fff 143px"></i><i style="top:285px;height:143px;--g:#fff 0,#bfb7e2 1px,#3e26a8 2px,#3e27a9 141px,#6957bc 142px,#fff 143px"></i><i style="top:285px;height:143px;--g:#fff 0,#d4cfec 1px,#3e26a8 2px,#3e26a9 142px,#fff 143px"></i><i style="top:286px;height:143px;--g:#fff 0,#3e26a8 1px,#3e26a8 2px,#3e26a9 141px,#eae7f5 142px,#fff 143px"></i><i style="top:286px;height:143px;--g:#fff 0,#6956bb 1px,#3e26a8 2px,#3e26a9 141px,#bfb7e2 142px,#fff 143px"></i><i style="top:286px;height:143px;--g:#fff 0,#7e6ec5 1px,#3e26a8 2px,#3e26a9 141px,#7e6ec6 142px,#fff 143px"></i><i style="top:286px;height:143px;--g:#fff 0,#bfb7e2 1px,#3e26a8 2px,#3e26a9 141px,#6956bc 142px,#fff 143px"></i><i style="top:286px;height:143px;--g:#fff 0,#d4cfec 1px,#3e26a8 2px,#3e26a9 142px,#fff 143px"></i><i style="top:287px;height:143px;--g:#fff 0,#3e26a8 1px,#3e26a8 2px,#3e26a9 141px,#d4cfec 142px,#fff 143px"></i><i style="top:287px;height:143px;--g:#fff 0,#7e6ec5 1px,#3e26a8 2px,#3e26a9 141px,#bfb7e2 142px,#fff 143px"></i><i style="top:287px;height:143px;--g:#fff 0,#7e6ec5 1px,#3e26a8 2px,#3e26a8 141px,#7e6ec5 142px,#fff 143px"></i><i style="top:287px;height:143px;--g:#fff 0,#bfb7e2 1px,#3e26a8 2px,#3e26a8 141px,#6956bb 142px,#fff 143px"></i><i style="top:287px;height:143px;--g:#fff 0,#eae7f5 1px,#3e26a8 2px,#3e26a8 142px,#fff 143px"></i><i style="top:288px;height:143px;--g:#fff 0,#3e26a8 1px,#3e26a8 2px,#3e26a8 141px,#d4cfec 142px,#fff 143px"></i><i style="top:288px;height:143px;--g:#fff 0,#7e6ec5 1px,#3e26a8 2px,#3e26a8 141px,#a99fd8 142px,#fff 143px"></i><i style="top:288px;height:143px;--g:#fff 0,#7e6ec5 1px,#3e26a8 2px,#3e26a8 141px,#7e6ec5 142px,#fff 143px"></i><i style="top:288px;height:143px;--g:#fff 0,#bfb7e2 1px,#3e26a8 2px,#3e26a8 141px,#6956bb 142px,#fff 143px"></i><i style="top:288px;height:143px;--g:#fff 0,#eae7f5 1px,#3e26a8 2px,#3e26a8 142px,#fff 143px"></i><i style="top:289px;height:142px;--g:#fff 0,#3e26a8 1px,#3e26a8 3px,#3e26a8 140px,#7e6ec5 141px,#fff 142px"></i><i style="top:289px;height:141px;--g:#fff 0,#6956bb 1px,#3e26a8 2px,#3e26a8 7px,#3e26a8 138px,#533eb2 139px,#bfb7e2 140px,#fff 141px"></i><i style="top:289px;height:139px;--g:#fff 0,#9486cf 1px,#3e26a8 2px,#3e26a8 11px,#3e26a8 136px,#533eb2 137px,#bfb7e2 138px,#fff 139px"></i><i style="top:289px;height:138px;--g:#fff 0,#bfb7e2 1px,#3e26a8 2px,#3e26a8 39px,#3e26a8 135px,#7e6ec5 136px,#eae7f5 137px,#fff 138px"></i><i style="top:289px;height:136px;--g:#fff 0,#eae7f5 1px,#3e26a8 2px,#3e26a8 28px,#3e26a8 133px,#6956bb 134px,#bfb7e2 135px,#fff 136px"></i><i style="top:290px;height:133px;--g:#fff 0,#3e26a8 1px,#3e26a8 3px,#3e26a8 131px,#a99fd8 132px,#fff 133px"></i><i style="top:290px;height:132px;--g:#fff 0,#6956bb 1px,#3e26a8 2px,#3e26a8 7px,#3e26a8 129px,#a99fd8 130px,#eae7f5 131px,#fff 132px"></i><i style="top:290px;height:130px;--g:#fff 0,#9486cf 1px,#3e26a8 2px,#3e26a8 127px,#533eb2 128px,#d4cfec 129px,#fff 130px"></i><i style="top:290px;height:128px;--g:#fff 0,#bfb7e2 1px,#3e26a8 2px,#3e26a8 125px,#533eb2 126px,#9486cf 127px,#fff 128px"></i><i style="top:290px;height:126px;--g:#fff 0,#d4cfec 1px,#3e26a8 2px,#3e26a8 9px,#3e26a8 124px,#9486cf 125px,#fff 126px"></i><i style="top:291px;height:124px;--g:#fff 0,#3e26a8 1px,#3e26a8 2px,#3e26a8 121px,#533eb2 122px,#bfb7e2 123px,#fff 124px"></i><i style="top:291px;height:122px;--g:#fff 0,#7e6ec5 1px,#3e26a8 2px,#3e26a8 7px,#3e26a8 119px,#533eb2 120px,#bfb7e2 121px,#fff 122px"></i><i style="top:291px;height:121px;--g:#fff 0,#9486cf 1px,#3e26a8 2px,#3e26a8 118px,#7e6ec5 119px,#eae7f5 120px,#fff 121px"></i><i style="top:291px;height:119px;--g:#fff 0,#bfb7e2 1px,#3e26a8 2px,#3e26a8 4px,#3e26a8 116px,#7e6ec5 117px,#eae7f5 118px,#fff 119px"></i><i style="top:291px;height:117px;--g:#fff 0,#eae7f5 1px,#3e26a8 2px,#3e26a8 4px,#3e26a8 115px,#a99fd8 116px,#fff 117px"></i><i style="top:292px;height:115px;--g:#fff 0,#3e26a8 1px,#3e26a8 32px,#3e26a8 112px,#a99fd8 113px,#eae7f5 114px,#fff 115px"></i><i style="top:292px;height:113px;--g:#fff 0,#7e6ec5 1px,#3e26a8 2px,#3e26a8 5px,#3e26a8 110px,#6956bb 111px,#eae7f5 112px,#fff 113px"></i><i style="top:292px;height:111px;--g:#fff 0,#9486cf 1px,#3e26a8 2px,#3e26a8 3px,#3e26a8 108px,#533eb2 109px,#9486cf 110px,#fff 111px"></i><i style="top:292px;height:109px;--g:#fff 0,#bfb7e2 1px,#3e26a8 2px,#3e26a8 17px,#3e26a8 107px,#9486cf 108px,#fff 109px"></i><i style="top:292px;height:108px;--g:#fff 0,#eae7f5 1px,#3e26a8 2px,#3e26a8 4px,#3e26a8 105px,#7e6ec5 106px,#d4cfec 107px,#fff 108px"></i><i style="top:293px;height:105px;--g:#fff 0,#3e26a8 1px,#3e26a8 4px,#3e26a8 102px,#533eb2 103px,#bfb7e2 104px,#fff 105px"></i><i style="top:293px;height:104px;--g:#fff 0,#7e6ec5 1px,#3e26a8 2px,#3e26a8 4px,#3e26a8 101px,#7e6ec5 102px,#eae7f5 103px,#fff 104px"></i><i style="top:293px;height:102px;--g:#fff 0,#9486cf 1px,#3e26a8 2px,#3e26a8 8px,#3e26a8 99px,#7e6ec5 100px,#eae7f5 101px,#fff 102px"></i><i style="top:293px;height:100px;--g:#fff 0,#bfb7e2 1px,#3e26a8 2px,#3e26a8 8px,#3e26a8 98px,#bfb7e2 99px,#fff 100px"></i><i style="top:293px;height:98px;--g:#fff 0,#eae7f5 1px,#3e26a8 2px,#3e26a8 7px,#3e26a8 96px,#a99fd8 97px,#fff 98px"></i><i style="top:294px;height:96px;--g:#fff 0,#3e26a8 1px,#3e26a8 26px,#3e26a8 93px,#6956bb 94px,#eae7f5 95px,#fff 96px"></i><i style="top:294px;height:94px;--g:#fff 0,#7e6ec5 1px,#3e26a8 2px,#3e26a8 6px,#3e26a8 91px,#6956bb 92px,#bfb7e2 93px,#fff 94px"></i><i style="top:294px;height:92px;--g:#fff 0,#9486cf 1px,#3e26a8 2px,#3e26a8 17px,#3e26a8 90px,#9486cf 91px,#fff 92px"></i><i style="top:294px;height:91px;--g:#fff 0,#bfb7e2 1px,#3e26a8 2px,#3e26a8 4px,#3e26a8 88px,#7e6ec5 89px,#d4cfec 90px,#fff 91px"></i><i style="top:294px;height:89px;--g:#fff 0,#eae7f5 1px,#3e26a8 2px,#3e26a8 23px,#3e26a8 86px,#533eb2 87px,#d4cfec 88px,#fff 89px"></i><i style="top:295px;height:86px;--g:#fff 0,#3e26a8 1px,#3e26a8 8px,#3e26a8 83px,#533eb2 84px,#9486cf 85px,#fff 86px"></i><i style="top:295px;height:85px;--g:#fff 0,#7e6ec5 1px,#3e26a8 2px,#3e26a8 12px,#3e26a8 82px,#7e6ec5 83px,#eae7f5 84px,#fff 85px"></i><i style="top:295px;height:83px;--g:#fff 0,#9486cf 1px,#3e26a8 2px,#3e26a8 80px,#533eb2 81px,#bfb7e2 82px,#fff 83px"></i><i style="top:295px;height:81px;--g:#fff 0,#bfb7e2 1px,#3e26a8 2px,#3e26a8 3px,#3e26a8 79px,#bfb7e2 80px,#fff 81px"></i><i style="top:296px;height:79px;--g:#fff 0,#3e26a8 1px,#3e26a8 76px,#6956bb 77px,#eae7f5 78px,#fff 79px"></i><i style="top:296px;height:77px;--g:#fff 0,#3e26a8 1px,#3e26a8 19px,#3e26a8 74px,#6956bb 75px,#eae7f5 76px,#fff 77px"></i><i style="top:296px;height:75px;--g:#fff 0,#7e6ec5 1px,#3e26a8 2px,#3e26a8 73px,#a99fd8 74px,#fff 75px"></i><i style="top:296px;height:74px;--g:#fff 0,#9486cf 1px,#3e26a8 2px,#3e26a8 71px,#9486cf 72px,#d4cfec 73px,#fff 74px"></i><i style="top:296px;height:72px;--g:#fff 0,#bfb7e2 1px,#3e26a8 2px,#3e26a8 5px,#3e26a8 69px,#533eb2 70px,#d4cfec 71px,#fff 72px"></i><i style="top:296px;height:70px;--g:#fff 0,#eae7f5 1px,#3e26a8 2px,#3e26a8 5px,#3e26a8 67px,#533eb2 68px,#9486cf 69px,#fff 70px"></i><i style="top:297px;height:67px;--g:#fff 0,#3e26a8 1px,#3e26a8 9px,#3e26a8 65px,#7e6ec5 66px,#fff 67px"></i><i style="top:297px;height:66px;--g:#fff 0,#7e6ec5 1px,#3e26a8 2px,#3e26a8 4px,#3e26a8 63px,#6956bb 64px,#bfb7e2 65px,#fff 66px"></i><i style="top:297px;height:64px;--g:#fff 0,#a99fd8 1px,#3e26a8 2px,#3e26a8 61px,#533eb2 62px,#bfb7e2 63px,#fff 64px"></i><i style="top:297px;height:63px;--g:#fff 0,#bfb7e2 1px,#3e26a8 2px,#3e26a8 5px,#3e26a8 60px,#7e6ec5 61px,#eae7f5 62px,#fff 63px"></i><i style="top:297px;height:61px;--g:#fff 0,#eae7f5 1px,#3e26a8 2px,#3e26a8 58px,#6956bb 59px,#eae7f5 60px,#fff 61px"></i><i style="top:298px;height:58px;--g:#fff 0,#533eb2 1px,#3e26a8 2px,#3e26a8 56px,#a99fd8 57px,#fff 58px"></i><i style="top:298px;height:57px;--g:#fff 0,#7e6ec5 1px,#3e26a8 2px,#3e26a8 3px,#3e26a8 54px,#a99fd8 55px,#eae7f5 56px,#fff 57px"></i><i style="top:298px;height:55px;--g:#fff 0,#9486cf 1px,#3e26a8 2px,#3e26a8 13px,#3e26a8 52px,#533eb2 53px,#d4cfec 54px,#fff 55px"></i><i style="top:298px;height:53px;--g:#fff 0,#bfb7e2 1px,#3e26a8 2px,#3e26a8 6px,#3e26a8 50px,#533eb2 51px,#bfb7e2 52px,#fff 53px"></i><i style="top:298px;height:51px;--g:#fff 0,#eae7f5 1px,#3e26a8 2px,#3e26a8 4px,#3e26a8 49px,#9486cf 50px,#fff 51px"></i><i style="top:299px;height:49px;--g:#fff 0,#533eb2 1px,#3e26a8 2px,#3e26a8 16px,#3e26a8 46px,#6956bb 47px,#bfb7e2 48px,#fff 49px"></i><i style="top:299px;height:47px;--g:#fff 0,#7e6ec5 1px,#3e26a8 2px,#3e26a8 3px,#3e26a8 44px,#533eb2 45px,#bfb7e2 46px,#fff 47px"></i><i style="top:299px;height:46px;--g:#fff 0,#9486cf 1px,#3e26a8 2px,#3e26a8 13px,#3e26a8 42px,#533eb2 43px,#9486cf 44px,#eae7f5 45px,#fff 46px"></i><i style="top:299px;height:44px;--g:#fff 0,#bfb7e2 1px,#3e26a8 2px,#3e26a8 41px,#7e6ec5 42px,#eae7f5 43px,#fff 44px"></i><i style="top:300px;height:41px;--g:#fff 0,#3e26a8 1px,#3e26a8 39px,#a99fd8 40px,#fff 41px"></i><i style="top:300px;height:39px;--g:#fff 0,#533eb2 1px,#3e26a8 2px,#3e26a8 4px,#3e26a8 37px,#a99fd8 38px,#fff 39px"></i><i style="top:300px;height:38px;--g:#fff 0,#7e6ec5 1px,#3e26a8 2px,#3e26a8 35px,#6956bb 36px,#eae7f5 37px,#fff 38px"></i><i style="top:300px;height:36px;--g:#fff 0,#9486cf 1px,#3e26a8 2px,#3e26a8 7px,#3e26a8 33px,#533eb2 34px,#bfb7e2 35px,#fff 36px"></i><i style="top:300px;height:34px;--g:#fff 0,#bfb7e2 1px,#3e26a8 2px,#3e26a8 7px,#3e26a8 32px,#9486cf 33px,#fff 34px"></i><i style="top:301px;height:32px;--g:#fff 0,#3e26a8 1px,#3e26a8 29px,#9486cf 30px,#d4cfec 31px,#fff 32px"></i><i style="top:301px;height:30px;--g:#fff 0,#3e26a8 1px,#3e26a8 8px,#3e26a8 27px,#533eb2 28px,#bfb7e2 29px,#fff 30px"></i><i style="top:301px;height:29px;--g:#fff 0,#7e6ec5 1px,#3e26a8 2px,#3e26a8 9px,#3e26a8 25px,#533eb2 26px,#9486cf 27px,#eae7f5 28px,#fff 29px"></i><i style="top:301px;height:27px;--g:#fff 0,#a99fd8 1px,#3e26a8 2px,#3e26a8 5px,#3e26a8 24px,#7e6ec5 25px,#eae7f5 26px,#fff 27px"></i><i style="top:301px;height:25px;--g:#fff 0,#bfb7e2 1px,#3e26a8 2px,#3e26a8 23px,#bfb7e2 24px,#fff 25px"></i><i style="top:302px;height:22px;--g:#fff 0,#3e26a8 1px,#3e26a8 20px,#a99fd8 21px,#fff 22px"></i><i style="top:302px;height:21px;--g:#fff 0,#533eb2 1px,#3e26a8 2px,#3e26a8 7px,#3e26a8 18px,#6956bb 19px,#eae7f5 20px,#fff 21px"></i><i style="top:302px;height:19px;--g:#fff 0,#7e6ec5 1px,#3e26a8 2px,#3e26a8 5px,#3e26a8 16px,#6956bb 17px,#eae7f5 18px,#fff 19px"></i><i style="top:302px;height:17px;--g:#fff 0,#a99fd8 1px,#3e26a8 2px,#3e26a8 15px,#9486cf 16px,#fff 17px"></i><i style="top:302px;height:16px;--g:#fff 0,#bfb7e2 1px,#3e26a8 2px,#3e26a8 13px,#9486cf 14px,#d4cfec 15px,#fff 16px"></i><i style="top:302px;height:14px;--g:#fff 0,#eae7f5 1px,#3e26a8 2px,#3e26a8 11px,#533eb2 12px,#d4cfec 13px,#fff 14px"></i><i style="top:303px;height:11px;--g:#fff 0,#533eb2 1px,#3e26a8 2px,#3e26a8 8px,#533eb2 9px,#fff 11px"></i><i style="top:303px;height:10px;--g:#fff 0,#7e6ec5 1px,#3e26a8 2px,#3e26a8 7px,#7e6ec5 8px,#eae7f5 9px,#fff 10px"></i><i style="top:303px;height:8px;--g:#fff 0,#a99fd8 1px,#3e26a8 2px,#3e26a8 5px,#6956bb 6px,#bfb7e2 7px,#fff 8px"></i><i style="top:303px;height:6px;--g:#fff 0,#bfb7e2 1px,#3e26a8 2px,#3e26a8 4px,#bfb7e2 5px,#fff 6px"></i><i style="top:304px;height:4px;--g:#fff 0,#3e26a8 1px,#6956bb 2px,#eae7f5 3px,#fff 4px"></i><i style="top:304px;height:2px;--g:#fff 0,#eae7f5 1px,#fff 2px"></i></div>
<div class="p" style="left:353px"><i style="top:405px;height:4px;--g:#fff 0,#d4cfec 1px,#bfb7e2 2px,#eae7f5 3px,#fff 4px"></i><i style="top:401px;height:8px;--g:#fff 0,#bfb7e2 1px,#9486cf 2px,#7e6ec5 3px,#3e26a8 4px,#3e26a8 6px,#bfb7e2 7px,#fff 8px"></i><i style="top:396px;height:13px;--g:#fff 0,#533eb2 4px,#3e26a8 5px,#3e26a8 11px,#bfb7e2 12px,#fff 13px"></i><i style="top:391px;height:18px;--g:#fff 0,#eae7f5 1px,#bfb7e2 2px,#7e6ec5 3px,#6956bb 4px,#3e26a8 5px,#3e26a8 6px,#3e26a8 16px,#bfb7e2 17px,#fff 18px"></i><i style="top:387px;height:22px;--g:#fff 0,#bfb7e2 1px,#a99fd8 2px,#7e6ec5 3px,#3e26a8 4px,#3e26a8 20px,#bfb7e2 21px,#fff 22px"></i><i style="top:382px;height:27px;--g:#fff 0,#d4cfec 1px,#bfb7e2 2px,#7e6ec5 3px,#533eb2 4px,#3e26a8 5px,#3e26a8 25px,#bfb7e2 26px,#fff 27px"></i><i style="top:378px;height:31px;--g:#fff 0,#bfb7e2 1px,#a99fd8 2px,#7e6ec5 3px,#3e26a8 4px,#3e26a8 29px,#bfb7e2 30px,#fff 31px"></i><i style="top:373px;height:36px;--g:#fff 0,#533eb2 4px,#3e26a8 5px,#3e26a8 7px,#3e26a8 34px,#bfb7e2 35px,#fff 36px"></i><i style="top:368px;height:41px;--g:#fff 0,#eae7f5 1px,#9486cf 3px,#7e6ec5 4px,#3e26a8 5px,#3e26a8 39px,#bfb7e2 40px,#fff 41px"></i><i style="top:364px;height:45px;--g:#fff 0,#bfb7e2 1px,#9486cf 2px,#7e6ec5 3px,#3e26a8 4px,#3e26a8 12px,#3e26a8 43px,#bfb7e2 44px,#fff 45px"></i><i style="top:359px;height:50px;--g:#fff 0,#eae7f5 1px,#bfb7e2 2px,#7e6ec5 3px,#533eb2 4px,#3e26a8 5px,#3e26a8 9px,#3e26a8 48px,#9486cf 49px,#fff 50px"></i><i style="top:354px;height:55px;--g:#fff 0,#eae7f5 1px,#3e26a8 5px,#3e26a8 13px,#3e26a8 53px,#7e6ec5 54px,#fff 55px"></i><i style="top:350px;height:59px;--g:#fff 0,#533eb2 4px,#3e26a8 5px,#3e26a8 16px,#3e26a8 57px,#7e6ec5 58px,#fff 59px"></i><i style="top:345px;height:64px;--g:#fff 0,#eae7f5 1px,#3e26a8 5px,#3e26a8 62px,#7e6ec5 63px,#fff 64px"></i><i style="top:341px;height:68px;--g:#fff 0,#bfb7e2 1px,#a99fd8 2px,#7e6ec5 3px,#3e26a8 4px,#3e26a8 14px,#3e26a8 66px,#7e6ec5 67px,#fff 68px"></i><i style="top:336px;height:73px;--g:#fff 0,#eae7f5 1px,#bfb7e2 2px,#7e6ec5 3px,#533eb2 4px,#3e26a8 5px,#3e26a8 6px,#3e26a8 71px,#7e6ec5 72px,#fff 73px"></i><i style="top:331px;height:78px;--g:#fff 0,#eae7f5 1px,#bfb7e2 2px,#a99fd8 3px,#7e6ec5 4px,#3e26a8 5px,#3e26a8 8px,#3e26a8 76px,#7e6ec5 77px,#fff 78px"></i><i style="top:327px;height:82px;--g:#fff 0,#eae7f5 1px,#bfb7e2 2px,#7e6ec5 3px,#533eb2 4px,#3e26a8 5px,#3e26a8 7px,#3e26a8 80px,#7e6ec5 81px,#fff 82px"></i><i style="top:322px;height:87px;--g:#fff 0,#eae7f5 1px,#bfb7e2 2px,#7e6ec5 3px,#6956bb 4px,#3e26a8 5px,#3e26a8 27px,#3e26a8 85px,#7e6ec5 86px,#fff 87px"></i><i style="top:318px;height:91px;--g:#fff 0,#bfb7e2 1px,#a99fd8 2px,#533eb2 4px,#3e26a8 5px,#3e26a8 12px,#3e26a8 89px,#7e6ec5 90px,#fff 91px"></i><i style="top:313px;height:96px;--g:#fff 0,#eae7f5 1px,#bfb7e2 2px,#7e6ec5 3px,#6956bb 4px,#3e26a8 5px,#3e26a8 26px,#3e26a8 94px,#533eb2 95px,#fff 96px"></i><i style="top:308px;height:101px;--g:#fff 0,#eae7f5 1px,#9486cf 3px,#7e6ec5 4px,#3e26a8 5px,#3e26a8 9px,#3e26a8 100px,#fff 101px"></i><i style="top:304px;height:105px;--g:#fff 0,#d4cfec 1px,#bfb7e2 2px,#7e6ec5 3px,#533eb2 4px,#3e26a8 5px,#3e26a8 11px,#3e26a8 104px,#fff 105px"></i><i style="top:299px;height:110px;--g:#fff 0,#d4cfec 1px,#bfb7e2 2px,#7e6ec5 3px,#6956bb 4px,#3e26a8 5px,#3e26a8 9px,#3e26a8 109px,#fff 110px"></i><i style="top:295px;height:114px;--g:#fff 0,#bfb7e2 1px,#a99fd8 2px,#533eb2 4px,#3e26a8 5px,#3e26a8 6px,#3e26a8 113px,#fff 114px"></i><i style="top:290px;height:119px;--g:#fff 0,#d4cfec 1px,#bfb7e2 2px,#7e6ec5 3px,#6956bb 4px,#3e26a8 5px,#3e26a8 118px,#fff 119px"></i><i style="top:286px;height:123px;--g:#fff 0,#bfb7e2 1px,#9486cf 2px,#7e6ec5 3px,#3e26a8 4px,#3e26a8 14px,#3e26a8 122px,#fff 123px"></i><i style="top:282px;height:127px;--g:#fff 0,#d4cfec 1px,#7e6ec5 2px,#533eb2 3px,#3e26a8 4px,#3e26a8 10px,#3e26a8 126px,#fff 127px"></i><i style="top:282px;height:127px;--g:#fff 0,#7e6ec5 1px,#3e26a8 2px,#3e26a8 10px,#3e26a8 126px,#fff 127px"></i><i style="top:282px;height:127px;--g:#fff 0,#7e6ec5 1px,#3e26a8 2px,#3e26a8 10px,#3e26a8 126px,#fff 127px"></i><i style="top:282px;height:128px;--g:#fff 0,#bfb7e2 1px,#3e26a8 2px,#3e26a8 126px,#d4cfec 127px,#fff 128px"></i><i style="top:282px;height:128px;--g:#fff 0,#bfb7e2 1px,#3e26a8 2px,#3e26a8 126px,#bfb7e2 127px,#fff 128px"></i><i style="top:282px;height:128px;--g:#fff 0,#bfb7e2 1px,#3e26a9 2px,#3e26a9 3px,#3e26a8 126px,#bfb7e2 127px,#fff 128px"></i><i style="top:282px;height:128px;--g:#fff 0,#7e6fc7 1px,#3e27aa 2px,#3e26a8 5px,#3e26a8 126px,#bfb7e2 127px,#fff 128px"></i><i style="top:280px;height:130px;--g:#fff 0,#c0b9ea 1px,#3f29af 3px,#3e26a8 9px,#3e26a8 128px,#bfb7e2 129px,#fff 130px"></i><i style="top:269px;height:141px;--g:#fff 0,#d4dfff 1px,#c0cdfe 2px,#c2c4fb 6px,#8588f4 7px,#847fec 9px,#5b51e0 10px,#4536d3 11px,#3f29b2 16px,#3e27ab 18px,#3e26a8 27px,#3e26a8 139px,#bfb7e2 140px,#fff 141px"></i><i style="top:226px;height:184px;--g:#fff 0,#fefee6 1px,#fcf9b5 2px,#ffe8be 9px,#eeeab7 13px,#ddedc2 18px,#d6eec7 19px,#b1e3a9 20px,#96dda0 21px,#8ddda8 22px,#5bd2d6 30px,#5dcce1 33px,#49c0e1 34px,#1ca9de 35px,#2f84f9 42px,#46f 47px,#4845eb 53px,#4433cd 57px,#3e28ad 62px,#3e26a8 70px,#3e26a8 182px,#bfb7e2 183px,#fff 184px"></i><i style="top:210px;height:200px;--g:#fff 0,#feffe5 1px,#fcfd7d 2px,#fafb2f 3px,#f9fb15 4px,#f9fb15 17px,#f5e526 20px,#fcce31 23px,#fdbd3d 26px,#dbbc2a 30px,#b7c530 33px,#6ccd68 38px,#47cb88 41px,#29c4a8 45px,#02b9c8 49px,#1daade 53px,#2f86f7 60px,#4268ff 65px,#4951f4 69px,#4638d9 74px,#412cba 78px,#3e28ac 81px,#3e26a8 88px,#3e26a8 198px,#bfb7e2 199px,#fff 200px"></i><i style="top:212px;height:198px;--g:#fff 0,#feffe5 1px,#fafb15 3px,#f8fc15 17px,#fcbf3c 26px,#f2ba36 28px,#d2bf29 31px,#adc836 34px,#48cc87 41px,#06bbc3 49px,#05b7cb 50px,#1cabdd 53px,#2d88f6 60px,#416aff 65px,#4948ee 71px,#422fc4 77px,#3e28ac 81px,#3e26a8 89px,#3e26a8 196px,#bfb7e2 197px,#fff 198px"></i><i style="top:214px;height:196px;--g:#fff 0,#fcfd97 2px,#fafb2f 3px,#f9fb15 4px,#f8fa17 18px,#fbba3e 27px,#e0bc2b 30px,#bdc32e 33px,#a3c93e 35px,#4ecd81 41px,#13bdbc 48px,#02b9c9 50px,#1fa8e0 54px,#2f84f8 61px,#46f 66px,#494aef 71px,#4537d5 75px,#412cb8 79px,#3e28ac 82px,#3e26a8 89px,#3e26a8 194px,#bfb7e2 195px,#fff 196px"></i><i style="top:217px;height:193px;--g:#fff 0,#fcfd97 1px,#fafc49 2px,#f9fb15 3px,#f8fb16 17px,#fcc339 25px,#f9bb3b 27px,#d8bd28 30px,#b7c532 33px,#7acd5d 37px,#3ec992 42px,#03bac8 49px,#20a6e2 54px,#3180fa 61px,#4368ff 65px,#494cf1 70px,#4434d0 75px,#3e27ab 81px,#3e26a8 88px,#3e26a8 191px,#7e6ec5 192px,#fff 193px"></i><i style="top:219px;height:191px;--g:#fff 0,#fefecb 1px,#fbfc63 2px,#f9fb15 3px,#f8fc16 17px,#fcb93f 27px,#dcbd29 30px,#b8c430 33px,#7fcc59 37px,#42cb8d 42px,#07bac6 49px,#0bb4d2 51px,#20a6e1 54px,#2f83f9 61px,#4269ff 65px,#4948ee 71px,#4435d2 75px,#3e28ac 81px,#3e26a8 89px,#3e26a8 189px,#7e6ec5 190px,#fff 191px"></i><i style="top:221px;height:189px;--g:#fff 0,#feffe5 1px,#fafc14 3px,#f8fa17 18px,#fcc03b 26px,#f6bb3a 28px,#e1bc2b 30px,#bdc32e 33px,#a3c93e 35px,#4dcd82 41px,#08bbc3 49px,#06b7ca 50px,#1ea9df 54px,#2f84f8 61px,#416bff 65px,#4945eb 72px,#4537d5 75px,#3f28ad 81px,#3e26a8 89px,#3e26a8 187px,#7e6ec5 188px,#fff 189px"></i><i style="top:224px;height:186px;--g:#fff 0,#fafb2f 2px,#f9fb15 3px,#f8fb16 17px,#fbc23a 25px,#f7ba3a 27px,#dabd29 30px,#b3c731 33px,#47cd88 41px,#04b9c9 49px,#20a5e2 54px,#2e86f7 60px,#4368ff 65px,#4946ec 71px,#4331c8 76px,#3e28ab 81px,#3e26a8 88px,#3e26a8 184px,#7e6ec5 185px,#fff 186px"></i><i style="top:226px;height:184px;--g:#fff 0,#fefecb 1px,#fafc49 2px,#f9fb15 3px,#f8fc15 17px,#fbc638 25px,#f8bb3b 27px,#eaba31 29px,#d0bf29 31px,#bac42f 33px,#7ecc5a 37px,#4bcc85 41px,#06bac6 49px,#0bb4d1 51px,#20a7e1 54px,#327dfc 62px,#436aff 65px,#4949ee 71px,#4535d3 75px,#3f28ae 80px,#3e26a8 89px,#3e26a8 182px,#7e6ec5 183px,#fff 184px"></i><i style="top:228px;height:182px;--g:#fff 0,#feffe5 1px,#fafc14 3px,#f8fa17 18px,#fcc03b 26px,#f6ba39 28px,#d5be28 31px,#b1c734 34px,#5bcd76 40px,#44cb8c 42px,#08bbc2 49px,#06b8c8 50px,#1ea8df 54px,#2d89f5 60px,#406cff 65px,#494aef 71px,#4536d5 75px,#3f2ab2 80px,#3e27a9 84px,#3e26a8 89px,#3e26a8 180px,#7e6ec5 181px,#fff 182px"></i><i style="top:231px;height:179px;--g:#fff 0,#fafb2f 2px,#f9fb15 3px,#f8fc15 17px,#fcc836 24px,#f9ba3c 27px,#e3bc2c 29px,#c2c22c 32px,#9bc945 35px,#6ccc68 38px,#48cc87 41px,#03bac9 49px,#21a5e2 54px,#2e86f7 60px,#4468ff 65px,#4840e6 72px,#3e27ad 80px,#3e26a8 88px,#3e26a8 177px,#7e6ec5 178px,#fff 179px"></i><i style="top:233px;height:177px;--g:#fff 0,#fefecb 1px,#fbfc63 2px,#f9fb15 3px,#f9fa16 18px,#f7e029 21px,#fec537 25px,#fabb3c 27px,#ddbc2b 30px,#b8c62f 33px,#4bcd84 41px,#04bac6 49px,#1fa7e1 54px,#3083f9 61px,#4369ff 65px,#4943e9 72px,#4332ca 76px,#3e28ac 81px,#3e26a8 89px,#3e26a8 175px,#7e6ec5 176px,#fff 177px"></i><i style="top:235px;height:175px;--g:#fff 0,#feffe5 1px,#fcfd97 2px,#fafb2f 3px,#f9fb15 4px,#f8fa17 18px,#fcba3e 27px,#d7bd29 31px,#aec835 34px,#43cc8b 42px,#08bbc1 49px,#06b9c7 50px,#1ea8e0 54px,#327ffb 62px,#416cff 65px,#494ff3 70px,#4537d6 75px,#412cb8 79px,#3e26a9 82px,#3e26a8 173px,#7e6ec5 174px,#fff 175px"></i><i style="top:237px;height:173px;--g:#fff 0,#feffe5 1px,#fdfeb1 2px,#fafb2f 3px,#f9fb15 4px,#f8fb16 18px,#fcbc3d 27px,#dabc29 31px,#b5c631 34px,#51ce7f 41px,#03bac8 50px,#18afda 53px,#3281fa 62px,#416dff 65px,#4947ed 72px,#4538d7 75px,#3f28ad 81px,#3e26a8 90px,#3e26a8 171px,#7e6ec5 172px,#fff 173px"></i><i style="top:240px;height:170px;--g:#fff 0,#fdfeb1 1px,#fafc49 2px,#f9fb15 3px,#f9fb15 17px,#f5e923 20px,#fec438 25px,#fabb3b 27px,#d4be29 31px,#b9c52f 33px,#56ce7b 40px,#05bbc7 49px,#0bb4d2 51px,#20a7e1 54px,#2f82f9 61px,#436aff 65px,#4942e9 72px,#3f28af 80px,#3e26a8 88px,#3e26a8 169px,#fff 170px"></i><i style="top:242px;height:168px;--g:#fff 0,#feffe5 1px,#fcfd7d 2px,#fafb2f 3px,#f9fb15 4px,#f8fc15 17px,#fbbb3d 27px,#d6bd28 31px,#afc734 34px,#4ecd82 41px,#08bbc1 49px,#05b8c9 50px,#1ea9e0 54px,#327ffb 62px,#426cff 65px,#4943eb 72px,#3f28b1 80px,#3e27aa 83px,#3e26a8 89px,#3e26a8 167px,#fff 168px"></i><i style="top:244px;height:166px;--g:#fff 0,#feffe5 1px,#fdfeb1 2px,#fafb2f 3px,#f9fb15 4px,#f9fb15 18px,#f6e625 21px,#fec338 26px,#f6ba3a 28px,#dcbd2a 31px,#c1c22d 33px,#99ca45 36px,#5ecc73 40px,#49cb88 42px,#03bac8 50px,#1caade 54px,#2e87f7 61px,#4367ff 66px,#4947ec 72px,#4434d0 76px,#3f28ae 81px,#3e26a8 89px,#3e26a8 165px,#fff 166px"></i><i style="top:247px;height:163px;--g:#fff 0,#fefecb 1px,#fbfc63 2px,#f9fb15 3px,#f7f917 18px,#fcc439 25px,#fabb3b 27px,#d3be28 31px,#b8c431 33px,#a0c941 35px,#56cd7a 40px,#30c6a0 44px,#24c2ac 46px,#05bac5 49px,#06b7cb 50px,#1cacdd 53px,#3083f9 61px,#4269ff 65px,#494ef2 70px,#4639da 74px,#402bb6 79px,#3e28ac 81px,#3e26a8 89px,#3e26a8 162px,#fff 163px"></i><i style="top:249px;height:161px;--g:#fff 0,#feffe5 1px,#fcfd97 2px,#f9fb15 3px,#f9fb15 17px,#f5f31d 19px,#fdc537 25px,#f6b939 28px,#d7be29 31px,#bdc52c 33px,#4ecd81 41px,#07bac2 49px,#05b8c9 50px,#1ea9e0 54px,#2f84f8 61px,#4465ff 66px,#484aef 71px,#4433ce 76px,#3e28ac 81px,#3e26a8 89px,#3e26a8 160px,#fff 161px"></i><i style="top:252px;height:158px;--g:#fff 0,#fcfd97 1px,#fafc49 2px,#f9fb15 3px,#f7fb16 17px,#fcbc3d 26px,#dbbc29 30px,#b4c731 33px,#46cd88 41px,#05b9c7 49px,#0fb2d5 51px,#24a1e5 55px,#3081fa 61px,#4467ff 65px,#4947ec 71px,#4434cf 75px,#3f28ae 80px,#3e26a8 88px,#3e26a8 157px,#fff 158px"></i><i style="top:254px;height:156px;--g:#fff 0,#fdfeb1 1px,#fafc49 2px,#f9fb15 3px,#f9fc15 17px,#f5e823 20px,#fec537 25px,#f9bb3a 27px,#d3be28 31px,#b6c532 33px,#a0c941 35px,#64cd6f 39px,#42ca8f 42px,#10bdbd 48px,#05b7cc 50px,#1fa7e1 54px,#2d88f6 60px,#426aff 65px,#4942e9 72px,#3f28ae 80px,#3e26a8 88px,#3e26a8 155px,#fff 156px"></i><i style="top:256px;height:154px;--g:#fff 0,#feffe5 1px,#fcfd97 2px,#f9fb15 3px,#f8fa17 18px,#fcba3e 27px,#d7bd28 31px,#bdc42e 33px,#79cd5d 38px,#4ecc82 41px,#08bbc1 49px,#05b8c8 50px,#1ea8e0 54px,#2f84f8 61px,#416cff 65px,#494aef 71px,#4433ce 76px,#3f29b0 80px,#3e26a8 89px,#3e26a8 153px,#fff 154px"></i><i style="top:259px;height:151px;--g:#fff 0,#fcfd97 1px,#fafc49 2px,#f9fb15 3px,#f9fb15 17px,#f5e625 20px,#fec835 24px,#f8ba3b 27px,#dabd29 30px,#c2c32d 32px,#a5c93c 34px,#47cc88 41px,#03bac7 49px,#1caadf 53px,#3181fa 61px,#406eff 64px,#494cf1 70px,#4434d0 75px,#3e28ad 80px,#3e26a8 88px,#3e26a8 150px,#fff 151px"></i><i style="top:261px;height:149px;--g:#fff 0,#feffe5 1px,#f9fb15 3px,#f9fb15 17px,#f5e923 20px,#fec438 25px,#f3ba39 28px,#ddbd29 30px,#bac42f 33px,#7fcc58 37px,#41cb8f 42px,#07bbc5 49px,#0ab3d2 51px,#20a7e1 54px,#2f83f9 61px,#4269ff 65px,#4949ee 71px,#4639d9 74px,#3f28ae 80px,#3e26a8 88px,#3e26a8 148px,#fff 149px"></i><i style="top:264px;height:147px;--g:#fff 0,#fcfd7d 1px,#fafb2f 2px,#f9fb15 3px,#f8fa16 17px,#fcc03b 25px,#f5ba38 27px,#d6be29 30px,#bfc42d 32px,#77cd5f 37px,#45cb8b 41px,#12bebb 47px,#03b8c9 49px,#1ea8e0 53px,#2f84f8 60px,#416cff 64px,#4944eb 71px,#3f28b1 79px,#3e27aa 82px,#3e26a8 88px,#3e26a8 145px,#bfb7e2 146px,#fff 147px"></i><i style="top:266px;height:145px;--g:#fff 0,#fefecb 1px,#fbfc63 2px,#f9fb15 3px,#f9fb15 17px,#f6e625 20px,#fec238 25px,#f7ba3a 27px,#dbbd29 30px,#b5c631 33px,#52ce7f 40px,#03bac8 49px,#1caade 53px,#2c8cf4 59px,#4368ff 65px,#4840e6 72px,#3f29b3 79px,#3e27aa 82px,#3e26a8 88px,#3e26a8 143px,#bfb7e2 144px,#fff 145px"></i><i style="top:268px;height:143px;--g:#fff 0,#feffe5 1px,#fcfd97 2px,#f9fb15 3px,#f9fb15 17px,#f5e923 20px,#fec437 25px,#f9bb3c 27px,#debc2a 30px,#bac62f 33px,#56ce79 40px,#33c69f 44px,#04bbc5 49px,#1ea7e2 54px,#337dfc 62px,#426bff 65px,#4946ef 71px,#3f27af 80px,#3e26a8 88px,#3e26a8 141px,#bfb7e2 142px,#fff 143px"></i><i style="top:271px;height:140px;--g:#fff 0,#fcfd97 1px,#fafc49 2px,#f9fb15 3px,#f8fa17 17px,#fcba3e 26px,#ecbb32 28px,#d4be2a 30px,#bfc52b 32px,#4dcd81 40px,#08bbc1 48px,#05b8c9 49px,#22a4e3 54px,#2e84f8 60px,#416cff 64px,#4944eb 71px,#3f28b0 79px,#3e26a8 87px,#3e26a8 138px,#bfb7e2 139px,#fff 140px"></i><i style="top:273px;height:138px;--g:#fff 0,#feffe5 1px,#fbfc63 2px,#f9fb15 3px,#f7fb16 17px,#fcbc3d 26px,#dbbc2a 30px,#c4c429 32px,#5ece72 39px,#35c79a 43px,#20c1b0 46px,#00b9c7 49px,#1daade 53px,#2e86f7 60px,#4368ff 65px,#4945ec 71px,#4028b3 79px,#3e27aa 82px,#3e26a8 88px,#3e26a8 136px,#bfb7e2 137px,#fff 138px"></i><i style="top:276px;height:135px;--g:#fff 0,#fcfd97 1px,#fafc49 2px,#f9fb15 3px,#f8fc15 16px,#fcc538 24px,#fabb3a 26px,#d3be29 30px,#b9c62e 32px,#4acd85 40px,#06b9c5 48px,#05b7cb 49px,#23a2e4 54px,#3082f9 60px,#426aff 64px,#4948ee 70px,#4536d3 74px,#3f28ae 79px,#3e26a8 87px,#3e26a8 133px,#bfb7e2 134px,#fff 135px"></i><i style="top:278px;height:133px;--g:#fff 0,#fdfeb1 1px,#fafc49 2px,#f9fb15 3px,#f8fa17 17px,#fdba3e 26px,#d7be29 30px,#bbc430 32px,#a2ca3e 34px,#43cc8a 41px,#1ec0b1 46px,#10bdbb 47px,#03b9c9 49px,#1ea8e0 53px,#2f85f8 60px,#46f 65px,#483fe5 72px,#412dbe 77px,#3f29ae 80px,#3e26a8 84px,#3e26a8 131px,#bfb7e2 132px,#fff 133px"></i><i style="top:280px;height:131px;--g:#fff 0,#feffe5 1px,#fcfd97 2px,#fafb2f 3px,#f9fb15 4px,#f9fb15 17px,#f6e824 20px,#fec139 25px,#f7ba3a 27px,#dbbd29 30px,#b7c531 33px,#7bcc5c 37px,#48cb88 41px,#04bac7 49px,#1caade 53px,#3181fa 61px,#4369ff 65px,#4945ed 71px,#4028b3 79px,#3e27aa 82px,#3e26a8 87px,#3e26a8 129px,#bfb7e2 130px,#fff 131px"></i><i style="top:283px;height:128px;--g:#fff 0,#d3ceb8 1px,#bbb446 2px,#f9fb15 3px,#f9fb15 16px,#f5e923 19px,#fec537 24px,#f9ba3a 26px,#d4be28 30px,#b8c431 32px,#9fc842 34px,#8bcb51 35px,#69cc6a 38px,#41ca8f 41px,#02b8cb 49px,#1cacdd 52px,#337dfc 61px,#426aff 64px,#4942e9 71px,#402ab5 78px,#3e27ab 81px,#3e26a8 87px,#3e26a8 126px,#bfb7e2 127px,#fff 128px"></i><i style="top:283px;height:128px;--g:#fff 0,#eae7f5 1px,#3e26a8 2px,#3e26a8 3px,#918567 4px,#cfcc36 5px,#f9fb15 6px,#f9fb15 19px,#f5e525 22px,#fec537 26px,#f6ba39 29px,#d8be29 32px,#bfc32d 34px,#92cb4a 37px,#45cb8a 43px,#07bac3 50px,#06b8c8 51px,#22a4e3 56px,#327ffb 63px,#46f 67px,#483fe5 74px,#3f28b0 81px,#3e26a8 89px,#3e26a8 126px,#a99fd8 127px,#fff 128px"></i><i style="top:284px;height:127px;--g:#fff 0,#3e26a8 1px,#3e26a8 4px,#685587 5px,#a69c56 6px,#f9fb15 7px,#f9fb15 20px,#f5e724 23px,#fec735 27px,#f9bb3b 30px,#dbbd2a 33px,#c0c32c 35px,#8ecb4e 39px,#7bcc5d 40px,#46cb88 44px,#2ac4a8 48px,#0abcc0 51px,#05b9c7 52px,#20a6e2 57px,#2e86f7 63px,#4268ff 68px,#4946ed 74px,#412bbb 81px,#3f29af 83px,#3e26a8 87px,#3e26a8 125px,#7e6ec5 126px,#fff 127px"></i><i style="top:284px;height:127px;--g:#fff 0,#3e26a8 1px,#3e26a8 7px,#918567 8px,#cfcc36 9px,#f9fb15 10px,#f8fa16 23px,#f6e029 26px,#fec636 30px,#f9bb3b 32px,#d4be27 36px,#aec736 39px,#56cd79 45px,#32c69f 49px,#07bac4 54px,#06b8ca 55px,#1fa7e1 59px,#3083f9 66px,#426aff 70px,#4948ef 76px,#412cbd 83px,#3e28ad 86px,#3e26a8 89px,#3e26a8 125px,#7e6ec5 126px,#fff 127px"></i><i style="top:284px;height:127px;--g:#fff 0,#3e26a8 1px,#3e26a8 9px,#533e98 10px,#918567 11px,#e4e325 12px,#f9fb15 13px,#f9fb15 25px,#f5e426 28px,#fdcc33 31px,#f8b93b 35px,#d5be28 38px,#b3c732 41px,#4fcd81 48px,#12bebb 55px,#02b9c7 57px,#19aedc 60px,#327ffa 69px,#416cff 72px,#4945ec 79px,#412dbf 85px,#3f29af 88px,#3e26a8 91px,#3e26a8 125px,#7e6ec5 126px,#fff 127px"></i><i style="top:284px;height:127px;--g:#fff 0,#3e26a8 1px,#3e26a8 12px,#685587 13px,#bbb446 14px,#e4e325 15px,#f9fb15 16px,#f7fc15 27px,#fcc339 35px,#f7bb3a 37px,#ddbd2b 40px,#c1c22d 42px,#a7c93b 44px,#48cc87 51px,#04bac7 59px,#1cabde 63px,#347cfd 72px,#4368ff 75px,#4946ee 81px,#4029b4 89px,#3e26a8 94px,#3e26a8 125px,#7e6ec5 126px,#fff 127px"></i><i style="top:284px;height:127px;--g:#fff 0,#3e26a8 1px,#3e26a8 15px,#918567 16px,#bbb446 17px,#f9fb15 18px,#f8fc16 29px,#fbba3e 39px,#debc2b 42px,#bcc52c 45px,#57ce79 52px,#0fbdbe 60px,#02b8c9 62px,#1bacdc 65px,#3083f9 73px,#416bff 77px,#4948f0 83px,#4029b6 91px,#3e26a8 96px,#3e26a8 125px,#7e6ec5 126px,#fff 127px"></i><i style="top:284px;height:127px;--g:#fff 0,#3e26a8 1px,#3e26a8 17px,#533e98 18px,#cfcc36 20px,#f9fb15 21px,#f7fa17 32px,#fcbb3e 41px,#d9bd29 45px,#b3c732 48px,#4ecd81 55px,#03b9ca 64px,#21a5e3 69px,#3180fa 76px,#416dff 79px,#4946ed 86px,#4330c7 91px,#3f29ae 95px,#3e26a9 98px,#3e26a9 125px,#7e6ec6 126px,#fff 127px"></i><i style="top:284px;height:127px;--g:#fff 0,#3e26a8 1px,#3e26a8 20px,#533e98 21px,#cfcc36 23px,#f9fb15 24px,#f9fb15 34px,#f5e824 37px,#ffc339 42px,#f0ba36 45px,#d9bd2a 47px,#c3c22c 49px,#9ec942 52px,#7ecc5a 54px,#49cc87 58px,#07bac6 66px,#0ab3d2 68px,#1dabdd 70px,#3082f9 78px,#4369ff 82px,#4942e9 89px,#412cbb 95px,#3f28ad 98px,#3e26a9 101px,#3e26a9 125px,#7e6ec6 126px,#fff 127px"></i><i style="top:284px;height:127px;--g:#fff 0,#3e26a8 1px,#3e26a8 23px,#533e98 24px,#cfcc36 26px,#f9fb15 27px,#f7f917 37px,#fcc538 44px,#f4ba38 47px,#d4be28 50px,#bfc42c 52px,#66cd6d 58px,#4dcc83 60px,#08bbc2 68px,#05b7ca 69px,#1fa8e0 73px,#2f84f8 80px,#416bff 84px,#4944eb 91px,#412cbd 97px,#3f2ab1 99px,#3e26a9 103px,#3e27a9 125px,#7e6fc6 126px,#fff 127px"></i><i style="top:284px;height:127px;--g:#fff 0,#3e26a8 1px,#3e26a8 27px,#918567 28px,#bbb446 29px,#f9fb15 30px,#f7fb16 39px,#fdc13b 47px,#efba35 50px,#d6bf29 52px,#c1c22d 54px,#a7c83c 56px,#6acd6a 60px,#48cb86 63px,#2fc5a3 66px,#04bac6 71px,#18aedb 74px,#2f86f8 82px,#4168ff 87px,#4851f4 91px,#463cdf 95px,#412cba 100px,#3e27aa 103px,#3e27a9 125px,#7e6fc6 126px,#fff 127px"></i><i style="top:284px;height:127px;--g:#fff 0,#7e6ec5 1px,#3e26a8 2px,#3e26a8 30px,#7c6d77 31px,#a69c56 32px,#e4e325 33px,#f9fb15 34px,#f7f818 42px,#fcc339 49px,#f8bb3b 51px,#dcbd2b 54px,#d6be2a 55px,#bac430 57px,#80cc58 61px,#40ca8e 66px,#23c2ae 70px,#04bac4 73px,#0ab4d2 75px,#1fa7e0 78px,#337efc 86px,#436aff 89px,#4944ea 96px,#4333cc 100px,#3e27ab 105px,#3e27aa 125px,#7e6fc6 126px,#fff 127px"></i><i style="top:284px;height:127px;--g:#fff 0,#7e6ec5 1px,#3e26a8 2px,#3e26a8 33px,#533e98 34px,#918567 35px,#bbb446 36px,#f9fb15 37px,#f9fb15 43px,#f6f31d 45px,#fec03b 52px,#edba34 55px,#d6be29 57px,#bbc430 59px,#a6c83d 61px,#76cc61 64px,#4ecc81 67px,#26c3ab 72px,#07bbc1 75px,#06b8c8 76px,#1da9df 80px,#2c8af5 86px,#4267ff 92px,#494bf0 97px,#4538d8 101px,#422fc0 104px,#3e27ab 108px,#3e27ab 125px,#7e6fc7 126px,#fff 127px"></i><i style="top:284px;height:127px;--g:#fff 0,#7e6ec5 1px,#3e26a8 2px,#3e26a8 37px,#7c6d77 38px,#a69c56 39px,#e4e325 40px,#f9fb15 41px,#f7fb17 46px,#fcc23a 54px,#f9bb3b 56px,#dbbd29 59px,#b6c532 62px,#adc638 63px,#62cd70 68px,#4acc87 70px,#05bac7 78px,#0bb2d3 80px,#1dabdd 82px,#3083f9 90px,#426aff 94px,#4949ef 100px,#4432cc 105px,#3e28ad 110px,#3e28ac 125px,#7f70c8 126px,#fff 127px"></i><i style="top:284px;height:127px;--g:#fff 0,#7e6ec5 1px,#3e26a8 2px,#3e26a9 40px,#533e99 41px,#7c6d78 42px,#bbb446 43px,#e4e325 44px,#f9fb15 45px,#f6f818 49px,#fdc538 56px,#f4ba38 59px,#d5be29 62px,#bec52c 64px,#4ecd81 72px,#09bbc1 80px,#05b9c7 81px,#22a4e3 86px,#2e85f8 92px,#4367ff 97px,#4851f4 101px,#463cdf 105px,#412dbc 110px,#3f29af 113px,#3f29af 125px,#bfb7e4 126px,#fff 127px"></i><i style="top:284px;height:126px;--g:#fff 0,#7e6ec5 1px,#3e26a8 2px,#3e26a9 45px,#7c6d78 46px,#918567 47px,#cfcc36 48px,#f9fb15 49px,#f6f41c 52px,#fdc13a 59px,#f0b936 62px,#d8bd29 64px,#b8c62e 67px,#53cd7d 74px,#06bac5 83px,#06b6cd 84px,#1cabdd 87px,#3083f9 95px,#426aff 99px,#4949ef 105px,#4330c7 111px,#3f2ab1 116px,#402bb4 124px,#5542bc 125px,#fff 126px"></i><i style="top:284px;height:126px;--g:#fff 0,#7e6ec5 1px,#3e26a8 2px,#3e27a9 49px,#685688 50px,#7c6e78 51px,#bbb446 52px,#e4e326 53px,#f7f41b 54px,#febf3b 62px,#ebba33 65px,#d4bf29 67px,#bac430 69px,#94ca4a 72px,#74cc62 74px,#43cb8b 78px,#27c3ab 82px,#09bbc1 85px,#06b8c7 86px,#20a5e4 91px,#3c6fff 101px,#4952f6 106px,#4536d5 112px,#412cb9 117px,#422ebe 122px,#4230c2 123px,#6c5dcd 124px,#d5d0f0 125px,#fff 126px"></i><i style="top:284px;height:124px;--g:#fff 0,#7e6ec5 1px,#3e26a8 2px,#3e27a9 54px,#67548a 55px,#7b6a7b 56px,#b8ab4f 57px,#b9a651 58px,#f6e028 59px,#fdc239 64px,#fbbd3c 65px,#eeba33 67px,#d0bf29 70px,#b8c62f 72px,#49cd84 80px,#22c1b0 85px,#0cbdbd 87px,#04b7cb 89px,#1da9e1 93px,#3a73ff 103px,#4956f8 108px,#4537d8 115px,#4435ce 117px,#453cdb 121px,#fff 124px"></i><i style="top:284px;height:122px;--g:#fff 0,#7e6ec5 1px,#3e26a8 2px,#3e27aa 60px,#7c6380 61px,#7c6180 62px,#bc9958 63px,#bd965a 64px,#e8b742 65px,#fdc338 66px,#f3ba38 69px,#d5be29 72px,#bdc32e 74px,#88cc52 78px,#48cc88 83px,#04bac7 91px,#1bacde 95px,#3679fe 105px,#4367fe 108px,#4853f5 112px,#4551f0 115px,#4754f5 118px,#c2c1f8 120px,#ebeafc 121px,#fff 122px"></i><i style="top:284px;height:118px;--g:#fff 0,#7e6ec6 1px,#3e26a9 2px,#3e27ac 66px,#694a92 67px,#7d5a87 68px,#7d5987 69px,#b98a61 70px,#b4895d 71px,#c39a4c 72px,#e1bc2c 73px,#cec028 75px,#abc838 78px,#4dcd83 85px,#04bac8 94px,#1fa6e2 99px,#3084f8 106px,#3975fc 110px,#347afc 112px,#3e6ffe 114px,#5878fd 115px,#98a7fd 116px,#c2c8fd 117px,#fff 118px"></i><i style="top:284px;height:115px;--g:#fff 0,#7e6ec6 1px,#3e26a9 2px,#3f29af 74px,#5039a0 75px,#6e5b83 76px,#675d87 78px,#8c925f 79px,#7b946b 81px,#7ca766 82px,#84cb56 83px,#46cb88 88px,#24c2ae 93px,#07bbc1 96px,#04b8c9 97px,#20a5e3 102px,#2d89f5 110px,#5d9efa 111px,#77a7fd 112px,#bdd1ff 113px,#eaefff 114px,#fff 115px"></i><i style="top:284px;height:110px;--g:#fff 0,#7e6ec6 1px,#3e26a9 2px,#3e27ac 58px,#412cb9 85px,#443eb2 86px,#4962a5 87px,#4062b0 90px,#3a95a6 91px,#2f92b5 94px,#20b0b5 95px,#13beb9 96px,#00bac6 98px,#19abde 102px,#23a0e5 106px,#259ae8 107px,#2e8bf0 108px,#90b5f9 109px,#fff 110px"></i><i style="top:284px;height:110px;--g:#fff 0,#bfb7e2 1px,#3e27a9 2px,#3f29b0 69px,#422ec0 86px,#4538d6 98px,#3855d7 99px,#3264da 100px,#3564dc 101px,#2e7ce0 102px,#2b87e2 103px,#2b87e4 104px,#1fa6e2 105px,#249de7 107px,#3186f3 108px,#a6c5fb 109px,#fff 110px"></i><i style="top:284px;height:115px;--g:#fff 0,#bfb7e2 1px,#3e27a9 2px,#3e27aa 32px,#402bb4 69px,#4331c7 85px,#4638d9 94px,#4852f5 105px,#3088ef 107px,#2b91ed 108px,#2c8cf3 110px,#74aefa 111px,#8db8fd 112px,#e9efff 114px,#fff 115px"></i><i style="top:284px;height:119px;--g:#fff 0,#bfb7e2 1px,#3e27a9 2px,#3e26a8 4px,#3f29b0 53px,#412dbc 70px,#4433cd 83px,#473fe3 93px,#4857f8 102px,#4269fe 108px,#3778fa 111px,#3579fd 113px,#3a73fe 114px,#567cfe 115px,#adb6fc 117px,#fff 119px"></i><i style="top:284px;height:122px;--g:#fff 0,#bfb7e3 1px,#3e27aa 2px,#3e27a9 7px,#3f29b1 51px,#43c 78px,#473cdf 86px,#4856f7 98px,#4467fe 106px,#4758f7 117px,#4850f2 119px,#fff 122px"></i><i style="top:284px;height:125px;--g:#fff 0,#bfb7e3 1px,#3e27aa 2px,#3e27aa 10px,#402bb4 50px,#4433cd 72px,#473de1 82px,#4854f6 93px,#4564fd 103px,#4757f8 111px,#473cdf 119px,#463bdb 122px,#837be5 123px,#eae8fa 124px,#fff 125px"></i><i style="top:284px;height:126px;--g:#fff 0,#bfb7e3 1px,#3e27ab 2px,#402ab3 41px,#4331c8 63px,#473de1 77px,#4855f7 90px,#4660fb 97px,#465dfa 104px,#4850f2 110px,#473fe3 115px,#412cb9 122px,#412cb9 123px,#4230c4 124px,#968bdc 125px,#fff 126px"></i><i style="top:284px;height:127px;--g:#fff 0,#a99fda 1px,#3e27ac 2px,#3e27ac 3px,#402bb4 36px,#4432cc 60px,#484bf1 81px,#465ffb 93px,#475af8 101px,#484df1 107px,#4538d8 114px,#3f28ad 122px,#3e27ab 123px,#402bb7 124px,#402bb6 125px,#9589d6 126px,#fff 127px"></i><i style="top:284px;height:127px;--g:#fff 0,#7e70c8 1px,#3e28ad 2px,#402bb5 31px,#4330c9 52px,#484ef4 79px,#465ffb 92px,#4847ec 106px,#4537d6 111px,#402bb5 117px,#3f29b0 126px,#fff 127px"></i><i style="top:284px;height:128px;--g:#fff 0,#7f70c9 1px,#3f28ae 2px,#402bb6 26px,#4433ce 50px,#484aef 70px,#475cfa 88px,#4850f3 97px,#4743e7 103px,#4536d4 108px,#402bb5 113px,#422ebf 117px,#3f29b1 121px,#402ab2 123px,#3e28ad 125px,#3f28ad 126px,#d4cfed 127px,#fff 128px"></i><i style="top:284px;height:128px;--g:#fff 0,#7f70ca 1px,#3f29af 2px,#412dba 26px,#4434d1 46px,#484cf1 68px,#475bf9 82px,#484aee 96px,#4638d9 103px,#402ab4 110px,#4331c7 114px,#3f29b1 120px,#402ab3 122px,#3e27aa 124px,#3e27ab 126px,#bfb7e3 127px,#fff 128px"></i><i style="top:284px;height:128px;--g:#fff 0,#6a59c3 1px,#3f2ab2 2px,#412dbc 22px,#4534d2 41px,#484bf0 62px,#475af9 78px,#4845ea 94px,#4432cc 102px,#402bb5 106px,#43c 112px,#3f29b1 118px,#402bb5 120px,#3e27a9 124px,#3e27aa 126px,#bfb7e3 127px,#fff 128px"></i><i style="top:284px;height:128px;--g:#fff 0,#402ab4 1px,#422fc0 21px,#4536d6 38px,#484cf0 58px,#4757f7 73px,#4850f2 82px,#4741e6 91px,#4029b4 103px,#4435cf 108px,#4330c5 112px,#3f29b1 116px,#402bb5 119px,#3e27a9 125px,#3e27a9 126px,#a99fd9 127px,#fff 128px"></i><i style="top:283px;height:129px;--g:#fff 0,#d5d0ef 1px,#402bb7 2px,#4535d3 32px,#484bf0 54px,#4757f7 70px,#4743e8 87px,#4536d3 93px,#3f2ab2 100px,#4434ce 105px,#4435d1 107px,#4330c5 111px,#3f29b0 115px,#412cba 118px,#3f28ae 121px,#3e27a9 126px,#3e27a9 127px,#7e6fc6 128px,#fff 129px"></i><i style="top:283px;height:129px;--g:#fff 0,#aba2e1 1px,#412dbb 2px,#4537d6 29px,#484aef 48px,#4855f6 66px,#4745e9 81px,#4639d9 87px,#402ab3 96px,#402cb9 98px,#4434cf 101px,#4536d3 103px,#4433cd 107px,#3f2ab2 112px,#412dbb 116px,#3f29ae 120px,#3e26a9 127px,#7e6ec6 128px,#fff 129px"></i><i style="top:283px;height:129px;--g:#fff 0,#6c5dcd 1px,#422ebf 2px,#4537d6 23px,#484aef 44px,#4854f6 61px,#4742e6 78px,#4536d4 84px,#3f29b1 92px,#402cb7 94px,#4434cf 97px,#4537d6 100px,#4332ca 105px,#3f29b1 110px,#412ebe 114px,#3f29b0 118px,#3e26a9 127px,#7e6ec6 128px,#fff 129px"></i><i style="top:282px;height:130px;--g:#fff 0,#eae8f8 1px,#4230c3 2px,#4849ef 40px,#4854f5 58px,#473fe4 76px,#4028b2 89px,#402cb8 91px,#4536d4 95px,#4537d6 98px,#4535d2 101px,#402ab3 108px,#3f2ab1 109px,#422fc2 112px,#3f29b1 117px,#3f29b0 120px,#3e26a9 127px,#3e26a8 128px,#7e6ec5 129px,#fff 130px"></i><i style="top:282px;height:130px;--g:#fff 0,#978de1 1px,#4332c9 2px,#4849ef 35px,#4852f4 55px,#4740e4 70px,#4435d0 77px,#3f29b0 85px,#4435d2 91px,#4538d7 94px,#4434cf 99px,#3f29b0 106px,#4230c3 110px,#3f29b1 115px,#3f2ab2 118px,#3e26a8 127px,#3e26a8 128px,#7e6ec5 129px,#fff 130px"></i><i style="top:282px;height:130px;--g:#fff 0,#594bd4 1px,#4435d0 2px,#484aee 30px,#4851f3 50px,#4742e6 64px,#4537d5 71px,#3f28af 81px,#4434cd 86px,#4539d9 91px,#4434cf 96px,#3f29b1 103px,#4330c5 108px,#3f29b0 113px,#402bb5 116px,#3f29ae 119px,#3e26a8 127px,#3e26a8 128px,#7e6ec5 129px,#fff 130px"></i><i style="top:281px;height:131px;--g:#fff 0,#aca6ec 1px,#4537d5 2px,#484bf0 29px,#4850f3 45px,#473fe3 62px,#4331c8 71px,#3f29b1 77px,#402ab4 79px,#4536d3 84px,#4539d8 88px,#4535d2 93px,#3f29b0 101px,#422fc2 105px,#4230c5 107px,#3f29b0 112px,#402bb7 115px,#3f29ae 119px,#3e26a9 128px,#3e26a8 129px,#7e6ec5 130px,#fff 131px"></i><i style="top:281px;height:131px;--g:#fff 0,#463ada 1px,#484cf0 24px,#484ef0 44px,#4740e5 56px,#4029b2 73px,#402bb5 75px,#4536d4 80px,#4539d9 85px,#4435d1 90px,#3f29b0 98px,#4230c3 102px,#4331c7 104px,#3f29b0 110px,#412cb9 113px,#3f28ae 117px,#3f29af 119px,#3e26a8 128px,#3e26a8 129px,#533eb2 130px,#fff 131px"></i><i style="top:280px;height:132px;--g:#fff 0,#ada9f1 1px,#463de0 2px,#484df1 24px,#484cf0 40px,#473de1 54px,#4029b3 69px,#3f2ab1 71px,#4536d4 77px,#453ada 81px,#4434d0 88px,#3f28af 96px,#422ebf 99px,#4332c9 102px,#3f29b0 109px,#412cba 112px,#3f28ae 117px,#3f29b0 119px,#3e26a8 128px,#3e26a8 131px,#fff 132px"></i><i style="top:279px;height:133px;--g:#fff 0,#ebeafc 1px,#4740e4 2px,#484df1 22px,#484cef 35px,#473fe3 49px,#3f28b2 66px,#402ab3 68px,#4535d1 73px,#453ada 78px,#4536d4 84px,#3f28af 94px,#422ec0 97px,#4332ca 100px,#3f29af 108px,#412dbc 111px,#3f28ae 116px,#3f29b1 118px,#3e26a7 130px,#3e26a8 132px,#fff 133px"></i><i style="top:279px;height:133px;--g:#fff 0,#9997f2 1px,#4744e8 2px,#484ef1 23px,#4745e9 38px,#4638d8 49px,#3f28ae 62px,#4537d5 70px,#4539da 75px,#4434d0 82px,#3f28af 90px,#4330c5 95px,#4332ca 98px,#3f29b0 105px,#412dbd 109px,#3f28ae 114px,#402ab4 116px,#3f28ae 119px,#3e26a8 130px,#3e26a8 132px,#fff 133px"></i><i style="top:279px;height:133px;--g:#fff 0,#5b5bec 1px,#4747eb 2px,#484df0 18px,#4743e7 35px,#4536d5 45px,#3f28af 57px,#402ab3 59px,#4537d6 66px,#4539da 71px,#4536d3 77px,#3f28af 87px,#4230c2 91px,#4332ca 94px,#422fc2 98px,#3f28af 103px,#412ebf 107px,#3f28ae 112px,#402bb5 115px,#3f28ae 118px,#3e26a8 129px,#3e26a8 132px,#fff 133px"></i><i style="top:278px;height:134px;--g:#fff 0,#c2c2f9 1px,#4749ec 2px,#484bef 20px,#4740e4 33px,#4537d5 41px,#3f28ad 54px,#4536d3 62px,#453ada 68px,#4435d1 75px,#3f28ae 85px,#4230c5 89px,#4332cb 92px,#422ebf 97px,#3f28ae 101px,#422ec0 106px,#3f28ae 111px,#402bb6 114px,#3f29af 117px,#3e26a8 130px,#3e26a8 133px,#fff 134px"></i><i style="top:278px;height:134px;--g:#fff 0,#c2c3f9 1px,#484aee 2px,#4742e6 27px,#4537d7 35px,#3f28ad 49px,#4435d0 57px,#463adb 64px,#4434cf 72px,#3f2ab2 80px,#3f29b0 82px,#4230c3 85px,#4333cb 89px,#422fc0 94px,#3f28ae 98px,#422fc0 103px,#3f28ae 109px,#402bb7 112px,#3f29b0 115px,#3e26a8 130px,#3e26a8 133px,#fff 134px"></i><i style="top:278px;height:134px;--g:#fff 0,#c2c3f9 1px,#484aee 2px,#473fe4 24px,#3f27ae 45px,#4537d5 54px,#453ada 60px,#4435d2 67px,#3f29b0 77px,#3f2ab3 79px,#4330c5 82px,#4333cc 85px,#4230c4 90px,#3f28ad 96px,#422fc2 100px,#3f28ae 107px,#402cb8 110px,#3f28ad 114px,#3f29b0 116px,#3e26a8 130px,#3e26a8 133px,#fff 134px"></i><i style="top:278px;height:134px;--g:#fff 0,#d6d7fb 1px,#4849ed 2px,#4742e6 15px,#463adb 23px,#3f28b0 39px,#402ab3 42px,#4536d4 49px,#463adb 56px,#4434cf 64px,#3f28ad 74px,#4331c7 79px,#4434cd 83px,#3f29af 93px,#4230c3 98px,#3f28ae 104px,#402cb8 108px,#3f28af 112px,#3f29b0 115px,#3e26a8 130px,#3e26a8 133px,#fff 134px"></i><i style="top:279px;height:133px;--g:#fff 0,#7070ef 1px,#4746ea 2px,#4538d7 19px,#3f29af 33px,#4029b2 36px,#4536d5 44px,#463ada 50px,#4535d2 58px,#3f28ae 69px,#4332c8 75px,#4433cd 78px,#422fc0 84px,#3e28ad 89px,#422ebf 93px,#422fc2 95px,#3f28ae 101px,#412cba 105px,#3f28ae 109px,#402ab3 112px,#3f28ae 115px,#3e26a8 129px,#3e26a8 132px,#fff 133px"></i><i style="top:279px;height:134px;--g:#fff 0,#ebeafd 1px,#5b58e9 2px,#4742e5 3px,#4535d2 16px,#3e28ad 29px,#3f29b1 31px,#4537d6 40px,#453ada 46px,#4434d0 55px,#3f28af 65px,#3f2ab3 67px,#4332c8 71px,#43c 75px,#4331c7 79px,#3f28af 85px,#4230c4 92px,#3f29af 98px,#412cba 103px,#3f28ae 107px,#402ab4 110px,#3f28ae 113px,#3e26a8 128px,#3e26a8 132px,#d4cfec 133px,#fff 134px"></i><i style="top:280px;height:133px;--g:#fff 0,#ebeafc 1px,#5b52e2 2px,#463cdd 3px,#4536d4 9px,#3f28ae 23px,#402ab3 26px,#4435d2 33px,#453adb 41px,#4433cd 51px,#3f28ae 60px,#3f2ab2 62px,#4332ca 67px,#4433cd 70px,#4230c3 76px,#3f29af 81px,#3f29b0 83px,#422fc0 86px,#4230c4 88px,#3f29af 95px,#412dbb 99px,#3f28ae 104px,#402bb4 107px,#3e28ad 111px,#3f29af 113px,#3e26a8 127px,#3e26a8 131px,#bfb7e2 132px,#fff 133px"></i><i style="top:281px;height:132px;--g:#fff 0,#eae9fb 1px,#6e64df 2px,#4535d2 3px,#3e27ac 18px,#4536d3 28px,#463adb 36px,#4435d1 44px,#3f28ad 56px,#4331c6 61px,#4434ce 65px,#4331c7 70px,#3f28ae 78px,#4331c6 84px,#3f28ae 92px,#412ebd 96px,#3f28ae 101px,#402bb5 104px,#3f28ad 108px,#3f29af 110px,#3e26a8 126px,#3e26a8 130px,#bfb7e2 131px,#fff 132px"></i><i style="top:283px;height:130px;--g:#fff 0,#aca4e7 1px,#4330c4 2px,#3e27ac 11px,#4537d7 23px,#453ada 30px,#43c 40px,#3e28ae 49px,#3f29b1 51px,#4332c9 56px,#4434cd 60px,#4331c7 65px,#3f28ae 72px,#4331c6 79px,#3f28af 87px,#412ebd 92px,#3f28ad 97px,#402bb6 101px,#3f28ad 104px,#3f29af 107px,#3e26a8 124px,#3e26a8 128px,#bfb7e2 129px,#fff 130px"></i><i style="top:284px;height:129px;--g:#fff 0,#c0b9e8 1px,#5542bc 2px,#3f29b1 3px,#3f28ad 6px,#4435d1 15px,#453adb 23px,#4434ce 34px,#3f28ac 45px,#4331c8 51px,#4434ce 55px,#4230c3 62px,#3f28ad 68px,#4331c7 75px,#3f28ae 84px,#412ebe 88px,#3f28ae 94px,#402bb7 98px,#3f28ad 101px,#3f2ab2 104px,#3f28ae 107px,#3e26a8 123px,#3e26a8 127px,#bfb7e2 128px,#fff 129px"></i><i style="top:284px;height:129px;--g:#fff 0,#eae7f7 1px,#5441b9 2px,#402ab3 3px,#4536d2 11px,#453ada 19px,#4535d2 28px,#3f28af 40px,#3f29b0 42px,#4333cb 48px,#4434cd 52px,#4331c7 57px,#3e28ad 65px,#412ebe 69px,#4331c6 72px,#3f28ae 81px,#412ebf 86px,#3f28ad 92px,#402cb8 95px,#3f28ad 100px,#402ab3 102px,#3f28ae 105px,#3e26a9 122px,#3e26a8 127px,#bfb7e2 128px,#fff 129px"></i><i style="top:283px;height:130px;--g:#fff 0,#c0baeb 1px,#5746c8 2px,#422fc3 3px,#4537d5 9px,#453ada 16px,#4434cf 26px,#3f28ae 37px,#3f29b1 39px,#4332ca 45px,#4434ce 49px,#4331c5 55px,#3f28ad 63px,#4230c3 68px,#4331c7 70px,#3f28af 79px,#412ebf 85px,#3e28ac 91px,#402cb9 94px,#3f28ad 99px,#402ab3 102px,#3f28ae 105px,#3e26a8 124px,#3e26a8 128px,#bfb7e2 129px,#fff 130px"></i><i style="top:282px;height:131px;--g:#fff 0,#eae8fa 1px,#584ad2 2px,#4434cf 3px,#4539d9 10px,#4537d6 19px,#3f28ad 35px,#4332ca 42px,#4434ce 46px,#4332c9 51px,#3f28ad 60px,#422fc0 65px,#4331c7 68px,#3f28af 77px,#412ebf 83px,#3f28ad 89px,#402cb9 93px,#3f28ad 98px,#402ab4 101px,#3e28ac 104px,#3f29af 106px,#3e26a8 124px,#3e26a8 129px,#bfb7e2 130px,#fff 131px"></i><i style="top:282px;height:131px;--g:#fff 0,#5a4dd9 1px,#4537d6 2px,#4539d9 8px,#4536d4 16px,#3e28ad 30px,#4332c9 38px,#4434cf 42px,#4331c8 48px,#3f28ad 57px,#422fc2 62px,#4331c8 65px,#3f28ae 74px,#422ec0 80px,#3f28ae 87px,#412cba 91px,#3e28ac 96px,#402bb5 99px,#3e28ad 102px,#3f29af 105px,#3e26a8 124px,#3e26a8 129px,#bfb7e2 130px,#fff 131px"></i><i style="top:282px;height:131px;--g:#fff 0,#4539d8 1px,#4537d6 10px,#3f28ad 26px,#4331c6 33px,#4434cf 39px,#4331c6 45px,#3f28ad 53px,#422ebf 58px,#4331c7 62px,#3f28ae 72px,#422fc1 77px,#3f28ae 84px,#412cba 89px,#3e28ac 94px,#402bb5 97px,#3e28ac 101px,#3f29af 103px,#3e26a8 124px,#3e26a8 129px,#bfb7e2 130px,#fff 131px"></i><i style="top:282px;height:131px;--g:#fff 0,#4539d8 1px,#4434cd 10px,#3e27ac 22px,#4332c9 30px,#4434cf 35px,#4331c7 41px,#3e28ac 50px,#422fc2 55px,#4331c7 58px,#412dbd 64px,#3e28ad 68px,#422fc1 75px,#3f28ad 82px,#412dbb 87px,#3e28ac 92px,#402bb6 95px,#3e28ad 99px,#3f29af 102px,#3e26a8 124px,#3e26a8 129px,#7e6ec5 130px,#fff 131px"></i><i style="top:282px;height:131px;--g:#fff 0,#aca6ec 1px,#4536d3 2px,#3e27ac 18px,#4331c7 25px,#4435d0 31px,#4331c5 38px,#3e28ac 46px,#4230c3 52px,#4331c7 56px,#3f28ae 66px,#422fc2 72px,#3f28ad 79px,#412dbb 84px,#3e28ad 89px,#402bb6 93px,#3f28ad 97px,#3f2ab2 100px,#3f28ae 103px,#3e26a9 123px,#3e26a8 129px,#7e6ec5 130px,#fff 131px"></i><i style="top:283px;height:130px;--g:#fff 0,#8277dc 1px,#4331c7 2px,#3e27ac 12px,#4332c9 21px,#4435cf 26px,#4230c4 34px,#3f28ae 41px,#3f29b0 43px,#422fc2 47px,#4332c8 51px,#3f28ae 62px,#422fc2 68px,#3e28ad 76px,#412dbc 80px,#3f28ae 86px,#402bb7 90px,#3e28ad 94px,#3f2ab2 97px,#3f28ae 100px,#3e26a9 122px,#3e26a8 128px,#7e6ec5 129px,#fff 130px"></i><i style="top:284px;height:129px;--g:#fff 0,#aba2e3 1px,#412cbb 2px,#3e28ac 8px,#4332c8 15px,#4435cf 21px,#4331c6 28px,#3e27ac 37px,#422ec0 42px,#4332c9 46px,#3f28ae 58px,#4230c3 64px,#3f28ad 72px,#412dbc 77px,#3e28ad 83px,#402bb8 87px,#3e28ac 91px,#402ab3 94px,#3e28ac 98px,#3f28ae 100px,#3e26a8 121px,#3e26a8 127px,#7e6ec5 128px,#fff 129px"></i><i style="top:285px;height:128px;--g:#fff 0,#aaa0db 1px,#3e28ad 2px,#4333cb 11px,#4435cf 16px,#4230c4 24px,#3e28ac 32px,#4332c9 41px,#422ebf 47px,#3e28ad 53px,#422fc2 60px,#3f28ad 69px,#412ebd 74px,#3e28ac 80px,#402cb8 84px,#3e28ac 88px,#402ab4 91px,#3e28ac 95px,#3f29b1 97px,#3e28ad 100px,#3e26a8 120px,#3e26a8 126px,#7e6ec5 127px,#fff 128px"></i><i style="top:284px;height:129px;--g:#fff 0,#eae8f7 1px,#5543bf 2px,#412dba 3px,#4332c9 7px,#4435cf 13px,#4331c7 20px,#3e28ad 29px,#4332c9 39px,#412ebf 45px,#3e28ac 51px,#4330c4 58px,#3f28ae 66px,#412dbd 72px,#3f28ad 78px,#402cb8 83px,#3e28ac 87px,#402ab4 91px,#3e28ac 94px,#3f29af 97px,#3e26a8 121px,#3e26a8 127px,#7e6ec5 128px,#fff 129px"></i><i style="top:283px;height:130px;--g:#fff 0,#eae8f9 1px,#5747ca 2px,#4331c5 3px,#4434cd 7px,#4434ce 13px,#3f28ad 27px,#422ec0 32px,#4332ca 37px,#3f28ae 49px,#4330c4 56px,#3f28ae 65px,#412ebe 71px,#3e28ac 77px,#402cb9 81px,#3e28ac 86px,#402ab5 89px,#3f28ad 93px,#3f29b1 96px,#3f28ad 99px,#3e26a8 122px,#3e26a8 128px,#7e6ec5 129px,#fff 130px"></i><i style="top:283px;height:130px;--g:#fff 0,#6d60d7 1px,#43c 2px,#4433cd 10px,#3f29af 22px,#3f28ad 24px,#422fc0 28px,#4332c8 33px,#422fc2 38px,#3f28ad 45px,#4330c4 53px,#3f28ad 62px,#412ebe 68px,#3f28ad 74px,#402cb9 79px,#3e28ac 84px,#402bb5 87px,#3e28ac 92px,#3f2ab2 94px,#3f28ae 97px,#3e26a8 122px,#3e26a8 128px,#7e6ec5 129px,#fff 130px"></i><i style="top:283px;height:130px;--g:#fff 0,#4434ce 1px,#4330c5 10px,#3e27ab 19px,#4230c4 26px,#4432ca 30px,#3e28ad 42px,#412cba 46px,#4330c4 50px,#3f28ad 59px,#412ebe 65px,#3f28ad 72px,#412cb9 77px,#3e27ac 82px,#402bb6 85px,#3e27ac 90px,#3f2ab2 92px,#3e28ac 96px,#3f28ae 98px,#3e26a8 122px,#3e26a8 128px,#7e6ec5 129px,#fff 130px"></i><i style="top:283px;height:130px;--g:#fff 0,#978ee3 1px,#4433cb 2px,#3e27ac 16px,#4230c4 22px,#4331c8 26px,#422fc2 31px,#3e28ac 39px,#4330c5 46px,#3f28ad 56px,#412ebe 62px,#3f28ad 69px,#412cb9 74px,#3e28ac 80px,#402bb6 83px,#3e28ac 88px,#3f2ab3 91px,#3e28ac 94px,#3f28ae 97px,#3e26a8 121px,#3e26a8 128px,#7e6ec5 129px,#fff 130px"></i><i style="top:284px;height:129px;--g:#fff 0,#5747cb 1px,#422fc1 2px,#3e27ab 10px,#4230c2 17px,#4331c8 21px,#422fc1 27px,#3e28ac 34px,#4330c5 42px,#3f28ad 52px,#412ebf 58px,#3f28ad 66px,#412dba 71px,#3e28ac 76px,#402bb6 80px,#3e28ac 85px,#402ab3 88px,#3e28ac 91px,#3f28ae 94px,#3e26a8 120px,#3e26a8 128px,#fff 129px"></i><i style="top:284px;height:129px;--g:#fff 0,#eae8f8 1px,#8072d0 2px,#402bb4 3px,#3e27ac 7px,#422fc3 13px,#4331c8 18px,#422ec0 24px,#3e27ac 31px,#422fc0 37px,#4230c4 40px,#3f28ad 49px,#422ebf 56px,#3e28ac 63px,#412dba 68px,#3e28ac 74px,#402bb6 78px,#3e28ac 83px,#402ab4 86px,#3e28ac 89px,#3f29b0 92px,#3f28ad 95px,#3e26a9 120px,#3e26a8 128px,#fff 129px"></i><i style="top:285px;height:128px;--g:#fff 0,#eae7f6 1px,#5440b6 2px,#3f28af 3px,#422fc2 8px,#4432cb 13px,#3e28ad 27px,#422ebf 32px,#4330c5 35px,#3f28ae 45px,#412ebf 52px,#3e28ad 60px,#412dbb 65px,#3e28ac 71px,#402bb7 75px,#3e28ac 80px,#402ab4 83px,#3e27ac 87px,#3f29af 89px,#3e26a8 119px,#3e26a8 127px,#fff 128px"></i><i style="top:284px;height:129px;--g:#fff 0,#eae8f7 1px,#5643c0 2px,#412dbb 3px,#4332c9 11px,#422ec0 17px,#3e28ac 23px,#4330c5 33px,#3f28ad 43px,#422ec0 50px,#3f28ad 58px,#412dbb 64px,#3e28ac 69px,#402bb7 74px,#3e28ac 79px,#402ab5 82px,#3e28ac 86px,#3f29b1 89px,#3f28ad 92px,#3e26a9 119px,#3e26a8 128px,#fff 129px"></i><i style="top:284px;height:129px;--g:#fff 0,#8175d7 1px,#4230c3 2px,#4332c9 9px,#3e28ac 20px,#412ebd 26px,#4230c4 30px,#3f28ad 40px,#422fc0 47px,#3f28ad 55px,#412dbb 61px,#3e28ac 67px,#402cb8 71px,#3e28ad 76px,#402ab4 80px,#3e28ac 84px,#3f29b1 87px,#3f28ae 90px,#3e26a8 120px,#3e26a8 128px,#fff 129px"></i><i style="top:284px;height:129px;--g:#fff 0,#4331c7 1px,#4331c7 6px,#3f28ad 17px,#4331c6 26px,#3f28ad 37px,#422fc0 44px,#3e28ac 53px,#412dbd 58px,#3e28ac 64px,#402bb8 69px,#3e28ac 74px,#402ab5 78px,#3e28ac 82px,#3f2ab2 85px,#3e27ac 89px,#3f28ae 91px,#3e26a8 119px,#3e26a8 128px,#fff 129px"></i><i style="top:284px;height:129px;--g:#fff 0,#5848cd 1px,#4331c5 2px,#3e28ac 13px,#422fc0 20px,#4330c5 23px,#3f28ad 34px,#422fc1 41px,#3e28ac 50px,#412dbd 55px,#3e28ad 62px,#402cb8 67px,#3e27ac 72px,#402bb5 76px,#3e27ac 80px,#3f2ab2 83px,#3e27ac 87px,#3f29b1 89px,#3e28ad 92px,#3e26a9 119px,#3e26a8 128px,#fff 129px"></i><i style="top:284px;height:129px;--g:#fff 0,#aba3e4 1px,#422ebf 2px,#3e27ab 10px,#422fc0 16px,#4330c5 20px,#3f28ad 30px,#422fc0 38px,#3e28ad 47px,#412dbc 53px,#3e27ab 60px,#402cb9 64px,#3e28ac 70px,#402bb6 74px,#3e27ab 78px,#402ab3 81px,#3e28ac 85px,#3f28ae 88px,#3e26a8 119px,#3e26a8 128px,#fff 129px"></i><i style="top:285px;height:128px;--g:#fff 0,#c0b9e7 1px,#402ab3 2px,#3e28ac 6px,#422ebf 11px,#4331c5 15px,#3f28ad 26px,#422fc1 34px,#3e28ad 43px,#412ebd 49px,#3e28ac 56px,#402cb9 61px,#3e28ac 67px,#402bb6 71px,#3e27ab 75px,#402ab3 78px,#3e28ac 82px,#3f29b1 85px,#3e27ab 88px,#3f28ad 90px,#3e26a8 117px,#3e26a8 127px,#fff 128px"></i><i style="top:286px;height:127px;--g:#fff 0,#6958bf 1px,#3f29af 2px,#422ebe 6px,#4331c6 10px,#3f28ad 22px,#422fc1 30px,#3e28ac 39px,#412ebd 45px,#3e28ac 53px,#412dba 57px,#3e28ac 63px,#402bb6 67px,#3e28ac 72px,#402ab4 76px,#3e27ab 79px,#3f29b1 82px,#3e28ac 85px,#3f28ad 88px,#3e26a8 117px,#3e26a8 126px,#fff 127px"></i><i style="top:285px;height:129px;--g:#fff 0,#958ad7 1px,#412cba 2px,#4330c5 9px,#3e27ab 20px,#412cba 24px,#422fc1 28px,#3e28ac 37px,#412ebd 43px,#3e28ac 51px,#402cba 56px,#3e27ac 62px,#402bb7 66px,#3e28ac 71px,#402ab4 75px,#3e27ab 78px,#3f29b1 81px,#3f28ad 85px,#3e26a9 117px,#3e26a8 127px,#bfb7e2 128px,#fff 129px"></i><i style="top:284px;height:130px;--g:#fff 0,#c0baea 1px,#422fc0 2px,#4230c3 8px,#3e28ac 17px,#422fc2 25px,#3e28ad 35px,#412ebe 42px,#3e27ac 49px,#412cb9 54px,#3e28ac 61px,#402bb7 65px,#3e27ab 70px,#402ab4 73px,#3e28ac 78px,#3f29b1 81px,#3f28ae 84px,#3e26a9 118px,#3e26a8 128px,#bfb7e2 129px,#fff 130px"></i><i style="top:284px;height:130px;--g:#fff 0,#aba3e4 1px,#4230c3 2px,#3e28ad 14px,#422fc2 22px,#3e28ac 32px,#412ebe 38px,#3f28ad 46px,#412cba 52px,#3e28ac 58px,#402bb7 63px,#3e27ab 68px,#402ab4 71px,#3e28ac 76px,#3f2ab2 79px,#3e28ac 82px,#3f28ae 85px,#3e26a8 118px,#3e26a8 128px,#bfb7e2 129px,#fff 130px"></i><i style="top:284px;height:130px;--g:#fff 0,#d5d1f1 1px,#422ec0 2px,#3e28ac 10px,#422fc2 19px,#3e28ac 29px,#422ebe 36px,#3e28ac 44px,#412dbb 49px,#3e28ac 56px,#402bb7 60px,#3e27ac 66px,#402ab5 69px,#3e27ab 74px,#3f2ab3 77px,#3e27ab 80px,#3f29b0 83px,#3e28ad 86px,#3e26a9 118px,#3e26a8 128px,#bfb7e2 129px,#fff 130px"></i><i style="top:285px;height:129px;--g:#fff 0,#aaa1e0 1px,#402bb7 2px,#3e27ab 6px,#422fc3 14px,#3f28ad 24px,#412ebd 32px,#3e28ac 40px,#412dbb 46px,#3e27ac 52px,#402cb7 57px,#3e28ac 62px,#402ab5 66px,#3e27ac 71px,#3f2ab3 74px,#3e27ac 77px,#3f28ae 80px,#3e26a8 117px,#3e26a8 127px,#bfb7e2 128px,#fff 129px"></i><i style="top:286px;height:128px;--g:#fff 0,#7f70c8 1px,#3e28ac 2px,#422ebe 8px,#422fc1 11px,#3e28ac 21px,#422ebe 28px,#3e28ac 36px,#412dba 42px,#3e28ac 49px,#402cb8 54px,#3e27ab 59px,#402bb5 63px,#3e28ac 68px,#3f2ab3 71px,#3e27ac 75px,#3f29b0 78px,#3f28ad 81px,#3e26a9 115px,#3e26a8 126px,#bfb7e2 127px,#fff 128px"></i><i style="top:285px;height:129px;--g:#fff 0,#eae7f7 1px,#402ab3 2px,#422fc2 8px,#3e28ac 19px,#422ebf 25px,#3e28ad 34px,#412dbb 40px,#3e28ac 47px,#402bb8 52px,#3e28ac 58px,#402bb6 62px,#3e27ac 66px,#402ab3 70px,#3e27ab 74px,#3f29b1 77px,#3e28ac 80px,#3f28ad 83px,#3e26a8 116px,#3e26a8 127px,#bfb7e2 128px,#fff 129px"></i><i style="top:285px;height:129px;--g:#fff 0,#5645c4 1px,#412ebe 2px,#422ebe 8px,#3e28ac 15px,#422ebf 23px,#3e28ac 31px,#412dbb 38px,#3e27ab 45px,#402cb9 49px,#3e28ac 55px,#402bb6 60px,#3e27ac 64px,#402ab3 68px,#3e27ab 72px,#3f29b1 75px,#3f28ad 78px,#3e26a9 116px,#3e26a8 127px,#bfb7e2 128px,#fff 129px"></i><i style="top:285px;height:129px;--g:#fff 0,#422ec0 1px,#3e28ac 12px,#412ebe 19px,#3f28ad 29px,#412dbc 35px,#3e28ac 42px,#402cb8 47px,#3e28ac 53px,#402bb6 58px,#3e27ab 62px,#402ab4 66px,#3e27ab 70px,#3f29b2 73px,#3e27ab 77px,#3f28ae 79px,#3e26a8 116px,#3e26a8 127px,#bfb7e2 128px,#fff 129px"></i><i style="top:285px;height:129px;--g:#fff 0,#6c5ccc 1px,#412dbc 2px,#3e28ac 9px,#422ebf 17px,#3e28ac 26px,#412dbc 32px,#3e28ac 40px,#412cb9 45px,#3e27ab 50px,#402bb6 55px,#3e27ac 60px,#402ab4 64px,#3e27ab 68px,#3f2ab2 71px,#3e27ab 75px,#3f28ae 77px,#3e26a8 115px,#3e26a8 127px,#a99fd8 128px,#fff 129px"></i><i style="top:285px;height:129px;--g:#fff 0,#eae8f7 1px,#402ab5 2px,#3e28ac 6px,#422ec0 14px,#3e28ac 22px,#412dbb 29px,#3e28ac 37px,#402cb9 42px,#3e27ac 48px,#402bb6 53px,#3e27ac 58px,#402ab4 62px,#3e27ab 66px,#3f2ab2 69px,#3e27ab 73px,#3f29b0 76px,#3f28ad 79px,#3e26a9 115px,#3e26a8 127px,#7e6ec5 128px,#fff 129px"></i><i style="top:286px;height:128px;--g:#fff 0,#d4cfec 1px,#3e28ac 2px,#422ec0 9px,#3e28ac 19px,#412dbc 25px,#3e28ac 33px,#402cb9 39px,#3e27ab 45px,#402bb6 50px,#3e27ab 55px,#402ab5 59px,#3e27ab 63px,#3f2ab3 66px,#3e27ab 70px,#3f29b0 73px,#3e28ad 76px,#3e26a9 114px,#3e26a8 126px,#7e6ec5 127px,#fff 128px"></i><i style="top:285px;height:129px;--g:#fff 0,#eae7f7 1px,#5542bc 2px,#402bb6 3px,#412ebe 8px,#3e27ac 17px,#412dbd 23px,#3e28ac 31px,#402cb9 37px,#3e27ac 43px,#402bb7 48px,#3e28ac 53px,#402ab4 58px,#3e27ab 62px,#3f2ab3 65px,#3e27ab 69px,#3f29b0 72px,#3f28ad 75px,#3e26a9 115px,#3e26a8 127px,#7e6ec5 128px,#fff 129px"></i><i style="top:285px;height:129px;--g:#fff 0,#aba2e1 1px,#412dbc 2px,#412cba 8px,#3e27ab 14px,#412dbc 20px,#3e27ac 29px,#402dba 34px,#3e28ac 41px,#402cb7 46px,#3e27ab 51px,#402ab5 55px,#3e27ab 60px,#3f2ab3 63px,#3e27ab 67px,#3f29b1 70px,#3e27ab 74px,#3f28ad 76px,#3e26a8 115px,#3e26a8 127px,#7e6ec5 128px,#fff 129px"></i><i style="top:285px;height:129px;--g:#fff 0,#8073d3 1px,#412dbd 2px,#3e27ab 10px,#412dbc 17px,#3e28ac 26px,#402dba 31px,#3e28ac 38px,#402bb7 43px,#3e27ac 49px,#402ab5 53px,#3e27ab 58px,#3f2ab3 61px,#3e28ac 65px,#3f29b1 69px,#3e28ac 72px,#3f28ad 75px,#3e26a8 114px,#3e26a8 127px,#7e6ec5 128px,#fff 129px"></i><i style="top:285px;height:129px;--g:#fff 0,#d5d0f0 1px,#412cb8 2px,#3e28ac 8px,#412ebd 15px,#3e27ac 23px,#412cba 29px,#3e27ac 36px,#402bb7 41px,#3e27ab 47px,#402bb5 51px,#3e27ab 56px,#402ab3 59px,#3e27ab 64px,#3f29b2 67px,#3e27ab 70px,#3f28ae 73px,#3e26a8 115px,#3e26a8 127px,#7e6ec5 128px,#fff 129px"></i><i style="top:286px;height:128px;--g:#fff 0,#aaa0dc 1px,#3f28ae 2px,#3e28ad 4px,#412ebd 11px,#3e27ab 19px,#412dba 25px,#3e27ac 32px,#402cb8 37px,#3e27ab 43px,#402bb5 47px,#3e27ab 53px,#402ab4 56px,#3e27ab 60px,#3f29b2 64px,#3e27ab 67px,#3f29b0 70px,#3e28ad 73px,#3e26a9 113px,#3e26a8 126px,#7e6ec5 127px,#fff 128px"></i><i style="top:286px;height:128px;--g:#fff 0,#bfb8e4 1px,#3f28ae 2px,#412ebd 8px,#3e27ab 16px,#412dba 22px,#3e28ac 29px,#402bb7 35px,#3e27ab 41px,#402bb6 45px,#3e27ab 50px,#402ab3 54px,#3e27ab 59px,#3f2ab2 62px,#3e28ac 65px,#3f28ae 69px,#3e26a8 113px,#3e26a8 126px,#7e6ec5 127px,#fff 128px"></i><i style="top:285px;height:129px;--g:#fff 0,#eae8f7 1px,#5543be 2px,#412cb9 3px,#412dbb 7px,#3e27ab 14px,#412dba 20px,#3e28ac 28px,#402cb8 33px,#3e27ac 39px,#402bb6 44px,#3e27ab 49px,#402ab4 53px,#3e27ab 57px,#3f2ab2 61px,#3e27ac 65px,#3f28ae 68px,#3e26a8 114px,#3e26a8 127px,#7e6ec5 128px,#fff 129px"></i><i style="top:285px;height:129px;--g:#fff 0,#c0b9e8 1px,#412dbb 2px,#3e28ac 12px,#412dbb 18px,#3e27ac 25px,#402cb8 31px,#3e27ab 37px,#402bb6 42px,#3e27ab 47px,#402ab4 51px,#3e27ab 55px,#3f2ab2 59px,#3e27ab 63px,#3f29b1 66px,#3f28ad 69px,#3e26a9 114px,#3e26a8 127px,#6956bb 128px,#fff 129px"></i><i style="top:285px;height:129px;--g:#fff 0,#eae8f7 1px,#412cb9 2px,#3e27ab 8px,#412dbb 15px,#3e28ac 22px,#402cb8 28px,#3e27ac 34px,#402bb6 39px,#3e27ac 45px,#402ab4 49px,#3e27ab 53px,#3f2ab2 57px,#3e27ab 61px,#3f29af 64px,#3e28ad 73px,#3e26a9 113px,#3e26a8 128px,#fff 129px"></i><i style="top:286px;height:128px;--g:#fff 0,#aaa0dd 1px,#3f29b1 2px,#3e28ac 5px,#412dbb 11px,#3e27ac 19px,#402cb8 25px,#3e27ab 31px,#402bb7 36px,#3e27ab 41px,#402ab4 45px,#3e27ab 50px,#3f2ab3 54px,#3e27ab 58px,#3f29b1 61px,#3e27ab 65px,#3f28ad 67px,#3e26a8 113px,#3e26a8 127px,#fff 128px"></i><i style="top:287px;height:127px;--g:#fff 0,#3e28ac 1px,#412dbb 7px,#3e28ac 15px,#402cb9 21px,#3e27ab 27px,#402bb6 32px,#3e27ab 38px,#402ab5 42px,#3e27ab 47px,#3f2ab3 51px,#3e27ab 55px,#3f29b1 58px,#3e27ac 62px,#3f28ad 65px,#3e26a8 111px,#3e26a8 126px,#fff 127px"></i><i style="top:286px;height:128px;--g:#fff 0,#aaa0dd 1px,#402bb5 2px,#412cb9 7px,#3e27ab 13px,#402cb9 19px,#3e27ab 26px,#402cb7 31px,#3e27ab 36px,#402ab4 41px,#3e27ab 46px,#3f2ab3 50px,#3e27ab 54px,#3f29b2 57px,#3e27ab 61px,#3f29b0 64px,#3e28ad 67px,#3e26a9 112px,#3e26a8 127px,#fff 128px"></i><i style="top:286px;height:128px;--g:#fff 0,#412cb9 1px,#3e28ac 11px,#402cb9 16px,#3e27ab 23px,#402bb7 28px,#3e28ac 34px,#402ab4 39px,#3e27ab 44px,#402ab3 48px,#3e27aa 52px,#3f29b2 55px,#3e27ab 59px,#3f29b0 62px,#3e28ad 65px,#3e26a9 112px,#3e26a8 127px,#fff 128px"></i><i style="top:286px;height:128px;--g:#fff 0,#5643c0 1px,#402bb7 2px,#3e27ab 7px,#402cb9 13px,#3e28ac 20px,#402bb7 26px,#3e27ab 32px,#402bb5 36px,#3e27ab 41px,#402ab3 45px,#3e27ab 50px,#3f29b2 53px,#3e27ab 57px,#3f29af 60px,#3e28ad 64px,#3e26a9 111px,#3e26a8 127px,#fff 128px"></i><i style="top:286px;height:128px;--g:#fff 0,#bfb8e6 1px,#3f29b1 2px,#3e27ac 5px,#402cb9 11px,#3e27ab 18px,#402bb7 23px,#3e27ab 29px,#402bb5 34px,#3e27ab 39px,#402ab4 43px,#3e27ab 48px,#3f2ab2 51px,#3e27ab 55px,#3f29b0 58px,#3f28ad 62px,#3e26a9 112px,#3e26a8 127px,#fff 128px"></i><i style="top:287px;height:127px;--g:#fff 0,#543fb5 1px,#3f28ad 2px,#402cba 7px,#3e27ac 14px,#402bb7 20px,#3e27ab 26px,#402bb5 30px,#3e27ab 36px,#402ab4 40px,#3e27ab 45px,#3f2ab2 48px,#3e27ab 53px,#3f29b1 55px,#3f28ad 59px,#3e26a9 110px,#3e26a8 126px,#fff 127px"></i><i style="top:286px;height:128px;--g:#fff 0,#bfb8e6 1px,#402ab3 2px,#402cb8 7px,#3e27ab 13px,#402cb8 18px,#3e27ab 24px,#402bb5 29px,#3e27ab 35px,#402ab4 39px,#3e27ab 44px,#3f2ab3 47px,#3e27ab 51px,#3f29b1 55px,#3e27ab 58px,#3f28ad 61px,#3e26a8 111px,#3e26a8 127px,#fff 128px"></i><i style="top:286px;height:129px;--g:#fff 0,#8072cf 1px,#402cb8 2px,#3e27ab 10px,#402cb7 15px,#3e27ac 22px,#402bb6 27px,#3e27ab 32px,#402ab4 37px,#3e27ab 42px,#3f2ab3 45px,#3e27ab 49px,#3f29b1 53px,#3e27ab 56px,#3f28ad 59px,#3e26a8 111px,#3e26a8 127px,#d4cfec 128px,#fff 129px"></i><i style="top:286px;height:129px;--g:#fff 0,#958ad7 1px,#402bb6 2px,#3e27ab 7px,#402cb8 13px,#3e27ab 19px,#402bb6 24px,#3e27ab 30px,#402ab4 34px,#3e27ab 39px,#3f2ab2 43px,#3e27ab 47px,#3f29b1 51px,#3e27ab 54px,#3f28ad 57px,#3e26a8 111px,#3e26a8 127px,#bfb7e2 128px,#fff 129px"></i><i style="top:286px;height:129px;--g:#fff 0,#eae7f7 1px,#3f29b0 2px,#3e27ab 5px,#402cb8 10px,#3e27ab 17px,#402bb6 22px,#3e27ab 28px,#402bb4 32px,#3e27ab 37px,#3f2ab3 41px,#3e27ab 45px,#3f29b1 49px,#3e27ab 53px,#3f29b0 56px,#3e28ad 59px,#3e26a9 110px,#3e26a8 127px,#bfb7e2 128px,#fff 129px"></i><i style="top:287px;height:128px;--g:#fff 0,#7e6fc7 1px,#3f28ad 2px,#402cb8 7px,#3e27ab 13px,#402bb6 18px,#3e27ac 24px,#402ab4 29px,#3e27ab 34px,#3f2ab3 38px,#3e27ab 42px,#3f29b1 46px,#3e27ab 50px,#3f29b0 53px,#3e28ad 56px,#3e26a9 110px,#3e26a8 126px,#bfb7e2 127px,#fff 128px"></i><i style="top:286px;height:129px;--g:#fff 0,#d5d0ee 1px,#402ab3 2px,#402bb8 5px,#3e27ab 12px,#402bb6 17px,#3e27ab 23px,#402bb5 27px,#3e27ab 32px,#3f2ab3 36px,#3e27ab 41px,#3f29b1 45px,#3e27ab 49px,#3f28ae 52px,#3e26a8 110px,#3e26a8 127px,#bfb7e2 128px,#fff 129px"></i><i style="top:286px;height:129px;--g:#fff 0,#bfb8e7 1px,#402bb7 2px,#3e28ac 9px,#402bb6 15px,#3e27ab 20px,#402bb5 25px,#3e27ab 30px,#3f2ab3 34px,#3e27ab 39px,#3f29b2 43px,#3e27ab 47px,#3f29af 50px,#3e28ac 60px,#3e28ad 62px,#3e26a8 110px,#3e26a8 127px,#bfb7e2 128px,#fff 129px"></i><i style="top:286px;height:129px;--g:#fff 0,#d5d0ef 1px,#402ab4 2px,#3e27ab 6px,#402bb6 12px,#3e27ab 18px,#402bb5 23px,#3e27ab 28px,#402ab3 32px,#3e27ab 37px,#3f2ab2 41px,#3e27aa 45px,#3f29b1 48px,#3e27ab 51px,#3f29af 55px,#3e28ad 58px,#3e26a9 110px,#3e26a8 127px,#bfb7e2 128px,#fff 129px"></i><i style="top:287px;height:128px;--g:#fff 0,#7f70ca 1px,#3e27ac 2px,#402bb6 8px,#3e27ab 15px,#402bb5 19px,#3e27ab 25px,#402ab4 29px,#3e27ab 34px,#3f2ab2 38px,#3e27aa 42px,#3f29b1 45px,#3e27ab 49px,#3f29b0 52px,#3e28ad 55px,#3e26a9 108px,#3e26a8 126px,#bfb7e2 127px,#fff 128px"></i><i style="top:287px;height:128px;--g:#fff 0,#9488d1 1px,#3f29af 2px,#402bb7 6px,#3e27ab 12px,#402bb5 17px,#3e27ab 22px,#402ab4 27px,#3e27aa 32px,#3f2ab3 35px,#3e27ab 40px,#3f29b1 43px,#3e27ab 47px,#3f29b0 50px,#3e28ad 53px,#3e26a9 108px,#3e26a8 126px,#bfb7e2 127px,#fff 128px"></i><i style="top:287px;height:128px;--g:#fff 0,#402ab4 1px,#3e28ac 10px,#402bb5 14px,#3e27ab 20px,#402ab4 24px,#3e27ab 30px,#3f2ab3 33px,#3e27ab 38px,#3f29b2 41px,#3e27ab 45px,#3f29af 48px,#3e28ad 52px,#3e26a9 107px,#3e26a8 126px,#bfb7e2 127px,#fff 128px"></i><i style="top:286px;height:129px;--g:#fff 0,#d5d0ef 1px,#402bb5 2px,#3e27ab 8px,#402bb5 13px,#3e27ab 19px,#402ab4 23px,#3e27ab 28px,#3f2ab2 32px,#3e27ab 37px,#3f29b2 40px,#3e27ab 44px,#3f29b0 47px,#3e28ad 51px,#3e26a9 109px,#3e26a8 127px,#7e6ec5 128px,#fff 129px"></i><i style="top:287px;height:128px;--g:#fff 0,#6a59c3 1px,#3f29b0 2px,#3e27aa 4px,#402bb6 9px,#3e27ab 15px,#402ab4 20px,#3e27ab 25px,#3f2ab3 29px,#3e27ab 34px,#3f29b2 37px,#3e27ab 41px,#3f29b0 44px,#3e28ad 48px,#3e26a9 108px,#3e26a8 126px,#7e6ec5 127px,#fff 128px"></i><i style="top:287px;height:128px;--g:#fff 0,#bfb7e3 1px,#3e27ab 2px,#402bb6 7px,#3e27ab 13px,#402ab4 17px,#3e27ab 23px,#3f2ab3 27px,#3e27ab 32px,#3f29b0 35px,#3e28ac 46px,#3f28ad 49px,#3e26a9 107px,#3e26a8 126px,#7e6ec5 127px,#fff 128px"></i><i style="top:287px;height:128px;--g:#fff 0,#9488d3 1px,#3f29b2 2px,#402bb5 5px,#3e27ab 10px,#402ab4 15px,#3e27ab 21px,#3f2ab3 25px,#3e27aa 29px,#3f29b2 33px,#3e27ab 37px,#3f29b0 40px,#3e27ab 44px,#3f28ad 47px,#3e26a9 107px,#3e26a8 126px,#7e6ec5 127px,#fff 128px"></i><i style="top:287px;height:128px;--g:#fff 0,#402bb4 1px,#3e27ac 8px,#402ab4 13px,#3e27ab 18px,#3f2ab3 22px,#3e27ab 27px,#3f29b2 31px,#3e27ab 35px,#3f29b0 38px,#3e27ab 42px,#3f28ad 45px,#3e26a8 107px,#3e26a8 126px,#7e6ec5 127px,#fff 128px"></i><i style="top:287px;height:128px;--g:#fff 0,#5542bc 1px,#3f2ab2 2px,#3e27ab 5px,#402ab4 10px,#3e27ab 16px,#3f2ab3 20px,#3e27ab 25px,#3f2ab2 29px,#3e27ab 33px,#3f29b1 37px,#3e27ab 41px,#3f28ad 43px,#3e26a8 107px,#3e26a8 126px,#7e6ec5 127px,#fff 128px"></i><i style="top:287px;height:128px;--g:#fff 0,#bfb8e4 1px,#3e28ac 2px,#402ab5 8px,#3e27ab 13px,#402ab3 18px,#3e27ab 23px,#3f2ab2 27px,#3e27aa 31px,#3f29b1 34px,#3e27ab 39px,#3f29b0 42px,#3e28ad 45px,#3e26a9 106px,#3e26a8 126px,#7e6ec5 127px,#fff 128px"></i><i style="top:287px;height:128px;--g:#fff 0,#eae7f6 1px,#3f28ad 2px,#402bb5 5px,#3e27ab 11px,#402ab4 16px,#3e27ab 20px,#3f2ab2 25px,#3e27ab 29px,#3f29b1 33px,#3e27ab 37px,#3f29b0 40px,#3e28ad 43px,#3e26a9 107px,#3e26a8 126px,#7e6ec5 127px,#fff 128px"></i><i style="top:287px;height:128px;--g:#fff 0,#7f71cc 1px,#402ab3 2px,#3e27ab 9px,#402ab4 13px,#3e27ab 18px,#3f2ab2 22px,#3e27ab 27px,#3f29b1 31px,#3e27ab 35px,#3f29b0 38px,#3e28ad 42px,#3e26a9 106px,#3e26a8 126px,#7e6ec5 127px,#fff 128px"></i><i style="top:287px;height:128px;--g:#fff 0,#8071cd 1px,#402ab3 2px,#3e27aa 6px,#402ab4 11px,#3e27ab 16px,#3f2ab2 20px,#3e27ab 25px,#3f29b1 29px,#3e27ab 33px,#3f29af 36px,#3e28ac 46px,#3e26a9 106px,#3e26a8 126px,#7e6ec5 127px,#fff 128px"></i><i style="top:287px;height:128px;--g:#fff 0,#aaa0dc 1px,#3f28ae 2px,#402ab3 9px,#3e27ab 14px,#3f2ab3 18px,#3e27aa 23px,#3f29b1 26px,#3e27ab 31px,#3f29b0 34px,#3e28ad 38px,#3e26a9 106px,#3e26a8 127px,#fff 128px"></i><i style="top:288px;height:127px;--g:#fff 0,#3e27ab 1px,#402bb4 5px,#3e27ab 10px,#3f2ab2 15px,#3e27ab 20px,#3f29b2 23px,#3e27ab 28px,#3f29b1 31px,#3e27aa 35px,#3f29af 38px,#3e28ad 41px,#3e26a9 104px,#3e26a8 126px,#fff 127px"></i><i style="top:287px;height:128px;--g:#fff 0,#bfb8e4 1px,#3f29b1 2px,#3e28ac 9px,#3f2ab2 13px,#3e27ab 18px,#3f29b1 22px,#3e27ab 27px,#3f29b1 30px,#3e27aa 34px,#3f29af 37px,#3e28ad 41px,#3e26a9 106px,#3e26a8 127px,#fff 128px"></i><i style="top:287px;height:128px;--g:#fff 0,#8071cc 1px,#402ab3 2px,#3e27aa 7px,#3f2ab3 11px,#3e27ab 16px,#3f29b1 20px,#3e27ab 25px,#3f29b1 28px,#3e27aa 32px,#3f29af 35px,#3e28ad 39px,#3e26a9 105px,#3e26a8 127px,#fff 128px"></i><i style="top:287px;height:128px;--g:#fff 0,#d4d0ee 1px,#3f29b0 2px,#3e27ab 5px,#3f2ab3 9px,#3e27aa 14px,#3f29b2 18px,#3e27ab 22px,#3f29b1 26px,#3e27ab 30px,#3f29b0 33px,#3e27ab 37px,#3e28ad 40px,#3e26a9 105px,#3e26a8 127px,#fff 128px"></i><i style="top:288px;height:127px;--g:#fff 0,#543fb5 1px,#3e28ab 2px,#3f2ab3 6px,#3e27ab 11px,#3f2ab2 15px,#3e27aa 19px,#3f29b1 23px,#3e27aa 27px,#3f29b0 30px,#3e27ab 34px,#3e28ad 37px,#3e26a8 104px,#3e26a8 126px,#fff 127px"></i><i style="top:287px;height:128px;--g:#fff 0,#eae7f6 1px,#3f29af 2px,#3e26a8 105px,#3e26a8 127px,#fff 128px"></i><i style="top:287px;height:128px;--g:#fff 0,#bfb8e5 1px,#3f2ab2 2px,#3e27ab 7px,#3f2ab2 11px,#3e27ab 16px,#3f29b1 20px,#3e27aa 24px,#3f29b0 27px,#3f28ad 31px,#3e26a9 104px,#3e26a8 127px,#fff 128px"></i><i style="top:287px;height:128px;--g:#fff 0,#d4d0ee 1px,#3f29b0 2px,#3e27aa 5px,#3f2ab2 9px,#3e27ab 14px,#3f29b2 18px,#3e27aa 22px,#3f29b0 25px,#3e28ad 29px,#3e26a9 104px,#3e26a8 127px,#fff 128px"></i><i style="top:288px;height:127px;--g:#fff 0,#6957be 1px,#3e27ab 2px,#3f2ab2 6px,#3e27aa 11px,#3f29b2 15px,#3e27aa 19px,#3f29b1 22px,#3e27aa 26px,#3f29af 29px,#3e27ab 33px,#3e28ad 36px,#3e26a9 103px,#3e26a8 126px,#fff 127px"></i><i style="top:288px;height:128px;--g:#fff 0,#5440b7 1px,#3f29b0 2px,#3e28ac 8px,#3f29b1 13px,#3e27ab 17px,#3f29b0 21px,#3e27aa 25px,#3f29b0 28px,#3e27aa 31px,#3e28ad 34px,#3e26a9 103px,#3e26a8 126px,#bfb7e2 127px,#fff 128px"></i><i style="top:287px;height:129px;--g:#fff 0,#d4d0ee 1px,#3f2ab2 2px,#3e27ab 7px,#3f29b1 12px,#3e27ab 16px,#3f29b1 20px,#3e27aa 23px,#3f29b0 27px,#3e28ad 30px,#3e26a9 104px,#3e26a8 127px,#bfb7e2 128px,#fff 129px"></i><i style="top:288px;height:128px;--g:#fff 0,#3f29b0 1px,#3e27aa 4px,#3f29b2 8px,#3e27aa 13px,#3f29b1 16px,#3e27ab 20px,#3f29b0 24px,#3e28ad 27px,#3e26a9 102px,#3e26a8 126px,#bfb7e2 127px,#fff 128px"></i><i style="top:288px;height:128px;--g:#fff 0,#9487d1 1px,#3e27aa 2px,#3f29b2 6px,#3e27ab 11px,#3f29b1 15px,#3e27aa 19px,#3f29b0 22px,#3e28ad 25px,#3e26a9 102px,#3e26a8 126px,#bfb7e2 127px,#fff 128px"></i><i style="top:288px;height:128px;--g:#fff 0,#6958c0 1px,#3f29af 2px,#3e26a9 101px,#3e26a8 126px,#bfb7e2 127px,#fff 128px"></i><i style="top:288px;height:128px;--g:#fff 0,#3f29b1 1px,#3e27ab 6px,#3f29b1 10px,#3e27ab 15px,#3f29b0 18px,#3e28ad 22px,#3e26a9 101px,#3e26a8 126px,#bfb7e2 127px,#fff 128px"></i><i style="top:288px;height:128px;--g:#fff 0,#5441b9 1px,#3f28ae 2px,#3e26a9 101px,#3e26a8 126px,#bfb7e2 127px,#fff 128px"></i><i style="top:288px;height:128px;--g:#fff 0,#a99fda 1px,#3e27ab 2px,#3f29b1 6px,#3e27ab 10px,#3f29b0 14px,#3e27ab 18px,#3f28ad 21px,#3e26a9 101px,#3e26a8 126px,#bfb7e2 127px,#fff 128px"></i><i style="top:288px;height:128px;--g:#fff 0,#9488d2 1px,#3f29af 2px,#3e26a8 101px,#3e26a8 126px,#bfb7e2 127px,#fff 128px"></i><i style="top:288px;height:128px;--g:#fff 0,#7f70cb 1px,#3f29b1 2px,#3e27aa 6px,#3f29b1 10px,#3e27aa 14px,#3f29b0 17px,#3e27ab 21px,#3e28ad 24px,#3e26a9 100px,#3e26a8 126px,#a99fd8 127px,#fff 128px"></i><i style="top:288px;height:128px;--g:#fff 0,#9488d3 1px,#3f28ae 2px,#3e26a9 101px,#3e26a8 126px,#7e6ec5 127px,#fff 128px"></i><i style="top:288px;height:128px;--g:#fff 0,#d4cfec 1px,#3e27aa 2px,#3f29b1 6px,#3e27aa 10px,#3f29b0 13px,#3e27ab 17px,#3e28ad 21px,#3e26a9 100px,#3e26a8 126px,#7e6ec5 127px,#fff 128px"></i><i style="top:288px;height:128px;--g:#fff 0,#9488d2 1px,#3f29af 2px,#3e26a9 100px,#3e26a8 126px,#7e6ec5 127px,#fff 128px"></i><i style="top:288px;height:128px;--g:#fff 0,#7f70cb 1px,#3f29b0 2px,#3e27aa 6px,#3f29ae 9px,#3e28ac 20px,#3e26a9 100px,#3e26a8 126px,#7e6ec5 127px,#fff 128px"></i><i style="top:288px;height:128px;--g:#fff 0,#aaa0db 1px,#3f28ad 2px,#3e26a9 100px,#3e26a8 126px,#7e6ec5 127px,#fff 128px"></i><i style="top:288px;height:128px;--g:#fff 0,#eae7f6 1px,#3e27ab 2px,#3f29b0 5px,#3e28ad 9px,#3e26a9 100px,#3e26a8 126px,#7e6ec5 127px,#fff 128px"></i><i style="top:288px;height:128px;--g:#fff 0,#bfb7e4 1px,#3f29af 2px,#3e26a9 99px,#3e26a8 126px,#7e6ec5 127px,#fff 128px"></i><i style="top:288px;height:128px;--g:#fff 0,#aaa0dc 1px,#3f29af 2px,#3e27aa 5px,#3f29af 9px,#3e28ad 13px,#3e26a9 99px,#3e26a8 126px,#7e6ec5 127px,#fff 128px"></i><i style="top:288px;height:128px;--g:#fff 0,#d4cfed 1px,#3e28ac 2px,#3e26a9 99px,#3e26a8 126px,#7e6ec5 127px,#fff 128px"></i><i style="top:289px;height:127px;--g:#fff 0,#543fb5 1px,#3f28ae 2px,#3e26a9 97px,#3e26a8 125px,#6956bb 126px,#fff 127px"></i><i style="top:288px;height:128px;--g:#fff 0,#bfb8e4 1px,#3f29af 2px,#3e26a9 98px,#3e26a8 127px,#fff 128px"></i><i style="top:288px;height:128px;--g:#fff 0,#bfb8e5 1px,#3f28af 2px,#3e26a9 98px,#3e26a8 127px,#fff 128px"></i><i style="top:289px;height:127px;--g:#fff 0,#533fb5 1px,#3e27aa 2px,#3f29af 5px,#3e27ab 9px,#3e28ad 12px,#3e26a9 97px,#3e26a8 126px,#fff 127px"></i><i style="top:289px;height:127px;--g:#fff 0,#5440b6 1px,#3f29ae 2px,#3e26a9 96px,#3e26a8 126px,#fff 127px"></i><i style="top:288px;height:128px;--g:#fff 0,#d4cfed 1px,#3f29af 2px,#3e27aa 6px,#3f29af 9px,#3e28ac 13px,#3e26a9 98px,#3e26a8 127px,#fff 128px"></i><i style="top:288px;height:128px;--g:#fff 0,#eae7f6 1px,#3f28ae 2px,#3e26a9 97px,#3e26a8 127px,#fff 128px"></i><i style="top:289px;height:127px;--g:#fff 0,#7e6fc6 1px,#3e27ab 2px,#3e26a9 96px,#3e26a8 126px,#fff 127px"></i><i style="top:289px;height:127px;--g:#fff 0,#3f28ad 1px,#3e26a9 96px,#3e26a8 126px,#fff 127px"></i><i style="top:289px;height:127px;--g:#fff 0,#3f29af 1px,#3e26a9 96px,#3e26a8 126px,#fff 127px"></i><i style="top:289px;height:128px;--g:#fff 0,#6957bf 1px,#3e27aa 2px,#3e26a9 95px,#3e26a8 126px,#eae7f5 127px,#fff 128px"></i><i style="top:289px;height:128px;--g:#fff 0,#7e6fc7 1px,#3f28ac 2px,#3e26a9 96px,#3e26a8 126px,#bfb7e2 127px,#fff 128px"></i><i style="top:289px;height:128px;--g:#fff 0,#5440b7 1px,#3f29af 2px,#3e26a9 95px,#3e26a8 126px,#bfb7e2 127px,#fff 128px"></i><i style="top:289px;height:128px;--g:#fff 0,#6a58c0 1px,#3e28ac 2px,#3e26a9 94px,#3e26a8 126px,#bfb7e2 127px,#fff 128px"></i><i style="top:289px;height:128px;--g:#fff 0,#a99fd9 1px,#3e27aa 2px,#3e26a9 94px,#3e26a8 126px,#bfb7e2 127px,#fff 128px"></i><i style="top:289px;height:128px;--g:#fff 0,#7f6fc8 1px,#3f28ae 2px,#3e26a9 94px,#3e26a8 126px,#bfb7e2 127px,#fff 128px"></i><i style="top:289px;height:128px;--g:#fff 0,#7f70c9 1px,#3f28ae 2px,#3e26a9 94px,#3e26a8 126px,#bfb7e2 127px,#fff 128px"></i><i style="top:289px;height:128px;--g:#fff 0,#9487d1 1px,#3e27ab 2px,#3e26a9 94px,#3e26a8 126px,#bfb7e2 127px,#fff 128px"></i><i style="top:289px;height:128px;--g:#fff 0,#bfb7e3 1px,#3e28ac 2px,#3e26a9 94px,#3e26a8 126px,#bfb7e2 127px,#fff 128px"></i><i style="top:289px;height:128px;--g:#fff 0,#7f70c9 1px,#3f28ae 2px,#3e26a9 93px,#3e26a8 126px,#bfb7e2 127px,#fff 128px"></i><i style="top:289px;height:128px;--g:#fff 0,#9488d2 1px,#3e28ac 2px,#3e26a9 93px,#3e26a8 126px,#9486cf 127px,#fff 128px"></i><i style="top:289px;height:128px;--g:#fff 0,#d4cfec 1px,#3e27aa 2px,#3e26a9 93px,#3e26a8 126px,#7e6ec5 127px,#fff 128px"></i><i style="top:289px;height:128px;--g:#fff 0,#bfb7e3 1px,#3f28ad 2px,#3e26a9 92px,#3e26a8 125px,#533eb2 126px,#fff 128px"></i><i style="top:289px;height:125px;--g:#fff 0,#aa9fdb 1px,#3f28ad 2px,#3e26a9 93px,#3e26a8 121px,#7e6ec5 122px,#9486cf 123px,#bfb7e2 124px,#fff 125px"></i><i style="top:289px;height:121px;--g:#fff 0,#d4cfed 1px,#3e27aa 2px,#3e26a9 92px,#3e26a8 116px,#6956bb 117px,#7e6ec5 118px,#bfb7e2 119px,#d4cfec 120px,#fff 121px"></i><i style="top:289px;height:116px;--g:#fff 0,#eae7f6 1px,#3e28ab 2px,#3e26a9 92px,#3e26a8 111px,#533eb2 112px,#fff 116px"></i><i style="top:289px;height:112px;--g:#fff 0,#bfb7e4 1px,#3f28ae 2px,#3e26a9 92px,#3e26a8 107px,#7e6ec5 108px,#9486cf 109px,#eae7f5 111px,#fff 112px"></i><i style="top:289px;height:107px;--g:#fff 0,#d4cfed 1px,#3e27ab 2px,#3e26a9 91px,#3e26a8 102px,#533eb2 103px,#7e6ec5 104px,#bfb7e2 105px,#d4cfec 106px,#fff 107px"></i><i style="top:290px;height:101px;--g:#fff 0,#3e27aa 1px,#3e26a9 90px,#3e26a9 97px,#7e6ec5 98px,#9486cf 99px,#bfb7e2 100px,#fff 101px"></i><i style="top:289px;height:98px;--g:#fff 0,#d4cfed 1px,#3f28ad 2px,#3e26a9 91px,#3e26a9 93px,#eae7f5 97px,#fff 98px"></i><i style="top:289px;height:93px;--g:#fff 0,#d4cfed 1px,#3f28ac 2px,#3e26a9 88px,#533eb3 89px,#7e6ec6 90px,#bfb7e2 91px,#bfb7e2 92px,#fff 93px"></i><i style="top:290px;height:87px;--g:#fff 0,#533fb4 1px,#3e27aa 2px,#3e27a9 64px,#3e27a9 83px,#bfb7e2 86px,#fff 87px"></i><i style="top:290px;height:83px;--g:#fff 0,#3e28ac 1px,#3e27a9 76px,#3e27a9 78px,#6957bc 79px,#7e6fc6 80px,#bfb7e2 81px,#eae7f5 82px,#fff 83px"></i><i style="top:290px;height:78px;--g:#fff 0,#3f28ad 1px,#3e27a9 74px,#7e6fc6 75px,#a99fd9 76px,#bfb7e2 77px,#fff 78px"></i><i style="top:290px;height:74px;--g:#fff 0,#533fb4 1px,#3e27aa 2px,#3e27a9 69px,#6957bc 70px,#7e6fc6 71px,#bfb7e2 72px,#eae7f5 73px,#fff 74px"></i><i style="top:290px;height:69px;--g:#fff 0,#533fb5 1px,#3f28ad 2px,#3e27aa 55px,#3e27a9 64px,#6957bc 65px,#7e6fc6 66px,#bfb7e2 67px,#d4cfec 68px,#fff 69px"></i><i style="top:290px;height:64px;--g:#fff 0,#3f28ad 1px,#3e27aa 57px,#3e27a9 59px,#533fb3 60px,#a99fd9 62px,#bfb7e3 63px,#fff 64px"></i><i style="top:290px;height:60px;--g:#fff 0,#6957be 1px,#3e27aa 2px,#3e27aa 55px,#eae7f5 59px,#fff 60px"></i><i style="top:290px;height:55px;--g:#fff 0,#7e6fc6 1px,#3e28ac 2px,#3e27ab 11px,#3e27aa 51px,#7e6fc6 52px,#fff 55px"></i><i style="top:290px;height:50px;--g:#fff 0,#5440b6 1px,#3f28ad 2px,#3e27ab 4px,#3e27aa 46px,#7e6fc6 47px,#9487cf 48px,#bfb7e3 49px,#fff 50px"></i><i style="top:290px;height:46px;--g:#fff 0,#6958bf 1px,#3e27ab 2px,#3e27ab 13px,#3e27aa 41px,#bfb7e2 44px,#d4cfec 45px,#fff 46px"></i><i style="top:290px;height:41px;--g:#fff 0,#9487d0 1px,#3e27aa 2px,#3e27ab 6px,#3e27a9 36px,#533fb4 37px,#a99fd9 39px,#bfb7e2 40px,#fff 41px"></i><i style="top:290px;height:37px;--g:#fff 0,#7f6fc8 1px,#3f28ad 2px,#3e27ab 5px,#3e27aa 32px,#7e6fc7 33px,#9487d0 34px,#eae7f5 36px,#fff 37px"></i><i style="top:290px;height:32px;--g:#fff 0,#7f6fc8 1px,#3e27ab 2px,#3e27aa 3px,#3e27ab 27px,#6957be 28px,#7e6fc7 29px,#bfb7e3 30px,#d4cfec 31px,#fff 32px"></i><i style="top:290px;height:27px;--g:#fff 0,#bfb7e2 1px,#3e27aa 2px,#3e27ab 23px,#7e6fc7 24px,#9487cf 25px,#d4cfec 26px,#fff 27px"></i><i style="top:290px;height:23px;--g:#fff 0,#7e6fc7 1px,#3e28ac 2px,#3e27ab 5px,#3e27ab 18px,#7e6fc6 19px,#9487d0 20px,#eae7f6 22px,#fff 23px"></i><i style="top:290px;height:18px;--g:#fff 0,#7f70c8 1px,#3e28ac 2px,#3e27ab 9px,#3e27aa 13px,#6957bd 14px,#7e6fc8 15px,#bfb7e3 16px,#bfb7e3 17px,#fff 18px"></i><i style="top:290px;height:14px;--g:#fff 0,#bfb7e3 1px,#3e27aa 2px,#3e27ab 8px,#5340b5 9px,#7e70c8 10px,#9487d0 11px,#eae7f5 13px,#fff 14px"></i><i style="top:290px;height:9px;--g:#fff 0,#bfb7e3 1px,#3e28ac 2px,#3e27ab 4px,#533fb3 5px,#7e6fc6 6px,#bfb7e3 7px,#eae7f6 8px,#fff 9px"></i><i style="top:290px;height:4px;--g:#fff 0,#a99fdb 1px,#a99fda 2px,#fff 4px"></i></div>
<div class="p" style="left:44px"><i style="top:610px;height:2px;--g:#fff 0,#d4cfec 1px,#fff 2px"></i><i style="top:610px;height:3px;--g:#fff 0,#6956bb 1px,#d4cfec 2px,#fff 3px"></i><i style="top:610px;height:3px;--g:#fff 0,#3e26a8 1px,#7e6ec5 2px,#fff 3px"></i><i style="top:609px;height:5px;--g:#fff 0,#bfb7e2 1px,#3e26a8 2px,#3e26a8 3px,#eae7f5 4px,#fff 5px"></i><i style="top:609px;height:5px;--g:#fff 0,#7e6ec5 1px,#3e26a8 2px,#3e26a8 3px,#9486cf 4px,#fff 5px"></i><i style="top:609px;height:5px;--g:#fff 0,#3e26a8 1px,#3e26a8 3px,#533eb2 4px,#fff 5px"></i><i style="top:608px;height:7px;--g:#fff 0,#bfb7e2 1px,#3e26a8 2px,#3e26a8 5px,#a99fd8 6px,#fff 7px"></i><i style="top:608px;height:7px;--g:#fff 0,#7e6ec5 1px,#3e26a8 2px,#3e26a8 5px,#6956bb 6px,#fff 7px"></i><i style="top:608px;height:8px;--g:#fff 0,#3e26a8 1px,#3e26a8 6px,#d4cfec 7px,#fff 8px"></i><i style="top:607px;height:9px;--g:#fff 0,#bfb7e2 1px,#3e26a8 2px,#3e26a8 3px,#3e26a8 7px,#7e6ec5 8px,#fff 9px"></i><i style="top:607px;height:10px;--g:#fff 0,#9486cf 1px,#3e26a8 2px,#3e26a8 8px,#eae7f5 9px,#fff 10px"></i><i style="top:607px;height:10px;--g:#fff 0,#533eb2 1px,#3e26a8 2px,#3e26a8 8px,#9486cf 9px,#fff 10px"></i><i style="top:606px;height:11px;--g:#fff 0,#d4cfec 1px,#3e26a8 2px,#3e26a8 9px,#533eb2 10px,#fff 11px"></i><i style="top:606px;height:12px;--g:#fff 0,#9486cf 1px,#3e26a8 2px,#3e26a8 4px,#3e26a8 10px,#a99fd8 11px,#fff 12px"></i><i style="top:606px;height:12px;--g:#fff 0,#533eb2 1px,#3e26a8 2px,#3e26a8 4px,#3e26a8 10px,#6956bb 11px,#fff 12px"></i><i style="top:605px;height:14px;--g:#fff 0,#d4cfec 1px,#3e26a8 2px,#3e26a8 12px,#d4cfec 13px,#fff 14px"></i><i style="top:605px;height:14px;--g:#fff 0,#9486cf 1px,#3e26a8 2px,#3e26a8 12px,#9486cf 13px,#fff 14px"></i><i style="top:605px;height:15px;--g:#fff 0,#533eb2 1px,#3e26a8 2px,#3e26a8 4px,#3e26a8 13px,#eae7f5 14px,#fff 15px"></i><i style="top:604px;height:16px;--g:#fff 0,#eae7f5 1px,#3e26a8 2px,#3e26a8 14px,#a99fd8 15px,#fff 16px"></i><i style="top:604px;height:16px;--g:#fff 0,#9486cf 1px,#3e26a8 2px,#3e26a8 14px,#533eb2 15px,#fff 16px"></i><i style="top:604px;height:17px;--g:#fff 0,#6956bb 1px,#3e26a8 2px,#3e26a8 15px,#bfb7e2 16px,#fff 17px"></i><i style="top:603px;height:18px;--g:#fff 0,#eae7f5 1px,#3e26a8 2px,#3e26a8 6px,#3e26a8 16px,#6956bb 17px,#fff 18px"></i><i style="top:603px;height:19px;--g:#fff 0,#a99fd8 1px,#3e26a8 2px,#3e26a8 5px,#3e26a8 17px,#d4cfec 18px,#fff 19px"></i><i style="top:603px;height:19px;--g:#fff 0,#6956bb 1px,#3e26a8 2px,#3e26a8 5px,#3e26a8 17px,#9486cf 18px,#fff 19px"></i><i style="top:602px;height:21px;--g:#fff 0,#eae7f5 1px,#3e26a8 2px,#3e26a8 7px,#3e26a8 19px,#eae7f5 20px,#fff 21px"></i><i style="top:602px;height:21px;--g:#fff 0,#a99fd8 1px,#3e26a8 2px,#3e26a8 7px,#3e26a8 19px,#a99fd8 20px,#fff 21px"></i><i style="top:602px;height:21px;--g:#fff 0,#6956bb 1px,#3e26a8 2px,#3e26a8 7px,#3e26a8 19px,#533eb2 20px,#fff 21px"></i><i style="top:602px;height:22px;--g:#fff 0,#3e26a8 1px,#3e26a8 20px,#bfb7e2 21px,#fff 22px"></i><i style="top:601px;height:23px;--g:#fff 0,#bfb7e2 1px,#3e26a8 2px,#3e26a8 21px,#6956bb 22px,#fff 23px"></i><i style="top:601px;height:24px;--g:#fff 0,#7e6ec5 1px,#3e26a8 2px,#3e26a8 8px,#3e26a8 22px,#d4cfec 23px,#fff 24px"></i><i style="top:601px;height:24px;--g:#fff 0,#3e26a8 1px,#3e26a8 8px,#3e26a8 22px,#9486cf 23px,#fff 24px"></i><i style="top:600px;height:26px;--g:#fff 0,#bfb7e2 1px,#3e26a8 2px,#3e26a8 24px,#eae7f5 25px,#fff 26px"></i><i style="top:600px;height:26px;--g:#fff 0,#7e6ec5 1px,#3e26a8 2px,#3e26a8 24px,#a99fd8 25px,#fff 26px"></i><i style="top:600px;height:26px;--g:#fff 0,#3e26a8 1px,#3e26a8 24px,#533eb2 25px,#fff 26px"></i><i style="top:599px;height:28px;--g:#fff 0,#bfb7e2 1px,#3e26a8 2px,#3e26a8 26px,#a99fd8 27px,#fff 28px"></i><i style="top:599px;height:28px;--g:#fff 0,#9486cf 1px,#3e26a8 2px,#3e26a8 26px,#533eb2 27px,#fff 28px"></i><i style="top:599px;height:29px;--g:#fff 0,#3e26a8 1px,#3e26a8 27px,#d4cfec 28px,#fff 29px"></i><i style="top:598px;height:30px;--g:#fff 0,#d4cfec 1px,#3e26a8 2px,#3e26a8 8px,#3e26a8 28px,#6956bb 29px,#fff 30px"></i><i style="top:598px;height:31px;--g:#fff 0,#9486cf 1px,#3e26a8 2px,#3e26a8 29px,#eae7f5 30px,#fff 31px"></i><i style="top:598px;height:31px;--g:#fff 0,#3e26a8 1px,#3e26a8 29px,#9486cf 30px,#fff 31px"></i><i style="top:597px;height:32px;--g:#fff 0,#d4cfec 1px,#3e26a8 2px,#3e26a8 30px,#533eb2 31px,#fff 32px"></i><i style="top:597px;height:33px;--g:#fff 0,#9486cf 1px,#3e26a8 2px,#3e26a8 31px,#a99fd8 32px,#fff 33px"></i><i style="top:597px;height:33px;--g:#fff 0,#533eb2 1px,#3e26a8 2px,#3e26a8 31px,#6956bb 32px,#fff 33px"></i><i style="top:596px;height:35px;--g:#fff 0,#d4cfec 1px,#3e26a8 2px,#3e26a8 33px,#d4cfec 34px,#fff 35px"></i><i style="top:596px;height:35px;--g:#fff 0,#a99fd8 1px,#3e26a8 2px,#3e26a8 33px,#7e6ec5 34px,#fff 35px"></i><i style="top:596px;height:36px;--g:#fff 0,#6956bb 1px,#3e26a8 2px,#3e26a8 7px,#3e26a8 34px,#eae7f5 35px,#fff 36px"></i><i style="top:595px;height:37px;--g:#fff 0,#d4cfec 1px,#3e26a8 2px,#3e26a8 9px,#3e26a8 35px,#9486cf 36px,#fff 37px"></i><i style="top:595px;height:37px;--g:#fff 0,#a99fd8 1px,#3e26a8 2px,#3e26a8 9px,#3e26a8 35px,#533eb2 36px,#fff 37px"></i><i style="top:595px;height:38px;--g:#fff 0,#6956bb 1px,#3e26a8 2px,#3e26a8 36px,#a99fd8 37px,#fff 38px"></i><i style="top:594px;height:39px;--g:#fff 0,#eae7f5 1px,#3e26a8 2px,#3e26a8 4px,#3e26a8 37px,#6956bb 38px,#fff 39px"></i><i style="top:594px;height:40px;--g:#fff 0,#a99fd8 1px,#3e26a8 2px,#3e26a8 38px,#d4cfec 39px,#fff 40px"></i><i style="top:594px;height:40px;--g:#fff 0,#6956bb 1px,#3e26a8 2px,#3e26a8 38px,#7e6ec5 39px,#fff 40px"></i><i style="top:593px;height:42px;--g:#fff 0,#eae7f5 1px,#3e26a8 2px,#3e26a8 3px,#3e26a8 40px,#eae7f5 41px,#fff 42px"></i><i style="top:593px;height:42px;--g:#fff 0,#a99fd8 1px,#3e26a8 2px,#3e26a8 3px,#3e26a8 40px,#9486cf 41px,#fff 42px"></i><i style="top:593px;height:42px;--g:#fff 0,#6956bb 1px,#3e26a8 2px,#3e26a8 3px,#3e26a8 40px,#533eb2 41px,#fff 42px"></i><i style="top:593px;height:43px;--g:#fff 0,#3e26a8 1px,#3e26a8 4px,#3e26a8 41px,#a99fd8 42px,#fff 43px"></i><i style="top:592px;height:44px;--g:#fff 0,#bfb7e2 1px,#3e26a8 2px,#3e26a8 42px,#6956bb 43px,#fff 44px"></i><i style="top:592px;height:45px;--g:#fff 0,#7e6ec5 1px,#3e26a8 2px,#3e26a8 43px,#d4cfec 44px,#fff 45px"></i><i style="top:592px;height:45px;--g:#fff 0,#3e26a8 1px,#3e26a8 2px,#3e26a8 43px,#7e6ec5 44px,#fff 45px"></i><i style="top:591px;height:47px;--g:#fff 0,#bfb7e2 1px,#3e26a8 2px,#3e26a8 3px,#3e26a8 45px,#eae7f5 46px,#fff 47px"></i><i style="top:591px;height:47px;--g:#fff 0,#7e6ec5 1px,#3e26a8 2px,#3e26a8 3px,#3e26a8 45px,#9486cf 46px,#fff 47px"></i><i style="top:591px;height:47px;--g:#fff 0,#3e26a8 1px,#3e26a8 3px,#3e26a8 45px,#533eb2 46px,#fff 47px"></i><i style="top:590px;height:49px;--g:#fff 0,#bfb7e2 1px,#3e26a8 2px,#3e26a8 16px,#3e26a8 47px,#a99fd8 48px,#fff 49px"></i><i style="top:590px;height:49px;--g:#fff 0,#7e6ec5 1px,#3e26a8 2px,#3e26a8 16px,#3e26a8 47px,#6956bb 48px,#fff 49px"></i><i style="top:590px;height:50px;--g:#fff 0,#533eb2 1px,#3e26a8 2px,#3e26a8 4px,#3e26a8 48px,#d4cfec 49px,#fff 50px"></i><i style="top:589px;height:51px;--g:#fff 0,#d4cfec 1px,#3e26a8 2px,#3e26a8 4px,#3e26a8 49px,#7e6ec5 50px,#fff 51px"></i><i style="top:589px;height:52px;--g:#fff 0,#9486cf 1px,#3e26a8 2px,#3e26a8 50px,#eae7f5 51px,#fff 52px"></i><i style="top:589px;height:52px;--g:#fff 0,#533eb2 1px,#3e26a8 2px,#3e26a8 50px,#9486cf 51px,#fff 52px"></i><i style="top:588px;height:53px;--g:#fff 0,#d4cfec 1px,#3e26a8 2px,#3e26a8 6px,#3e26a8 51px,#533eb2 52px,#fff 53px"></i><i style="top:588px;height:53px;--g:#fff 0,#9486cf 1px,#3e26a8 2px,#3e26a8 6px,#3e26a9 52px,#fff 53px"></i><i style="top:588px;height:53px;--g:#fff 0,#533eb2 1px,#3e26a8 2px,#3e26a8 6px,#3e26a8 49px,#3f28ad 52px,#fff 53px"></i><i style="top:587px;height:54px;--g:#fff 0,#d4cfec 1px,#3e26a8 2px,#3e26a8 36px,#402eb8 37px,#4132bf 38px,#402bb7 46px,#412ebe 48px,#412dbb 49px,#422ebf 50px,#3f28ae 53px,#fff 54px"></i><i style="top:587px;height:54px;--g:#fff 0,#9486cf 1px,#3e26a8 2px,#3e26a8 10px,#3946c3 11px,#3750cc 12px,#3563de 13px,#395ce1 18px,#3677fd 19px,#3d70fe 21px,#475ffc 28px,#4743e8 39px,#4537d5 45px,#3f2ab3 52px,#5440b5 53px,#fff 54px"></i><i style="top:587px;height:57px;--g:#fff 0,#6956bb 1px,#3e26a8 2px,#3e26a8 3px,#3e26a8 11px,#3c31b1 12px,#374fcc 13px,#3080fa 14px,#4661fe 27px,#4847ec 38px,#463bde 43px,#3f28ae 54px,#7e6fc6 55px,#eae7f5 56px,#fff 57px"></i><i style="top:586px;height:58px;--g:#fff 0,#eae7f5 1px,#3e26a8 2px,#3e26a8 13px,#3a43c4 14px,#327efb 15px,#4761fd 27px,#484aef 37px,#4638d8 45px,#3e26a8 56px,#9486cf 57px,#fff 58px"></i><i style="top:586px;height:58px;--g:#fff 0,#a99fd8 1px,#3e26a8 2px,#3e26a8 13px,#3b39bb 14px,#327cfc 15px,#406dff 21px,#4856f7 31px,#4742e7 40px,#4535d3 46px,#3f28ad 54px,#3e26a8 57px,#fff 58px"></i><i style="top:586px;height:59px;--g:#fff 0,#6956bb 1px,#3e26a8 2px,#3e26a8 3px,#3e26a8 13px,#3668ea 14px,#3479fd 15px,#406eff 20px,#4859f9 29px,#4741e6 40px,#4537d5 45px,#3f28ac 54px,#3e26a8 57px,#a99fd8 58px,#fff 59px"></i><i style="top:586px;height:59px;--g:#fff 0,#3e26a8 1px,#3e26a8 3px,#3e26a8 10px,#3b3aba 11px,#3756d7 12px,#337bfc 13px,#3e70ff 18px,#4857f8 29px,#4745e9 38px,#4536d4 45px,#3e27ab 54px,#3e26a8 57px,#533eb2 58px,#fff 59px"></i><i style="top:585px;height:61px;--g:#fff 0,#a99fd8 1px,#3e26a8 2px,#3e26a8 9px,#3c30b1 10px,#327efd 12px,#4663fe 24px,#4848ed 37px,#4537d7 45px,#3f28ae 54px,#3e26a8 59px,#d4cfec 60px,#fff 61px"></i><i style="top:585px;height:61px;--g:#fff 0,#6956bb 1px,#3e26a8 2px,#3e26a8 9px,#346ce8 10px,#317efb 11px,#4663fe 23px,#4849ee 36px,#4638d9 44px,#3e27aa 55px,#3e26a8 59px,#6956bb 60px,#fff 61px"></i><i style="top:585px;height:62px;--g:#fff 0,#3e26a8 1px,#3e26a8 7px,#3c30b1 8px,#3276f1 9px,#317ffb 10px,#4566fe 21px,#484bef 35px,#463adc 43px,#3e26aa 55px,#3e26a8 60px,#eae7f5 61px,#fff 62px"></i><i style="top:584px;height:63px;--g:#fff 0,#bfb7e2 1px,#3e26a8 2px,#3e26a8 5px,#3e26a8 7px,#3b3aba 8px,#3276f1 9px,#317ffb 10px,#4565fe 22px,#484df1 33px,#484ef1 35px,#473ee4 41px,#3e26aa 56px,#3e26a8 61px,#9486cf 62px,#fff 63px"></i><i style="top:584px;height:63px;--g:#fff 0,#6956bb 1px,#3e26a8 2px,#3e26a8 5px,#3e26a8 6px,#3944c3 7px,#3080fa 8px,#4663fe 22px,#484ef1 32px,#484ff1 34px,#4740e6 40px,#3e26aa 56px,#3e26a8 62px,#fff 63px"></i><i style="top:584px;height:64px;--g:#fff 0,#3e26a8 1px,#3e26a8 5px,#3659d5 6px,#3080fa 7px,#4663fe 21px,#484cf0 32px,#484cf0 35px,#4639db 43px,#3e26a9 56px,#3e26a8 62px,#a99fd8 63px,#fff 64px"></i><i style="top:583px;height:65px;--g:#fff 0,#bfb7e2 1px,#3e26a8 2px,#3e26a8 5px,#3c30b1 6px,#3276f1 7px,#317ffb 8px,#4662fd 22px,#484df0 32px,#484ef0 35px,#473ee3 41px,#3e26a9 57px,#3e26a8 63px,#533eb2 64px,#fff 65px"></i><i style="top:583px;height:66px;--g:#fff 0,#7e6ec5 1px,#3e26a8 2px,#3e26a8 4px,#3944c3 5px,#3276f1 6px,#317ffb 7px,#4662fe 21px,#484cf0 32px,#484cf1 35px,#4536d5 45px,#3e26a8 57px,#3e26a8 64px,#d4cfec 65px,#fff 66px"></i><i style="top:583px;height:66px;--g:#fff 0,#3e26a8 1px,#3e26a8 3px,#3c30b1 4px,#3080fa 5px,#4663fe 20px,#484bef 32px,#484ef1 34px,#4740e7 39px,#3e25a9 57px,#3e26a8 64px,#6956bb 65px,#fff 66px"></i><i style="top:582px;height:68px;--g:#fff 0,#bfb7e2 1px,#3e26a8 2px,#3e26a8 3px,#3659d5 4px,#3276f1 5px,#317ffb 6px,#4663fe 20px,#484df1 31px,#484aee 33px,#484ff1 34px,#4536d6 45px,#3e26a8 58px,#3e26a8 66px,#eae7f5 67px,#fff 68px"></i><i style="top:582px;height:68px;--g:#fff 0,#9486cf 1px,#3e26a8 2px,#336ee7 3px,#3081fa 4px,#4663fe 19px,#484aef 32px,#484ff1 34px,#473fe4 40px,#3e26aa 57px,#3e26a8 66px,#9486cf 67px,#fff 68px"></i><i style="top:582px;height:68px;--g:#fff 0,#3e26a8 1px,#3b3aba 2px,#3277f1 3px,#317ffb 4px,#4664fe 18px,#484aed 32px,#484ff2 33px,#473ee3 40px,#3e26aa 57px,#3e26a8 67px,#fff 68px"></i><i style="top:581px;height:70px;--g:#fff 0,#d4cfec 1px,#3945c3 2px,#3081fa 3px,#4564fe 18px,#484aee 32px,#484ef3 34px,#4536d5 45px,#3e26a7 59px,#3e26a8 68px,#a99fd8 69px,#fff 70px"></i><i style="top:581px;height:70px;--g:#fff 0,#637fe0 1px,#3277f1 2px,#317ffa 3px,#406eff 12px,#4859f9 23px,#4849ed 32px,#484ef2 34px,#4537d7 44px,#3e26a7 59px,#3e26a8 68px,#533eb2 69px,#fff 70px"></i><i style="top:580px;height:72px;--g:#fff 0,#bad5fd 1px,#3081fa 2px,#4564fe 17px,#4849ee 32px,#484df1 35px,#4536d6 45px,#3e26a7 60px,#3e26a8 70px,#d4cfec 71px,#fff 72px"></i><i style="top:579px;height:73px;--g:#fff 0,#8cbafc 1px,#3081fa 2px,#4663fe 18px,#4848ed 33px,#484ef2 35px,#4537d8 45px,#3e25a6 61px,#3e26a8 71px,#6956bb 72px,#fff 73px"></i><i style="top:578px;height:75px;--g:#fff 0,#d1e3fe 1px,#3081fa 2px,#4663fe 18px,#4849ed 33px,#4748eb 34px,#484ff2 35px,#4537d7 46px,#3e25a6 62px,#3e26a8 73px,#eae7f5 74px,#fff 75px"></i><i style="top:577px;height:76px;--g:#fff 0,#75acfb 1px,#478ffb 2px,#317ffa 3px,#4663fe 18px,#4848ed 34px,#484ef2 36px,#4536d6 47px,#3e26a8 62px,#3e26a8 74px,#9486cf 75px,#fff 76px"></i><i style="top:576px;height:77px;--g:#fff 0,#a3c8fc 1px,#3081fa 2px,#4664fe 18px,#4747ea 35px,#484ef1 36px,#484df0 37px,#4537d7 47px,#3e26a8 63px,#3e26a8 76px,#fff 77px"></i><i style="top:575px;height:79px;--g:#fff 0,#bad5fd 1px,#3081fa 2px,#4664ff 18px,#4847ec 35px,#484ef2 37px,#4638d9 47px,#3e26a7 64px,#3e26a8 77px,#a99fd8 78px,#fff 79px"></i><i style="top:574px;height:80px;--g:#fff 0,#74acfb 1px,#3081fa 2px,#4664ff 18px,#4846ec 36px,#484ef2 38px,#4537d8 48px,#3e26a7 65px,#3e26a8 78px,#533eb2 79px,#fff 80px"></i><i style="top:572px;height:83px;--g:#fff 0,#e8f1fe 1px,#74acfb 2px,#3081f9 3px,#4564ff 19px,#4747eb 37px,#4747ea 38px,#484ff2 39px,#484df0 40px,#4537d7 50px,#3e26a7 67px,#3e26a8 81px,#d4cfec 82px,#fff 83px"></i><i style="top:572px;height:83px;--g:#fff 0,#8cbafb 1px,#3082f9 2px,#4564ff 18px,#4846eb 37px,#484ef2 39px,#4536d6 50px,#3e26a7 67px,#3e26a8 81px,#6956bb 82px,#fff 83px"></i><i style="top:571px;height:85px;--g:#fff 0,#d1e3fe 1px,#3081fa 2px,#4565ff 18px,#4745e9 38px,#484ef1 39px,#484df1 40px,#4537d8 50px,#3e26a8 67px,#3e26a8 83px,#eae7f5 84px,#fff 85px"></i><i style="top:570px;height:86px;--g:#fff 0,#d1e3fe 1px,#3081fa 2px,#4663fe 19px,#4845ea 38px,#484ef2 40px,#4638da 50px,#3e26a8 68px,#3e26a8 84px,#9486cf 85px,#fff 86px"></i><i style="top:570px;height:86px;--g:#fff 0,#5e9dfb 1px,#3180fa 2px,#4663fe 18px,#4844ea 38px,#484ef2 40px,#4638d8 50px,#3e26a8 68px,#3e26a8 85px,#fff 86px"></i><i style="top:568px;height:89px;--g:#fff 0,#d1e3fe 1px,#75abfc 2px,#317ffa 3px,#4663fe 19px,#4744e7 40px,#484ff2 41px,#4537d8 52px,#3e26a8 70px,#3e26a8 87px,#a99fd8 88px,#fff 89px"></i><i style="top:567px;height:90px;--g:#fff 0,#a3c8fc 1px,#3081fa 2px,#4664ff 19px,#4844e9 40px,#484ef2 42px,#4638d9 52px,#3e26a7 71px,#3e26a8 88px,#533eb2 89px,#fff 90px"></i><i style="top:566px;height:92px;--g:#fff 0,#d1e3fe 1px,#478ffa 2px,#3180fa 3px,#4760fd 21px,#4743e7 41px,#484cef 42px,#484df0 43px,#4538d8 53px,#3e26a7 72px,#3e26a8 90px,#d4cfec 91px,#fff 92px"></i><i style="top:566px;height:92px;--g:#fff 0,#bad5fd 1px,#3180fa 2px,#4664ff 18px,#4744e8 40px,#4745e9 41px,#484ff1 42px,#4638da 52px,#3e26a8 71px,#3e26a8 90px,#6956bb 91px,#fff 92px"></i><i style="top:564px;height:95px;--g:#fff 0,#d1e3fe 1px,#75aafc 2px,#317ffb 3px,#4664ff 19px,#4842e8 42px,#484ef2 44px,#4638d9 54px,#3e26a8 73px,#3e26a8 93px,#eae7f5 94px,#fff 95px"></i><i style="top:562px;height:97px;--g:#fff 0,#e8f1fe 1px,#4691fa 2px,#3081f9 3px,#4664ff 20px,#4845eb 41px,#4744e7 44px,#484ff1 45px,#484df0 46px,#4537d8 56px,#3e26a8 75px,#3e26a8 95px,#9486cf 96px,#fff 97px"></i><i style="top:562px;height:97px;--g:#fff 0,#a3c8fc 1px,#2f82f9 2px,#4664ff 19px,#4743e7 42px,#4742e6 43px,#484ef2 45px,#4638d9 55px,#3e26a8 75px,#3e26a8 96px,#fff 97px"></i><i style="top:561px;height:99px;--g:#fff 0,#d1e3fe 1px,#5e9dfb 2px,#3080fa 3px,#4663fe 20px,#4845ea 41px,#4741e5 44px,#484ef0 45px,#484df0 46px,#4638d8 56px,#3e26a8 76px,#3e26a8 97px,#a99fd8 98px,#fff 99px"></i><i style="top:559px;height:101px;--g:#fff 0,#e8f1fe 1px,#4691fa 2px,#3081fa 3px,#4663fe 21px,#4742e6 45px,#4744e8 46px,#484ef1 47px,#4638da 57px,#3e26a7 78px,#3e26a8 99px,#533eb2 100px,#fff 101px"></i><i style="top:559px;height:102px;--g:#fff 0,#8bbafc 1px,#3082fa 2px,#4663fe 20px,#4844ea 42px,#4742e5 45px,#484ef2 47px,#4638d9 57px,#3e26a9 77px,#3e26a8 100px,#d4cfec 101px,#fff 102px"></i><i style="top:559px;height:102px;--g:#fff 0,#75abfc 1px,#307ffa 2px,#4760fd 21px,#4742e7 43px,#4740e4 45px,#484df0 46px,#484df0 47px,#4638d8 57px,#3e26a8 77px,#3e26a8 100px,#7e6ec5 101px,#fff 102px"></i><i style="top:559px;height:103px;--g:#fff 0,#5f9bfc 1px,#327dfc 2px,#4663fe 18px,#4841e7 43px,#4745e8 45px,#484ef1 46px,#4638da 56px,#3e26a8 77px,#3e26a8 101px,#eae7f5 102px,#fff 103px"></i><i style="top:557px;height:105px;--g:#fff 0,#bad4fe 1px,#8db7fd 2px,#327dfc 3px,#4662fe 20px,#4741e5 45px,#4740e4 46px,#484df0 47px,#484bef 49px,#4638d9 58px,#3e26a8 79px,#3e26a8 103px,#9486cf 104px,#fff 105px"></i><i style="top:555px;height:107px;--g:#fff 0,#bad5fd 1px,#3080fa 2px,#4663ff 20px,#4740e4 47px,#4743e6 48px,#484df1 49px,#484df0 50px,#4639da 59px,#3e26a8 81px,#3e26a8 105px,#533eb2 106px,#fff 107px"></i><i style="top:555px;height:108px;--g:#fff 0,#75abfb 1px,#317ffa 2px,#4663fe 19px,#4841e7 45px,#4740e3 47px,#484df1 49px,#4638d9 59px,#3e26a8 81px,#3e26a8 106px,#a99fd8 107px,#fff 108px"></i><i style="top:553px;height:110px;--g:#fff 0,#bad6fd 1px,#8cb9fc 2px,#488dfb 3px,#327dfc 4px,#4664fe 20px,#4841e7 46px,#4741e4 49px,#484cef 50px,#484aef 52px,#4639db 60px,#3e26a9 82px,#3e26a8 108px,#533eb2 109px,#fff 110px"></i><i style="top:551px;height:113px;--g:#fff 0,#b9d7fc 1px,#4691f9 2px,#2f82f9 3px,#4664ff 21px,#4843e8 46px,#4740e2 50px,#484df1 52px,#4639da 62px,#3e26a8 84px,#3e26a8 111px,#bfb7e2 112px,#fff 113px"></i><i style="top:548px;height:116px;--g:#fff 0,#e8f2fe 1px,#b9d7fc 2px,#a2c9fc 3px,#5d9efa 4px,#3081fa 5px,#4664ff 23px,#4842e8 49px,#473fe2 53px,#484bed 54px,#484bef 56px,#4638d9 65px,#3e26a8 87px,#3e26a8 114px,#6956bb 115px,#fff 116px"></i><i style="top:547px;height:118px;--g:#fff 0,#e8f2fe 1px,#4495f7 2px,#2e86f7 3px,#4564ff 23px,#4843e9 48px,#473fe2 53px,#4742e5 54px,#484df0 55px,#484df0 56px,#4639db 65px,#3e26a8 88px,#3e26a8 116px,#d4cfec 117px,#fff 118px"></i><i style="top:547px;height:118px;--g:#fff 0,#8abdfa 1px,#2e87f7 2px,#347bfd 8px,#4564fe 22px,#4843e9 47px,#463fe1 53px,#484df1 55px,#4638da 65px,#3e26a8 88px,#3e26a8 116px,#9486cf 117px,#fff 118px"></i><i style="top:547px;height:119px;--g:#fff 0,#e8f2fe 1px,#a2c9fc 2px,#4691f9 3px,#3081fa 4px,#4664ff 21px,#4843e8 47px,#463ee0 53px,#484ef1 54px,#4638d9 65px,#3e26a8 88px,#3e26a8 117px,#eae7f5 118px,#fff 119px"></i><i style="top:546px;height:120px;--g:#fff 0,#e8f1fe 1px,#a3c7fc 2px,#4690fa 3px,#2f83f9 4px,#4662fe 22px,#4842e8 48px,#463ee1 53px,#484df1 55px,#4741e5 61px,#4639da 65px,#3e26a9 88px,#3e26a8 118px,#a99fd8 119px,#fff 120px"></i><i style="top:546px;height:120px;--g:#fff 0,#e8f1fe 1px,#75aafc 2px,#3180fa 3px,#3e6ffe 14px,#475ffc 23px,#4842e8 47px,#463ee0 53px,#484aed 54px,#484df0 55px,#4638da 65px,#3e26a9 88px,#3e26a8 118px,#533eb2 119px,#fff 120px"></i><i style="top:546px;height:120px;--g:#fff 0,#75acfb 1px,#3080fa 2px,#4662fe 20px,#4841e7 47px,#463ee0 52px,#4641e3 53px,#484ef1 54px,#4745e9 58px,#4639db 64px,#3e26a9 88px,#3e26a8 118px,#6956bb 119px,#fff 120px"></i><i style="top:547px;height:119px;--g:#fff 0,#bbd4fe 1px,#327efb 2px,#3f6efe 12px,#4660fc 20px,#4844e9 43px,#463ee0 51px,#484df1 53px,#4638da 63px,#3e26a8 87px,#3e26a8 117px,#a99fd8 118px,#fff 119px"></i><i style="top:543px;height:123px;--g:#fff 0,#e8f1fe 1px,#bad4fe 2px,#76a8fd 3px,#488cfc 4px,#3180fa 5px,#4760fd 23px,#4843e8 47px,#463ddf 55px,#484ef1 56px,#4638d9 67px,#3e26a8 91px,#3e26a8 121px,#eae7f5 122px,#fff 123px"></i><i style="top:542px;height:123px;--g:#fff 0,#8cbafc 1px,#3180fa 2px,#337cfd 7px,#4663fe 21px,#4842e8 48px,#463ddf 55px,#484df0 57px,#484cef 58px,#4639da 67px,#3e26a8 92px,#3e26a8 121px,#6956bb 122px,#fff 123px"></i><i style="top:539px;height:126px;--g:#fff 0,#e8f1fe 1px,#bad5fd 2px,#2f81fa 4px,#3b73fe 14px,#4760fd 25px,#4842e8 50px,#463ddf 58px,#484aed 59px,#484df0 60px,#4638d9 70px,#402ab3 90px,#3e26a8 94px,#3e26a8 124px,#a99fd8 125px,#fff 126px"></i><i style="top:535px;height:130px;--g:#fff 0,#73b2f7 2px,#73b1f8 3px,#4595f7 4px,#2e86f8 5px,#3b72ff 17px,#4663fe 26px,#4843e9 52px,#463ddf 61px,#4641e2 62px,#484ef1 63px,#4639db 73px,#402ab3 94px,#3e26a8 98px,#3e26a8 128px,#eae7f5 129px,#fff 130px"></i><i style="top:534px;height:130px;--g:#fff 0,#e8f2fe 1px,#a2ccfa 2px,#2d8af4 3px,#327dfc 11px,#426afe 22px,#475bfa 32px,#4844e9 52px,#463dde 62px,#484cf0 64px,#484cef 65px,#4639da 74px,#3e26a9 99px,#3e26a8 128px,#6956bb 129px,#fff 130px"></i><i style="top:534px;height:130px;--g:#fff 0,#b9d9fb 1px,#5ca4f6 2px,#2d89f5 3px,#317ffb 8px,#327cfc 12px,#406cfe 19px,#4367fe 23px,#4858f8 33px,#4847eb 49px,#463cde 62px,#484cef 63px,#484df0 64px,#4638d9 74px,#402ab4 94px,#3e26a8 99px,#3e26a8 128px,#9486cf 129px,#fff 130px"></i><i style="top:534px;height:130px;--g:#fff 0,#8abff9 1px,#2d89f5 2px,#3579fd 10px,#3678fd 13px,#416bfe 19px,#475af9 31px,#4845ea 49px,#463cde 61px,#484df1 63px,#4639da 73px,#402ab3 94px,#3e26a8 99px,#3e26a8 128px,#eae7f5 129px,#fff 130px"></i><i style="top:534px;height:129px;--g:#fff 0,#b9d6fd 1px,#2e86f7 2px,#3081fa 6px,#3974fe 11px,#4468ff 20px,#4944ea 49px,#463cde 61px,#484cef 62px,#484cf0 63px,#4638da 73px,#3e26a8 99px,#3e26a8 127px,#533eb2 128px,#fff 129px"></i><i style="top:531px;height:132px;--g:#fff 0,#8abff8 1px,#2d89f5 2px,#3677fe 11px,#4566ff 23px,#4842e8 53px,#463cde 63px,#4640e2 64px,#484ef1 65px,#4744e8 70px,#4639da 75px,#402ab3 97px,#3e26a8 101px,#3e26a8 130px,#9486cf 131px,#fff 132px"></i><i style="top:530px;height:133px;--g:#fff 0,#b9d8fb 1px,#8abdf9 2px,#2d88f5 3px,#3874fe 13px,#3f6fff 19px,#475bfa 31px,#484bef 45px,#463cdd 64px,#4748eb 65px,#484df0 66px,#4638da 76px,#402ab3 98px,#3e26a8 102px,#3e26a8 131px,#d4cfec 132px,#fff 133px"></i><i style="top:531px;height:131px;--g:#fff 0,#5ca4f7 1px,#2d88f6 2px,#3a72fe 13px,#4269fe 21px,#4759f9 31px,#4745ea 49px,#463cde 62px,#463edf 63px,#484cef 64px,#484df0 65px,#4638d9 75px,#402ab3 95px,#402bb6 96px,#3e26a8 101px,#3e26a8 129px,#533eb2 130px,#fff 131px"></i><i style="top:528px;height:134px;--g:#fff 0,#d0e6fc 1px,#b9d8fb 2px,#b9d7fc 3px,#8bbbfb 4px,#5e9dfb 6px,#3081fa 7px,#406cfe 19px,#4662fd 27px,#4844e9 52px,#463cdd 65px,#484ef1 67px,#4639da 77px,#402bb7 97px,#402ab4 99px,#3e26a8 104px,#3e26a8 132px,#9486cf 133px,#fff 134px"></i><i style="top:524px;height:138px;--g:#fff 0,#b9d9fb 1px,#a1cbfa 2px,#5ba5f6 3px,#2c8cf3 4px,#327cfc 13px,#3f6efe 19px,#465ffc 33px,#484bef 48px,#463cdd 69px,#484cef 70px,#484bef 72px,#4638d9 81px,#402ab3 103px,#3e26a8 108px,#3e26a8 136px,#d4cfec 137px,#fff 138px"></i><i style="top:529px;height:132px;--g:#fff 0,#4693f8 1px,#2e85f8 2px,#416aff 17px,#4467ff 21px,#4849ee 44px,#463cdd 63px,#4640e1 64px,#484ef1 65px,#4639db 75px,#402ab3 98px,#3e26a8 103px,#3e26a8 131px,#fff 132px"></i><i style="top:528px;height:133px;--g:#fff 0,#74adfb 1px,#2f83f9 2px,#3080fb 6px,#4663fe 22px,#4464fc 24px,#475dfb 28px,#4848ec 46px,#463bdc 64px,#484df1 66px,#4639da 76px,#402ab4 97px,#402bb6 98px,#3e26a8 103px,#3e26a8 131px,#9486cf 132px,#fff 133px"></i><i style="top:507px;height:154px;--g:#fff 0,#e6f5fc 1px,#b5e0f6 2px,#b6def7 10px,#85c9f2 11px,#6dbeef 12px,#72b4f6 17px,#2c8df2 18px,#3080fb 28px,#406dff 37px,#465ffb 45px,#4855f6 56px,#4744e9 70px,#463bdc 85px,#484ef1 86px,#4742e5 92px,#4638d9 97px,#402ab3 118px,#402bb7 119px,#3e26a8 124px,#3e26a8 152px,#bfb7e2 153px,#fff 154px"></i><i style="top:464px;height:196px;--g:#fff 0,#d0f2eb 1px,#b9ebe1 2px,#b9ebe1 12px,#aae8ec 14px,#abe8ec 20px,#93e1e2 21px,#65d4ce 22px,#65d4ce 24px,#10bdbb 25px,#10bdbb 30px,#02b9c6 31px,#02b9c6 35px,#0bb3cf 36px,#0cb2d0 39px,#1ea6e1 44px,#1ea6e2 47px,#269ce7 51px,#3180fb 70px,#4368ff 81px,#475af9 90px,#4850f2 103px,#4746ea 110px,#463adc 127px,#484df1 129px,#4743e7 134px,#4639da 139px,#402bb7 160px,#402bb5 162px,#3e26a8 167px,#3e26a8 195px,#fff 196px"></i><i style="top:515px;height:145px;--g:#fff 0,#b6def7 1px,#b7dcf8 5px,#71b8f3 6px,#5aaaf2 7px,#2c8ff0 8px,#3478fe 22px,#3d72ff 25px,#4858f9 39px,#484ef0 53px,#4744e9 60px,#463bdc 76px,#484aed 77px,#484cf0 78px,#4638da 88px,#402bb7 109px,#402bb4 111px,#3e26a8 116px,#3e26a8 143px,#7e6ec5 144px,#fff 145px"></i><i style="top:521px;height:139px;--g:#fff 0,#b8dbf9 1px,#b8dafa 2px,#72b4f6 3px,#73b2f7 5px,#2e88f6 6px,#3775fe 15px,#426bff 22px,#494df2 43px,#484ff1 46px,#4744e8 54px,#463bdc 69px,#463fe0 70px,#484ef1 71px,#484df0 72px,#4639db 81px,#402bb7 103px,#402ab4 105px,#3e26a8 110px,#3e26a8 137px,#bfb7e2 138px,#fff 139px"></i><i style="top:527px;height:132px;--g:#fff 0,#b9d6fd 1px,#4592f9 2px,#2f83f9 3px,#4465fe 16px,#4564fd 21px,#484df1 37px,#4639db 63px,#484df1 65px,#4639da 75px,#402bb6 97px,#402ab4 99px,#3e26a8 104px,#3e26a8 131px,#fff 132px"></i><i style="top:527px;height:132px;--g:#fff 0,#e8f1fe 1px,#8bbbfb 2px,#75acfb 3px,#478ffa 4px,#317efb 5px,#4466fe 16px,#4758f8 30px,#4849ed 38px,#484bef 40px,#473fe3 52px,#463bdb 63px,#484ef1 64px,#4639db 74px,#402ab3 97px,#402cb7 98px,#3e26a8 103px,#3e26a8 130px,#7e6ec5 131px,#fff 132px"></i><i style="top:532px;height:127px;--g:#fff 0,#e9f0ff 1px,#a5c3fe 2px,#7aa3fe 3px,#6692fe 4px,#3b72fe 5px,#4660fc 17px,#484aee 33px,#484cef 35px,#4742e6 43px,#463bdc 57px,#484df1 59px,#484cf0 60px,#4639da 69px,#402bb7 91px,#402bb6 93px,#3e26a8 98px,#3e26a8 125px,#bfb7e2 126px,#fff 127px"></i><i style="top:537px;height:121px;--g:#fff 0,#6a8efe 1px,#416bfe 2px,#4661fc 11px,#4756f7 17px,#484aed 28px,#484bef 30px,#463ee1 43px,#463adb 52px,#484aec 53px,#484df0 54px,#4638da 64px,#402bb7 86px,#402bb5 88px,#3e26a8 93px,#3e26a8 120px,#fff 121px"></i><i style="top:510px;height:148px;--g:#fff 0,#b8dbf9 1px,#b7dcf8 10px,#b9d8fc 14px,#8ac0f8 15px,#72b4f6 16px,#78aaf9 17px,#78aaf9 18px,#809dfe 19px,#819afe 25px,#6c89fe 26px,#4268fd 27px,#4758f8 41px,#4847ec 55px,#4749ec 58px,#4741e4 65px,#463bdb 78px,#4741e2 79px,#484ef1 80px,#4741e5 86px,#4639db 90px,#402bb7 113px,#402bb5 115px,#3e26a8 120px,#3e26a8 146px,#6956bb 147px,#fff 148px"></i><i style="top:500px;height:158px;--g:#fff 0,#e7f3fd 1px,#b7dcf8 2px,#b9d8fc 18px,#8abff9 19px,#73b2f7 20px,#73b2f7 22px,#77aafa 23px,#78a6fd 26px,#7ca1fe 35px,#7e9ffe 36px,#8395fd 37px,#8495fc 39px,#465dfa 40px,#4561fc 45px,#484ff2 56px,#4747eb 68px,#473fe3 75px,#473fe3 78px,#463bdb 88px,#484aec 89px,#484df0 90px,#4638d9 100px,#4331c6 114px,#402ab4 123px,#412cb8 124px,#3e26a8 130px,#3e26a8 156px,#bfb7e2 157px,#fff 158px"></i><i style="top:543px;height:115px;--g:#fff 0,#97a9fe 1px,#4562fc 2px,#484ef1 12px,#4747eb 25px,#473fe2 32px,#463bdc 44px,#463dde 45px,#484ef1 46px,#4639da 56px,#4332c9 69px,#402ab3 80px,#402cb8 81px,#3e26a8 87px,#3e26a8 113px,#eae7f5 114px,#fff 115px"></i><i style="top:544px;height:113px;--g:#fff 0,#eaedff 1px,#98a6fd 2px,#5b6ffa 3px,#475bf9 4px,#484bef 13px,#4746ea 25px,#473ee1 29px,#463fe1 34px,#463bdb 43px,#4741e2 44px,#484ef0 45px,#4638d9 56px,#402bb7 78px,#402bb7 80px,#3e26a8 85px,#3e26a8 111px,#6956bb 112px,#fff 113px"></i><i style="top:547px;height:110px;--g:#fff 0,#999bf6 1px,#474ef0 2px,#4852f4 5px,#4746ea 16px,#4744e8 22px,#463cde 27px,#473fe3 30px,#463ada 40px,#484df1 42px,#4638da 52px,#402bb7 75px,#402bb6 77px,#3e26a8 82px,#3e26a8 108px,#a99fd8 109px,#fff 110px"></i><i style="top:547px;height:110px;--g:#fff 0,#7071f0 1px,#4747eb 2px,#484ff2 7px,#4745e9 16px,#4743e7 21px,#463ddf 26px,#4740e4 30px,#463bdc 34px,#463adb 39px,#463cdd 40px,#484ef1 41px,#4639da 51px,#4332c9 64px,#402bb5 75px,#402bb6 77px,#3e26a8 82px,#3e26a8 108px,#eae7f5 109px,#fff 110px"></i><i style="top:546px;height:110px;--g:#fff 0,#d6d7fb 1px,#9999f4 2px,#4748ec 3px,#4745e9 7px,#484bee 9px,#484bee 13px,#4740e3 20px,#4744e8 22px,#463de0 27px,#473fe3 32px,#4539d9 36px,#463adb 40px,#4748ea 41px,#484df0 42px,#484cef 43px,#4538d9 52px,#4332ca 64px,#402ab4 76px,#412cb9 77px,#3e26a8 83px,#3e26a8 108px,#6956bb 109px,#fff 110px"></i><i style="top:545px;height:111px;--g:#fff 0,#5c5ef0 2px,#4748ec 3px,#4747ea 8px,#484df1 12px,#4741e5 20px,#463ee1 33px,#4539d9 37px,#463adb 41px,#484ef1 42px,#4638da 53px,#402cb8 76px,#402cb7 78px,#3e26a8 84px,#3e26a8 109px,#a99fd8 110px,#fff 111px"></i><i style="top:547px;height:109px;--g:#fff 0,#8586f3 1px,#7070ef 2px,#4746ea 3px,#4745e9 7px,#484df0 10px,#4742e6 17px,#463ee0 31px,#4539d9 35px,#463bdb 38px,#484df1 40px,#4639db 50px,#402bb7 74px,#402bb7 76px,#3e26a8 82px,#3e26a8 107px,#eae7f5 108px,#fff 109px"></i><i style="top:549px;height:106px;--g:#fff 0,#c2c1f8 1px,#5b59eb 2px,#4745e9 3px,#4746ea 5px,#484ff2 6px,#4741e4 16px,#4740e3 24px,#453ad9 33px,#4640e2 36px,#484ef1 37px,#4638da 48px,#402bb7 72px,#402cb8 74px,#3e26a8 79px,#3e26a8 104px,#533eb2 105px,#fff 106px"></i><i style="top:550px;height:105px;--g:#fff 0,#9997f3 1px,#4744e8 2px,#4743e6 4px,#484df1 6px,#473ee1 17px,#4740e3 23px,#4539d8 32px,#463dde 34px,#484ef3 36px,#4639da 46px,#4332ca 59px,#402bb5 71px,#402cb7 73px,#3e26a8 78px,#3e26a8 103px,#a99fd8 104px,#fff 105px"></i><i style="top:551px;height:104px;--g:#fff 0,#d6d5f9 1px,#4743e7 2px,#4749ec 9px,#4740e4 14px,#473fe3 20px,#4639d9 31px,#463cdd 33px,#4748eb 34px,#484df0 35px,#4639da 45px,#402ab4 70px,#412dba 71px,#3e26a8 77px,#3e26a8 102px,#d4cfec 103px,#fff 104px"></i><i style="top:550px;height:104px;--g:#fff 0,#ebeafd 1px,#4743e7 3px,#4741e4 5px,#474aee 7px,#4741e5 14px,#4539d9 32px,#463ada 33px,#484ef2 35px,#4639db 45px,#402bb7 70px,#402cb8 72px,#3e26a8 78px,#3e26a8 102px,#533eb2 103px,#fff 104px"></i><i style="top:550px;height:104px;--g:#fff 0,#d6d6fa 1px,#5b5aec 2px,#4744e8 3px,#4742e5 6px,#4744e8 11px,#463ddf 18px,#463ee0 23px,#4539d9 32px,#453cdc 33px,#484def 34px,#484ef1 35px,#4639db 45px,#402bb7 70px,#402cb8 72px,#3e26a7 78px,#3e26a8 102px,#9486cf 103px,#fff 104px"></i><i style="top:550px;height:104px;--g:#fff 0,#7071f0 1px,#4746ea 2px,#4741e4 6px,#4742e6 15px,#463ddf 18px,#473fe2 22px,#463ad9 32px,#484ff1 34px,#484ef1 35px,#4538d8 45px,#4434ce 55px,#402bb6 70px,#402cb8 72px,#3e26a7 78px,#3e26a8 102px,#d4cfec 103px,#fff 104px"></i><i style="top:552px;height:101px;--g:#fff 0,#c2c1f7 1px,#c2c0f7 2px,#5b56e8 3px,#4741e5 4px,#4744e8 10px,#463ddf 17px,#4740e3 19px,#463ada 30px,#4850f3 31px,#4639da 42px,#43c 54px,#402ab4 68px,#412dbc 69px,#3e27aa 74px,#3e26a8 76px,#3e26a8 100px,#fff 101px"></i><i style="top:554px;height:99px;--g:#fff 0,#5b55e5 2px,#4741e5 3px,#4742e6 9px,#473fe1 14px,#4741e5 16px,#463ada 28px,#474bec 29px,#484bf0 31px,#4538d9 40px,#4435d0 49px,#402bb7 65px,#412cba 67px,#3e26a8 73px,#3e26a8 97px,#9486cf 98px,#fff 99px"></i><i style="top:555px;height:98px;--g:#fff 0,#847fec 1px,#463fe1 2px,#463fe1 6px,#4742e7 8px,#463dde 14px,#463ee1 17px,#463bdb 27px,#484cf0 29px,#4639db 38px,#402bb8 64px,#412cb9 66px,#3e26a8 72px,#3e26a8 96px,#d4cfec 97px,#fff 98px"></i><i style="top:556px;height:96px;--g:#fff 0,#d6d4f8 1px,#473fe1 2px,#463ddf 5px,#4742e6 7px,#463ada 15px,#463cde 21px,#463cdb 27px,#4847ea 28px,#484aed 29px,#4639db 37px,#402bb7 63px,#412cb9 65px,#3e26a8 71px,#3e26a8 95px,#fff 96px"></i><i style="top:557px;height:95px;--g:#fff 0,#5b53e3 1px,#463ddf 2px,#473fe1 6px,#463cdd 15px,#463ada 17px,#463dde 20px,#4639d8 25px,#4745e8 26px,#484aed 27px,#463adb 35px,#4433cd 47px,#402bb4 62px,#412dbc 63px,#3e26a7 70px,#3e26a8 93px,#7e6ec5 94px,#fff 95px"></i><i style="top:557px;height:95px;--g:#fff 0,#eae9fb 1px,#6f68e5 2px,#463cdd 3px,#463dde 11px,#463adb 17px,#463ee0 20px,#4537d6 24px,#484bf0 26px,#4539da 35px,#4434ce 46px,#402bb7 61px,#412dbb 63px,#3e26a7 70px,#3e26a8 93px,#d4cfec 94px,#fff 95px"></i><i style="top:558px;height:93px;--g:#fff 0,#c1bef4 1px,#463bdc 2px,#463ee1 9px,#463cdd 12px,#463bdb 17px,#463dde 20px,#4537d6 23px,#484aed 24px,#484aee 25px,#4538d8 34px,#4536d3 41px,#402bb7 60px,#412dbb 62px,#3e27aa 67px,#3e26a8 69px,#3e26a8 92px,#fff 93px"></i><i style="top:559px;height:92px;--g:#fff 0,#c1bff5 1px,#463ddf 2px,#463bdc 5px,#473fe3 8px,#463bdc 11px,#4539d9 21px,#4849ed 23px,#484aed 24px,#4538d8 33px,#4434cd 44px,#402bb6 59px,#412dbb 61px,#3e26a8 67px,#3e26a8 90px,#7e6ec5 91px,#fff 92px"></i><i style="top:560px;height:91px;--g:#fff 0,#9893ed 1px,#463bdb 2px,#463cde 8px,#4538d7 20px,#4746e7 21px,#484cef 22px,#4539d9 31px,#4433cd 43px,#402bb5 58px,#412dbd 59px,#3e26a8 66px,#3e26a8 89px,#bfb7e2 90px,#fff 91px"></i><i style="top:561px;height:89px;--g:#fff 0,#d6d3f6 1px,#6e63df 2px,#4538d8 3px,#463cde 7px,#4538d8 12px,#463cde 14px,#4538d6 18px,#484aed 20px,#484aed 21px,#4741e5 26px,#463cde 27px,#4536d3 34px,#4536d4 36px,#402bb6 56px,#402bb6 57px,#412ebe 58px,#3e26a7 65px,#3e26a8 88px,#fff 89px"></i><i style="top:562px;height:88px;--g:#fff 0,#837be6 1px,#4537d7 2px,#463dde 5px,#4538d7 11px,#463ddf 12px,#463dde 13px,#4539d8 17px,#484cf1 19px,#4639d9 28px,#4332c8 44px,#402bb6 55px,#412dbc 57px,#3e26a7 64px,#3e26a8 86px,#7e6ec5 87px,#fff 88px"></i><i style="top:560px;height:90px;--g:#fff 0,#c1bff5 1px,#6f67e4 2px,#463adb 3px,#4538d6 7px,#463cde 8px,#4538d7 11px,#463bdc 15px,#463ada 18px,#463ddd 19px,#4748ea 20px,#484bee 21px,#4638d9 30px,#4331c6 47px,#402bb6 57px,#412dbc 59px,#3e26a7 66px,#3e26a8 88px,#bfb7e2 89px,#fff 90px"></i><i style="top:559px;height:90px;--g:#fff 0,#9995ef 1px,#463ee1 2px,#4538d7 7px,#463cdd 9px,#463ada 13px,#463cde 16px,#4537d6 19px,#484aec 21px,#484bee 22px,#4538d8 31px,#4434ce 42px,#402bb5 58px,#422ebe 59px,#3e27aa 65px,#3e26a8 67px,#3e26a8 89px,#fff 90px"></i><i style="top:561px;height:88px;--g:#fff 0,#d6d4f8 1px,#6f66e3 2px,#463bdb 3px,#4539d9 5px,#473fe1 6px,#4539d8 18px,#4849eb 19px,#4849ed 20px,#4539d9 28px,#4537d5 34px,#402bb7 55px,#402bb6 56px,#422ec0 57px,#3e26a8 64px,#3e26a8 86px,#7e6ec5 87px,#fff 88px"></i><i style="top:561px;height:88px;--g:#fff 0,#5b53e3 2px,#463cde 3px,#463bdc 5px,#463fe2 6px,#4539d9 16px,#484cf1 18px,#4538d7 28px,#4537d5 34px,#402bb7 55px,#412ebd 57px,#3e26a8 64px,#3e26a8 86px,#a99fd8 87px,#fff 88px"></i><i style="top:560px;height:89px;--g:#fff 0,#ebeafc 1px,#5b55e6 2px,#463ee1 3px,#463cdd 5px,#463ee0 7px,#463ada 10px,#463ee1 12px,#463bdb 14px,#474aea 16px,#484ef2 18px,#4538d8 29px,#4535d2 37px,#402bb7 56px,#412ebd 58px,#3e26a7 65px,#3e26a8 87px,#eae7f5 88px,#fff 89px"></i><i style="top:560px;height:88px;--g:#fff 0,#d6d5f9 1px,#4741e5 2px,#463adb 10px,#463edf 14px,#474eee 15px,#4852f3 16px,#4742e6 23px,#4539d9 28px,#43c 42px,#402bb5 56px,#422ebf 57px,#3e26a7 65px,#3e26a8 86px,#6956bb 87px,#fff 88px"></i><i style="top:560px;height:88px;--g:#fff 0,#c2c0f7 1px,#4741e5 2px,#463cdd 5px,#473fe2 6px,#4639d9 12px,#4644e4 14px,#4753f5 15px,#4639db 27px,#4433cb 42px,#402bb7 55px,#402bb7 56px,#422fc1 57px,#3e27aa 63px,#3e26a8 65px,#3e26a8 86px,#a99fd8 87px,#fff 88px"></i><i style="top:561px;height:87px;--g:#fff 0,#ebeafc 1px,#6f68e6 3px,#463bdc 4px,#463ddf 6px,#463adb 10px,#4753f4 12px,#4753f5 13px,#4746ea 20px,#463cde 24px,#4536d4 30px,#4536d3 34px,#402bb7 54px,#422ebf 56px,#3e26a8 63px,#3e26a8 85px,#eae7f5 86px,#fff 87px"></i><i style="top:564px;height:83px;--g:#fff 0,#eae9fb 1px,#5b50de 2px,#463cde 3px,#463cde 6px,#4754f3 7px,#4856f8 9px,#4638da 23px,#4537d4 27px,#4536d3 31px,#402bb7 51px,#422ebf 53px,#3e26a8 60px,#3e26a8 81px,#6956bb 82px,#fff 83px"></i><i style="top:565px;height:82px;--g:#fff 0,#c1bef4 1px,#463cde 2px,#463cde 4px,#4647e7 5px,#475af9 6px,#4758f8 7px,#473fe3 18px,#4536d3 26px,#4536d3 30px,#402bb6 50px,#422ebf 51px,#422ebf 52px,#3e26a7 59px,#3e26a8 80px,#a99fd8 81px,#fff 82px"></i><i style="top:563px;height:84px;--g:#fff 0,#5b54e5 2px,#463de0 3px,#463cdc 7px,#4857f8 9px,#473ee1 21px,#4537d5 27px,#4536d3 32px,#402bb6 52px,#422fc2 53px,#3e26a7 61px,#3e26a8 82px,#d4cfec 83px,#fff 84px"></i><i style="top:562px;height:84px;--g:#fff 0,#8480ed 2px,#5b54e5 3px,#463ddf 4px,#463ada 9px,#463ddd 10px,#484ff1 12px,#4850f3 13px,#4535d4 28px,#4435d1 34px,#402bb7 52px,#422fc0 54px,#3e26a7 62px,#3e26a8 82px,#533eb2 83px,#fff 84px"></i><i style="top:565px;height:81px;--g:#fff 0,#9893ed 1px,#847de8 2px,#5a50de 3px,#463ada 4px,#463bda 9px,#4746ea 14px,#4536d5 24px,#4435d1 31px,#402bb7 49px,#422fc2 51px,#3e27aa 57px,#3e26a8 59px,#3e26a8 79px,#9486cf 80px,#fff 81px"></i><i style="top:567px;height:79px;--g:#fff 0,#5a50df 2px,#463cdc 3px,#4536d2 9px,#4539d7 10px,#4745e9 11px,#4539d8 21px,#4435d0 29px,#402bb6 47px,#4230c4 48px,#3f28ad 54px,#3e26a8 57px,#3e26a8 77px,#d4cfec 78px,#fff 79px"></i><i style="top:567px;height:78px;--g:#fff 0,#463adb 3px,#4536d4 7px,#4747ec 9px,#4538d7 21px,#4538d7 23px,#402cb8 46px,#412cb9 47px,#4230c4 48px,#3e26a7 56px,#3e26a8 76px,#533eb2 77px,#fff 78px"></i><i style="top:568px;height:77px;--g:#fff 0,#eae9fb 1px,#463ada 2px,#4536d3 6px,#4743e4 7px,#4748eb 8px,#4539d9 17px,#4536d3 25px,#412bb7 45px,#422fc2 47px,#3e26a7 55px,#3e26a8 75px,#9486cf 76px,#fff 77px"></i><i style="top:568px;height:77px;--g:#fff 0,#d6d3f7 1px,#5a4fdd 2px,#4539d8 3px,#4538d7 4px,#4744e5 6px,#4747ec 8px,#4537d6 16px,#4536d2 21px,#4537d7 23px,#402bb7 45px,#4330c4 46px,#4230c3 47px,#3e26a7 55px,#3e26a8 75px,#d4cfec 76px,#fff 77px"></i><i style="top:570px;height:74px;--g:#fff 0,#6e64e0 1px,#463dde 2px,#484aed 3px,#484bee 4px,#4536d5 14px,#4535d2 18px,#4538d8 20px,#402bb6 43px,#4331c6 44px,#3e26a7 53px,#3e26a8 73px,#fff 74px"></i><i style="top:569px;height:75px;--g:#fff 0,#c1bdf3 1px,#5a4fdd 2px,#4538d7 3px,#4538d6 5px,#4746ea 7px,#4538d8 14px,#4536d3 18px,#4538d7 21px,#412cbb 41px,#402bb7 43px,#4330c5 45px,#3f28ae 51px,#3e26a8 54px,#3e26a8 73px,#7e6ec5 74px,#fff 75px"></i><i style="top:569px;height:75px;--g:#fff 0,#d6d3f7 1px,#837be6 2px,#463fdf 3px,#4747ea 5px,#4746ea 6px,#4538d7 13px,#463cde 14px,#4537d5 17px,#4538d8 19px,#412cb8 43px,#4330c5 45px,#3e27aa 52px,#3e26a8 54px,#3e26a8 73px,#d4cfec 74px,#fff 75px"></i><i style="top:569px;height:74px;--g:#fff 0,#5c62f3 2px,#484cf0 3px,#4742e7 8px,#4537d6 13px,#463adb 14px,#4538d7 17px,#4538d8 19px,#402bb7 43px,#4331c8 44px,#3e26a7 53px,#3e26a8 72px,#533eb2 73px,#fff 74px"></i><i style="top:568px;height:75px;--g:#fff 0,#ebecfe 1px,#5c64f4 2px,#484ef1 3px,#473fe3 10px,#4535d2 15px,#4538d7 17px,#4536d3 18px,#463adb 19px,#4332c9 30px,#4332c9 32px,#412cb8 43px,#4331c6 45px,#3e26a7 54px,#3e26a8 73px,#7e6ec5 74px,#fff 75px"></i><i style="top:567px;height:76px;--g:#fff 0,#ebecfe 1px,#4850f3 3px,#4745e9 8px,#4536d5 15px,#4537d5 19px,#463adb 20px,#4331c7 31px,#4332c8 33px,#402cb8 44px,#4330c5 46px,#3e26a7 55px,#3e26a8 74px,#bfb7e2 75px,#fff 76px"></i><i style="top:567px;height:75px;--g:#fff 0,#ebecfe 1px,#5c65f5 2px,#484ef1 3px,#4538d8 14px,#4539d9 22px,#4435d1 25px,#402bb6 44px,#4230c3 45px,#4331c6 46px,#3f28ae 52px,#3e26a8 55px,#3e26a8 74px,#fff 75px"></i><i style="top:569px;height:73px;--g:#fff 0,#8589f6 1px,#484cf0 2px,#4639da 12px,#4537d5 21px,#402bb6 42px,#4332c9 43px,#3e27aa 51px,#3e26a8 53px,#3e26a8 71px,#7e6ec5 72px,#fff 73px"></i><i style="top:566px;height:76px;--g:#fff 0,#ebecfe 1px,#c2c5fb 2px,#8589f6 3px,#5c60f1 4px,#484bee 5px,#4539d9 15px,#4537d4 26px,#4433cb 30px,#412cb9 44px,#4332c9 46px,#3e27aa 54px,#3e26a8 56px,#3e26a8 74px,#bfb7e2 75px,#fff 76px"></i><i style="top:563px;height:79px;--g:#fff 0,#ebecfe 1px,#707af7 3px,#4852f4 4px,#4745ea 10px,#463bdb 15px,#463dde 16px,#4537d6 22px,#4536d3 29px,#4332c9 33px,#4331c7 37px,#402cb8 47px,#4433cb 48px,#3e28ad 56px,#3e26a8 59px,#3e26a8 77px,#eae7f5 78px,#fff 79px"></i><i style="top:563px;height:78px;--g:#fff 0,#99a2fb 1px,#4756f7 2px,#484aee 8px,#463adb 15px,#4537d7 24px,#4332ca 33px,#4331c7 37px,#412cba 46px,#402dba 47px,#4433cb 48px,#3e26a7 58px,#3e26a8 76px,#7e6ec5 77px,#fff 78px"></i><i style="top:556px;height:85px;--g:#fff 0,#eaeeff 1px,#c1cbfe 2px,#c1c9fd 4px,#98a5fc 5px,#707ffa 7px,#4758f8 8px,#4849ed 15px,#463bdd 21px,#4537d5 31px,#4332c8 40px,#4332c8 43px,#412cba 53px,#4332ca 55px,#3e26a7 65px,#3e26a8 83px,#bfb7e2 84px,#fff 85px"></i><i style="top:554px;height:87px;--g:#fff 0,#d6dcfe 1px,#c1cbfe 2px,#98a8fd 3px,#8396fd 4px,#8396fd 5px,#4560fb 6px,#4560fb 8px,#4754f5 10px,#4754f5 13px,#484cf0 15px,#4741e5 20px,#4538d8 27px,#4536d4 35px,#4330c5 43px,#4332c8 45px,#412cb9 55px,#4331c6 56px,#4332ca 57px,#3f28ae 64px,#3e26a8 67px,#3e26a8 85px,#eae7f5 86px,#fff 87px"></i><i style="top:560px;height:80px;--g:#fff 0,#d6dbfe 1px,#c1c9fd 2px,#98a3fb 3px,#8491fa 4px,#4754f5 5px,#4850f3 8px,#4740e4 14px,#4538d7 21px,#4537d6 28px,#4230c5 37px,#4330c5 41px,#412cb8 49px,#4434cd 50px,#3f28ae 58px,#3e26a8 61px,#3e26a8 78px,#6956bb 79px,#fff 80px"></i><i style="top:564px;height:76px;--g:#fff 0,#99a0f9 1px,#4852f3 2px,#463adb 13px,#4537d6 25px,#4331c8 31px,#422fc2 35px,#4330c4 37px,#402cb8 45px,#4433cd 46px,#3f28ad 54px,#3e26a8 57px,#3e26a8 74px,#bfb7e2 75px,#fff 76px"></i><i style="top:567px;height:73px;--g:#fff 0,#ebebfd 1px,#c2c3f9 2px,#c2c1f8 4px,#adadf5 5px,#8481ee 6px,#847fec 7px,#463ddf 8px,#4539d9 11px,#4538d7 22px,#4331c6 28px,#4230c3 34px,#402bb7 42px,#43c 43px,#3e28ac 51px,#3e26a8 54px,#3e26a8 71px,#eae7f5 72px,#fff 73px"></i><i style="top:575px;height:64px;--g:#fff 0,#aca7ed 2px,#5a4edb 3px,#4539d8 4px,#4538d8 12px,#4535d2 16px,#4331c7 19px,#4230c3 26px,#412cb9 33px,#412dbc 34px,#43c 35px,#3e26a7 45px,#3e26a8 62px,#6956bb 63px,#fff 64px"></i><i style="top:576px;height:63px;--g:#fff 0,#d6d3f7 1px,#5a4fde 2px,#463ada 3px,#4539d8 9px,#4536d3 14px,#4333cb 17px,#422fc3 25px,#412cb8 32px,#4332ca 34px,#3e26a7 44px,#3e26a8 61px,#a99fd8 62px,#fff 63px"></i><i style="top:576px;height:63px;--g:#fff 0,#eae9fb 1px,#463bdc 2px,#4538d8 8px,#4535d1 14px,#4332c9 17px,#43c 18px,#412cb9 31px,#412dbb 32px,#4433cb 33px,#4333ca 34px,#3f29af 41px,#3e26a8 44px,#3e26a8 61px,#eae7f5 62px,#fff 63px"></i><i style="top:577px;height:61px;--g:#fff 0,#c1bdf3 1px,#4539d9 2px,#4539d8 7px,#4332c9 16px,#4332ca 18px,#412cb9 30px,#4332c9 31px,#4434ce 32px,#3f29b2 39px,#3e26a8 43px,#3e26a8 59px,#533eb2 60px,#fff 61px"></i><i style="top:578px;height:60px;--g:#fff 0,#aca7ee 1px,#4639d9 2px,#4538d7 7px,#4333cb 14px,#4333ca 16px,#412cba 28px,#412dbc 29px,#4435d2 30px,#3f29b0 38px,#3e26a8 42px,#3e26a8 58px,#a99fd8 59px,#fff 60px"></i><i style="top:579px;height:59px;--g:#fff 0,#5a4edc 1px,#4538d8 2px,#4538d8 5px,#43c 13px,#412cba 27px,#4435d0 29px,#3f28ad 38px,#3e26a8 41px,#3e26a8 57px,#d4cfec 58px,#fff 59px"></i><i style="top:579px;height:58px;--g:#fff 0,#847de8 1px,#463adb 2px,#412dbb 26px,#412dbb 27px,#4433cb 28px,#4435d0 29px,#3e26a7 40px,#3e26a8 56px,#6956bb 57px,#fff 58px"></i><i style="top:578px;height:59px;--g:#fff 0,#eae9fb 1px,#6f66e3 2px,#463ada 3px,#412dbb 27px,#412dbb 28px,#4333cb 29px,#4435d0 30px,#3e27ac 39px,#3e26a8 41px,#3e26a8 57px,#9486cf 58px,#fff 59px"></i><i style="top:578px;height:59px;--g:#fff 0,#5b52e2 1px,#463bdb 2px,#4332c9 17px,#412cba 26px,#412dbb 28px,#4536d3 29px,#3f28af 38px,#3e26a8 41px,#3e26a8 57px,#d4cfec 58px,#fff 59px"></i><i style="top:578px;height:58px;--g:#fff 0,#c1bef4 1px,#c1bdf3 2px,#aca7ee 3px,#4538d6 4px,#4332c9 17px,#412cb9 27px,#4435cf 28px,#4536d3 29px,#3f29b2 37px,#3e26a8 41px,#3e26a8 56px,#533eb2 57px,#fff 58px"></i><i style="top:580px;height:56px;--g:#fff 0,#5a4fde 1px,#4538d8 2px,#4537d5 7px,#4332ca 15px,#412cb8 24px,#412dbd 25px,#4537d6 26px,#3f29b1 35px,#3e26a8 39px,#3e26a8 54px,#9486cf 55px,#fff 56px"></i><i style="top:579px;height:57px;--g:#fff 0,#eae9fb 1px,#ada7ef 2px,#5a4edb 4px,#4537d6 5px,#4332c9 16px,#412cb9 25px,#4230c4 26px,#4536d5 27px,#3f29b0 36px,#3e26a8 40px,#3e26a8 55px,#d4cfec 56px,#fff 57px"></i><i style="top:581px;height:54px;--g:#fff 0,#aca7ee 1px,#4537d6 2px,#4536d3 7px,#412dbb 22px,#4230c4 23px,#4538d7 24px,#3e26a7 37px,#3e26a8 53px,#fff 54px"></i><i style="top:582px;height:53px;--g:#fff 0,#d6d3f6 1px,#5a4dda 2px,#4536d5 3px,#4537d5 6px,#4332c8 11px,#4230c3 17px,#412dbc 21px,#412ebe 22px,#4537d7 23px,#3e25a7 36px,#3e26a8 51px,#9486cf 52px,#fff 53px"></i><i style="top:582px;height:53px;--g:#fff 0,#9891ea 1px,#4538d8 2px,#422ebf 20px,#422fc1 21px,#4436d2 22px,#4537d6 23px,#3e25a7 36px,#3e26a8 51px,#d4cfec 52px,#fff 53px"></i><i style="top:581px;height:53px;--g:#fff 0,#eae9fb 1px,#ada7ee 2px,#5a4fdd 3px,#4537d5 4px,#422fc2 19px,#4230c3 21px,#4539d8 22px,#4539d9 23px,#3f28ae 34px,#3e26a8 37px,#3e26a8 52px,#fff 53px"></i><i style="top:582px;height:52px;--g:#fff 0,#9892eb 1px,#4539d9 2px,#4434ce 5px,#4536d3 6px,#4230c3 17px,#4331c6 20px,#4539d8 21px,#4539d9 22px,#3f28ae 33px,#3e26a8 36px,#3e26a8 50px,#7e6ec5 51px,#fff 52px"></i><i style="top:584px;height:50px;--g:#fff 0,#d6d2f5 1px,#8278e0 2px,#4434ce 3px,#4332ca 11px,#422ebf 18px,#4436d0 19px,#4538d7 20px,#3f28ad 31px,#3e26a8 34px,#3e26a8 48px,#bfb7e2 49px,#fff 50px"></i><i style="top:587px;height:46px;--g:#fff 0,#c0bbee 1px,#4434ce 2px,#422fc1 15px,#4537d7 17px,#3e26a7 30px,#3e26a8 45px,#fff 46px"></i><i style="top:587px;height:46px;--g:#fff 0,#8278df 1px,#4435d0 2px,#4230c4 14px,#4639da 16px,#3e25a7 30px,#3e26a8 44px,#7e6ec5 45px,#fff 46px"></i><i style="top:587px;height:46px;--g:#fff 0,#6e61d9 1px,#4434ce 2px,#4433cb 7px,#4434ce 9px,#4331c6 13px,#453ada 14px,#463bdd 15px,#3f28af 27px,#3e26a8 30px,#3e26a8 44px,#bfb7e2 45px,#fff 46px"></i><i style="top:588px;height:44px;--g:#fff 0,#6e61d9 1px,#4434cf 2px,#4433cd 5px,#4535d2 7px,#4332c9 11px,#4434cd 12px,#463ee0 13px,#3e26ab 27px,#3e26a8 29px,#3e26a8 43px,#fff 44px"></i><i style="top:588px;height:44px;--g:#fff 0,#6e62dc 1px,#4536d3 2px,#4537d5 6px,#4332c9 11px,#453ad9 12px,#463ddf 13px,#4537d7 16px,#3f28ad 26px,#3e26a8 29px,#3e26a8 42px,#7e6ec5 43px,#fff 44px"></i><i style="top:587px;height:45px;--g:#fff 0,#d6d3f7 1px,#4539d8 2px,#4537d5 4px,#463ada 5px,#43c 12px,#473ce1 14px,#402ab5 25px,#3e26a7 30px,#3e26a8 43px,#bfb7e2 44px,#fff 45px"></i><i style="top:586px;height:46px;--g:#fff 0,#9893ec 1px,#463bdb 2px,#4537d6 4px,#463adb 6px,#4435d1 11px,#473ee3 14px,#3f28b1 27px,#3e26a7 31px,#3e26a8 44px,#eae7f5 45px,#fff 46px"></i><i style="top:586px;height:45px;--g:#fff 0,#c1bef4 1px,#463adb 2px,#4538d7 4px,#463cdd 5px,#4536d4 10px,#4743e6 11px,#4742e6 12px,#4434d1 19px,#3e28ac 28px,#3e26a8 31px,#3e26a8 43px,#6956bb 44px,#fff 45px"></i><i style="top:587px;height:44px;--g:#fff 0,#6f66e2 1px,#453adb 2px,#463de0 3px,#453ada 8px,#4745ea 10px,#4536d4 17px,#3e27ab 27px,#3e26a8 30px,#3e26a8 42px,#a99fd8 43px,#fff 44px"></i><i style="top:587px;height:44px;--g:#fff 0,#ada9f1 1px,#463dde 2px,#463ee0 5px,#463bdb 8px,#4746ea 9px,#4742e7 11px,#4434d0 18px,#3f29af 26px,#3e26a8 30px,#3e26a8 42px,#eae7f5 43px,#fff 44px"></i><i style="top:588px;height:42px;--g:#fff 0,#ada8f0 1px,#463ee0 2px,#463cdd 7px,#4744e9 9px,#4537d7 15px,#3e27ab 26px,#3e26a8 30px,#3e26a8 40px,#6956bb 41px,#fff 42px"></i><i style="top:587px;height:43px;--g:#fff 0,#ebeafc 1px,#4742e6 3px,#463ee0 5px,#4748ec 8px,#4746ea 9px,#4537d6 16px,#3e27ab 27px,#3e26a8 31px,#3e26a8 41px,#a99fd8 42px,#fff 43px"></i><i style="top:587px;height:43px;--g:#fff 0,#5b5aeb 1px,#4744e8 2px,#473fe2 4px,#484cef 6px,#4744e9 10px,#4537d7 16px,#3f28ae 26px,#3e26a8 31px,#3e26a8 41px,#eae7f5 42px,#fff 43px"></i><i style="top:584px;height:45px;--g:#fff 0,#ebebfd 1px,#9999f4 2px,#5b5aec 3px,#4745e9 4px,#4745e9 6px,#484ff1 8px,#4849ee 10px,#4537d7 19px,#3f28ae 29px,#3e26a8 34px,#3e26a8 43px,#6956bb 44px,#fff 45px"></i><i style="top:583px;height:46px;--g:#fff 0,#ebebfd 1px,#5c5ef0 2px,#4748ec 3px,#4747eb 5px,#4853f4 7px,#484cf1 10px,#4536d6 20px,#3f28af 30px,#3e26a8 36px,#3e26a8 44px,#9486cf 45px,#fff 46px"></i><i style="top:583px;height:46px;--g:#fff 0,#7175f4 1px,#484ef1 2px,#4753f5 5px,#484df0 10px,#473ce0 17px,#3f28af 30px,#3e26a8 36px,#3e26a8 44px,#d4cfec 45px,#fff 46px"></i><i style="top:580px;height:48px;--g:#fff 0,#eaedfe 1px,#4759f8 3px,#475bf9 6px,#4844eb 16px,#3f27b0 33px,#3e26a8 39px,#3e26a8 46px,#533eb2 47px,#fff 48px"></i><i style="top:575px;height:53px;--g:#fff 0,#bfcfff 1px,#c0cdfe 2px,#96aafe 3px,#8299fe 4px,#4463fc 5px,#465efa 6px,#465ffb 9px,#4856f7 13px,#4740e6 23px,#412cba 35px,#3e28ac 40px,#3e26a8 44px,#3e26a8 51px,#9486cf 52px,#fff 53px"></i><i style="top:566px;height:62px;--g:#fff 0,#bad5fd 1px,#bad5fd 2px,#77a8fd 3px,#79a5fe 5px,#6296fd 6px,#3a73fe 7px,#4465fd 14px,#465efb 15px,#4662fd 17px,#484bef 27px,#473ee2 33px,#4029b2 46px,#3e26a7 54px,#3e26a8 60px,#d4cfec 61px,#fff 62px"></i><i style="top:556px;height:71px;--g:#fff 0,#b7ddf8 1px,#b8dafa 6px,#a3c8fc 7px,#4692f9 9px,#2f83f8 10px,#317efb 15px,#3c71fe 17px,#416bfe 20px,#475af9 31px,#4742e7 41px,#4536d4 47px,#402ab2 56px,#3e26a7 64px,#3e26a8 69px,#533eb2 70px,#fff 71px"></i><i style="top:510px;height:117px;--g:#fff 0,#d8eec6 1px,#d8eec6 15px,#c9ebd3 16px,#ace7ee 17px,#ace7ee 30px,#75d6e3 31px,#5bcddf 32px,#5fcbe2 33px,#5fcbe2 38px,#2cb9db 39px,#12b0d7 40px,#2897eb 44px,#2d8bf3 52px,#2f82f9 55px,#3a74fe 63px,#3a74fe 65px,#4564fe 72px,#4844eb 86px,#4331c9 96px,#3e27ab 105px,#3e26a8 115px,#9486cf 116px,#fff 117px"></i><i style="top:479px;height:148px;--g:#fff 0,#ebf9f2 1px,#c2eed7 2px,#c2eed7 8px,#9bdc9d 9px,#9bdc9d 24px,#85dcae 25px,#85dcae 26px,#46cb87 27px,#46cb87 46px,#41c791 47px,#24b8be 48px,#24b8be 55px,#11b0d7 56px,#18a7dd 71px,#2897eb 73px,#2896eb 79px,#2b90f0 80px,#2b8ff1 84px,#3082fa 86px,#3180fa 89px,#3679fd 90px,#327cfc 93px,#4468ff 101px,#4949ee 115px,#4538d8 123px,#402bb7 132px,#3e28ac 136px,#3e26a8 146px,#d4cfec 147px,#fff 148px"></i><i style="top:540px;height:86px;--g:#fff 0,#e5f6fa 1px,#b0e5f1 2px,#b5e0f6 8px,#ade6f0 10px,#aee6f0 12px,#67c3ea 13px,#6ebdf0 14px,#6ebdf0 17px,#57afef 18px,#2a93ed 19px,#2a94ed 22px,#2e85f8 26px,#327cfc 32px,#3f6efe 38px,#475dfb 45px,#4740e5 58px,#4331c9 66px,#3f29ae 74px,#3e26a8 81px,#3e26a8 84px,#533eb2 85px,#fff 86px"></i><i style="top:558px;height:68px;--g:#fff 0,#b8dafa 1px,#5aa9f3 2px,#2c8df2 3px,#317dfc 13px,#3d73ff 18px,#4954f7 31px,#4742e7 39px,#4433cd 47px,#3f29af 56px,#3e26a8 63px,#3e26a8 66px,#9486cf 67px,#fff 68px"></i><i style="top:560px;height:66px;--g:#fff 0,#d0e6fc 1px,#72b4f5 2px,#2d8af5 3px,#337bfd 13px,#3e6fff 17px,#4660fc 23px,#4854f5 29px,#4740e4 38px,#4331c8 46px,#3f28ad 55px,#3e26a8 61px,#3e26a8 64px,#bfb7e2 65px,#fff 66px"></i><i style="top:554px;height:71px;--g:#fff 0,#6ebdef 2px,#6fbbf1 3px,#2798ea 4px,#2f83f9 15px,#3976ff 20px,#4958f9 33px,#4742e6 43px,#4536d3 49px,#3f29af 60px,#3e26a7 68px,#3e26a8 70px,#fff 71px"></i><i style="top:531px;height:94px;--g:#fff 0,#ace8ea 1px,#aee6f0 12px,#5bcfdc 13px,#5ecdde 16px,#67c6e9 17px,#68c5ea 18px,#37b0e5 19px,#20a4e3 20px,#337bfd 41px,#3d70fe 45px,#4661fd 52px,#4844ea 65px,#4536d3 72px,#3f28ad 84px,#3e26a8 92px,#7e6ec5 93px,#fff 94px"></i><i style="top:523px;height:102px;--g:#fff 0,#e4f7fa 1px,#aee6f0 2px,#aee6f0 12px,#5dcce2 13px,#5dcce1 22px,#65c6e8 24px,#67c6e9 26px,#36b1e4 27px,#1ea7e1 28px,#2c8df2 41px,#2e88f6 42px,#357afd 50px,#4565fd 58px,#484ef3 68px,#4536d5 80px,#3f28ad 92px,#3e26a8 100px,#bfb7e2 101px,#fff 102px"></i><i style="top:542px;height:82px;--g:#fff 0,#e5f6fb 1px,#b1e4f3 2px,#b1e4f3 3px,#7ed2ea 4px,#66c7e8 5px,#69c4eb 8px,#1fa6e1 9px,#3181fb 27px,#4760fe 41px,#4742e7 55px,#4435d1 62px,#3f29b0 72px,#3e26a8 81px,#fff 82px"></i><i style="top:543px;height:81px;--g:#fff 0,#95dced 1px,#49c0e1 2px,#17adda 3px,#2c90f0 20px,#2c87f9 23px,#4564ff 38px,#4848ed 51px,#4435d2 61px,#402ab3 70px,#3e26a9 79px,#7e6ec5 80px,#fff 81px"></i><i style="top:545px;height:79px;--g:#fff 0,#cbedf7 1px,#7ed2ea 2px,#67c7e9 3px,#1ca9df 4px,#2995ec 15px,#337dfd 25px,#4662fe 37px,#4844e9 51px,#4536d4 58px,#3f29b0 69px,#3e26a9 77px,#bfb7e2 78px,#fff 79px"></i><i style="top:547px;height:76px;--g:#fff 0,#e6f5fb 1px,#1ea8e0 3px,#2c8ff1 17px,#327cfd 24px,#4762fd 35px,#4846eb 48px,#4435d1 57px,#3f29b0 67px,#3e26a9 75px,#fff 76px"></i><i style="top:550px;height:73px;--g:#fff 0,#b4e1f5 1px,#b5e0f6 3px,#85c9f1 4px,#259be8 5px,#2798eb 9px,#3677ff 23px,#4565fd 30px,#475cfa 35px,#4848ed 44px,#4538d8 52px,#402bb6 62px,#3e26a9 71px,#7e6ec6 72px,#fff 73px"></i><i style="top:555px;height:68px;--g:#fff 0,#cfe8fa 1px,#b7dcf8 2px,#b8dbf9 4px,#a1cff7 5px,#72b6f4 6px,#73b2f7 9px,#2d8af4 10px,#317dfc 16px,#406eff 21px,#4953f6 34px,#473fe3 43px,#4435d1 49px,#3f29b1 59px,#3e26a9 66px,#bfb7e2 67px,#fff 68px"></i><i style="top:568px;height:54px;--g:#fff 0,#d1e3fe 1px,#bad4fe 2px,#bbd3fe 3px,#77a6fd 4px,#7ca2fe 7px,#3d70fe 8px,#475dfb 16px,#4844eb 27px,#412bb9 43px,#3e26a9 53px,#fff 54px"></i><i style="top:579px;height:43px;--g:#fff 0,#eaeeff 1px,#c1cbfe 2px,#c2c8fd 5px,#99a4fc 6px,#848ffa 7px,#858df8 9px,#7178f6 10px,#4850f2 11px,#4433d0 25px,#402bb4 34px,#3e27aa 40px,#3e27a9 41px,#6956bc 42px,#fff 43px"></i><i style="top:592px;height:30px;--g:#fff 0,#d6d7fb 1px,#c2c1f8 2px,#9997f2 3px,#8481ee 4px,#5b55e6 5px,#463de0 6px,#402ab4 21px,#3e27a9 28px,#bfb7e2 29px,#fff 30px"></i><i style="top:599px;height:22px;--g:#fff 0,#eae9fb 1px,#4537d5 3px,#402bb7 13px,#3e27aa 20px,#3e27a9 21px,#fff 22px"></i><i style="top:601px;height:20px;--g:#fff 0,#8379e3 1px,#4536d3 2px,#402bb7 11px,#3e27aa 18px,#7e6fc6 19px,#fff 20px"></i><i style="top:602px;height:19px;--g:#fff 0,#5a4cd8 1px,#4435d0 2px,#3e27ab 16px,#3e27a9 17px,#a99fd9 18px,#fff 19px"></i><i style="top:603px;height:17px;--g:#fff 0,#eae9fa 1px,#c1bbee 2px,#4230c4 4px,#3e27ab 15px,#3e27a9 16px,#fff 17px"></i><i style="top:606px;height:14px;--g:#fff 0,#c0baeb 1px,#6c5dce 2px,#422ebf 3px,#3e27aa 12px,#9487cf 13px,#fff 14px"></i><i style="top:608px;height:12px;--g:#fff 0,#c0b9e9 1px,#412dba 2px,#3e27aa 10px,#bfb7e3 11px,#fff 12px"></i><i style="top:609px;height:10px;--g:#fff 0,#958ad9 1px,#402bb7 2px,#3e27ac 8px,#533fb3 9px,#fff 10px"></i><i style="top:610px;height:9px;--g:#fff 0,#bfb8e7 1px,#5542bd 2px,#402ab4 3px,#3e27ab 7px,#9487d0 8px,#fff 9px"></i><i style="top:611px;height:8px;--g:#fff 0,#9589d6 1px,#402ab4 2px,#3e27ab 6px,#eae7f6 7px,#fff 8px"></i><i style="top:611px;height:7px;--g:#fff 0,#d5d0ef 1px,#5542bb 2px,#3f29b1 3px,#3e28ac 5px,#533fb4 6px,#fff 7px"></i><i style="top:612px;height:6px;--g:#fff 0,#eae7f6 1px,#5441b9 2px,#3f28ae 3px,#3e27ac 4px,#a99fd9 5px,#fff 6px"></i><i style="top:613px;height:5px;--g:#fff 0,#eae7f6 1px,#5440b6 2px,#3e27ab 3px,#eae7f6 4px,#fff 5px"></i><i style="top:614px;height:3px;--g:#fff 0,#eae7f6 1px,#6957be 2px,#fff 3px"></i></div>
<div class="p" style="left:399px"><i style="top:526px;height:3px;--g:#fff 0,#d6d3f7 1px,#d6d3f7 2px,#fff 3px"></i><i style="top:522px;height:10px;--g:#fff 0,#c2c6fc 1px,#4750f2 2px,#463dde 6px,#5a50df 7px,#9890e8 8px,#c1bcf1 9px,#fff 10px"></i><i style="top:524px;height:11px;--g:#fff 0,#ebebfe 1px,#999df8 2px,#5c5fef 3px,#4849ed 4px,#4537d4 8px,#988fe6 9px,#d6d2f5 10px,#fff 11px"></i><i style="top:527px;height:11px;--g:#fff 0,#d6d8fc 1px,#999df7 2px,#4644e2 3px,#484aed 4px,#4537d5 8px,#978fe6 9px,#d5d2f5 10px,#fff 11px"></i><i style="top:528px;height:13px;--g:#fff 0,#eae7f5 1px,#3e26a9 2px,#402fb9 3px,#443cd4 4px,#4743e4 5px,#4847ea 6px,#4539d9 9px,#978ee4 11px,#eae9fa 12px,#fff 13px"></i><i style="top:528px;height:16px;--g:#fff 0,#bfb7e2 1px,#3e26a8 2px,#402ab3 5px,#4641df 7px,#484bee 8px,#4639d8 12px,#6e63de 13px,#c1bcf0 14px,#eae9fa 15px,#fff 16px"></i><i style="top:525px;height:21px;--g:#fff 0,#eae9fa 1px,#978ee3 2px,#8174d5 3px,#402bb6 4px,#3e26a8 6px,#412dbb 11px,#4847eb 14px,#4539d7 18px,#8278df 19px,#aca5ea 20px,#fff 21px"></i><i style="top:524px;height:25px;--g:#fff 0,#d6d5fa 1px,#9892ec 2px,#4536d2 3px,#3f29b1 8px,#3f29b0 10px,#412dbb 15px,#4848ed 18px,#4536d4 22px,#fff 25px"></i><i style="top:519px;height:33px;--g:#fff 0,#abbbfe 1px,#6f84fc 2px,#4759f8 3px,#4844e9 7px,#4434cf 10px,#412cb9 14px,#4029b2 17px,#412dbd 23px,#4744e4 25px,#4849ec 26px,#453bdb 29px,#594dd9 30px,#d5d2f5 32px,#fff 33px"></i><i style="top:520px;height:35px;--g:#fff 0,#8493fc 2px,#5b6cf9 3px,#4755f6 4px,#4740e5 8px,#422ec0 13px,#402ab2 19px,#412dbb 24px,#4232c4 25px,#4745e6 27px,#4741e5 29px,#4539d8 31px,#594cd6 32px,#aca5ea 33px,#fff 35px"></i><i style="top:523px;height:34px;--g:#fff 0,#ebebfd 1px,#999bf5 3px,#4745e7 4px,#473ee2 7px,#412cbb 13px,#402ab3 18px,#402cb8 23px,#422fc1 25px,#4644e5 27px,#4745e9 28px,#4539d8 31px,#6e63dc 32px,#aca5eb 33px,#fff 34px"></i><i style="top:525px;height:35px;--g:#fff 0,#eae8f9 1px,#4231c5 3px,#463adb 5px,#463bdc 6px,#412cb9 14px,#402ab3 19px,#412dbc 25px,#4332c6 26px,#4747e9 28px,#4745e8 29px,#4537d5 32px,#fff 35px"></i><i style="top:524px;height:39px;--g:#fff 0,#eae9fa 1px,#8277de 2px,#4332ca 3px,#422ec0 6px,#4434cf 9px,#4435d1 11px,#412cb9 17px,#402ab3 22px,#402bb7 27px,#412dbd 29px,#4641df 31px,#4745e7 32px,#4740e2 34px,#4538d6 36px,#978fe5 37px,#c1bcf0 38px,#fff 39px"></i><i style="top:525px;height:41px;--g:#fff 0,#aca6ec 1px,#6d61d9 2px,#43c 3px,#422fc0 8px,#4332c8 13px,#402bb7 19px,#402ab4 23px,#402bb5 28px,#412ebe 31px,#4746eb 34px,#4437d4 38px,#978fe5 39px,#d5d2f5 40px,#fff 41px"></i><i style="top:524px;height:45px;--g:#fff 0,#9891e9 1px,#8378e0 2px,#4331c6 3px,#422ebf 17px,#402ab2 26px,#412dbb 34px,#422ebf 35px,#4746ea 38px,#453bda 41px,#594dd8 42px,#aca5eb 43px,#eae9fa 44px,#fff 45px"></i><i style="top:524px;height:48px;--g:#fff 0,#c1bef3 1px,#6e63de 2px,#4435d1 3px,#4331c6 7px,#402ab3 28px,#412dbb 37px,#4232c4 38px,#4744e4 40px,#4846ea 41px,#4539d8 44px,#6e63dc 45px,#eae9fa 47px,#fff 48px"></i><i style="top:525px;height:50px;--g:#fff 0,#5849d0 1px,#4332c8 2px,#4434cd 5px,#412ebe 15px,#402ab3 28px,#402cb8 38px,#412dbc 39px,#453fdc 41px,#4744e8 43px,#4538d7 46px,#c1bcef 48px,#eae9fa 49px,#fff 50px"></i><i style="top:524px;height:53px;--g:#fff 0,#4332c8 3px,#4434cd 5px,#4433cd 8px,#412dbb 21px,#402ab3 31px,#412cb9 42px,#412ebd 43px,#4744e8 46px,#4537d4 50px,#6e61da 51px,#d6d2f5 52px,#fff 53px"></i><i style="top:523px;height:57px;--g:#fff 0,#847eea 1px,#463bdb 2px,#4433cd 5px,#4434ce 11px,#412cba 24px,#402ab3 34px,#402ab4 43px,#412ebd 47px,#4333c9 48px,#4641df 49px,#4849ec 50px,#4537d5 54px,#988fe6 55px,#d5d2f5 56px,#fff 57px"></i><i style="top:524px;height:59px;--g:#fff 0,#c1bdf3 1px,#463bdb 2px,#4435d2 7px,#4029b2 34px,#402ab4 44px,#412dbb 48px,#4232c4 49px,#4644e4 51px,#4848eb 52px,#453ada 55px,#594dd8 56px,#978fe6 57px,#eae9fa 58px,#fff 59px"></i><i style="top:523px;height:63px;--g:#fff 0,#eae9fa 1px,#8379e2 2px,#4536d3 3px,#463adb 6px,#412dbc 27px,#402ab2 36px,#402cb8 51px,#412dba 52px,#443bd5 54px,#4744e8 56px,#4539d8 59px,#6e63dd 60px,#eae9fa 62px,#fff 63px"></i><i style="top:523px;height:65px;--g:#fff 0,#6f67e4 1px,#4539d9 2px,#4537d6 4px,#463ddf 8px,#4536d4 13px,#402ab2 37px,#402ab3 48px,#412cb9 54px,#412dbc 55px,#484bf0 58px,#4638d8 62px,#fff 65px"></i><i style="top:522px;height:69px;--g:#fff 0,#c2bff6 1px,#5b54e5 2px,#463de0 3px,#4539d7 7px,#463bdd 12px,#412dbc 32px,#402ab3 40px,#402ab3 52px,#402cb8 58px,#4439d0 60px,#4749ea 61px,#484aed 62px,#4435d1 66px,#6d60d6 67px,#aba4e7 68px,#fff 69px"></i><i style="top:522px;height:71px;--g:#fff 0,#adaaf3 1px,#463ddf 2px,#4539d9 10px,#463ddf 15px,#4536d4 19px,#4029b2 42px,#402ab3 55px,#402cb9 60px,#4335c7 61px,#4644e0 62px,#484aee 64px,#463adb 68px,#6f67e5 69px,#eae9fb 70px,#fff 71px"></i><i style="top:522px;height:73px;--g:#fff 0,#eae9fb 1px,#837ae4 2px,#4538d7 3px,#463ddf 8px,#4539d8 14px,#463bde 17px,#4029b2 43px,#402bb6 61px,#412cb8 62px,#4550ea 63px,#4756f6 64px,#4742e6 68px,#4743e7 69px,#5b56e8 70px,#d6d5f9 72px,#fff 73px"></i><i style="top:521px;height:77px;--g:#fff 0,#d6d5fa 1px,#5b55e6 2px,#463dde 3px,#4537d5 6px,#463cde 13px,#4539d9 18px,#463bdd 22px,#4029b1 46px,#402ab3 49px,#3e3bb1 50px,#3b5ead 51px,#3a5eac 54px,#3455c1 56px,#3454c2 59px,#2b7bd3 60px,#2c7ad5 62px,#317aef 63px,#3677fc 64px,#3876fd 66px,#4460fb 67px,#4741e5 73px,#5b55e6 74px,#d6d4f8 76px,#fff 77px"></i><i style="top:521px;height:80px;--g:#fff 0,#c2c0f7 1px,#4741e5 2px,#4537d6 7px,#463cdd 17px,#4539d9 21px,#463bdc 26px,#4348d3 27px,#3e67c4 28px,#3e65c1 31px,#3795b0 32px,#3694ae 35px,#32b5a5 36px,#30c5a1 37px,#30c5a1 51px,#2bc4a4 52px,#0ebac1 54px,#0fbdbb 56px,#12afd4 57px,#18aadc 58px,#18aadc 59px,#2994ed 61px,#2c8df2 63px,#3975fe 66px,#475bfa 69px,#4742e6 73px,#463fe1 77px,#fff 80px"></i><i style="top:520px;height:84px;--g:#fff 0,#ebeafd 1px,#c2c0f7 2px,#706ae9 3px,#473ee1 4px,#4538d7 12px,#463bdd 29px,#422ec0 43px,#3c60b5 44px,#3b5dac 52px,#365db1 56px,#297cb6 57px,#1f8abc 58px,#1d86c7 59px,#2680cf 60px,#3072d9 63px,#307ae2 64px,#2e86f7 65px,#3778fd 67px,#485bfb 71px,#4741e4 75px,#463dde 76px,#4744e7 78px,#463cde 81px,#fff 84px"></i><i style="top:520px;height:87px;--g:#fff 0,#ebebfd 1px,#706fee 2px,#4743e7 3px,#4537d5 15px,#463bdc 25px,#453ad9 29px,#463bdd 32px,#412cba 48px,#402ab2 53px,#402ab4 67px,#4140cf 69px,#423fd0 70px,#4750f1 73px,#4850f2 74px,#463bdd 78px,#4746eb 80px,#463adb 84px,#fff 87px"></i><i style="top:522px;height:88px;--g:#fff 0,#c2bef4 1px,#5b52e2 2px,#463ddf 3px,#4538d7 18px,#463bdd 33px,#412cba 48px,#402ab2 53px,#402ab3 64px,#412cb9 69px,#4331c5 71px,#474bea 73px,#484ff2 74px,#463cde 77px,#463cdd 78px,#4748ed 80px,#453ada 85px,#837be5 86px,#d6d3f6 87px,#fff 88px"></i><i style="top:520px;height:93px;--g:#fff 0,#d6d6fa 1px,#ada8f0 3px,#594cd6 4px,#4434ce 5px,#4539d9 7px,#463ddf 15px,#4538d7 24px,#463bdd 38px,#4029b2 56px,#402ab3 67px,#412cb9 73px,#422fc2 75px,#4748e8 77px,#484bef 78px,#463cdd 81px,#484aef 84px,#4539d8 90px,#837ae4 91px,#d6d3f6 92px,#fff 93px"></i><i style="top:519px;height:97px;--g:#fff 0,#d6d7fb 1px,#5c5def 2px,#4746ea 3px,#4538d7 8px,#463cdd 21px,#4538d7 32px,#463bdd 42px,#4029b1 59px,#402ab4 71px,#412ebe 78px,#474dec 80px,#4752f3 81px,#4746ea 82px,#463ee1 84px,#484cf0 87px,#4639d9 93px,#5a4dda 94px,#8379e2 95px,#fff 97px"></i><i style="top:521px;height:98px;--g:#fff 0,#d6d6fa 1px,#6f6be9 2px,#4740e3 3px,#4538d8 16px,#463cdd 24px,#4538d7 34px,#463bdd 43px,#4029b1 59px,#402bb7 74px,#3f34c0 75px,#3f44d0 76px,#3f6bfc 77px,#3f69fa 79px,#4751f3 81px,#4755f5 82px,#464dee 83px,#484cf0 88px,#4538d6 94px,#594cd8 95px,#978fe5 96px,#c1bcef 97px,#fff 98px"></i><i style="top:522px;height:100px;--g:#fff 0,#6e65e0 1px,#4538d7 2px,#463ee0 13px,#4538d7 21px,#463cde 28px,#4538d7 35px,#453adb 44px,#3f6ac9 45px,#3b5eaf 57px,#365db1 63px,#336db1 64px,#2f90ad 65px,#2f90ad 69px,#2f7aca 70px,#2876d4 71px,#2385d8 72px,#1aa0e2 73px,#2b8ef0 74px,#2893ee 75px,#3872f8 77px,#425ef6 79px,#455af7 84px,#464ded 86px,#484bf1 89px,#4536d3 96px,#594bd6 97px,#d5d2f4 99px,#fff 100px"></i><i style="top:522px;height:103px;--g:#fff 0,#8379e2 1px,#4536d4 2px,#463ddf 20px,#4539d8 28px,#463cde 34px,#4538d7 39px,#4348d1 40px,#3e67c5 41px,#3e69c7 47px,#3987ba 48px,#3798b6 49px,#3693ab 58px,#30c5a1 59px,#30c5a1 66px,#23c1ae 67px,#0eb9c4 68px,#09bac3 70px,#0ab3cf 71px,#1ba7df 72px,#1ea5e1 74px,#2991ef 75px,#2b8ef1 77px,#3679f8 78px,#3973fb 79px,#4564fd 81px,#4844e9 87px,#484df1 91px,#4534d2 99px,#978ee3 101px,#d5d2f4 102px,#fff 103px"></i><i style="top:521px;height:107px;--g:#fff 0,#c1bdf2 1px,#463ada 2px,#4538d7 19px,#463cde 27px,#4539d8 45px,#463adb 53px,#402ab3 64px,#3b5ead 65px,#375db1 69px,#2f5ab7 70px,#1c87c3 71px,#1a93cc 72px,#14aed8 73px,#13add8 74px,#1fa3e2 75px,#22a1e4 77px,#2e86f7 80px,#3083f8 81px,#3e6eff 83px,#4857f7 86px,#473fe3 90px,#484df2 94px,#4435d0 103px,#6e61d8 104px,#eae8f9 106px,#fff 107px"></i><i style="top:519px;height:111px;--g:#fff 0,#7172f1 1px,#4744e7 2px,#463ada 5px,#463adb 57px,#402ab4 67px,#402ab3 73px,#3448ba 74px,#2a66c2 76px,#189dd4 78px,#14abd9 79px,#2698ea 81px,#2c8df2 85px,#3976f9 86px,#4169fd 87px,#4367fd 88px,#4754f4 90px,#4851f2 91px,#4742e5 93px,#473fe2 94px,#484df2 98px,#4434ce 108px,#6d60d7 109px,#aba4e8 110px,#fff 111px"></i><i style="top:519px;height:114px;--g:#fff 0,#c2c2f9 1px,#4746ea 2px,#4539d9 7px,#463bdb 59px,#4538d6 62px,#402ab5 68px,#3f2ab1 74px,#2a7dd2 77px,#248bd5 78px,#18aadb 79px,#19a7de 80px,#2796ec 81px,#229ee6 82px,#239ce8 83px,#2c8bf3 84px,#347cfa 88px,#406afd 89px,#4756f7 92px,#4740e3 95px,#463ee1 96px,#484bef 99px,#484af0 101px,#4334cc 111px,#6d60d6 112px,#aba4e7 113px,#fff 114px"></i><i style="top:520px;height:116px;--g:#fff 0,#c2c0f7 1px,#5b56e7 2px,#4740e3 3px,#4539d8 8px,#463adb 62px,#4536d4 64px,#3f2ab2 70px,#402ab3 77px,#297dd1 78px,#1ea7e1 79px,#1fa4e2 80px,#18acdc 81px,#249be8 83px,#2c8df2 87px,#4465fc 90px,#4464fc 91px,#4756f6 92px,#4853f4 93px,#463ee0 96px,#484cf1 102px,#4431cb 113px,#fff 116px"></i><i style="top:519px;height:120px;--g:#fff 0,#ebeafc 1px,#847feb 2px,#6f66e3 3px,#463adb 4px,#463ddf 6px,#4538d7 31px,#463bdc 59px,#4537d6 67px,#3f29b1 73px,#402ab3 79px,#3c38b8 80px,#268ad7 81px,#1fa4e2 82px,#1ba7df 83px,#1ea4e2 85px,#239de7 86px,#2c8cf3 87px,#2f85f7 90px,#3e6efe 92px,#475bf9 95px,#4741e5 98px,#463cdf 100px,#484aee 103px,#4849ef 106px,#4330c8 117px,#fff 120px"></i><i style="top:520px;height:122px;--g:#fff 0,#c2c0f6 1px,#463cde 2px,#4539d9 5px,#463bdc 26px,#4539d9 64px,#4434cf 69px,#3f2ab1 74px,#402ab3 81px,#2f6dce 82px,#2b7ad3 83px,#2d78d5 84px,#229fe5 85px,#2e88f5 91px,#4365fc 93px,#4463fc 94px,#4562fc 95px,#484bee 98px,#4740e2 99px,#463ddf 101px,#4849ed 104px,#484bee 107px,#473fe4 111px,#422fc2 119px,#fff 122px"></i><i style="top:521px;height:123px;--g:#fff 0,#837ae4 1px,#4538d7 2px,#4539d9 61px,#4434ce 69px,#3f2ab3 75px,#402ab3 82px,#3d37b9 83px,#22a0e5 84px,#2698eb 88px,#2d89f4 89px,#337efa 93px,#4069fc 94px,#4366fd 95px,#4852f5 97px,#463bdd 101px,#484aee 106px,#484af0 108px,#4434d1 116px,#422fc1 121px,#aba2e3 122px,#fff 123px"></i><i style="top:521px;height:123px;--g:#fff 0,#5a4dda 1px,#4536d4 2px,#463bdc 58px,#4537d6 66px,#422fc2 73px,#3f2ab2 76px,#402ab3 85px,#2887da 86px,#249ee7 87px,#2d8af3 94px,#3a74f9 95px,#4266fd 96px,#4365fc 97px,#4852f4 99px,#463ee1 102px,#463edf 104px,#484af1 109px,#4230c3 121px,#968bdd 122px,#fff 123px"></i><i style="top:519px;height:125px;--g:#fff 0,#9997f1 1px,#463ddf 2px,#4539d8 4px,#473fe2 36px,#463ddf 55px,#4435d2 70px,#4330c4 74px,#3f2ab2 78px,#402ab3 86px,#1a9dd6 87px,#15acd9 88px,#0fb0d4 89px,#13abd8 90px,#229ce7 91px,#2e89f5 97px,#3c70fe 99px,#4165fb 101px,#4850f3 103px,#463fe1 106px,#463cdd 107px,#4746ea 111px,#4846ec 113px,#4331c6 123px,#d5d1f2 124px,#fff 125px"></i><i style="top:519px;height:124px;--g:#fff 0,#c2c0f7 1px,#4742e5 2px,#463bdb 36px,#463ee0 46px,#4538d8 64px,#4433cd 72px,#3f2ab2 78px,#402ab3 89px,#2c65c3 90px,#2a7cd2 91px,#2689d7 92px,#21a2e4 93px,#2699ea 97px,#3975fb 100px,#4267fd 102px,#4754f5 105px,#4748eb 106px,#463cde 108px,#4742e7 115px,#4433cd 122px,#6d60d5 123px,#fff 124px"></i><i style="top:520px;height:123px;--g:#fff 0,#9893ec 1px,#463bdb 2px,#463ddf 5px,#4538d8 20px,#4740e3 33px,#463ada 43px,#4539d9 65px,#4330c4 73px,#3f2ab2 77px,#3f2ab2 89px,#3c37b8 90px,#3652c3 91px,#2984db 92px,#239ee6 93px,#21a0e5 94px,#2a8ff1 97px,#2e87f5 100px,#3877fb 101px,#3d6efd 102px,#494ff3 106px,#4640e2 108px,#463cde 110px,#463ee0 116px,#4434cf 121px,#aca5e9 122px,#fff 123px"></i><i style="top:520px;height:123px;--g:#fff 0,#9891e9 1px,#4537d4 2px,#4740e4 22px,#4539d8 35px,#463adb 62px,#4432ca 72px,#3f2ab2 77px,#3f2ab2 90px,#3b38b7 91px,#2d6ecd 93px,#1aa7de 94px,#1aa8de 95px,#239fe6 97px,#2799ea 100px,#2b90ee 101px,#3e6efd 103px,#416bfd 104px,#4169fd 105px,#475af8 106px,#473ee1 110px,#4435d0 121px,#c1bbef 122px,#fff 123px"></i><i style="top:520px;height:122px;--g:#fff 0,#c1bdf2 1px,#463cdd 2px,#4740e4 11px,#4538d7 25px,#463bdc 35px,#4539d8 43px,#463bdd 59px,#4434ce 71px,#3f2ab2 77px,#3f2ab2 93px,#2e6ecd 94px,#1fa2e2 96px,#2a93ef 101px,#337ff9 103px,#3a72fd 106px,#4461fa 107px,#4845ea 111px,#463bdc 113px,#4434cf 121px,#fff 122px"></i><i style="top:520px;height:122px;--g:#fff 0,#9890e7 1px,#4538d7 2px,#463ddf 5px,#4538d6 19px,#463adb 27px,#4539d9 52px,#463ddf 57px,#4435d1 70px,#4331c5 72px,#422dbe 75px,#3f2ab2 77px,#3f2ab2 95px,#3c37b8 96px,#1f8dd2 97px,#1ca6df 98px,#2699ea 104px,#347ef6 105px,#3c71fc 106px,#406bfe 108px,#4753f4 111px,#4748eb 112px,#463cdf 114px,#4434ce 121px,#fff 122px"></i><i style="top:519px;height:123px;--g:#fff 0,#eae9fb 1px,#594dda 2px,#4436d2 3px,#463adb 21px,#4539d9 50px,#463cdd 59px,#4536d3 69px,#4539d8 70px,#4331c7 72px,#422fc0 76px,#402ab4 77px,#3f2ab2 78px,#3f2ab2 96px,#3454c1 97px,#3553c2 99px,#218bd4 100px,#1ea2e2 101px,#2896ec 103px,#2895ec 106px,#347dfa 108px,#3975fd 110px,#3b70fb 111px,#4758f7 112px,#4852f4 114px,#463cde 117px,#4435d1 121px,#6e61d9 122px,#fff 123px"></i><i style="top:519px;height:123px;--g:#fff 0,#9892ec 1px,#5a4edc 2px,#4538d7 3px,#463bdc 14px,#4538d6 29px,#463bdc 35px,#4538d8 47px,#463ddf 53px,#4538d6 64px,#4537d5 68px,#463ada 69px,#4231c6 72px,#4230c4 75px,#3f2ab2 78px,#3f2ab2 99px,#3354c1 100px,#3453c2 101px,#2b70ca 102px,#1ca6e0 103px,#1aa7de 104px,#1ea4e1 106px,#2599e9 107px,#2a8ef1 109px,#3778fc 110px,#406bfe 113px,#4754f6 115px,#463cde 119px,#4537d5 121px,#8379e2 122px,#fff 123px"></i><i style="top:518px;height:124px;--g:#fff 0,#c2c0f6 1px,#6f68e6 2px,#463bdd 3px,#4538d6 24px,#463bdc 31px,#4538d7 45px,#463cdd 48px,#463ddf 52px,#4539d9 54px,#463cdd 56px,#4536d2 68px,#463bdb 69px,#453ad9 70px,#4331c8 72px,#4230c4 75px,#4332c9 76px,#402ab4 78px,#3f2ab2 79px,#3f2ab2 101px,#3453c2 102px,#3453c2 103px,#2097db 104px,#1da4e1 105px,#219ee5 106px,#249ce7 110px,#2993ed 111px,#3282f8 112px,#357afd 114px,#475af9 117px,#4757f7 118px,#4742e5 120px,#5b54e5 121px,#837ae3 122px,#aca6ec 123px,#fff 124px"></i><i style="top:518px;height:120px;--g:#fff 0,#c2c0f7 1px,#4740e4 2px,#463bdc 5px,#4537d5 13px,#463bdc 26px,#4538d8 42px,#463ddf 49px,#4539d8 52px,#463cde 54px,#4538d8 58px,#463bdc 60px,#4538d6 62px,#4537d7 66px,#4435d0 67px,#463bdc 68px,#463bdc 69px,#4332c9 71px,#4331c5 72px,#4332ca 73px,#4230c3 74px,#4331c7 76px,#402ab4 78px,#3f2ab2 79px,#3f2ab2 105px,#2f57bd 106px,#287dd1 107px,#2887d9 108px,#1ca9df 109px,#1ca9df 110px,#2b8ef1 111px,#337cfb 114px,#3d6efc 116px,#455af6 117px,#474ff1 118px,#ada8ef 119px,#fff 120px"></i><i style="top:519px;height:121px;--g:#fff 0,#d6d2f5 1px,#4537d6 2px,#463bdc 21px,#4538d7 26px,#463adb 32px,#4538d7 38px,#463ee0 46px,#4538d7 48px,#463dde 51px,#4538d7 55px,#463cdd 57px,#4537d5 60px,#4538d7 64px,#4435d1 65px,#463ddf 67px,#4330c6 70px,#4332c9 72px,#4230c4 73px,#4332c9 74px,#4331c6 75px,#402ab3 77px,#3f2ab2 78px,#3f2ab2 110px,#384dc6 111px,#3e43cc 115px,#434fe4 116px,#474ef0 118px,#706deb 119px,#ebeafc 120px,#fff 121px"></i><i style="top:518px;height:123px;--g:#fff 0,#d6d4f7 1px,#463adb 2px,#4537d5 5px,#463bdc 16px,#4538d7 36px,#463cde 39px,#463ada 42px,#463ee1 44px,#4538d6 47px,#463ee0 50px,#4639d9 52px,#4538d8 55px,#463bdc 57px,#4537d5 60px,#4538d7 64px,#4435d1 65px,#4537d3 66px,#473ee1 67px,#4331c8 70px,#4331c8 76px,#412dbb 77px,#3f2ab2 79px,#3f2ab2 112px,#412cba 120px,#4435cd 121px,#9790e7 122px,#fff 123px"></i><i style="top:519px;height:123px;--g:#fff 0,#aca6ed 1px,#4538d6 2px,#463ddf 11px,#4538d6 18px,#463bdb 25px,#4538d7 31px,#463de0 40px,#4538d7 44px,#463dde 47px,#4537d5 52px,#463cdd 54px,#4537d5 58px,#4538d7 62px,#4434cf 64px,#463edf 65px,#463cdd 66px,#4332ca 68px,#4331c7 69px,#43c 71px,#4230c4 72px,#4333ca 74px,#4331c7 75px,#3f2ab2 77px,#3f2ab2 113px,#412dbb 121px,#5746c9 122px,#fff 123px"></i><i style="top:517px;height:126px;--g:#fff 0,#d6d5f9 1px,#6f69e7 2px,#463bdc 3px,#463dde 8px,#4537d6 17px,#463bdc 24px,#4536d5 30px,#463dde 34px,#463ada 37px,#463ee0 40px,#4537d5 44px,#463ee0 47px,#4539d8 49px,#4537d6 53px,#463cdd 54px,#4537d5 58px,#4538d8 63px,#4434cf 65px,#463ee0 67px,#4331c7 70px,#4332c9 73px,#422fc3 74px,#4333cb 76px,#402ab4 79px,#3f2ab2 80px,#3f2ab2 117px,#402bb7 124px,#bfb9e7 125px,#fff 126px"></i><i style="top:516px;height:127px;--g:#fff 0,#ebebfd 1px,#706fef 2px,#4744e7 3px,#463ada 8px,#4538d6 13px,#463bdb 21px,#4537d5 29px,#463ddf 33px,#4539d8 36px,#473ee1 38px,#4536d4 43px,#473fe1 45px,#4538d7 48px,#463ada 50px,#4537d5 52px,#463cdd 54px,#4537d5 58px,#4539d8 63px,#4433cd 65px,#473fe3 67px,#4332c9 70px,#4331c5 72px,#4433cd 73px,#4230c3 75px,#43c 77px,#3f2ab2 80px,#402ab4 125px,#bfb8e6 126px,#fff 127px"></i><i style="top:518px;height:125px;--g:#fff 0,#847eea 1px,#463dde 2px,#4537d6 8px,#463bdc 15px,#4536d5 22px,#463ddf 28px,#4539d9 31px,#463ee1 34px,#4536d4 39px,#473fe2 41px,#4538d7 44px,#463adb 46px,#4537d5 48px,#4537d5 49px,#463dde 50px,#4537d5 55px,#4539d8 60px,#4434cf 62px,#4436d1 63px,#473fe2 64px,#4330c6 68px,#4434cd 71px,#4230c4 72px,#4331c6 74px,#4434ce 75px,#3f2ab2 78px,#402ab3 123px,#bfb8e6 124px,#fff 125px"></i><i style="top:519px;height:124px;--g:#fff 0,#aca6eb 1px,#4536d2 2px,#463cdd 9px,#4536d5 19px,#463de0 24px,#4538d8 27px,#473ee1 30px,#4536d4 35px,#473ee1 38px,#4538d7 41px,#463ada 43px,#4536d5 46px,#463bdd 48px,#4537d4 53px,#4538d8 58px,#4434ce 61px,#473ee2 63px,#4331c7 66px,#4331c6 68px,#4333cc 69px,#422fc3 71px,#4331c7 72px,#4230c4 73px,#4434ce 74px,#3f2ab2 77px,#402ab3 122px,#d5d0ee 123px,#fff 124px"></i><i style="top:518px;height:124px;--g:#fff 0,#eae9fb 1px,#8278df 2px,#4535d2 3px,#463cdd 7px,#4536d5 17px,#463ddf 22px,#4539d8 26px,#473ee1 29px,#4536d3 34px,#473fe1 37px,#4538d6 40px,#463ada 42px,#4536d4 45px,#463cdd 47px,#4537d5 52px,#4538d8 58px,#43c 61px,#4740e3 63px,#4332ca 66px,#4332c8 67px,#4330c5 69px,#4434cf 70px,#422fc3 72px,#4434cd 75px,#402cb8 77px,#402ab3 78px,#3f2ab2 123px,#fff 124px"></i><i style="top:517px;height:125px;--g:#fff 0,#c2c0f6 1px,#463bdc 2px,#4537d5 15px,#463ddf 20px,#4539d8 24px,#473ee1 27px,#4536d3 33px,#473fe2 36px,#4538d6 39px,#463ada 42px,#4536d4 45px,#463ddf 47px,#4537d6 49px,#4538d7 58px,#4434cf 61px,#4436d1 62px,#4640e2 63px,#4331c8 67px,#4331c6 69px,#4333cb 71px,#4230c4 73px,#4433ca 76px,#3f2ab2 79px,#3f2ab2 124px,#fff 125px"></i><i style="top:516px;height:126px;--g:#fff 0,#c2c1f7 1px,#4743e7 2px,#463cde 4px,#4535d3 10px,#463ddf 18px,#4538d8 22px,#463ee1 26px,#4536d3 32px,#473fe2 35px,#4537d6 38px,#463ada 41px,#4536d4 44px,#463cdd 46px,#4536d4 52px,#4538d7 58px,#4434ce 62px,#463ede 63px,#473fe1 64px,#4331c8 67px,#4331c5 70px,#4433cd 71px,#4230c3 73px,#4332ca 77px,#402bb7 79px,#402ab3 80px,#3f2ab2 124px,#6a59c3 125px,#fff 126px"></i><i style="top:517px;height:125px;--g:#fff 0,#d6d5f9 1px,#463cdd 2px,#4537d5 9px,#463ddf 14px,#4538d7 19px,#473fe2 22px,#4536d3 28px,#473fe1 32px,#4537d6 35px,#463adb 38px,#4536d3 41px,#463dde 44px,#4538d7 46px,#4537d5 49px,#4538d8 56px,#4434d0 58px,#4434cd 60px,#4740e4 62px,#4332cb 65px,#4331c5 68px,#4433cd 70px,#422fc3 72px,#4333cb 76px,#422ebf 77px,#3f2ab2 79px,#3f2ab2 123px,#7f71cc 124px,#fff 125px"></i><i style="top:517px;height:125px;--g:#fff 0,#c1bef4 1px,#5a50df 2px,#4538d8 3px,#463ddf 11px,#4538d7 16px,#473fe2 19px,#4536d3 26px,#473fe2 30px,#4537d6 33px,#463adb 36px,#4535d3 40px,#463ddf 42px,#4537d6 45px,#4536d4 48px,#4538d7 50px,#4538d7 55px,#4434d0 57px,#4434ce 59px,#4436d1 60px,#4740e2 61px,#4331c8 65px,#4331c6 68px,#4333cb 70px,#422fc2 72px,#4332c9 73px,#4230c3 74px,#4433cd 75px,#3f2ab2 79px,#3f2ab2 123px,#7f71cc 124px,#fff 125px"></i><i style="top:519px;height:123px;--g:#fff 0,#6e63dc 1px,#4538d7 2px,#463ee0 6px,#4538d7 12px,#473fe2 15px,#4536d3 22px,#473fe2 26px,#4536d4 30px,#463bdb 32px,#4535d3 36px,#463ddf 39px,#4538d6 41px,#4536d3 45px,#4639da 47px,#4537d5 48px,#4539d8 52px,#4434d0 54px,#4434ce 57px,#463ede 58px,#473fe1 59px,#4332c9 62px,#4330c5 66px,#4434cf 67px,#422fc2 70px,#4333cb 71px,#422fc3 72px,#43c 73px,#3f2ab2 77px,#3f2ab2 121px,#bfb8e5 122px,#fff 123px"></i><i style="top:516px;height:126px;--g:#fff 0,#ebeafc 1px,#9894ee 2px,#5a4fdc 3px,#4537d4 4px,#463de0 7px,#4538d7 12px,#4740e3 15px,#4537d5 21px,#4537d6 24px,#4740e3 26px,#4537d6 30px,#463ada 33px,#4535d3 38px,#463ee0 40px,#4537d6 43px,#4536d4 47px,#4539d9 49px,#4537d5 50px,#4539d8 54px,#4434d0 56px,#4434ce 59px,#4740e4 61px,#4331c7 65px,#4331c5 68px,#4433cd 70px,#422fc1 72px,#4332c9 74px,#422fc2 75px,#4434ce 76px,#3f2ab2 80px,#3f2ab2 124px,#bfb8e5 125px,#fff 126px"></i><i style="top:516px;height:126px;--g:#fff 0,#c2bff6 1px,#4741e5 2px,#4537d5 8px,#473ee1 13px,#4535d2 21px,#473fe2 24px,#4536d4 29px,#463bdc 31px,#4535d2 36px,#463de0 38px,#4537d6 41px,#4537d5 52px,#4639d9 53px,#4434d0 55px,#4434ce 58px,#4436d0 59px,#4742e6 60px,#4331c8 64px,#4330c5 68px,#4434cd 69px,#422fc2 72px,#4331c7 74px,#422fc1 75px,#4435d1 76px,#402bb5 79px,#402ab3 80px,#3f2ab2 124px,#eae7f6 125px,#fff 126px"></i><i style="top:516px;height:125px;--g:#fff 0,#ebeafc 1px,#847eea 2px,#463cdd 3px,#4539d9 7px,#473fe2 11px,#4538d6 15px,#4536d4 19px,#473fe3 22px,#4537d6 26px,#463adb 30px,#4535d2 34px,#463de0 37px,#4537d5 40px,#4537d5 51px,#463ada 52px,#4434d0 54px,#4434ce 58px,#4640e1 59px,#4740e3 60px,#4332ca 63px,#4332c8 64px,#4331c6 68px,#4435d0 69px,#422fc2 71px,#4331c8 73px,#422fc1 75px,#4435d1 76px,#412dbc 78px,#3f2ab2 80px,#3f2ab2 124px,#fff 125px"></i><i style="top:517px;height:124px;--g:#fff 0,#d6d2f5 1px,#4435d1 2px,#4740e4 7px,#4536d4 13px,#4537d5 16px,#473fe3 19px,#4537d6 23px,#463ada 27px,#4535d2 32px,#463ee0 34px,#4537d5 37px,#4539d8 39px,#4535d2 42px,#4639da 44px,#4536d4 46px,#4538d8 47px,#4537d4 49px,#463ada 50px,#4434d0 52px,#4434ce 56px,#4741e5 58px,#4331c8 62px,#4331c6 66px,#4434ce 68px,#422fc2 70px,#422fc2 71px,#4332ca 72px,#422fc1 74px,#4434d0 75px,#412dbc 77px,#3f2ab2 79px,#3f2ab2 123px,#fff 124px"></i><i style="top:517px;height:124px;--g:#fff 0,#837ae4 1px,#463ada 2px,#463ee1 5px,#4538d7 9px,#4537d5 14px,#4740e3 17px,#4537d5 21px,#463adb 25px,#4535d2 30px,#463ee0 33px,#4536d4 36px,#4539d8 38px,#4535d2 41px,#4539d8 43px,#4537d4 48px,#4639d9 49px,#4435d0 51px,#4434ce 55px,#4538d3 56px,#4743e7 57px,#4331c9 61px,#4330c5 66px,#4434ce 67px,#422fc2 70px,#422fc2 71px,#4432cb 72px,#4230c3 73px,#4434cf 75px,#412dbb 77px,#3f2ab2 79px,#3f2ab2 122px,#7f71cc 123px,#fff 124px"></i><i style="top:516px;height:125px;--g:#fff 0,#d6d4f8 1px,#463ee0 2px,#4537d6 8px,#4536d4 12px,#4740e3 16px,#4537d5 20px,#463adb 24px,#4535d2 29px,#463de0 32px,#4537d6 35px,#4538d8 37px,#4536d2 41px,#4639d8 43px,#4537d4 48px,#463ada 49px,#4434d0 51px,#4434cd 56px,#4640e1 57px,#473fe2 58px,#4333cb 61px,#4332c9 62px,#4330c4 66px,#4434cf 68px,#422fc1 70px,#4332c9 73px,#422fc2 74px,#4434ce 76px,#412cba 78px,#3f2ab2 80px,#3f2ab2 123px,#7f71cc 124px,#fff 125px"></i><i style="top:515px;height:126px;--g:#fff 0,#847eea 2px,#4539d8 3px,#4536d4 11px,#473fe2 15px,#4536d4 20px,#463bdb 23px,#4535d3 29px,#463ee1 32px,#4536d4 35px,#4539d8 37px,#4535d2 40px,#4539d8 43px,#4536d4 48px,#463ada 49px,#4434d0 51px,#4434ce 56px,#4741e6 58px,#4331c8 62px,#4331c6 67px,#4434ce 69px,#422fc0 71px,#4331c8 73px,#4230c2 75px,#4434cd 77px,#412cba 79px,#3f2ab2 81px,#3f2ab2 124px,#9489d4 125px,#fff 126px"></i><i style="top:515px;height:126px;--g:#fff 0,#adabf4 1px,#4740e3 2px,#463cde 3px,#4535d2 6px,#4538d7 10px,#4740e3 13px,#4536d5 18px,#463bdb 22px,#4534d2 27px,#463ee0 30px,#4536d4 34px,#4539d8 36px,#4535d1 39px,#4639d9 41px,#4536d4 46px,#463ad9 48px,#4435d0 50px,#4434ce 55px,#4538d3 56px,#4743e7 57px,#4435d1 60px,#4332c8 62px,#4230c5 67px,#4435d0 68px,#4230c4 70px,#422fc2 72px,#4432ca 73px,#422fc1 75px,#4434cd 76px,#4434cd 77px,#412cba 79px,#3f2ab2 81px,#3f2ab2 124px,#bfb8e5 125px,#fff 126px"></i><i style="top:515px;height:126px;--g:#fff 0,#eae9fc 1px,#6f68e5 2px,#463bdc 3px,#4538d7 8px,#473fe2 11px,#4536d4 16px,#463adb 20px,#4535d2 26px,#473ee1 29px,#4536d3 32px,#4539d8 34px,#4535d1 38px,#463ada 40px,#4536d4 42px,#4538d7 44px,#4536d3 46px,#463ada 47px,#4435d0 49px,#4434cd 55px,#4742e5 56px,#4740e4 57px,#4331c8 61px,#4331c5 66px,#4434cf 68px,#4230c3 70px,#422fc2 72px,#43c 73px,#422fc1 75px,#4433cd 76px,#4433cb 77px,#412cb9 79px,#3f2ab2 81px,#3f2ab2 124px,#bfb8e5 125px,#fff 126px"></i><i style="top:515px;height:125px;--g:#fff 0,#d6d4f9 1px,#847eeb 2px,#463cdd 3px,#4539d9 5px,#4740e3 9px,#4536d4 14px,#463bdb 18px,#4535d2 24px,#463ee0 27px,#4536d4 31px,#4539d8 33px,#4535d2 37px,#4639d9 39px,#4536d4 44px,#4639d9 46px,#4434cf 49px,#4435ce 54px,#4742e6 56px,#4331c9 60px,#4330c5 66px,#4434ce 67px,#422fc2 70px,#4332c8 73px,#422fc1 75px,#4434cd 76px,#3f2ab2 81px,#3f2ab2 124px,#fff 125px"></i><i style="top:516px;height:124px;--g:#fff 0,#c1bdf2 1px,#594bd5 2px,#4538d7 3px,#473fe2 4px,#4740e4 5px,#4537d5 11px,#463adb 15px,#4535d3 22px,#473fe1 25px,#4536d4 28px,#4539d8 31px,#4535d1 34px,#4539d8 37px,#4536d4 42px,#463ad9 44px,#4434cf 47px,#4434cd 52px,#4539d6 53px,#4744e8 54px,#4333cb 58px,#4332c9 59px,#4330c5 64px,#4331c7 65px,#4535d1 66px,#422fc1 69px,#4332c8 72px,#422fc1 74px,#4536d2 75px,#402cb8 78px,#3f2ab2 80px,#3f2ab2 123px,#fff 124px"></i><i style="top:516px;height:124px;--g:#fff 0,#9892ec 1px,#473ee1 2px,#4537d6 9px,#463bdb 13px,#4536d3 18px,#4537d5 21px,#463fe1 23px,#4536d3 27px,#4539d8 29px,#4535d2 33px,#4539d9 36px,#4536d4 41px,#4639d9 43px,#4434cf 46px,#4434ce 51px,#4436d0 52px,#4743e5 53px,#4741e4 54px,#4433cd 57px,#4332c8 59px,#4330c5 64px,#4435d0 66px,#4230c3 68px,#422fc2 70px,#4332c9 71px,#422fc1 74px,#4536d2 75px,#412cb8 78px,#3f2ab2 80px,#3f2ab2 122px,#6a59c3 123px,#fff 124px"></i><i style="top:515px;height:125px;--g:#fff 0,#9994ef 1px,#463cdc 3px,#463ddf 4px,#4536d3 8px,#463bdc 12px,#4534d1 19px,#463ee0 22px,#4537d5 26px,#4538d8 29px,#4535d1 33px,#4639d9 35px,#4536d3 41px,#463ad9 43px,#4434cf 46px,#4434cd 52px,#463fdf 53px,#4742e6 54px,#4434d0 57px,#4332c8 59px,#4330c5 65px,#4434cf 66px,#4230c2 69px,#422fc2 71px,#4433cb 72px,#422fc2 75px,#4435d2 76px,#412bb7 79px,#3f2ab2 81px,#3f2ab2 123px,#7f71cc 124px,#fff 125px"></i><i style="top:515px;height:125px;--g:#fff 0,#5b56e7 1px,#463ee1 2px,#4538d7 4px,#4535d2 6px,#463adb 11px,#4535d2 18px,#473fe1 21px,#4536d3 25px,#4539d8 27px,#4535d1 32px,#4639d9 34px,#4536d3 40px,#4639d9 42px,#4434d0 45px,#4434cd 51px,#4742e6 53px,#4331c8 58px,#4330c5 64px,#4434d0 66px,#4230c3 68px,#422fc3 71px,#43c 72px,#422fc0 74px,#4435d0 76px,#402cb7 79px,#3f2ab2 81px,#3f2ab2 123px,#7f71cc 124px,#fff 125px"></i><i style="top:514px;height:126px;--g:#fff 0,#c2c0f6 1px,#9893ec 2px,#463ada 3px,#4537d5 5px,#463ada 10px,#4534d2 17px,#463ee1 20px,#4537d5 24px,#4538d8 27px,#4535d1 32px,#463adb 34px,#4536d3 36px,#4539d8 38px,#4535d2 40px,#463ada 42px,#4434cf 45px,#4434cd 51px,#4436d0 52px,#4743e5 53px,#4741e5 54px,#43c 57px,#4331c6 61px,#4330c6 65px,#4434d0 67px,#4230c2 69px,#422fc2 71px,#4332ca 73px,#422fc0 75px,#4435d0 77px,#402bb7 80px,#3f2ab2 82px,#3f2ab2 124px,#bfb8e5 125px,#fff 126px"></i><i style="top:514px;height:126px;--g:#fff 0,#9996f1 1px,#4740e3 2px,#4538d8 5px,#463bdc 8px,#4536d3 13px,#4536d4 16px,#463ee1 19px,#4536d4 23px,#4539d8 26px,#4535d1 30px,#4639d9 33px,#4436d3 39px,#4639d9 41px,#4434d0 44px,#4434cd 51px,#4642e3 52px,#4742e6 53px,#4331c7 58px,#4330c6 65px,#4435d1 66px,#422fc1 69px,#4332c8 73px,#422fc1 75px,#4435d0 77px,#402bb6 80px,#3f2ab2 82px,#3f2ab2 124px,#bfb8e5 125px,#fff 126px"></i><i style="top:514px;height:126px;--g:#fff 0,#9997f1 1px,#473fe3 3px,#4535d3 12px,#4536d4 15px,#473fe2 17px,#4536d4 21px,#4539d9 24px,#4535d1 28px,#463ada 32px,#4536d3 34px,#4539d9 36px,#4435d1 38px,#463ada 40px,#4434d0 43px,#4434cd 50px,#4743e8 52px,#4331c8 57px,#4331c5 64px,#4435cf 66px,#422fc1 69px,#422fc2 71px,#4333cb 72px,#422fc1 75px,#4434cd 76px,#4434cf 77px,#402bb6 80px,#3f2ab2 82px,#3f2ab2 124px,#d4d0ee 125px,#fff 126px"></i><i style="top:515px;height:124px;--g:#fff 0,#eae9fa 1px,#837be4 2px,#463dde 3px,#4535d2 12px,#463fe2 15px,#4536d3 19px,#4539d9 22px,#4534d0 26px,#463ada 29px,#4536d3 32px,#4539d9 34px,#4435d1 36px,#463ada 38px,#4434d0 41px,#4434cd 48px,#4436d0 49px,#4745e9 50px,#4332c9 55px,#4330c5 63px,#4434cf 64px,#422fc2 69px,#422fc3 70px,#4434cd 71px,#422fc1 74px,#4434ce 75px,#4434ce 76px,#402bb6 79px,#3f2ab2 81px,#3f2ab2 123px,#fff 124px"></i><i style="top:514px;height:125px;--g:#fff 0,#eae9fb 1px,#5a4fde 2px,#4539d8 3px,#4536d3 6px,#4537d5 11px,#463ee0 14px,#4536d3 19px,#4539d8 21px,#4535d1 27px,#463adb 29px,#4536d3 32px,#4539d9 34px,#4435d1 36px,#463ada 38px,#4434d0 41px,#4434cd 49px,#4642e3 50px,#4743e7 51px,#4331c8 56px,#4330c5 63px,#4331c7 64px,#4535d2 65px,#422fc2 68px,#422fc2 70px,#4332ca 72px,#422fc1 75px,#4435d0 76px,#3f2ab2 81px,#3f2ab2 124px,#fff 125px"></i><i style="top:513px;height:126px;--g:#fff 0,#ebeafc 1px,#706ae9 2px,#463cde 3px,#453ad9 4px,#4434cf 9px,#473fe2 14px,#4536d3 18px,#4539d9 21px,#4535d1 26px,#463ada 29px,#4536d3 32px,#4539d9 34px,#4435d1 36px,#463ada 38px,#4434d0 41px,#4434cd 49px,#4744e9 51px,#4331c9 56px,#4331c5 64px,#4435d0 66px,#422fc1 69px,#422fc3 71px,#4332c9 73px,#422fc1 76px,#4536d3 77px,#402bb6 81px,#3f2ab2 83px,#3f2ab2 124px,#6a59c3 125px,#fff 126px"></i><i style="top:513px;height:126px;--g:#fff 0,#847fec 2px,#5a50de 3px,#4538d6 4px,#4536d3 9px,#463ee1 12px,#4536d4 17px,#4539d8 20px,#4535d1 25px,#463adb 28px,#4536d3 30px,#4539d9 33px,#4435d1 35px,#463ada 37px,#4434d0 40px,#4434cd 48px,#4436d0 49px,#4746e9 50px,#4331c7 56px,#4330c5 64px,#4535d1 65px,#4230c3 68px,#422fc2 71px,#4333ca 72px,#422fc1 75px,#422fc2 76px,#4536d3 77px,#412dbb 80px,#3f2ab2 82px,#3f2ab2 124px,#7f71cc 125px,#fff 126px"></i><i style="top:512px;height:127px;--g:#fff 0,#d6d6fb 1px,#8483f1 2px,#4742e5 3px,#4538d8 6px,#4536d3 8px,#473fe2 12px,#4535d3 16px,#4539d8 19px,#4535d1 25px,#463adb 28px,#4535d2 30px,#4539d9 33px,#4435d0 35px,#463adb 37px,#4434d0 40px,#4434cd 49px,#4744e7 50px,#4744e8 51px,#4432cc 55px,#4332c8 57px,#4330c4 64px,#4435d1 66px,#422fc2 69px,#422fc2 72px,#43c 73px,#422fc1 76px,#4230c5 77px,#4536d3 78px,#412dbb 81px,#3f2ab2 83px,#3f2ab2 125px,#9489d4 126px,#fff 127px"></i><i style="top:513px;height:126px;--g:#fff 0,#d6d6fa 1px,#9996f1 2px,#463ddf 4px,#463ada 6px,#463fe1 9px,#4536d3 14px,#4539d9 17px,#4535d0 21px,#463ad9 25px,#4536d3 28px,#4639d9 30px,#4435d1 33px,#463ada 35px,#4434cf 39px,#4434ce 47px,#4745eb 49px,#4433ce 53px,#4332c7 56px,#4330c5 63px,#4535d2 65px,#4230c3 67px,#422fc1 70px,#4333cb 72px,#422ec0 75px,#4536d2 77px,#412cba 80px,#3f2ab2 82px,#3f2ab2 124px,#bfb8e5 125px,#fff 126px"></i><i style="top:515px;height:124px;--g:#fff 0,#d5d1f3 1px,#6d5fd4 2px,#4435cf 3px,#463edf 4px,#4741e5 5px,#4536d4 10px,#4539d8 14px,#4534d0 19px,#463adb 22px,#4535d2 25px,#4539d9 27px,#4435d1 30px,#463adb 32px,#4434d0 35px,#4434cd 44px,#4538d4 45px,#4746ea 46px,#4331c8 52px,#4330c5 60px,#4331c6 61px,#4435d1 62px,#4230c3 65px,#422fc2 68px,#4332ca 70px,#422ebf 73px,#4535d2 75px,#412dba 78px,#3f2ab2 80px,#3f2ab2 122px,#bfb8e5 123px,#fff 124px"></i><i style="top:515px;height:124px;--g:#fff 0,#594cd7 1px,#4537d3 2px,#463ddf 5px,#4536d4 9px,#4539d9 12px,#4535d1 18px,#463adb 21px,#4535d2 24px,#4639d9 26px,#4435d1 29px,#463adb 31px,#4434d0 34px,#4434cd 44px,#4745e7 45px,#4744e8 46px,#4331c9 51px,#4330c5 60px,#4435d1 62px,#422fc2 65px,#422fc3 68px,#4332ca 70px,#422fc0 73px,#4536d3 75px,#412cb9 78px,#3f2ab2 80px,#3f2ab2 122px,#eae7f6 123px,#fff 124px"></i><i style="top:513px;height:125px;--g:#fff 0,#ada8f0 2px,#4539d8 3px,#463ee1 5px,#4435d1 9px,#4539d9 13px,#4535d1 19px,#463adb 22px,#4535d2 25px,#4639d9 27px,#4435d1 30px,#463bdb 32px,#4434d0 35px,#4434cd 45px,#4641e1 46px,#4745e9 47px,#4332ca 52px,#4330c4 61px,#4434cf 64px,#422fc2 67px,#422fc2 70px,#4433cb 71px,#422fc1 74px,#422fc1 75px,#4434ce 76px,#4535d1 77px,#412cb9 80px,#3f2ab2 82px,#3f2ab2 124px,#fff 125px"></i><i style="top:512px;height:126px;--g:#fff 0,#ebeafc 1px,#8480ed 2px,#4742e5 3px,#4535d2 9px,#4538d8 13px,#4535d1 19px,#463adb 21px,#4535d2 25px,#4639d9 27px,#4434d0 30px,#463adb 32px,#4435d0 35px,#4434cd 45px,#453ad7 46px,#4747ea 47px,#4331c8 53px,#4330c4 62px,#4535d1 64px,#4230c3 67px,#4230c4 71px,#4434cd 72px,#422fc1 75px,#422fc2 76px,#4435d0 77px,#4435d0 78px,#412cb9 81px,#3f2ab2 83px,#3f2ab2 125px,#fff 126px"></i><i style="top:512px;height:126px;--g:#fff 0,#adadf6 1px,#4744e8 2px,#463ada 5px,#4536d3 15px,#4535d2 18px,#463adb 20px,#4535d2 24px,#4539da 26px,#4435d0 29px,#463adb 31px,#4434cf 35px,#4434cd 44px,#4436d0 45px,#4745e8 46px,#4744e8 47px,#4331c9 52px,#4330c5 62px,#4435d1 64px,#422fc2 67px,#422fc2 70px,#4333cb 72px,#422fc1 75px,#422fc2 76px,#4535d2 77px,#4435d0 78px,#412cb9 81px,#3f2ab2 83px,#3f2ab2 124px,#7f71cc 125px,#fff 126px"></i><i style="top:512px;height:126px;--g:#fff 0,#ebeafc 1px,#adaaf3 2px,#463cdd 3px,#4536d3 14px,#4536d3 17px,#463bdc 19px,#4535d2 22px,#4539d9 25px,#4434d0 28px,#463adb 30px,#4434cf 34px,#4434cd 44px,#4641e2 45px,#4746ea 46px,#4331c8 52px,#4330c5 61px,#4331c6 62px,#4535d1 63px,#422fc2 67px,#422fc3 70px,#4333cb 72px,#422fc1 75px,#4230c3 76px,#4536d3 77px,#412cb9 81px,#3f2ab2 83px,#3f2ab2 124px,#7f71cc 125px,#fff 126px"></i><i style="top:513px;height:125px;--g:#fff 0,#eae9fb 1px,#4537d6 2px,#4536d3 4px,#463ada 7px,#4535d0 14px,#463bdb 17px,#4535d2 20px,#4639d9 23px,#4435d0 26px,#463adb 28px,#4434cf 32px,#4434cd 42px,#453bd7 43px,#4747eb 44px,#4331c9 50px,#4330c4 60px,#4535d1 62px,#4230c3 65px,#422fc2 69px,#4433cb 70px,#422fc1 74px,#4230c4 75px,#4536d4 76px,#412cb9 80px,#3f2ab2 82px,#3f2ab2 123px,#aaa0dd 124px,#fff 125px"></i><i style="top:514px;height:124px;--g:#fff 0,#c1bcf0 1px,#4435d1 2px,#4539d8 4px,#4535d2 12px,#463bdb 15px,#4535d2 18px,#4539d9 21px,#4434d0 24px,#463adb 26px,#4434d0 30px,#4434cd 40px,#4436d1 41px,#4748eb 42px,#4434d0 47px,#4332c8 49px,#4330c5 59px,#4435d1 61px,#422fc2 64px,#4230c3 68px,#4434cd 69px,#412ebe 73px,#4536d3 75px,#402cb8 79px,#3f2ab2 81px,#3f2ab2 122px,#bfb8e5 123px,#fff 124px"></i><i style="top:513px;height:125px;--g:#fff 0,#c1bdf2 1px,#594dd8 2px,#4435d1 3px,#4538d7 5px,#4535d1 12px,#463bdb 14px,#4536d3 18px,#4639d9 21px,#4434d0 24px,#463ada 26px,#4434cf 31px,#4434cd 41px,#4644e5 42px,#4746ea 43px,#4331c8 49px,#4230c5 59px,#4331c7 60px,#4536d2 61px,#422fc2 65px,#422fc1 68px,#43c 70px,#4230c3 72px,#422fc0 74px,#4536d3 76px,#402bb8 80px,#3f2ab2 82px,#3f2ab2 123px,#d4d0ee 124px,#fff 125px"></i><i style="top:510px;height:127px;--g:#fff 0,#ebebfd 1px,#9997f2 3px,#5b53e3 4px,#463bdd 5px,#4435d1 10px,#4536d3 14px,#463bdb 16px,#4535d2 20px,#4639d9 22px,#4435d1 26px,#463adb 28px,#4434d0 32px,#4434cd 43px,#4846ec 45px,#4331c9 51px,#4330c5 62px,#4536d2 64px,#4230c3 67px,#422fc2 71px,#43c 73px,#422fc2 75px,#422fc1 77px,#4536d3 79px,#402bb7 83px,#3f2ab2 85px,#3f2ab2 126px,#fff 127px"></i><i style="top:511px;height:126px;--g:#fff 0,#d6d7fb 1px,#706fee 2px,#4741e5 3px,#4538d8 6px,#4434d0 11px,#463bdb 14px,#4535d2 18px,#4639da 20px,#4435d1 24px,#463adb 26px,#4434d0 30px,#4434cd 41px,#4436d1 42px,#4748ec 43px,#4331c8 50px,#4331c5 60px,#4435d1 63px,#422fc2 66px,#422fc3 70px,#4433cb 72px,#422fc1 75px,#422fc1 76px,#4536d3 78px,#402bb7 82px,#3f2ab2 84px,#3f2ab2 125px,#fff 126px"></i><i style="top:512px;height:125px;--g:#fff 0,#eaeafc 1px,#463bdc 2px,#4536d4 9px,#463ada 12px,#4535d2 16px,#463ada 18px,#4434d0 22px,#463bdb 24px,#4434d0 28px,#4434cd 40px,#4746e9 41px,#4747eb 42px,#4331c9 48px,#4330c5 59px,#4435d2 61px,#422fc2 65px,#4230c3 69px,#43c 70px,#422fc1 74px,#422fc2 75px,#4434cf 76px,#4435d2 77px,#402bb7 81px,#3f2ab2 83px,#3f2ab2 123px,#6a59c3 124px,#fff 125px"></i><i style="top:513px;height:124px;--g:#fff 0,#eae9fa 1px,#4435d1 3px,#463bdb 10px,#4535d2 13px,#4539d9 16px,#4435d0 20px,#463adb 22px,#4434d0 26px,#4434cd 38px,#4848ee 40px,#4433ce 45px,#4332c9 47px,#4330c5 58px,#4536d2 60px,#4230c3 63px,#422fc1 67px,#4333cb 69px,#422fc1 73px,#422fc2 74px,#4435d1 75px,#4435d1 76px,#402bb6 80px,#3f2ab2 82px,#3f2ab2 122px,#7f71cc 123px,#fff 124px"></i><i style="top:514px;height:123px;--g:#fff 0,#968cdd 1px,#422fc2 2px,#463bdd 7px,#4536d3 11px,#4639d9 14px,#4434d0 18px,#463bdc 20px,#4434d0 24px,#4434cd 36px,#4539d5 37px,#4849ed 38px,#4331c8 45px,#4230c5 56px,#4331c7 57px,#4535d1 58px,#4230c3 62px,#422fc2 66px,#4434cc 68px,#422fc2 70px,#422fc1 72px,#4230c3 73px,#4535d2 74px,#4535d1 75px,#402bb6 79px,#3f2ab2 81px,#3f2ab2 121px,#7f71cc 122px,#fff 123px"></i><i style="top:514px;height:123px;--g:#fff 0,#978de1 1px,#4332c7 2px,#43c 4px,#463adb 6px,#4536d2 10px,#4639da 13px,#4434d0 17px,#463bdc 19px,#4434d0 23px,#4434cd 36px,#4747e9 37px,#4747eb 38px,#4331c9 44px,#4330c4 56px,#4535d2 58px,#4230c3 61px,#422fc2 66px,#4434cd 68px,#422fc2 70px,#422fc1 72px,#4230c5 73px,#4536d3 74px,#402bb6 79px,#3f2ab2 81px,#3f2ab2 121px,#bfb8e5 122px,#fff 123px"></i><i style="top:511px;height:126px;--g:#fff 0,#ebeafc 1px,#463cde 2px,#4538d6 3px,#4332ca 6px,#4539da 8px,#4535d1 12px,#463ada 15px,#4434d0 19px,#463bdc 21px,#4434d0 25px,#4434cd 38px,#4849ee 40px,#4537d5 44px,#4332c9 47px,#4330c4 58px,#4535d1 61px,#4230c3 64px,#422fc3 69px,#4433cb 70px,#4333cb 71px,#422fc2 73px,#422ebf 75px,#4536d4 77px,#402bb6 82px,#3f2ab2 84px,#3f2ab2 124px,#bfb8e5 125px,#fff 126px"></i><i style="top:511px;height:126px;--g:#fff 0,#c2bff6 1px,#463ee0 2px,#4435d1 11px,#4539d9 14px,#4434d0 18px,#463bdc 20px,#4434d0 24px,#4434cd 37px,#453bd8 38px,#4849ed 39px,#4331c9 46px,#4330c4 58px,#4535d2 60px,#4230c3 64px,#422ec1 68px,#43c 70px,#422fc2 73px,#422fc0 75px,#4536d4 77px,#412dbb 81px,#3f2ab2 84px,#3f2ab2 124px,#eae7f6 125px,#fff 126px"></i><i style="top:511px;height:125px;--g:#fff 0,#adabf3 1px,#6f67e4 2px,#463bdc 3px,#463ee0 5px,#4435d1 10px,#4539d9 13px,#4434d0 17px,#463bdc 19px,#4434d0 23px,#4434cd 36px,#4436d1 37px,#4847ea 38px,#4747eb 39px,#4536d4 43px,#4332c8 46px,#4330c5 58px,#4535d2 60px,#422fc2 64px,#422fc2 68px,#4433cd 70px,#422fc1 73px,#422fc1 75px,#4536d4 77px,#412cba 81px,#3f2ab2 84px,#3f2ab2 124px,#fff 125px"></i><i style="top:507px;height:129px;--g:#fff 0,#d6dbfe 1px,#98a4fc 2px,#484ef2 4px,#4537d7 11px,#4539d8 16px,#4434d0 19px,#463adb 22px,#4434d0 26px,#4434cd 40px,#4743e3 41px,#4749ec 42px,#4331c8 49px,#4331c5 61px,#4535d2 64px,#4230c3 67px,#422fc2 72px,#43c 74px,#422fc1 78px,#422fc2 79px,#4536d5 81px,#412cba 85px,#3f2ab2 88px,#3f2ab2 128px,#fff 129px"></i><i style="top:506px;height:130px;--g:#fff 0,#809cfe 1px,#416afe 2px,#494df1 8px,#4742e6 10px,#463bdd 13px,#4435d2 19px,#463ada 22px,#4435d0 26px,#4434cd 40px,#453bd9 41px,#484aed 42px,#4331c9 49px,#4330c4 62px,#4536d3 64px,#422fc2 68px,#422fc3 73px,#4333cb 75px,#422fc1 79px,#422fc2 80px,#4536d4 82px,#412cb9 86px,#3f2ab2 89px,#3f2ab2 128px,#7f71cc 129px,#fff 130px"></i><i style="top:507px;height:129px;--g:#fff 0,#6d87fc 1px,#4464fc 2px,#4465fd 4px,#4851f5 9px,#4533d2 17px,#463bdb 20px,#4434d0 24px,#4434cd 38px,#4436d1 39px,#4848eb 40px,#4748ec 41px,#4536d5 45px,#4332c9 48px,#4330c4 60px,#4535d2 63px,#422fc2 67px,#422fc1 71px,#4333cb 73px,#422fc1 78px,#4230c3 79px,#4434d0 80px,#4536d3 81px,#412cb9 85px,#3f2ab2 88px,#3f2ab2 127px,#7f71cc 128px,#fff 129px"></i><i style="top:507px;height:129px;--g:#fff 0,#98a6fd 1px,#5b6dfa 2px,#4756f7 3px,#455bf7 5px,#416afe 6px,#4856f8 10px,#463cde 17px,#4434cf 25px,#4434ce 38px,#4743e4 39px,#4849ed 40px,#4434d1 45px,#4332c9 48px,#4330c4 60px,#4536d2 62px,#4230c4 66px,#422fc1 71px,#4434cd 73px,#422fc2 76px,#422fc1 78px,#4230c4 79px,#4535d1 80px,#4536d3 81px,#412cb9 85px,#3f2ab2 88px,#3f2ab2 127px,#9489d4 128px,#fff 129px"></i><i style="top:509px;height:127px;--g:#fff 0,#d6d8fc 1px,#7072f1 2px,#4748eb 3px,#4748ec 4px,#4466fe 7px,#4851f4 13px,#463adc 18px,#4435d0 21px,#43c 35px,#484aef 37px,#4536d4 42px,#4332c8 45px,#4330c5 58px,#4536d2 60px,#4230c3 64px,#422fc2 69px,#4434cd 71px,#422fc1 74px,#422fc1 76px,#4230c5 77px,#4535d2 78px,#4535d2 79px,#412cb8 83px,#3f2ab2 86px,#3f2ab2 125px,#bfb8e5 126px,#fff 127px"></i><i style="top:510px;height:126px;--g:#fff 0,#eaeafc 1px,#463fe1 2px,#4748ec 6px,#464eef 7px,#4266fb 8px,#4269fd 9px,#4847ed 16px,#463bdc 19px,#4435d1 22px,#4434cd 33px,#4437d2 34px,#484aee 35px,#4331c9 43px,#4331c5 56px,#4435d1 59px,#422fc2 63px,#422fc3 68px,#43c 70px,#422ebf 74px,#4331c6 76px,#4536d3 77px,#412cb9 82px,#3f2ab2 85px,#3f2ab2 124px,#bfb8e5 125px,#fff 126px"></i><i style="top:511px;height:125px;--g:#fff 0,#d6d4f8 1px,#5a52e1 2px,#473fe2 3px,#463fe1 7px,#455ffa 10px,#4562fc 11px,#4847ec 18px,#463dde 20px,#4434ce 25px,#4434ce 32px,#4746e8 33px,#484aed 34px,#4331c9 41px,#4330c4 55px,#4536d2 57px,#4230c4 61px,#422fc1 66px,#43c 69px,#422ebe 73px,#4332c7 75px,#4536d3 76px,#412cb9 81px,#3f2ab3 83px,#3f2ab2 123px,#eae7f6 124px,#fff 125px"></i><i style="top:511px;height:124px;--g:#fff 0,#eae9fb 1px,#594cd8 2px,#463dde 3px,#463ddf 9px,#4747eb 11px,#4562fc 14px,#484ef2 19px,#463cdf 23px,#4434cf 27px,#4434cd 31px,#484bf0 33px,#4536d5 38px,#4332c9 41px,#4330c4 54px,#4535d2 57px,#4230c3 61px,#422fc1 66px,#43c 68px,#422fc1 73px,#422fc2 74px,#4536d5 76px,#412cb8 81px,#3f2ab3 83px,#3f2ab2 123px,#fff 124px"></i><i style="top:510px;height:125px;--g:#fff 0,#5b54e4 2px,#463ddf 3px,#4639d9 7px,#4741e6 11px,#463ddf 14px,#4642e3 15px,#4562fd 18px,#484cf0 23px,#4433d0 30px,#4537d4 32px,#484bef 33px,#4331c9 41px,#4331c5 55px,#4535d2 58px,#422fc2 62px,#422fc2 67px,#4434cd 69px,#422fc1 72px,#422fc1 74px,#422fc2 75px,#4536d5 77px,#402cb8 82px,#3f2ab3 84px,#3f2ab2 123px,#5442bb 124px,#fff 125px"></i><i style="top:509px;height:126px;--g:#fff 0,#c2c2f8 1px,#463ada 4px,#453ada 9px,#4741e5 11px,#463bdb 14px,#463cdd 18px,#4642e3 19px,#4552f0 20px,#4760fe 22px,#463cde 31px,#463dde 32px,#4849ec 33px,#484aee 34px,#4331c9 41px,#4330c4 56px,#4536d3 58px,#4230c3 62px,#422fc2 68px,#4434cd 70px,#422fc1 73px,#422fc1 75px,#422fc2 76px,#4536d5 78px,#402bb7 83px,#3f2ab3 85px,#3f2ab2 124px,#7f71cc 125px,#fff 126px"></i><i style="top:508px;height:127px;--g:#fff 0,#c2c4fa 1px,#7071f0 2px,#4746e9 3px,#4639da 6px,#4537d5 8px,#4740e3 11px,#4639d9 15px,#463bdc 22px,#465df9 25px,#465ffb 26px,#484df1 34px,#4536d6 39px,#4332c9 42px,#4330c4 56px,#4536d2 59px,#422fc2 63px,#422fc3 69px,#4434ce 71px,#4230c3 73px,#422fc1 76px,#4230c3 77px,#4537d5 79px,#412dbc 83px,#3f2ab2 86px,#3f2ab2 125px,#7f71cc 126px,#fff 127px"></i><i style="top:510px;height:125px;--g:#fff 0,#eae9fb 1px,#6f67e5 2px,#463cdd 3px,#463ee0 8px,#4539d8 13px,#463bdc 23px,#3b75ff 25px,#4954f7 31px,#463adc 36px,#4333ca 39px,#4330c4 54px,#4536d3 57px,#422fc2 61px,#422fc2 66px,#4433cb 68px,#422ebf 74px,#4536d4 77px,#402bb7 82px,#3f2ab3 84px,#3f2ab2 123px,#bfb8e5 124px,#fff 125px"></i><i style="top:511px;height:124px;--g:#fff 0,#6e62da 1px,#4433cd 2px,#4740e4 6px,#4538d7 10px,#463ada 22px,#4149e1 23px,#366ff3 24px,#3479fc 25px,#406cfe 27px,#485afa 30px,#473ee2 36px,#4433cb 40px,#4230c3 52px,#4536d3 55px,#4230c4 59px,#422fc1 65px,#43c 67px,#422ebf 72px,#4230c5 74px,#4435d1 75px,#4536d3 76px,#412dbb 80px,#3f2ab2 83px,#3f2ab2 122px,#bfb8e5 123px,#fff 124px"></i><i style="top:510px;height:125px;--g:#fff 0,#c1bdf2 1px,#4537d4 2px,#4536d3 4px,#463ddf 7px,#4537d6 12px,#4539d9 25px,#443fdd 26px,#4364fb 28px,#465efb 32px,#484aee 37px,#463cdf 40px,#4331c7 45px,#4330c4 53px,#4536d2 56px,#422fc2 60px,#422fc2 66px,#4434ce 68px,#422fc2 71px,#422fc1 73px,#422fc1 74px,#4536d2 76px,#4536d3 77px,#402bb6 82px,#3f2ab3 84px,#3f2ab2 123px,#d4d0ee 124px,#fff 125px"></i><i style="top:511px;height:123px;--g:#fff 0,#aca6ec 1px,#4436d2 2px,#463de0 4px,#4537d6 8px,#4539d8 25px,#463cdd 26px,#4754f5 27px,#474bee 31px,#465efa 34px,#484df1 38px,#463bdd 42px,#4330c6 47px,#4330c5 52px,#4536d2 54px,#422fc2 59px,#422fc3 65px,#4434cd 67px,#422fc1 70px,#422fc1 73px,#4536d3 75px,#4536d3 76px,#412dba 80px,#3f2ab2 83px,#3f2ab2 122px,#fff 123px"></i><i style="top:509px;height:125px;--g:#fff 0,#eae9fb 1px,#6f65e1 2px,#4538d6 3px,#463cdd 6px,#4537d5 10px,#4538d8 27px,#474aeb 28px,#4852f4 29px,#463cdd 35px,#463fdf 36px,#465bf8 38px,#465dfa 39px,#4843e8 45px,#463ada 47px,#4330c4 52px,#4331c7 54px,#4536d3 56px,#4230c3 60px,#422fc2 66px,#4434cd 69px,#422fc1 72px,#422fc1 74px,#422fc2 75px,#4536d3 77px,#4536d3 78px,#402bb6 83px,#3f2ab3 85px,#3f2ab2 124px,#fff 125px"></i><i style="top:510px;height:124px;--g:#fff 0,#5a4fdc 1px,#4539d9 2px,#463ee0 3px,#4537d4 7px,#4537d6 25px,#463edf 26px,#4851f3 27px,#4538d9 34px,#4538d7 37px,#4659f7 40px,#465cfa 41px,#473de1 48px,#4332ca 52px,#4536d2 55px,#4230c3 59px,#422fc1 65px,#43c 67px,#422fc1 73px,#422fc2 74px,#4537d5 76px,#412dbb 81px,#3f2ab2 84px,#3f2ab2 122px,#6a59c3 123px,#fff 124px"></i><i style="top:510px;height:124px;--g:#fff 0,#837be6 1px,#463ee0 2px,#4535d3 9px,#4537d5 24px,#4538d7 25px,#484ef0 26px,#4850f2 27px,#4536d5 34px,#4537d6 39px,#4538d7 40px,#4659f6 43px,#475af9 44px,#463bde 52px,#422fc2 59px,#422fc2 65px,#4434ce 67px,#422fc2 70px,#422fc1 73px,#422fc3 74px,#4537d6 76px,#412cba 81px,#3f2ab2 84px,#3f2ab2 122px,#7f71cc 123px,#fff 124px"></i><i style="top:509px;height:125px;--g:#fff 0,#eae9fb 1px,#aca6ec 2px,#4539d8 3px,#4536d4 24px,#4537d6 25px,#4850f5 27px,#4536d5 34px,#4536d5 43px,#4537d6 44px,#465cfa 47px,#484cf0 52px,#4638d8 56px,#4230c3 60px,#422fc2 66px,#4434ce 68px,#422fc2 71px,#422ebf 74px,#4536d5 77px,#412cba 82px,#3f2ab3 85px,#3f2ab2 123px,#9489d4 124px,#fff 125px"></i><i style="top:508px;height:126px;--g:#fff 0,#8482f0 1px,#4741e5 2px,#4536d3 5px,#4536d2 7px,#4536d4 25px,#453ada 26px,#4850f2 27px,#4535d3 35px,#4536d3 47px,#4538d6 48px,#4663fd 50px,#4846ec 56px,#4331c9 62px,#422fc1 66px,#4434cd 69px,#422fc2 72px,#422fc0 75px,#4537d5 78px,#412cba 83px,#3f2ab2 86px,#3f2ab2 124px,#bfb8e5 125px,#fff 126px"></i><i style="top:509px;height:125px;--g:#fff 0,#9894ee 1px,#5b52e2 2px,#463bdb 3px,#4535d2 7px,#4536d3 23px,#4537d5 24px,#474aec 25px,#484ff2 26px,#4434d1 34px,#4435d1 48px,#453ad7 49px,#475af9 52px,#4759f8 53px,#4744e9 58px,#422fc4 65px,#4434cd 68px,#422fc1 71px,#422fc1 74px,#4537d5 77px,#412cb9 82px,#3f2ab3 85px,#3f2ab2 123px,#bfb8e5 124px,#fff 125px"></i><i style="top:508px;height:126px;--g:#fff 0,#adaaf2 1px,#847de8 2px,#4537d5 3px,#4435d0 4px,#4536d3 7px,#4435d1 24px,#4850f4 26px,#4639da 32px,#4435d0 35px,#4435d0 50px,#4535d3 52px,#4747e9 54px,#4759f8 57px,#4745e9 62px,#4539d9 65px,#4230c4 71px,#422fc0 75px,#4537d5 78px,#412cb9 83px,#3f2ab3 86px,#3f2ab2 124px,#eae7f6 125px,#fff 126px"></i><i style="top:509px;height:124px;--g:#fff 0,#5a50df 1px,#4539d9 2px,#4535d1 6px,#4535d2 22px,#4539d8 23px,#484cef 24px,#484ef1 25px,#463adb 30px,#4434d0 33px,#4434ce 49px,#463bdc 53px,#4537d7 55px,#4756f5 58px,#4757f7 59px,#4845eb 64px,#422ec1 71px,#422fc1 74px,#4535d2 76px,#4536d3 77px,#412cb8 82px,#3f2ab3 85px,#3f2ab2 123px,#fff 124px"></i><i style="top:509px;height:124px;--g:#fff 0,#847ce6 1px,#4538d7 2px,#4435d1 9px,#4435d1 21px,#4536d4 22px,#4747e9 23px,#484ef1 24px,#4538d8 30px,#4434ce 33px,#4434cd 49px,#463adb 53px,#4434d0 57px,#4435d1 58px,#453edc 59px,#475efb 61px,#4847ec 66px,#4433ce 71px,#4230c3 74px,#4536d3 76px,#4536d3 77px,#402cb8 82px,#3f2ab3 85px,#3f2ab2 123px,#fff 124px"></i><i style="top:510px;height:123px;--g:#fff 0,#8277dc 1px,#4435d0 2px,#4435d0 20px,#484df3 22px,#4433ce 31px,#43c 48px,#4639d9 51px,#4434cd 58px,#4434ce 59px,#4756f5 62px,#4758f7 63px,#4741e6 69px,#4536d3 72px,#4536d4 76px,#402cb8 81px,#3f2ab3 84px,#3f2ab2 121px,#7f71cc 122px,#fff 123px"></i><i style="top:509px;height:124px;--g:#fff 0,#d5d2f5 1px,#8277dd 2px,#4434cd 3px,#4435d2 7px,#4435d1 20px,#4539d7 21px,#484cee 22px,#484df0 23px,#4536d6 29px,#4434cd 32px,#43c 49px,#453ada 52px,#4433cd 56px,#43c 61px,#4433ce 63px,#474bec 65px,#4758f8 67px,#4847ec 72px,#4332cb 79px,#402cb7 82px,#3f2ab3 85px,#3f2ab2 122px,#7f71cc 123px,#fff 124px"></i><i style="top:509px;height:124px;--g:#fff 0,#6e62dc 1px,#4434ce 2px,#4435d0 19px,#4436d3 20px,#4746e8 21px,#484ef1 22px,#4537d8 28px,#4433cd 31px,#4333ca 48px,#4539d9 52px,#4333cb 56px,#43c 63px,#463bdc 67px,#4658f6 69px,#465bf9 70px,#484bf1 74px,#4330c9 80px,#402bb6 83px,#3f2ab2 86px,#3f2ab2 122px,#9489d4 123px,#fff 124px"></i><i style="top:507px;height:126px;--g:#fff 0,#ebeafc 1px,#5b53e3 2px,#4539d9 3px,#4434cf 7px,#4435d0 20px,#4435d1 21px,#484df3 23px,#4433cd 32px,#4333ca 49px,#43c 51px,#4539d9 53px,#4332ca 58px,#4332c9 64px,#4537d5 67px,#4435ce 71px,#4662fe 73px,#4841e6 80px,#4434cf 83px,#412cba 86px,#3f2ab2 90px,#3f2ab2 124px,#bfb8e5 125px,#fff 126px"></i><i style="top:508px;height:125px;--g:#fff 0,#847de8 1px,#463ada 2px,#4435d0 8px,#4434cf 18px,#4539d7 20px,#484bee 21px,#484df0 22px,#4536d6 28px,#43c 31px,#4332c9 48px,#4538d7 52px,#4332c9 57px,#4332ca 64px,#4537d5 66px,#4332ca 71px,#4333cb 72px,#4758f7 75px,#4757f7 76px,#473ee2 82px,#4230c5 86px,#412cb9 88px,#3f2ab2 91px,#3f2ab2 123px,#bfb8e5 124px,#fff 125px"></i><i style="top:508px;height:124px;--g:#fff 0,#c1bef4 1px,#463ada 2px,#4434d0 10px,#4434cf 18px,#4536d3 19px,#4746e8 20px,#484ef1 21px,#4432cc 30px,#4332c9 48px,#4538d7 52px,#4332c8 57px,#4332ca 64px,#4536d4 66px,#4331c7 72px,#4433cd 74px,#4743e5 76px,#4851f4 80px,#463de0 85px,#412cbb 90px,#3f2ab2 94px,#3f2ab2 123px,#fff 124px"></i><i style="top:507px;height:125px;--g:#fff 0,#d6d4f8 1px,#837be6 2px,#594bd5 3px,#4434ce 4px,#4536d4 6px,#4433ce 19px,#484ef1 21px,#4745ea 24px,#4536d4 28px,#4333cb 31px,#4332c8 49px,#4537d7 52px,#4331c7 58px,#4332c8 64px,#4536d4 67px,#4332ca 70px,#4332c8 73px,#43c 75px,#463adb 77px,#4538d5 81px,#474eef 83px,#484ff2 84px,#463cde 89px,#402ab5 95px,#3f2ab2 98px,#3f2ab2 124px,#fff 125px"></i><i style="top:507px;height:125px;--g:#fff 0,#ebeafc 1px,#4539d8 3px,#4435d1 6px,#4435d0 18px,#4539d7 19px,#484bee 20px,#484df0 21px,#4536d5 27px,#4333cb 31px,#4332c8 48px,#4537d6 52px,#4331c6 58px,#4331c8 64px,#4536d4 67px,#4332c8 70px,#4331c7 73px,#4333cb 75px,#463adc 77px,#422fc3 83px,#474ced 86px,#484df0 87px,#463bdd 92px,#412bb8 97px,#3f2ab2 101px,#3f2ab2 123px,#6a59c3 124px,#fff 125px"></i><i style="top:507px;height:125px;--g:#fff 0,#5b53e4 1px,#463bdc 2px,#4436d3 4px,#4434cf 17px,#4536d3 18px,#4746e8 19px,#484ef1 20px,#4538d8 26px,#4333cb 30px,#4332c8 48px,#4537d6 52px,#4331c6 57px,#4331c7 64px,#4536d3 67px,#4331c8 70px,#4331c6 73px,#4333cb 75px,#463adb 77px,#412ebe 85px,#412ebf 86px,#4336cc 87px,#4645e2 88px,#474bed 89px,#484def 90px,#473ee1 94px,#412bb7 100px,#3f2ab2 104px,#3f2ab2 123px,#7f71cc 124px,#fff 125px"></i><i style="top:506px;height:126px;--g:#fff 0,#d6d5f9 1px,#473fe3 2px,#463ddf 3px,#4435d1 8px,#4434cf 17px,#4435d1 18px,#484ef1 20px,#4744e9 23px,#4333cb 29px,#4331c7 48px,#4332ca 50px,#4537d6 52px,#4331c5 58px,#4331c7 65px,#4435d1 67px,#4330c4 74px,#4333cb 76px,#463adb 78px,#422ec0 84px,#412dba 88px,#412fbf 90px,#484ff2 93px,#4740e5 97px,#412cbb 103px,#3f2ab2 107px,#3f2ab2 124px,#7f71cc 125px,#fff 126px"></i><i style="top:507px;height:125px;--g:#fff 0,#5b54e4 1px,#463ddf 2px,#4435d1 9px,#4434ce 15px,#463ad9 17px,#484cef 18px,#484df0 19px,#4537d7 25px,#4333cb 28px,#4331c6 47px,#4537d5 51px,#4331c5 57px,#4331c7 64px,#4435d2 66px,#4331c6 70px,#4330c3 73px,#4539da 77px,#422ebe 83px,#412cb8 89px,#422ebf 92px,#4748e7 94px,#484ef0 95px,#4740e4 99px,#412cba 105px,#3f2ab2 109px,#3f2ab2 123px,#bfb8e5 124px,#fff 125px"></i><i style="top:507px;height:125px;--g:#fff 0,#6f67e5 1px,#463bdc 2px,#4435d0 15px,#4536d4 16px,#4747ea 17px,#484ef1 18px,#4538d8 24px,#4332ca 28px,#4331c7 47px,#4537d5 51px,#4331c5 56px,#4331c5 63px,#4435d1 66px,#4331c6 70px,#4330c3 73px,#4539d9 77px,#412cbb 84px,#412cb8 91px,#412dbb 94px,#4231c3 95px,#4748e8 97px,#484df0 98px,#4640e4 102px,#422dbe 107px,#3f2ab2 111px,#3f2ab2 123px,#bfb8e5 124px,#fff 125px"></i><i style="top:508px;height:124px;--g:#fff 0,#594dd9 1px,#4538d6 2px,#4435d0 13px,#4436d2 14px,#484df3 16px,#4332ca 26px,#4331c6 45px,#4536d4 49px,#4330c5 55px,#4330c5 62px,#4435d0 65px,#422fc2 71px,#4331c6 73px,#4538d9 76px,#412cba 83px,#412cb8 94px,#412cba 96px,#474bec 99px,#484df0 100px,#4741e7 103px,#412bb8 110px,#3f2ab2 113px,#3f2ab2 122px,#d4d0ee 123px,#fff 124px"></i><i style="top:507px;height:124px;--g:#fff 0,#6f66e2 1px,#4538d7 2px,#4435d2 14px,#463bdb 15px,#484cf0 16px,#484df0 17px,#4537d6 23px,#4332c9 28px,#4331c6 46px,#4536d4 50px,#4330c4 56px,#4330c6 63px,#4435d1 66px,#4331c5 69px,#4230c4 72px,#4331c6 74px,#4538d8 77px,#402bb7 85px,#402cb8 97px,#412cba 100px,#484ff2 103px,#463de0 108px,#412cbb 113px,#3f2ab2 117px,#3f2ab2 123px,#fff 124px"></i><i style="top:506px;height:125px;--g:#fff 0,#eae9fb 1px,#4537d5 3px,#4435d1 14px,#4538d6 15px,#4748eb 16px,#484ef1 17px,#4536d4 24px,#4332ca 28px,#4331c6 46px,#4536d4 51px,#4230c4 56px,#4230c5 64px,#4435d1 67px,#4330c4 70px,#4230c4 73px,#4331c6 75px,#4638d9 78px,#402cb8 85px,#402cb7 101px,#412dbc 104px,#484ff2 107px,#4740e4 111px,#412cbb 117px,#3f2ab2 121px,#3f2ab2 124px,#fff 125px"></i><i style="top:506px;height:125px;--g:#fff 0,#d6d4f8 1px,#463bdb 2px,#4536d4 5px,#4435d1 13px,#4537d4 14px,#484ff2 16px,#4746eb 19px,#4536d3 23px,#4332ca 28px,#4331c5 46px,#4536d3 50px,#4230c3 57px,#4230c4 63px,#4434ce 66px,#422fc1 73px,#4331c7 75px,#4538d9 78px,#422ebf 83px,#402bb7 86px,#402bb7 103px,#402cb9 106px,#4230c0 107px,#4747e7 109px,#484df0 110px,#463cde 115px,#4230c4 118px,#402ab3 123px,#7f71cc 124px,#fff 125px"></i><i style="top:506px;height:125px;--g:#fff 0,#847de9 1px,#463bdb 2px,#4435d1 12px,#4536d3 13px,#463dde 14px,#484ef1 15px,#484ef1 16px,#4538d8 22px,#4332ca 26px,#4331c5 46px,#4536d4 50px,#4230c3 56px,#4230c4 63px,#4435d0 66px,#4230c4 70px,#4230c3 73px,#4331c6 75px,#4537d5 77px,#4537d6 78px,#412dbb 84px,#402bb6 88px,#412cb9 109px,#4231c3 110px,#4540da 111px,#4748e8 112px,#484df0 113px,#463adb 118px,#412cba 123px,#bfb8e6 124px,#fff 125px"></i><i style="top:506px;height:124px;--g:#fff 0,#eaeafc 1px,#463ada 3px,#4536d3 12px,#453ad9 13px,#484aee 14px,#484ef1 15px,#4536d5 22px,#4332ca 26px,#4331c5 45px,#4536d3 50px,#4230c3 56px,#4230c4 63px,#4435d0 66px,#4230c3 70px,#422fc1 73px,#4537d7 78px,#412dba 84px,#402bb6 87px,#402bb8 111px,#412cb9 112px,#4335c8 113px,#484ff2 115px,#463ddf 120px,#6e64df 121px,#eae8f8 123px,#fff 124px"></i><i style="top:506px;height:121px;--g:#fff 0,#eae9fb 1px,#5a4dd9 2px,#4536d3 3px,#4536d4 11px,#4538d7 12px,#4746e8 13px,#484ff1 14px,#4746eb 17px,#4536d4 21px,#4332ca 26px,#4331c5 45px,#4536d4 49px,#4230c4 55px,#4230c4 63px,#4435d0 66px,#4230c4 69px,#422fc1 73px,#4537d7 78px,#412cba 84px,#402bb6 87px,#402bb6 112px,#412dbb 115px,#484ef0 118px,#999af5 119px,#d6d5fa 120px,#fff 121px"></i><i style="top:505px;height:123px;--g:#fff 0,#c2bff6 1px,#5b53e3 2px,#463bdc 3px,#4539d8 4px,#4536d4 12px,#484ef1 14px,#484ef1 15px,#4535d4 22px,#4333cb 25px,#4330c5 45px,#4536d3 50px,#4230c3 56px,#4230c3 63px,#4434ce 67px,#422fc0 73px,#4331c7 76px,#4638d9 78px,#412dbb 85px,#402bb5 88px,#402bb6 110px,#4331c8 118px,#453ddb 120px,#847ee9 121px,#d6d4f8 122px,#fff 123px"></i><i style="top:506px;height:124px;--g:#fff 0,#9892eb 1px,#463bdc 2px,#4537d5 10px,#463dde 11px,#484df0 12px,#484ff1 13px,#4536d5 20px,#4332ca 25px,#4331c5 44px,#4536d3 48px,#4230c4 54px,#4230c3 62px,#4434ce 65px,#422ec0 72px,#4230c3 74px,#4537d6 77px,#402bb5 86px,#402bb4 105px,#4230c4 115px,#4331c6 121px,#6d5fd4 122px,#eae8f8 123px,#fff 124px"></i><i style="top:504px;height:126px;--g:#fff 0,#9999f4 1px,#473fe1 3px,#453ada 5px,#4538d7 11px,#463ada 12px,#4849ec 13px,#484ff2 14px,#4535d4 22px,#4333ca 25px,#4331c5 45px,#4331c7 47px,#4536d5 50px,#4331c7 54px,#4230c3 58px,#4230c3 64px,#4434cf 67px,#4230c3 71px,#422fc0 75px,#4537d6 79px,#402bb5 88px,#402bb4 108px,#4331c5 117px,#412dbb 124px,#8073d1 125px,#fff 126px"></i><i style="top:504px;height:126px;--g:#fff 0,#d6d6fa 1px,#706eee 2px,#4743e6 3px,#463adb 6px,#4538d8 10px,#463bdc 11px,#484ff2 13px,#484ef1 14px,#4536d5 21px,#4332ca 25px,#4330c4 45px,#4536d4 50px,#4230c4 55px,#4230c3 64px,#4434cf 67px,#4230c2 71px,#422fc2 74px,#4230c4 76px,#4537d7 79px,#402bb6 87px,#402bb4 99px,#402bb6 110px,#4331c6 117px,#412cb9 124px,#8072d0 125px,#fff 126px"></i><i style="top:505px;height:125px;--g:#fff 0,#d6d4f7 1px,#837ce7 2px,#463cdd 3px,#463ada 9px,#484ff2 11px,#484ff2 12px,#4433ce 21px,#4332c9 28px,#4330c4 44px,#4536d4 48px,#4230c3 54px,#4230c3 63px,#4434cf 66px,#4230c4 69px,#422fc1 73px,#4230c4 75px,#4538d8 78px,#402cb8 85px,#402ab3 95px,#402bb5 108px,#4331c6 116px,#402cb8 123px,#bfb9e7 124px,#fff 125px"></i><i style="top:503px;height:127px;--g:#fff 0,#d6d7fb 1px,#7070ef 2px,#4742e6 3px,#463bdc 5px,#463bdc 10px,#484ef1 12px,#4851f3 13px,#4744e8 17px,#4535d2 21px,#4332ca 27px,#4330c4 45px,#4536d2 50px,#422fc2 57px,#4230c3 64px,#4434cf 68px,#4230c3 71px,#422fc1 75px,#4231c5 77px,#4537d7 80px,#402cb8 87px,#402ab4 94px,#402ab5 110px,#4231c6 117px,#402bb7 125px,#bfb8e7 126px,#fff 127px"></i><i style="top:504px;height:126px;--g:#fff 0,#c2c3f9 1px,#5b5aeb 2px,#4744e8 3px,#463fe2 5px,#463bdc 8px,#4640e2 9px,#484ff1 10px,#4852f3 11px,#4849ee 14px,#4639da 18px,#4333cc 22px,#4331c5 42px,#4331c6 45px,#4536d3 49px,#4230c2 55px,#4230c3 63px,#4434ce 66px,#4230c3 70px,#422fc1 74px,#4331c6 76px,#4537d7 79px,#402cb7 86px,#402ab4 92px,#402ab5 109px,#4231c6 116px,#402bb7 124px,#bfb8e7 125px,#fff 126px"></i><i style="top:503px;height:126px;--g:#fff 0,#c2c2f9 1px,#5c59ea 2px,#4741e4 3px,#4740e3 8px,#4742e5 9px,#4852f4 11px,#4851f4 12px,#463bdd 18px,#4433cd 22px,#4331c5 43px,#4331c6 46px,#4536d3 49px,#4230c2 56px,#4230c3 64px,#4434cd 67px,#422ebf 74px,#4331c6 77px,#4537d7 80px,#402bb7 87px,#402ab4 93px,#402ab3 108px,#4230c5 117px,#402bb6 125px,#fff 126px"></i><i style="top:503px;height:126px;--g:#fff 0,#7173f2 1px,#4748ec 2px,#473ee1 7px,#4753f5 10px,#4853f4 11px,#4433cf 21px,#4331c7 35px,#4331c5 45px,#4536d3 49px,#422fc2 56px,#4230c4 64px,#4434cd 67px,#422ebf 74px,#4331c6 77px,#4536d4 79px,#4537d5 80px,#412cba 86px,#402ab4 92px,#402ab4 109px,#4231c5 116px,#402bb6 125px,#fff 126px"></i><i style="top:502px;height:127px;--g:#fff 0,#999ef8 1px,#484df0 2px,#4742e6 7px,#4754f5 10px,#4754f5 11px,#463bde 18px,#4434ce 22px,#4331c7 36px,#4331c5 45px,#4536d3 50px,#4230c2 56px,#4230c4 65px,#4434cf 68px,#4230c3 71px,#422fc1 75px,#4230c3 77px,#4537d7 81px,#412cb9 87px,#402ab4 93px,#402ab4 109px,#4230c5 117px,#402bb5 126px,#fff 127px"></i><i style="top:501px;height:128px;--g:#fff 0,#ebecfe 1px,#5c66f5 2px,#4850f2 3px,#4747eb 7px,#4857fa 11px,#4534d3 21px,#4332c7 34px,#4331c5 46px,#4536d3 50px,#4230c2 57px,#422fc2 64px,#43c 68px,#422ebf 76px,#4230c4 78px,#4537d6 82px,#402bb6 89px,#402ab4 93px,#402ab3 109px,#4230c5 118px,#402bb6 126px,#8072ce 127px,#fff 128px"></i><i style="top:501px;height:128px;--g:#fff 0,#707df9 1px,#4755f6 2px,#484bef 6px,#4758f7 9px,#4856f9 11px,#4536d4 20px,#4332c8 32px,#4331c5 45px,#4536d3 50px,#4230c3 56px,#422fc2 64px,#4434cd 68px,#4230c4 72px,#422ebf 76px,#4537d6 82px,#412cb9 88px,#402ab4 93px,#402ab3 109px,#4230c4 117px,#402bb5 126px,#8072ce 127px,#fff 128px"></i><i style="top:500px;height:129px;--g:#fff 0,#8494fc 1px,#475bf9 2px,#4850f3 6px,#465cf9 9px,#4855f8 12px,#463adb 19px,#4434ce 25px,#4330c4 45px,#4536d3 51px,#4230c3 56px,#422fc2 63px,#422fc3 66px,#4434cf 69px,#422fc2 73px,#422fc1 77px,#4230c3 79px,#4537d7 82px,#412cb9 89px,#402ab3 94px,#402ab3 110px,#4230c5 118px,#402bb5 127px,#8071cd 128px,#fff 129px"></i><i style="top:499px;height:130px;--g:#fff 0,#acbbfe 1px,#4561fc 2px,#4756f7 6px,#4660fb 9px,#4759f8 12px,#4742e7 17px,#4435d1 23px,#4330c4 45px,#4332c8 48px,#4536d4 51px,#4230c3 57px,#422fc2 63px,#4230c3 67px,#4434cf 70px,#422fc2 74px,#422fc1 78px,#4230c4 80px,#4537d7 83px,#412cb9 90px,#402ab4 95px,#4029b2 109px,#4230c3 118px,#402bb5 128px,#bfb8e6 129px,#fff 130px"></i><i style="top:498px;height:131px;--g:#fff 0,#95aeff 1px,#4269fe 2px,#465efb 5px,#4464fc 9px,#475bfa 12px,#4741e6 18px,#4435d2 24px,#4330c3 46px,#4536d3 52px,#4230c4 57px,#422fc2 64px,#4230c4 68px,#4434cd 71px,#422ebf 77px,#4230c4 81px,#4537d7 84px,#402cb9 91px,#402ab3 95px,#402ab3 112px,#4230c5 119px,#402ab4 129px,#bfb8e6 130px,#fff 131px"></i><i style="top:496px;height:133px;--g:#fff 0,#e8f0ff 1px,#79a4fe 2px,#3b72fe 3px,#4367fe 6px,#416afd 9px,#4662fe 12px,#473de2 21px,#4435d2 27px,#4330c3 48px,#4536d3 53px,#4230c4 59px,#422fc2 65px,#422fc2 69px,#4434ce 72px,#422fc2 77px,#422ebf 81px,#4537d6 86px,#412cb9 93px,#402ab4 97px,#402ab2 112px,#4230c4 121px,#402ab4 131px,#d5d0ee 132px,#fff 133px"></i><i style="top:495px;height:133px;--g:#fff 0,#b9d7fd 1px,#478ffa 2px,#337cfc 3px,#3d70fe 9px,#4662fe 13px,#4740e5 21px,#4536d3 28px,#4330c5 46px,#4331c6 50px,#4536d4 54px,#4230c3 60px,#422fc2 66px,#422fc2 70px,#4434ce 73px,#422ec0 79px,#422fc2 83px,#4537d7 87px,#402cb8 94px,#402ab4 98px,#402ab2 113px,#4230c4 122px,#402ab4 132px,#fff 133px"></i><i style="top:494px;height:134px;--g:#fff 0,#89c2f6 1px,#2d8af4 2px,#3579fd 9px,#4566ff 13px,#4843e8 21px,#4536d4 29px,#4330c5 47px,#4331c7 51px,#4536d4 55px,#4230c4 60px,#422fc2 67px,#4230c3 71px,#4434ce 74px,#422ebf 80px,#422fc2 84px,#4537d6 88px,#402cb8 95px,#402ab4 99px,#402ab2 113px,#4230c3 123px,#402ab4 133px,#fff 134px"></i><i style="top:491px;height:137px;--g:#fff 0,#e6f5fc 1px,#9dd4f4 2px,#2699e9 3px,#3081fb 11px,#426bff 15px,#4945eb 23px,#4436d3 33px,#4330c5 50px,#4332c8 54px,#4536d5 57px,#4230c4 63px,#422fc2 69px,#4230c4 74px,#4434ce 77px,#422ebf 83px,#4230c3 87px,#4537d7 91px,#412dbb 97px,#402ab4 101px,#402ab2 116px,#4230c4 125px,#402ab4 135px,#5542bb 136px,#fff 137px"></i><i style="top:489px;height:139px;--g:#fff 0,#99daf0 2px,#1da8e0 3px,#2f84f9 13px,#426aff 17px,#4946ec 25px,#4536d4 35px,#4330c4 53px,#4536d3 59px,#4230c2 66px,#422fc3 75px,#4434cd 79px,#422ebf 85px,#4230c3 89px,#4537d6 93px,#402cb8 100px,#402ab4 103px,#402ab2 118px,#4230c4 127px,#402ab3 137px,#8071cc 138px,#fff 139px"></i><i style="top:489px;height:139px;--g:#fff 0,#94ddec 1px,#12b0d8 2px,#269de7 8px,#317ffb 14px,#436aff 17px,#4847ed 25px,#4435d2 37px,#4330c4 53px,#4536d4 59px,#4230c4 64px,#422fc2 71px,#422fc2 75px,#4434ce 78px,#422fc0 84px,#4230c3 89px,#4536d4 92px,#4536d4 93px,#412dbb 99px,#402ab4 102px,#402ab2 118px,#4230c4 126px,#402ab3 137px,#8071cc 138px,#fff 139px"></i><i style="top:488px;height:140px;--g:#fff 0,#c7eff3 1px,#5dcce1 2px,#13afd8 3px,#21a5e2 8px,#3180fb 15px,#426bff 18px,#4949ef 26px,#4536d4 38px,#4331c6 52px,#4331c7 55px,#4536d5 59px,#4230c4 65px,#422fc2 72px,#422fc3 76px,#4434ce 79px,#422fc0 85px,#422fc2 89px,#4537d5 94px,#402bb7 101px,#402ab4 104px,#402ab2 118px,#4230c3 127px,#402ab3 138px,#bfb8e6 139px,#fff 140px"></i><i style="top:462px;height:166px;--g:#fff 0,#c6eed3 1px,#c6eed3 16px,#8edda7 17px,#86dcae 21px,#69d5a9 22px,#3ac894 23px,#07bac4 28px,#06b7cb 29px,#1dabde 32px,#3182f9 41px,#406dff 44px,#494ef3 51px,#4537d7 63px,#4331c6 78px,#4332c9 81px,#4536d4 85px,#4230c2 92px,#422fc2 101px,#4434ce 105px,#422ec0 111px,#422fc1 115px,#4537d6 119px,#402cb8 127px,#402ab4 130px,#402ab2 144px,#4230c3 153px,#402ab3 164px,#bfb8e6 165px,#fff 166px"></i><i style="top:459px;height:169px;--g:#fff 0,#d9f4e2 1px,#c6eed3 2px,#c6eed3 7px,#8edda7 8px,#8edda7 17px,#55cc7b 18px,#53cc7d 25px,#43ca8b 27px,#2fc5a2 28px,#24c2ad 30px,#07bbc2 32px,#06b7ca 33px,#17addc 35px,#23a2e4 37px,#317efc 44px,#426dff 47px,#4948ee 57px,#4537d6 67px,#4331c5 82px,#4536d3 88px,#422fc2 95px,#422fc3 104px,#4434cd 108px,#422ebf 114px,#422fc1 118px,#4537d6 122px,#412dbb 129px,#402ab3 133px,#402ab3 147px,#4230c3 156px,#402ab3 167px,#d5d0ee 168px,#fff 169px"></i><i style="top:481px;height:146px;--g:#fff 0,#ecf9f0 1px,#c6eed3 2px,#c4eed5 5px,#90e0c6 6px,#76d9bf 7px,#3bc7ba 8px,#16beba 9px,#10bdbb 10px,#04b9c6 11px,#07b6cd 12px,#20a6e1 15px,#3083f9 21px,#3d70fe 24px,#4858fa 30px,#4637d8 45px,#4231c5 59px,#4536d4 65px,#4230c4 71px,#422fc2 78px,#422fc2 82px,#4434ce 85px,#422fc2 90px,#422ebf 95px,#4537d6 100px,#412dbb 107px,#402ab3 111px,#402ab3 125px,#4230c3 133px,#402ab3 145px,#fff 146px"></i><i style="top:485px;height:142px;--g:#fff 0,#e5f8f7 1px,#b1e9e7 2px,#04b7cb 4px,#1aabde 8px,#259de7 12px,#317ffb 18px,#3c71ff 20px,#4562fc 23px,#4852f6 28px,#4536d6 43px,#4331c7 55px,#4536d3 61px,#422fc2 69px,#422fc2 77px,#4434ce 81px,#422fc0 87px,#422fc2 92px,#4537d6 96px,#402bb7 104px,#402ab4 107px,#402ab3 121px,#4230c3 129px,#402ab3 141px,#fff 142px"></i><i style="top:486px;height:141px;--g:#fff 0,#afe9e8 1px,#07b7ce 3px,#22a4e3 8px,#2e85f7 14px,#3b71ff 18px,#4661fc 22px,#4851f5 27px,#4536d6 43px,#4331c7 54px,#4536d4 59px,#422fc1 68px,#4230c3 77px,#4434ce 80px,#422ec0 86px,#4230c3 91px,#4537d7 95px,#412cba 102px,#402ab3 106px,#402ab3 119px,#4230c3 128px,#402ab3 139px,#6a59c4 140px,#fff 141px"></i><i style="top:487px;height:140px;--g:#fff 0,#e3f7f9 1px,#ade6ef 2px,#96dcee 3px,#67c7e8 4px,#1fa5e2 5px,#3082fa 12px,#4369ff 17px,#4949ef 29px,#4536d5 43px,#4331c8 53px,#4537d6 58px,#4331c6 63px,#4230c3 67px,#422fc2 75px,#4434ce 79px,#422ebf 85px,#4230c3 90px,#4537d6 94px,#412cb9 101px,#402ab3 105px,#402ab3 119px,#4230c4 126px,#402ab3 138px,#8071cc 139px,#fff 140px"></i><i style="top:492px;height:135px;--g:#fff 0,#9fd1f6 2px,#5aa9f3 3px,#2d8af4 4px,#3a73ff 8px,#475efc 11px,#473bdf 33px,#4332c8 47px,#4537d6 53px,#4331c5 58px,#4230c3 62px,#422fc2 69px,#4434ce 74px,#422fc2 78px,#422ebf 83px,#4537d5 89px,#412cba 96px,#402ab3 100px,#402ab3 113px,#4230c3 121px,#402ab3 133px,#8071cc 134px,#fff 135px"></i><i style="top:495px;height:132px;--g:#fff 0,#8db7fd 1px,#357afd 2px,#4660fd 7px,#4844e8 14px,#4848ee 18px,#4430ca 44px,#4538d6 49px,#4330c5 55px,#4230c3 59px,#422fc1 66px,#4434ce 70px,#422fc3 75px,#422ebf 80px,#4537d6 86px,#412cb9 93px,#402ab3 97px,#402ab3 109px,#4230c3 118px,#402ab3 130px,#bfb8e6 131px,#fff 132px"></i><i style="top:482px;height:145px;--g:#fff 0,#c1eed7 1px,#c1eed7 4px,#bceae1 5px,#b2e4f3 6px,#b4e2f5 10px,#9cd6f3 11px,#73b3f6 12px,#5da2f8 13px,#3181fa 14px,#4760fd 19px,#484bf0 24px,#463bdd 30px,#4742e6 35px,#4432cd 55px,#4434cd 58px,#4537d7 62px,#4230c5 68px,#422fc1 78px,#4434cd 83px,#422fc2 88px,#422ec0 93px,#4537d6 99px,#412dbc 105px,#402ab3 110px,#402ab3 122px,#4230c3 130px,#402ab3 143px,#bfb8e6 144px,#fff 145px"></i><i style="top:477px;height:150px;--g:#fff 0,#7fdbb5 2px,#7adabb 4px,#41c98f 5px,#0ebcbe 10px,#12b8c5 12px,#16acd9 13px,#22a2e4 16px,#2995ec 17px,#2994ed 18px,#3874ff 22px,#4662fd 24px,#4849ee 29px,#4538d8 37px,#4538d6 39px,#463ddf 43px,#4432cc 62px,#4538d8 66px,#4331c6 72px,#4230c3 77px,#4230c3 85px,#4434ce 88px,#422ec0 94px,#422fc2 99px,#4537d6 104px,#402cb8 111px,#402ab4 114px,#402ab3 127px,#4230c4 135px,#402ab4 143px,#402ab3 148px,#d4d0ee 149px,#fff 150px"></i><i style="top:488px;height:138px;--g:#fff 0,#c8eff4 1px,#ace7ed 2px,#b4e2f5 5px,#86c8f2 6px,#71b8f3 7px,#73b0f9 9px,#488efb 10px,#3579fc 11px,#4663fe 14px,#4844e9 20px,#4535d3 29px,#4436d2 32px,#463ada 35px,#43c 50px,#4538d7 55px,#4230c3 63px,#4230c3 73px,#4434ce 77px,#422ec0 83px,#422fc2 88px,#4435d1 91px,#4536d5 93px,#402cb8 100px,#402ab4 104px,#402ab2 115px,#4230c3 123px,#3f2ab2 137px,#fff 138px"></i><i style="top:499px;height:127px;--g:#fff 0,#858cf8 1px,#4755f4 2px,#484ff3 7px,#4638d9 15px,#4434cd 24px,#4537d6 27px,#43c 39px,#4538d8 43px,#4230c4 51px,#4230c3 62px,#4434cf 66px,#422fc2 70px,#422ebf 75px,#4537d5 82px,#402cb8 89px,#402ab4 93px,#402ab2 104px,#4230c4 112px,#402bb5 120px,#3f2ab2 126px,#fff 127px"></i><i style="top:500px;height:126px;--g:#fff 0,#7071f0 1px,#4746e9 2px,#4743e7 3px,#4742e6 10px,#4535d3 18px,#4433cb 25px,#4435d1 29px,#43c 37px,#4538d8 42px,#4330c6 49px,#4230c3 55px,#4230c3 61px,#4434cf 64px,#422fc2 69px,#422ec0 75px,#4537d6 80px,#412cb9 88px,#402ab3 92px,#402ab4 104px,#4230c4 111px,#402ab4 119px,#3f2ab2 124px,#6a59c3 125px,#fff 126px"></i><i style="top:500px;height:126px;--g:#fff 0,#d6d6fa 1px,#4741e5 2px,#473fe2 3px,#463adb 6px,#463bdd 12px,#4331c9 29px,#4434cd 37px,#4538d7 42px,#4331c7 48px,#4230c3 56px,#4230c4 61px,#4434cf 64px,#422fc2 69px,#422fc0 75px,#4537d6 80px,#402cb8 88px,#402ab4 92px,#402ab2 102px,#4230c4 111px,#402bb5 118px,#3f2ab2 124px,#7f71cc 125px,#fff 126px"></i><i style="top:501px;height:125px;--g:#fff 0,#5b54e4 1px,#463cdd 2px,#4537d6 5px,#4538d7 14px,#4331c7 31px,#43c 36px,#4538d7 40px,#4330c4 49px,#4230c3 59px,#4434ce 63px,#422ebf 70px,#4230c4 75px,#4537d6 79px,#402cb8 87px,#402ab4 91px,#402ab2 101px,#4230c4 109px,#402ab4 118px,#3f2ab2 123px,#9489d4 124px,#fff 125px"></i><i style="top:501px;height:125px;--g:#fff 0,#847de8 1px,#463ada 2px,#4535d2 6px,#4536d4 16px,#4330c5 33px,#4537d7 40px,#4331c7 46px,#4230c4 51px,#4230c3 59px,#4434ce 63px,#422fc0 69px,#422fc1 74px,#4537d6 79px,#412dbb 86px,#402ab3 91px,#402ab3 101px,#4230c4 109px,#402ab4 117px,#3f2ab2 123px,#bfb8e5 124px,#fff 125px"></i><i style="top:501px;height:125px;--g:#fff 0,#c1bdf3 1px,#4538d7 2px,#4435d0 6px,#4435d1 18px,#4331c6 33px,#4332c9 36px,#4537d7 40px,#4330c5 47px,#4230c3 58px,#4434ce 63px,#422ec0 69px,#422fc2 74px,#4537d6 79px,#402bb7 87px,#402ab4 91px,#402ab2 100px,#4230c4 109px,#402ab4 117px,#3f2ab2 123px,#bfb8e5 124px,#fff 125px"></i><i style="top:501px;height:124px;--g:#fff 0,#c1bcf2 1px,#4536d5 2px,#4435d0 6px,#4331c8 33px,#4536d4 40px,#4331c6 46px,#4230c3 55px,#4230c4 59px,#4434cf 62px,#422ec0 69px,#422fc2 74px,#4537d6 79px,#402bb7 87px,#402ab4 91px,#402ab2 100px,#4230c4 108px,#402ab4 117px,#3f2ab2 123px,#fff 124px"></i><i style="top:501px;height:124px;--g:#fff 0,#c1bcf1 1px,#4535d2 2px,#4331c8 33px,#4536d4 39px,#4330c5 46px,#4230c3 54px,#4230c3 58px,#4434cf 62px,#4230c2 67px,#422ebf 72px,#4537d5 79px,#412cba 86px,#402ab3 91px,#402ab3 100px,#4230c4 108px,#402ab4 116px,#3f2ab2 123px,#fff 124px"></i><i style="top:501px;height:124px;--g:#fff 0,#c1bcf0 1px,#4435d0 2px,#4331c7 33px,#4536d4 39px,#4230c4 46px,#4230c3 58px,#4434cf 62px,#4230c3 66px,#422ebf 72px,#4536d5 79px,#402bb7 87px,#402ab4 91px,#402ab2 99px,#4230c4 107px,#402bb6 115px,#3f2ab2 122px,#5442bb 123px,#fff 124px"></i><i style="top:501px;height:124px;--g:#fff 0,#c1bcef 1px,#4434ce 2px,#4331c7 32px,#4536d3 38px,#4230c3 47px,#4230c3 57px,#4434ce 62px,#422fc2 67px,#422ec0 72px,#4537d5 79px,#412cb9 86px,#402ab3 91px,#402ab3 100px,#4230c4 107px,#402ab5 115px,#3f2ab2 122px,#7f71cc 123px,#fff 124px"></i><i style="top:501px;height:124px;--g:#fff 0,#c1bbef 1px,#4434cd 2px,#4331c7 32px,#4536d4 38px,#4230c2 47px,#4230c3 57px,#4434ce 61px,#422fc2 67px,#422ebf 72px,#4537d6 78px,#402cb8 87px,#402ab3 91px,#402ab4 100px,#4230c4 107px,#402ab4 115px,#3f2ab2 122px,#7f71cc 123px,#fff 124px"></i><i style="top:501px;height:124px;--g:#fff 0,#c1bbee 1px,#43c 2px,#4331c6 32px,#4536d5 38px,#4230c3 45px,#4230c2 57px,#4434cf 61px,#422fc2 66px,#422fc0 71px,#4230c4 74px,#4537d7 78px,#412cba 86px,#402ab3 91px,#402ab3 99px,#4230c4 107px,#402ab4 115px,#3f2ab2 122px,#aaa0dd 123px,#fff 124px"></i><i style="top:501px;height:124px;--g:#fff 0,#c1bbee 1px,#4433cb 2px,#4331c6 31px,#4536d4 37px,#4230c3 46px,#422fc2 56px,#4434ce 61px,#422fc2 66px,#422ebf 72px,#4537d6 78px,#412cba 86px,#402ab3 91px,#402ab3 99px,#4230c4 106px,#402ab3 115px,#3f2ab2 122px,#bfb8e5 123px,#fff 124px"></i><i style="top:501px;height:124px;--g:#fff 0,#aca4e8 1px,#4333cb 2px,#4331c6 31px,#4536d4 37px,#4230c2 46px,#422fc2 56px,#4434ce 61px,#422fc2 66px,#422fc0 71px,#4230c5 74px,#4537d7 78px,#412cb9 86px,#402ab3 91px,#402ab4 99px,#4230c4 106px,#402ab4 114px,#3f2ab2 122px,#d4d0ee 123px,#fff 124px"></i><i style="top:501px;height:123px;--g:#fff 0,#8277dc 1px,#4333cb 2px,#4331c6 30px,#4536d3 37px,#422fc2 46px,#422fc2 56px,#4434ce 60px,#422fc2 66px,#422ebf 71px,#4537d6 78px,#412dbc 85px,#402ab3 90px,#402ab3 98px,#4230c4 105px,#402ab4 114px,#3f2ab2 122px,#fff 123px"></i><i style="top:501px;height:123px;--g:#fff 0,#8277dc 1px,#4332ca 2px,#4331c5 30px,#4536d3 36px,#4230c3 45px,#422fc2 55px,#4434ce 60px,#422fc2 66px,#422ebf 71px,#4537d6 78px,#412cb9 86px,#402ab3 91px,#402ab3 98px,#4230c4 105px,#402ab3 114px,#3f2ab2 122px,#fff 123px"></i><i style="top:501px;height:123px;--g:#fff 0,#8276dc 1px,#4332ca 2px,#4331c5 30px,#4536d3 36px,#4230c2 45px,#422fc2 55px,#4434ce 60px,#4230c3 65px,#422ebf 71px,#4537d6 78px,#412cb9 86px,#402ab3 90px,#402ab4 98px,#4230c4 105px,#402ab3 114px,#3f2ab2 121px,#6a59c3 122px,#fff 123px"></i><i style="top:501px;height:123px;--g:#fff 0,#4332ca 1px,#4331c6 30px,#4536d4 36px,#4230c2 44px,#422fc2 55px,#4434ce 60px,#422fc2 65px,#422ebf 71px,#4537d6 78px,#412cb8 86px,#402ab3 91px,#402ab3 97px,#4230c4 105px,#402ab3 113px,#3f2ab2 121px,#7f71cc 122px,#fff 123px"></i><i style="top:501px;height:123px;--g:#fff 0,#4332ca 1px,#4331c5 29px,#4536d3 35px,#4230c2 44px,#422fc2 55px,#4434ce 60px,#422fc2 65px,#422fc0 71px,#4537d5 78px,#402cb8 86px,#402ab4 90px,#402ab3 97px,#4230c4 104px,#402ab3 113px,#3f2ab2 121px,#7f71cc 122px,#fff 123px"></i><i style="top:500px;height:124px;--g:#fff 0,#eae8f9 1px,#4332c9 2px,#4331c5 29px,#4536d3 36px,#4230c3 44px,#422fc2 55px,#4434ce 61px,#422fc2 66px,#422ebf 72px,#4537d6 78px,#412cb9 87px,#402ab3 91px,#402ab4 98px,#4230c4 105px,#402ab4 113px,#3f2ab2 122px,#bfb8e5 123px,#fff 124px"></i><i style="top:500px;height:124px;--g:#fff 0,#c0bbed 1px,#4332c9 2px,#4330c4 28px,#4536d3 35px,#4230c3 44px,#422fc1 55px,#4434ce 60px,#422fc2 66px,#422ebf 72px,#4537d6 78px,#412dbb 86px,#402ab3 91px,#402ab3 97px,#4230c4 104px,#402ab4 113px,#3f2ab2 122px,#bfb8e5 123px,#fff 124px"></i><i style="top:500px;height:124px;--g:#fff 0,#c0bbed 1px,#4332c9 2px,#4330c4 28px,#4536d3 35px,#4230c2 44px,#422fc2 55px,#4434ce 60px,#422fc2 65px,#422fc0 71px,#4230c5 74px,#4537d7 78px,#402cb8 87px,#402ab4 91px,#402ab4 97px,#4230c4 104px,#402ab3 113px,#3f2ab2 122px,#d4d0ee 123px,#fff 124px"></i><i style="top:500px;height:123px;--g:#fff 0,#978de1 1px,#4332c9 2px,#4331c4 28px,#4536d3 35px,#4230c3 43px,#422fc2 55px,#4434ce 60px,#422fc2 65px,#422ebf 71px,#4537d5 78px,#402cb8 87px,#402ab3 91px,#402ab4 97px,#4230c4 104px,#402ab4 112px,#3f2ab2 122px,#fff 123px"></i><i style="top:500px;height:123px;--g:#fff 0,#8276db 1px,#4332c9 2px,#4331c5 28px,#4536d3 35px,#4230c2 43px,#422fc2 54px,#4434ce 60px,#422fc2 65px,#422ebf 71px,#4537d5 78px,#402cb8 87px,#402ab4 91px,#402ab5 97px,#4230c4 103px,#402ab3 113px,#3f2ab2 122px,#fff 123px"></i><i style="top:500px;height:123px;--g:#fff 0,#8276db 1px,#4332c9 2px,#4330c4 27px,#4536d3 34px,#4230c2 43px,#422fc1 54px,#4434ce 59px,#422fc1 66px,#422ebf 71px,#4537d6 78px,#412dba 86px,#402ab3 91px,#402bb5 97px,#4230c4 103px,#402ab2 113px,#3f2ab2 121px,#7f71cc 122px,#fff 123px"></i><i style="top:500px;height:123px;--g:#fff 0,#4332c9 1px,#4330c4 27px,#4536d3 34px,#4230c3 42px,#422fc1 54px,#4434ce 59px,#422fc2 65px,#422ebf 71px,#4537d6 78px,#412cba 86px,#402ab3 91px,#402ab5 96px,#4230c4 103px,#402ab4 111px,#3f2ab2 121px,#7f71cc 122px,#fff 123px"></i><i style="top:500px;height:123px;--g:#fff 0,#4332c9 1px,#4330c4 27px,#4536d3 33px,#4230c3 42px,#422fc2 54px,#4434ce 59px,#422fc3 64px,#422ec0 71px,#4537d6 78px,#412cba 86px,#402ab3 91px,#402bb5 96px,#4230c4 102px,#402ab4 111px,#3f2ab2 121px,#aaa0dd 122px,#fff 123px"></i><i style="top:499px;height:124px;--g:#fff 0,#eae8f9 1px,#4332c8 2px,#4330c5 28px,#4536d3 34px,#422fc2 43px,#422fc2 55px,#4434cf 60px,#422fc2 65px,#422fc0 72px,#4537d6 79px,#412cba 87px,#402ab3 92px,#402bb5 97px,#4230c4 103px,#402ab3 112px,#3f2ab2 122px,#bfb8e5 123px,#fff 124px"></i><i style="top:500px;height:123px;--g:#fff 0,#d5d1f3 1px,#978de0 2px,#4331c8 4px,#4330c4 26px,#4536d3 33px,#4230c3 41px,#422fc2 53px,#4434ce 59px,#422fc2 64px,#422ebf 70px,#4537d5 78px,#412cb9 86px,#402ab3 91px,#402bb6 96px,#4230c5 102px,#402ab4 110px,#3f2ab2 121px,#bfb8e5 122px,#fff 123px"></i><i style="top:503px;height:119px;--g:#fff 0,#d5d1f3 1px,#5848cd 3px,#4331c7 4px,#4330c4 23px,#4536d3 29px,#4230c2 38px,#422fc1 50px,#4434ce 55px,#422fc2 61px,#422ebf 67px,#4537d5 75px,#412cb9 83px,#402ab3 88px,#402bb5 92px,#4230c4 98px,#402ab4 107px,#3f2ab2 118px,#fff 119px"></i><i style="top:506px;height:116px;--g:#fff 0,#d5d1f3 1px,#978de0 2px,#4331c7 3px,#4330c5 20px,#4536d4 26px,#4230c3 34px,#422fc2 47px,#4434ce 52px,#422fc2 58px,#422ebf 64px,#4537d6 71px,#412dba 80px,#3f29b1 85px,#4230c3 95px,#402ab3 105px,#3f2ab2 115px,#fff 116px"></i><i style="top:509px;height:113px;--g:#fff 0,#4331c6 3px,#4330c4 16px,#4536d3 22px,#4230c3 31px,#422fc2 44px,#4434ce 49px,#422fc2 55px,#422ebf 61px,#4537d6 68px,#412cba 77px,#4029b2 82px,#4230c3 92px,#402ab3 101px,#3f2ab2 111px,#5442bb 112px,#fff 113px"></i><i style="top:512px;height:110px;--g:#fff 0,#aba3e6 1px,#6d5fd3 2px,#4331c6 3px,#4330c5 13px,#4536d3 19px,#4230c2 28px,#422fc1 40px,#4434ce 46px,#422fc2 51px,#422ebf 58px,#4537d6 65px,#412cba 74px,#3f29b1 79px,#4230c3 88px,#402ab3 98px,#3f2ab2 108px,#7f71cc 109px,#fff 110px"></i><i style="top:514px;height:108px;--g:#fff 0,#eae8f9 1px,#6d5fd2 3px,#4331c5 4px,#4331c7 12px,#4536d3 17px,#422fc2 26px,#422fc2 38px,#4434ce 44px,#422fc2 49px,#422fc0 56px,#4536d5 63px,#402ab3 75px,#402bb6 80px,#4230c4 86px,#402ab3 95px,#3f2ab2 106px,#7f71cc 107px,#fff 108px"></i><i style="top:517px;height:105px;--g:#fff 0,#aba3e5 2px,#5847cb 3px,#4330c5 4px,#4331c7 9px,#4536d4 13px,#4230c3 22px,#422fc1 35px,#4434ce 40px,#422fc2 46px,#422fc0 53px,#4537d5 60px,#402ab4 71px,#402bb5 76px,#4230c4 83px,#402ab3 92px,#3f2ab2 103px,#bfb8e5 104px,#fff 105px"></i><i style="top:520px;height:102px;--g:#fff 0,#d5d1f2 1px,#5847cb 3px,#4331c5 4px,#4536d3 10px,#422fc2 19px,#422fc2 32px,#4434ce 37px,#422fc2 43px,#422ebf 49px,#4536d5 57px,#402ab4 68px,#402bb6 73px,#4230c4 80px,#402ab2 89px,#3f2ab2 100px,#bfb8e5 101px,#fff 102px"></i><i style="top:523px;height:99px;--g:#fff 0,#d5d1f2 1px,#6d5fd3 2px,#4332ca 3px,#4536d4 7px,#4230c3 14px,#422fc1 28px,#4434ce 34px,#422fc2 40px,#422ebf 46px,#4536d5 54px,#402ab4 65px,#402bb6 70px,#4230c4 76px,#402ab2 86px,#3f2ab2 97px,#d4d0ee 98px,#fff 99px"></i><i style="top:525px;height:96px;--g:#fff 0,#eae8f9 1px,#4535d1 3px,#4535d2 5px,#4230c2 13px,#422fc2 26px,#4434ce 32px,#422fc2 37px,#422ebf 44px,#4536d5 52px,#402ab4 63px,#402cb7 68px,#4230c4 74px,#402ab3 83px,#3f2ab2 95px,#fff 96px"></i><i style="top:528px;height:93px;--g:#fff 0,#4434cf 3px,#4230c2 10px,#422fc1 23px,#4434ce 28px,#422fc3 34px,#422ec0 41px,#4536d5 49px,#402ab4 60px,#402bb6 64px,#4230c4 70px,#402ab3 80px,#3f2ab2 92px,#fff 93px"></i><i style="top:531px;height:90px;--g:#fff 0,#8277dc 2px,#5848ce 3px,#4331c6 4px,#422fc1 20px,#4434ce 25px,#422fc2 31px,#422fc0 38px,#4537d5 46px,#402bb5 56px,#402bb6 61px,#4230c4 67px,#402ab2 77px,#3f2ab2 88px,#6a59c3 89px,#fff 90px"></i><i style="top:534px;height:87px;--g:#fff 0,#d5d1f2 1px,#5747ca 3px,#4230c3 4px,#422fc2 17px,#4434cf 22px,#422fc2 28px,#422fc0 35px,#4537d5 43px,#402bb5 53px,#402bb6 57px,#4230c4 64px,#402ab3 73px,#3f2ab2 85px,#7f71cc 86px,#fff 87px"></i><i style="top:537px;height:84px;--g:#fff 0,#d5d1f2 1px,#5746c9 3px,#422fc2 4px,#422fc2 14px,#4434ce 19px,#422fc1 26px,#422ec0 32px,#4537d6 39px,#402bb6 50px,#402bb7 54px,#4230c4 61px,#402ab2 70px,#3f2ab2 82px,#7f71cc 83px,#fff 84px"></i><i style="top:540px;height:81px;--g:#fff 0,#c0baeb 1px,#968bdd 2px,#422fc2 3px,#422fc2 10px,#4434ce 16px,#422fc1 22px,#422fc0 29px,#4537d6 36px,#402bb6 47px,#402bb7 51px,#4230c4 57px,#402ab2 67px,#3f2ab2 79px,#bfb8e5 80px,#fff 81px"></i><i style="top:543px;height:78px;--g:#fff 0,#422fc2 3px,#422fc2 8px,#4434cf 12px,#422fc2 18px,#422fc0 26px,#4537d6 33px,#402bb5 44px,#402bb6 47px,#4230c4 54px,#402ab3 63px,#3f2ab2 76px,#bfb8e5 77px,#fff 78px"></i><i style="top:546px;height:75px;--g:#fff 0,#aba3e4 1px,#6c5dd0 2px,#422fc2 3px,#4434ce 9px,#422fc2 15px,#422fc0 23px,#4537d6 30px,#402bb5 41px,#402bb6 44px,#4230c4 50px,#402ab3 60px,#3f2ab2 73px,#eae7f6 74px,#fff 75px"></i><i style="top:548px;height:72px;--g:#fff 0,#eae8f8 1px,#aba3e4 2px,#5747ca 3px,#4331c6 4px,#4434cf 7px,#422fc2 13px,#422ebf 20px,#4537d6 28px,#402ab4 39px,#4230c3 48px,#402ab3 58px,#3f2ab2 71px,#fff 72px"></i><i style="top:551px;height:69px;--g:#fff 0,#d5d1f3 1px,#6d60d6 2px,#4434cd 3px,#422fc1 11px,#422ec0 17px,#4537d6 25px,#402ab4 36px,#4230c4 45px,#402ab3 54px,#3f2ab2 67px,#5442bb 68px,#fff 69px"></i><i style="top:553px;height:67px;--g:#fff 0,#eae8fa 1px,#978ee4 2px,#4332c9 4px,#422fc1 9px,#422fc0 15px,#4537d5 23px,#402ab5 34px,#4230c4 43px,#402ab2 52px,#3f2ab2 65px,#7f71cc 66px,#fff 67px"></i><i style="top:556px;height:64px;--g:#fff 0,#eae8f9 1px,#6c5ed1 3px,#4230c3 4px,#422fc0 12px,#4537d5 20px,#402ab4 31px,#4230c4 39px,#402ab2 49px,#3f2ab2 62px,#7f71cc 63px,#fff 64px"></i><i style="top:560px;height:60px;--g:#fff 0,#422fc1 3px,#422fc2 9px,#4537d6 16px,#402bb5 26px,#4230c4 35px,#402ab3 44px,#3f2ab2 58px,#aaa0dd 59px,#fff 60px"></i><i style="top:562px;height:58px;--g:#fff 0,#eae8f8 1px,#c0baea 2px,#6c5dcf 3px,#422fc1 4px,#4230c5 8px,#4537d6 14px,#402bb6 24px,#4230c4 33px,#402ab3 42px,#3f2ab2 56px,#bfb8e5 57px,#fff 58px"></i><i style="top:565px;height:55px;--g:#fff 0,#eae8f8 1px,#968bdd 2px,#4230c3 4px,#4537d6 11px,#402bb6 21px,#4230c4 29px,#402ab2 39px,#3f2ab2 53px,#bfb8e5 54px,#fff 55px"></i><i style="top:568px;height:51px;--g:#fff 0,#d5d1f2 1px,#8175d8 2px,#4331c8 3px,#4537d6 8px,#402bb7 17px,#4230c4 26px,#402ab3 35px,#3f2ab2 50px,#fff 51px"></i><i style="top:570px;height:49px;--g:#fff 0,#eae8f9 1px,#978ee3 2px,#594bd6 3px,#4536d3 4px,#4435d2 7px,#412bb8 15px,#4230c4 24px,#402ab3 33px,#3f2ab2 48px,#fff 49px"></i><i style="top:573px;height:46px;--g:#fff 0,#c1bcf1 1px,#6e63de 2px,#4536d4 3px,#412cb8 12px,#4230c3 21px,#402ab2 30px,#3f2ab2 44px,#6a59c3 45px,#fff 46px"></i><i style="top:575px;height:44px;--g:#fff 0,#eae9fa 1px,#aca5ea 2px,#8278df 3px,#4333cb 4px,#412cb8 10px,#4230c4 18px,#402ab3 27px,#3f2ab2 42px,#7f71cc 43px,#fff 44px"></i><i style="top:579px;height:40px;--g:#fff 0,#d5d1f3 1px,#5746c8 3px,#412ebe 4px,#412cba 8px,#4230c4 14px,#402ab2 23px,#3f2ab2 38px,#7f71cc 39px,#fff 40px"></i><i style="top:582px;height:37px;--g:#fff 0,#eae8f8 1px,#6b5cca 3px,#412cba 4px,#4230c5 10px,#402ab2 20px,#3f2ab2 35px,#bfb8e5 36px,#fff 37px"></i><i style="top:585px;height:34px;--g:#fff 0,#eae8f7 1px,#958ada 2px,#5645c5 3px,#422fc0 4px,#4230c3 8px,#402ab3 16px,#3f2ab2 32px,#bfb8e5 33px,#fff 34px"></i><i style="top:588px;height:31px;--g:#fff 0,#c0baea 1px,#6c5ed0 2px,#4230c4 3px,#3f2ab1 15px,#3f2ab2 29px,#d4d0ee 30px,#fff 31px"></i><i style="top:590px;height:28px;--g:#fff 0,#eae8f8 1px,#6c5dcf 3px,#422fc0 4px,#402ab3 11px,#3f2ab2 27px,#fff 28px"></i><i style="top:593px;height:25px;--g:#fff 0,#eae8f8 1px,#c0b9e9 2px,#402cb8 4px,#402ab3 8px,#3f2ab2 24px,#fff 25px"></i><i style="top:597px;height:21px;--g:#fff 0,#8071cd 2px,#5542bc 3px,#402ab3 4px,#3f2ab2 7px,#3f2ab2 19px,#7f71cc 20px,#fff 21px"></i><i style="top:600px;height:18px;--g:#fff 0,#402ab3 3px,#3f2ab2 6px,#3f2ab2 16px,#7f71cc 17px,#fff 18px"></i><i style="top:603px;height:15px;--g:#fff 0,#bfb8e5 1px,#6a59c3 2px,#3f2ab2 3px,#3f2ab2 4px,#3f2ab2 13px,#9489d4 14px,#fff 15px"></i><i style="top:605px;height:13px;--g:#fff 0,#eae7f6 1px,#6a59c3 3px,#3f2ab2 4px,#3f2ab2 11px,#bfb8e5 12px,#fff 13px"></i><i style="top:608px;height:10px;--g:#fff 0,#eae7f6 1px,#9489d4 2px,#3f2ab2 4px,#3f2ab2 8px,#bfb8e5 9px,#fff 10px"></i><i style="top:611px;height:6px;--g:#fff 0,#d4d0ee 1px,#5442bb 3px,#3f2ab2 4px,#3f2ab2 5px,#fff 6px"></i><i style="top:614px;height:3px;--g:#fff 0,#d4d0ee 1px,#9489d4 2px,#fff 3px"></i></div>
<svg width="659" height="685" viewBox="0 0 659 685"><path d="M40.0 183.8L38.3 126.0M34.5 183.8L40.0 183.8M34.5 161.0L40.0 161.0M34.5 138.3L40.0 138.3M40.0 183.8L273.3 183.3M40.0 183.6L40.0 187.2M76.5 183.6L76.5 187.2M113.0 183.6L113.0 187.2M149.5 183.6L149.5 187.2M186.0 183.6L186.0 187.2M222.5 183.6L222.5 187.2M259.0 183.6L259.0 187.2M273.3 183.3L281.3 60.8M273.5 183.3L279.0 183.3M276.1 142.5L281.6 142.5M278.7 101.6L284.2 101.6M281.4 60.8L286.9 60.8M371.7 174.3L371.0 128.0M366.0 174.3L371.7 174.3M366.0 159.6L371.7 159.6M366.0 144.8L371.7 144.8M366.0 130.1L371.7 130.1M371.7 174.3L614.0 174.3M371.8 174.3L371.8 178.0M409.4 174.3L409.4 178.0M447.0 174.3L447.0 178.0M484.6 174.3L484.6 178.0M522.3 174.3L522.3 178.0M559.9 174.3L559.9 178.0M597.5 174.3L597.5 178.0M614.0 174.3L624.0 46.8M614.0 174.3L619.8 174.3M615.7 153.1L621.5 153.1M617.3 131.8L623.1 131.8M619.0 110.6L624.8 110.6M620.7 89.3L626.5 89.3M622.3 68.1L628.1 68.1M624.0 46.8L629.8 46.8M18.8 388.8L18.2 343.0M13.5 388.4L18.7 388.8M13.5 365.6L18.7 365.9M13.5 342.8L18.7 343.1M18.8 388.8L226.2 430.5M48.4 394.7L45.8 399.1M107.7 406.6L105.1 411.0M166.9 418.6L164.3 423.0M226.2 430.5L223.6 434.9M226.2 430.5L300.8 304.5M226.2 430.5L230.8 431.5M251.1 388.5L255.7 389.5M275.9 346.5L280.5 347.5M300.7 304.5L305.3 305.5M353.8 407.5L352.3 332.0M346.0 407.5L353.6 407.5M346.0 386.1L353.6 386.1M346.0 364.7L353.6 364.7M346.0 343.2L353.6 343.2M353.8 407.5L602.5 415.9M412.0 409.5L411.2 413.5M486.0 412.0L485.2 416.0M560.0 414.5L559.2 418.5M602.5 415.9L629.4 291.7M602.5 415.9L607.5 416.1M611.5 374.5L616.5 374.7M620.4 333.1L625.4 333.3M629.4 291.7L634.4 291.9M45.8 611.2L45.4 488.0M42.3 609.7L45.6 610.5M42.3 569.5L45.6 570.3M42.3 528.6L45.6 529.4M42.3 487.4L45.6 488.2M45.8 611.2L170.8 665.3M60.2 618.2L56.0 619.6M108.8 638.9L104.6 640.3M156.3 659.1L152.1 660.5M170.8 665.3L322.9 616.5M170.8 665.3L174.4 667.0M208.8 653.1L212.4 654.8M246.8 640.9L250.4 642.6M284.9 628.7L288.5 630.4M322.9 616.5L326.5 618.2M399.5 530.6L395.4 468.8M395.4 468.8L393.2 467.0M396.5 488.3L394.3 486.5M397.8 507.5L395.6 505.7M399.0 529.0L396.8 527.2M440.5 644.5L650.6 616.9M459.3 642.0L460.7 645.8M502.7 636.3L504.1 640.1M546.2 630.6L547.6 634.4M589.7 624.9L591.1 628.7M633.2 619.2L634.6 623.0M440.5 644.5L399.1 530.9M440.5 644.5L435.7 645.2M426.7 606.6L421.9 607.3M412.9 568.8L408.1 569.5M399.1 530.9L394.3 531.6" stroke="#3a3a3a" stroke-width="0.7" fill="none"/><defs><linearGradient id="cg" x1="0" y1="0" x2="0" y2="1"><stop offset="0.45" stop-color="#2f4a7c"/><stop offset="0.8" stop-color="#35807c"/></linearGradient></defs><ellipse cx="205.4" cy="537.4" rx="41.7" ry="40.2" fill="none" stroke="url(#cg)" stroke-width="1.6" stroke-dasharray="5.5 2.8"/><path d="M247.3 536.8L421 580.3" stroke="#4472c4" stroke-width="2.3" stroke-dasharray="8.5 3.5" fill="none"/><path d="M431.4 582.9L420.4 584.6L422.6 576.2Z" fill="#5f88cd"/><text x="31.5" y="188.0" text-anchor="end">0</text><text x="31.5" y="165.2" text-anchor="end">0.1</text><text x="31.5" y="142.5" text-anchor="end">0.2</text><text x="40.0" y="203.1" text-anchor="middle">0</text><text x="76.5" y="203.1" text-anchor="middle">-20</text><text x="113.0" y="203.1" text-anchor="middle">-40</text><text x="149.5" y="203.1" text-anchor="middle">-60</text><text x="186.0" y="203.1" text-anchor="middle">-80</text><text x="222.5" y="203.1" text-anchor="middle">-100</text><text x="259.0" y="203.1" text-anchor="middle">-120</text><text x="283.0" y="187.5">0</text><text x="285.6" y="146.7">1</text><text x="288.2" y="105.8">2</text><text x="290.9" y="65.0">3</text><text x="149.5" y="213.5" text-anchor="middle" class="s it" style="font-size:18px">x</text><text x="297.0" y="132.5" text-anchor="middle" class="s it" style="font-size:18px">t</text><text x="20.3" y="124.1" text-anchor="middle" class="s" style="font-size:17px">|<tspan class="it">u</tspan>|</text><text x="1.5" y="32.1" class="s" style="font-size:16.5px">(a)</text><text x="362.3" y="178.4" text-anchor="end">0</text><text x="362.3" y="163.7" text-anchor="end">0.5</text><text x="362.3" y="148.9" text-anchor="end">1</text><text x="362.3" y="134.2" text-anchor="end">1.5</text><text x="371.8" y="192.6" text-anchor="middle">0</text><text x="409.4" y="192.6" text-anchor="middle">-20</text><text x="447.0" y="192.6" text-anchor="middle">-40</text><text x="484.6" y="192.6" text-anchor="middle">-60</text><text x="522.3" y="192.6" text-anchor="middle">-80</text><text x="559.9" y="192.6" text-anchor="middle">-100</text><text x="597.5" y="192.6" text-anchor="middle">-120</text><text x="623.6" y="178.7">0</text><text x="625.3" y="157.5">0.5</text><text x="626.9" y="136.2">1</text><text x="628.6" y="115.0">1.5</text><text x="630.3" y="93.7">2</text><text x="631.9" y="72.5">2.5</text><text x="633.6" y="51.2">3</text><text x="490.8" y="204.0" text-anchor="middle" class="s it" style="font-size:18px">x</text><text x="644.5" y="128.0" text-anchor="middle" class="s it" style="font-size:18px">t</text><text x="354.3" y="114.6" text-anchor="middle" class="s" style="font-size:17px">|<tspan class="it">u</tspan>|</text><text x="331.0" y="19.6" class="s" style="font-size:16.5px">(b)</text><text x="9.8" y="392.4" text-anchor="end">0</text><text x="9.8" y="369.5" text-anchor="end">1</text><text x="9.8" y="346.7" text-anchor="end">2</text><text x="41.3" y="414.9" text-anchor="middle">0</text><text x="95.0" y="426.3" text-anchor="middle">-10</text><text x="153.8" y="438.6" text-anchor="middle">-20</text><text x="212.5" y="449.9" text-anchor="middle">-30</text><text x="238.0" y="443.3" text-anchor="middle">0</text><text x="263.0" y="401.3" text-anchor="middle">1</text><text x="287.5" y="359.9" text-anchor="middle">2</text><text x="312.5" y="317.4" text-anchor="middle">3</text><text x="126.3" y="438.3" text-anchor="middle" class="s it" style="font-size:18px">x</text><text x="273.8" y="382.0" text-anchor="middle" class="s it" style="font-size:18px">t</text><text x="14.5" y="323.6" text-anchor="middle" class="s" style="font-size:17px">|<tspan class="it">u</tspan>|</text><text x="13.5" y="241.6" class="s" style="font-size:16.5px">(c)</text><text x="342.0" y="411.5" text-anchor="end">0</text><text x="342.0" y="390.1" text-anchor="end">1</text><text x="342.0" y="368.7" text-anchor="end">2</text><text x="342.0" y="347.2" text-anchor="end">3</text><text x="410.0" y="430.8" text-anchor="middle">0</text><text x="485.0" y="432.6" text-anchor="middle">-50</text><text x="558.5" y="435.2" text-anchor="middle">-100</text><text x="615.0" y="420.4" text-anchor="middle">0</text><text x="624.0" y="379.0" text-anchor="middle">1</text><text x="632.8" y="337.6" text-anchor="middle">2</text><text x="642.3" y="296.3" text-anchor="middle">3</text><text x="456.3" y="430.5" text-anchor="middle" class="s it" style="font-size:18px">x</text><text x="636.5" y="358.0" text-anchor="middle" class="s it" style="font-size:18px">t</text><text x="339.8" y="314.6" text-anchor="middle" class="s" style="font-size:17px">|<tspan class="it">u</tspan>|</text><text x="338.5" y="231.6" class="s" style="font-size:16.5px">(d)</text><text x="38.3" y="613.5" text-anchor="end">0</text><text x="38.3" y="573.3" text-anchor="end">5</text><text x="38.3" y="532.4" text-anchor="end">10</text><text x="38.3" y="491.2" text-anchor="end">15</text><text x="44.6" y="631.2" text-anchor="middle">100</text><text x="97.5" y="651.4" text-anchor="middle">0</text><text x="136.8" y="672.5" text-anchor="middle">-100</text><text x="179.0" y="678.3" text-anchor="middle">0</text><text x="217.3" y="666.6" text-anchor="middle">1</text><text x="256.6" y="654.6" text-anchor="middle">2</text><text x="294.8" y="641.9" text-anchor="middle">3</text><text x="333.0" y="629.1" text-anchor="middle">4</text><text x="105.3" y="680.2" text-anchor="middle" class="s it" style="font-size:18px">x</text><text x="273.0" y="669.8" text-anchor="middle" class="s it" style="font-size:18px">t</text><text x="19.8" y="514.6" text-anchor="middle" class="s" style="font-size:17px">|<tspan class="it">u</tspan>|</text><text x="12.5" y="463.4" class="s" style="font-size:16.5px">(e)</text><text x="394.0" y="470.6" text-anchor="end">15</text><text x="394.0" y="488.9" text-anchor="end">10</text><text x="394.0" y="507.4" text-anchor="end">5</text><text x="394.0" y="526.4" text-anchor="end">0</text><text x="469.2" y="660.9" text-anchor="middle">100</text><text x="510.0" y="655.8" text-anchor="middle">50</text><text x="551.1" y="649.9" text-anchor="middle">0</text><text x="600.4" y="644.2" text-anchor="middle">-50</text><text x="645.7" y="638.6" text-anchor="middle">-100</text><text x="425.0" y="657.3" text-anchor="middle">3.4</text><text x="410.8" y="618.4" text-anchor="middle">3.6</text><text x="397.0" y="580.1" text-anchor="middle">3.8</text><text x="386.8" y="541.3" text-anchor="middle">4</text><text x="556.3" y="668.0" text-anchor="middle" class="s it" style="font-size:18px">x</text><text x="407.2" y="606.0" text-anchor="middle" class="s it" style="font-size:18px">t</text><text x="374.2" y="479.3" text-anchor="middle" class="s" style="font-size:17px">|<tspan class="it">u</tspan>|</text></svg>
</div></body></html>
